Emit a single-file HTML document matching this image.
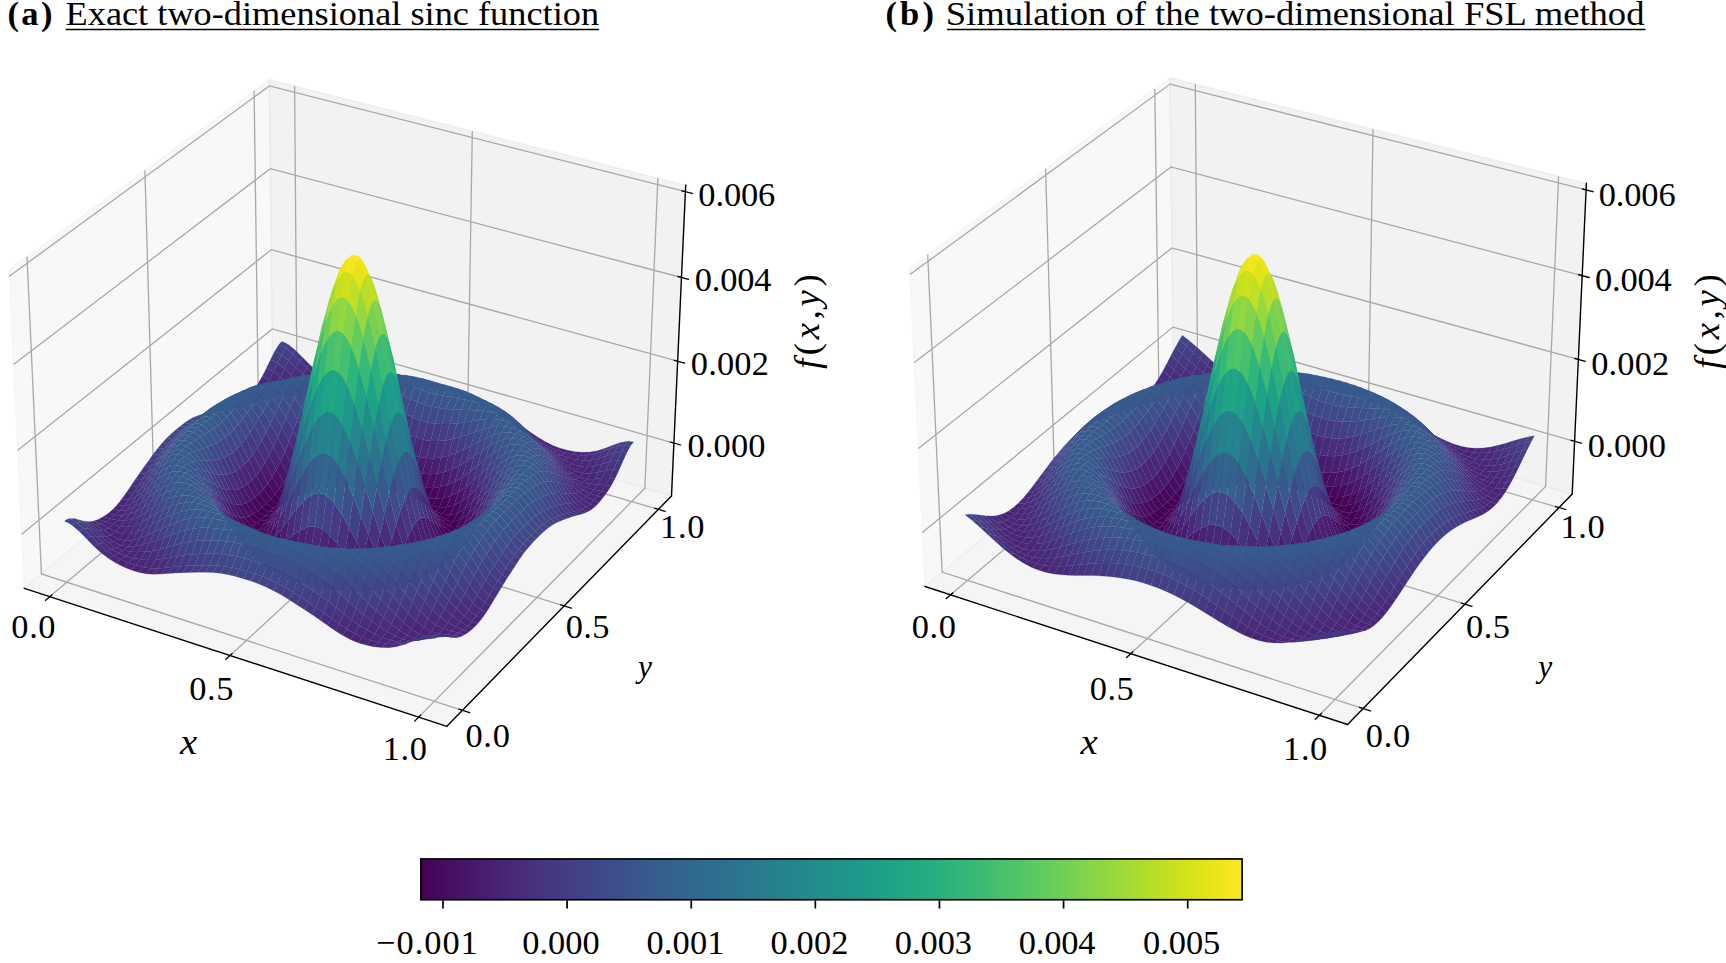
<!DOCTYPE html>
<html><head><meta charset="utf-8"><title>Two-dimensional sinc function</title>
<style>
html,body{margin:0;padding:0;background:#fff;overflow:hidden;}
svg{display:block;}
text{font-family:"Liberation Serif",serif;fill:#000;}
</style></head><body>
<svg width="1726" height="963" viewBox="0 0 1726 963">
<rect width="1726" height="963" fill="#fff"/>
<g id="plotA">
<g id="box">
<polygon points="24.3,588.3 272.8,380 269.3,79.6 9,269.6" fill="#f2f2f2" fill-opacity="0.50" stroke="#f2f2f2" stroke-opacity="0.50" stroke-width="1.4" stroke-linejoin="round"/>
<polygon points="272.8,380 671.5,495.9 685.7,185.2 269.3,79.6" fill="#e6e6e6" fill-opacity="0.50" stroke="#e6e6e6" stroke-opacity="0.50" stroke-width="1.4" stroke-linejoin="round"/>
<polygon points="24.3,588.3 446.9,726.3 671.5,495.9 272.8,380" fill="#ececec" fill-opacity="0.50" stroke="#ececec" stroke-opacity="0.50" stroke-width="1.4" stroke-linejoin="round"/>
<path d="M49.9 596.6L297 387L294.6 86M230.1 655.5L467.3 436.5L472.3 131.1M418.7 717.1L644.9 488.2L657.9 178.1M27 256.5L41.4 573.9L462.5 710.4M144.9 170.4L153.8 479.7L564.2 605.9M254.1 90.8L258.2 392.2L658.3 509.4M673.9 443.1L272.2 328.9L21.7 534.2M677.6 361.2L271.3 249.7L17.7 450.3M681.5 277.5L270.3 168.7L13.5 364.4M685.4 191.7L269.4 85.9L9.3 276.3" fill="none" stroke="#a8a8a8" stroke-width="1.3"/>
</g>
<g fill="currentColor" stroke="currentColor" stroke-width="0.2" stroke-linejoin="round"><path d="M278.8 344.7l3.3 1.3 3.6 2.1 3-3.3-3.7-2.1-3.3-1.3z" color="#414487"/><path d="M285.7 348.1l7 5.7 2.9-3.3-6.9-5.7z" color="#424086"/><path d="M292.7 353.8l7 7 2.9-3.3-7-7z" color="#443b84"/><path d="M299.7 360.8l7 7 2.9-3.2-7-7.1z" color="#453581"/><path d="M274.6 351.4l3.4 1.3 3.6 2.1 4.1-6.7-3.6-2.1-3.3-1.3z" color="#424186"/><path d="M306.7 367.8l6.9 6.1 3-3-7-6.3z" color="#472f7d"/><path d="M313.6 373.9l7 5 2.9-2.9-6.9-5.1z" color="#472c7a"/><path d="M281.6 354.8l7 5.7 4.1-6.7-7-5.7z" color="#433e85"/><path d="M288.6 360.5l7 6.9 4.1-6.6-7-7z" color="#443983"/><path d="M295.6 367.4l7 6.7 4.1-6.3-7-7z" color="#46337f"/><path d="M270.5 359.7l3.3 1.2 3.7 2.1 4.1-8.2-3.6-2.1-3.4-1.3z" color="#433d84"/><path d="M320.6 378.9l7 3.8 2.9-2.7-7-4z" color="#482878"/><path d="M302.6 374.1l7 5.6 4-5.8-6.9-6.1z" color="#472e7c"/><path d="M277.5 363l7 5.7 4.1-8.2-7-5.7z" color="#443983"/><path d="M309.6 379.7l6.9 4.1 4.1-4.9-7-5z" color="#472a7a"/><path d="M327.6 382.7l7 3 2.9-2.4-7-3.3z" color="#482677"/><path d="M284.5 368.7l7 6.6 4.1-7.9-7-6.9z" color="#463480"/><path d="M266.4 368.3l7 3.3 4.1-8.6-3.7-2.1-3.3-1.2z" color="#453781"/><path d="M291.5 375.3l7 6.1 4.1-7.3-7-6.7z" color="#472e7c"/><path d="M316.5 383.8l7 2.8 4.1-3.9-7-3.8z" color="#482878"/><path d="M298.5 381.4l7 4.6 4.1-6.3-7-5.6z" color="#472a7a"/><path d="M273.4 371.6l7 5.3 4.1-8.2-7-5.7z" color="#46337f"/><path d="M334.6 385.7l7 2.5 2.9-2.2-7-2.7z" color="#482576"/><path d="M262.3 376.3l7 3.1 4.1-7.8-7-3.3z" color="#46307e"/><path d="M280.4 376.9l7 6 4.1-7.6-7-6.6z" color="#472f7d"/><path d="M305.5 386l6.9 2.8 4.1-5-6.9-4.1z" color="#482878"/><path d="M287.4 382.9l7 5.2 4.1-6.7-7-6.1z" color="#472a7a"/><path d="M323.5 386.6l7 2.1 4.1-3-7-3z" color="#482677"/><path d="M269.3 379.4l6.9 4.7 4.2-7.2-7-5.3z" color="#472e7c"/><path d="M341.6 388.2l7 1.7 2.9-1.9-7-2z" color="#482576"/><path d="M294.4 388.1l6.9 3.3 4.2-5.4-7-4.6z" color="#482677"/><path d="M258.2 383.2l6.9 2.8 4.2-6.6-7-3.1z" color="#472c7a"/><path d="M276.2 384.1l7 5.1 4.2-6.3-7-6z" color="#472a7a"/><path d="M312.4 388.8l7 1.4 4.1-3.6-7-2.8zM330.5 388.7l7 1.4 4.1-1.9-7-2.5zM283.2 389.2l7 3.9 4.2-5-7-5.2z" color="#482677"/><path d="M301.3 391.4l7 1.3 4.1-3.9-6.9-2.8z" color="#482576"/><path d="M265.1 386l7 3.8 4.1-5.7-6.9-4.7z" color="#472a7a"/><path d="M348.6 389.9l7.1 .9 2.8-1.7-7-1.1z" color="#482576"/><path d="M319.4 390.2l7 .5 4.1-2-7-2.1z" color="#482677"/><path d="M290.2 393.1l7 1.8 4.1-3.5-6.9-3.3z" color="#482475"/><path d="M254 389l6.9 2.4 4.2-5.4-6.9-2.8z" color="#482979"/><path d="M337.5 390.1l7.1 .8 4-1-7-1.7zM272.1 389.8l7 3.7 4.1-4.3-7-5.1zM308.3 392.7l7-.3 4.1-2.2-7-1.4z" color="#482677"/><path d="M355.7 390.8l7 .1 2.9-1.5-7.1-.3z" color="#482878"/><path d="M279.1 393.5l7 2.4 4.1-2.8-7-3.9z" color="#482576"/><path d="M260.9 391.4l7 2.7 4.2-4.3-7-3.8zM326.4 390.7l7-.1 4.1-.5-7-1.4z" color="#482878"/><path d="M297.2 394.9l7-.3 4.1-1.9-7-1.3z" color="#482576"/><path d="M344.6 390.9l7 0 2.1 .3 2-.4-7.1-.9z" color="#482878"/><path d="M249.8 394l7 1.9 4.1-4.5-6.9-2.4zM267.9 394.1l7 2.2 4.2-2.8-7-3.7z" color="#482677"/><path d="M286.1 395.9l6.9 .3 4.2-1.3-7-1.8z" color="#482576"/><path d="M315.3 392.4l7-1.2 4.1-.5-7-.5z" color="#482979"/><path d="M362.7 390.9l7.1-.6 2.8-1.3-7 .4zM333.4 390.6l7.1-.6 4.1 .9-7.1-.8z" color="#472a7a"/><path d="M304.2 394.6l7-1.8 4.1-.4-7 .3z" color="#482878"/><path d="M256.8 395.9l6.9 1.6 4.2-3.4-7-2.7z" color="#482677"/><path d="M351.6 390.9l7-.7 2.2 .7 1.9 0-7-.1-2 .4z" color="#472a7a"/><path d="M274.9 396.3l7 .8 4.2-1.2-7-2.4zM245.6 398.3l6.9 1.5 4.3-3.9-7-1.9z" color="#482576"/><path d="M293 396.2l7-1.7 4.2 .1-7 .3z" color="#482677"/><path d="M322.3 391.2l7-1.6 4.1 1-7 .1z" color="#472c7a"/><path d="M263.7 397.5l7 .6 4.2-1.8-7-2.2z" color="#482677"/><path d="M369.8 390.3l7-.8 2.9-1.2-7.1 .7zM340.5 390l7-1.2 4.1 2.1-7 0z" color="#472d7b"/><path d="M281.9 397.1l6.9-1.3 4.2 .4-6.9-.3z" color="#482878"/><path d="M358.6 390.2l7.1-1.3 2.1 1.2 2 .2-7.1 .6-1.9 0z" color="#472e7c"/><path d="M311.2 392.8l7-2.7 4.1 1.1-7 1.2z" color="#472c7a"/><path d="M252.5 399.8l7 .4 4.2-2.7-6.9-1.6z" color="#482677"/><path d="M270.7 398.1l6.9-1 4.3 0-7-.8z" color="#482878"/><path d="M300 394.5l7-3.1 4.2 1.4-7 1.8z" color="#472c7a"/><path d="M241.4 402l6.9 1.1 4.2-3.3-6.9-1.5z" color="#482576"/><path d="M329.3 389.6l7.1-2 4.1 2.4-7.1 .6z" color="#472f7d"/><path d="M376.8 389.5l7.1-.9 2.9-1-7.1 .7zM347.5 388.8l7.1-1.8 4 3.2-7 .7z" color="#46307e"/><path d="M259.5 400.2l6.9-1 4.3-1.1-7-.6z" color="#482878"/><path d="M288.8 395.8l7-3 4.2 1.7-7 1.7z" color="#472c7a"/><path d="M365.7 388.9l7.1-1.4 2.1 1.5 1.9 .5-7 .8-2-.2zM318.2 390.1l7-2.9 4.1 2.4-7 1.6z" color="#46327e"/><path d="M248.3 403.1l6.9-.7 4.3-2.2-7-.4z" color="#482677"/><path d="M277.6 397.1l7-2.6 4.2 1.3-6.9 1.3z" color="#472c7a"/><path d="M336.4 387.6l7-2.4 4.1 3.6-7 1.2zM383.9 388.6l7.1-.6 1.6-.2 1.3-.8-7.1 .6z" color="#463480"/><path d="M307 391.4l7-3.8 4.2 2.5-7 2.7z" color="#46327e"/><path d="M237.1 404.9l3.3 .6 3.6 .1 4.3-2.5-6.9-1.1z" color="#482576"/><path d="M354.6 387l7.1-2.2 4 4.1-7.1 1.3z" color="#463480"/><path d="M266.4 399.2l7-2.5 4.2 .4-6.9 1z" color="#472c7a"/><path d="M372.8 387.5l7.1-1.2 2.1 1.7 1.9 .6-7.1 .9-1.9-.5z" color="#453581"/><path d="M295.8 392.8l7-4.1 4.2 2.7-7 3.1z" color="#46327e"/><path d="M325.2 387.2l7-3 4.2 3.4-7.1 2z" color="#453781"/><path d="M255.2 402.4l7-2.5 4.2-.7-6.9 1z" color="#472a7a"/><path d="M391 388l7.2-.5 1.5-.2 1.3-.8-7.1 .5-1.3 .8z" color="#453781"/><path d="M244 405.6l7-1.8 4.2-1.4-6.9 .7z" color="#482878"/><path d="M343.4 385.2l7.1-2.7 4.1 4.5-7.1 1.8z" color="#443983"/><path d="M284.6 394.5l7-4 4.2 2.3-7 3z" color="#46327e"/><path d="M361.7 384.8l7.1-2.1 4 4.8-7.1 1.4z" color="#443983"/><path d="M314 387.6l7-3.7 4.2 3.3-7 2.9z" color="#453882"/><path d="M232.8 406.9l3.3 .6 3.7-.3 4.2-1.6-3.6-.1-3.3-.6z" color="#482677"/><path d="M379.9 386.3l7.1-.9 2.1 1.8 1.9 .8-7.1 .6-1.9-.6z" color="#453882"/><path d="M273.4 396.7l6.9-3.8 4.3 1.6-7 2.6z" color="#46327e"/><path d="M332.2 384.2l7.1-3.1 4.1 4.1-7 2.4z" color="#443b84"/><path d="M262.2 399.9l6.9-3.8 4.3 .6-7 2.5z" color="#46307e"/><path d="M398.2 387.5l7.1-.4 1.5-.1 1.4-.8-7.2 .3-1.3 .8z" color="#443a83"/><path d="M302.8 388.7l7-4.3 4.2 3.2-7 3.8z" color="#443983"/><path d="M251 403.8l6.9-3.7 4.3-.2-7 2.5z" color="#472e7c"/><path d="M350.5 382.5l7.1-2.8 4.1 5.1-7.1 2.2zM368.8 382.7l7.1-1.6 4 5.2-7.1 1.2z" color="#433e85"/><path d="M387 385.4l7.2-.6 2.1 1.9 1.9 .8-7.2 .5-1.9-.8z" color="#443b84"/><path d="M239.8 407.2l3.3-.9 3.6-1.8 4.3-.7-7 1.8z" color="#472a7a"/><path d="M291.6 390.5l7-4.7 4.2 2.9-7 4.1z" color="#443983"/><path d="M321 383.9l7.1-3.4 4.1 3.7-7 3z" color="#433e85"/><path d="M228.5 408.1l3.3 .6 3.6-.5 4.4-1-3.7 .3-3.3-.6z" color="#472a7a"/><path d="M405.3 387.1l7.2-.2 1.5-.2 1.3-.8-7.1 .3-1.4 .8z" color="#433d84"/><path d="M280.3 392.9l7-4.8 4.3 2.4-7 4z" color="#453882"/><path d="M339.3 381.1l7.1-3.1 4.1 4.5-7.1 2.7z" color="#424186"/><path d="M269.1 396.1l7-4.9 4.2 1.7-6.9 3.8z" color="#453781"/><path d="M309.8 384.4l7-4 4.2 3.5-7 3.7z" color="#424086"/><path d="M394.2 384.8l7.1-.4 2.1 1.9 1.9 .8-7.1 .4-1.9-.8z" color="#433e85"/><path d="M357.6 379.7l7.1-2.4 4.1 5.4-7.1 2.1z" color="#414287"/><path d="M375.9 381.1l7.1-1 4 5.3-7.1 .9z" color="#424186"/><path d="M257.9 400.1l6.9-5 4.3 1-6.9 3.8z" color="#463480"/><path d="M246.7 404.5l6.9-4.8 4.3 .4-6.9 3.7z" color="#46327e"/><path d="M412.5 386.9l7.2 0 1.5-.2 1.3-.8-7.2 0-1.3 .8z" color="#423f85"/><path d="M298.6 385.8l7-4.6 4.2 3.2-7 4.3z" color="#424086"/><path d="M328.1 380.5l7-3.2 4.2 3.8-7.1 3.1z" color="#404588"/><path d="M235.4 408.2l3.3-1.3 3.7-2.2 4.3-.2-3.6 1.8-3.3 .9z" color="#472e7c"/><path d="M224.1 409l3.4 .5 3.6-.7 4.3-.6-3.6 .5-3.3-.6z" color="#472d7b"/><path d="M287.3 388.1l7-5 4.3 2.7-7 4.7z" color="#424086"/><path d="M401.3 384.4l7.2-.2 2.1 1.9 1.9 .8-7.2 .2-1.9-.8z" color="#424186"/><path d="M346.4 378l7.1-2.8 4.1 4.5-7.1 2.8z" color="#3f4788"/><path d="M383 380.1l7.2-.6 4 5.3-7.2 .6z" color="#414487"/><path d="M364.7 377.3l7.1-1.7 4.1 5.5-7.1 1.6z" color="#3f4788"/><path d="M316.8 380.4l7.1-3.3 4.2 3.4-7.1 3.4z" color="#404688"/><path d="M276.1 391.2l6.9-5.2 4.3 2.1-7 4.8z" color="#423f85"/><path d="M419.7 386.9l7.1 .4 1.6-.2 1.3-.8-7.2-.4-1.3 .8z" color="#424186"/><path d="M264.8 395.1l7-5.5 4.3 1.6-7 4.9z" color="#433d84"/><path d="M335.1 377.3l7.1-2.8 4.2 3.5-7.1 3.1z" color="#3e4989"/><path d="M253.6 399.7l6.9-5.9 4.3 1.3-6.9 5z" color="#443983"/><path d="M305.6 381.2l7-3.8 4.2 3-7 4z" color="#3f4788"/><path d="M408.5 384.2l7.2 .1 2.1 1.8 1.9 .8-7.2 0-1.9-.8z" color="#414487"/><path d="M242.4 404.7l6.9-5.8 4.3 .8-6.9 4.8z" color="#453581"/><path d="M390.2 379.5l7.2-.3 3.9 5.2-7.1 .4z" color="#3f4788"/><path d="M231.1 408.8l3.3-1.6 3.6-2.6 4.4 .1-3.7 2.2-3.3 1.3z" color="#46327e"/><path d="M426.8 387.3l7.2 1 1.6-.2 1.3-.8-7.2-1-1.3 .8z" color="#414287"/><path d="M353.5 375.2l7.1-2.2 4.1 4.3-7.1 2.4z" color="#3e4c8a"/><path d="M371.8 375.6l7.2-.9 4 5.4-7.1 1z" color="#3e4a89"/><path d="M294.3 383.1l7-4.3 4.3 2.4-7 4.6z" color="#3f4889"/><path d="M219.8 409.8l3.3 .4 3.6-.8 4.4-.6-3.6 .7-3.4-.5z" color="#46307e"/><path d="M323.9 377.1l7.1-2.6 4.1 2.8-7 3.2z" color="#3e4c8a"/><path d="M415.7 384.3l7.2 .5 2.1 1.8 1.8 .7-7.1-.4-1.9-.8z" color="#404688"/><path d="M283 386l7.1-4.8 4.2 1.9-7 5z" color="#3f4788"/><path d="M434 388.3l7.3 1.5 1.5-.2 1.3-.8-7.2-1.5-1.3 .8z" color="#414487"/><path d="M397.4 379.2l7.1 0 4 5-7.2 .2z" color="#3e4989"/><path d="M342.2 374.5l7.2-2.1 4.1 2.8-7.1 2.8z" color="#3c4f8a"/><path d="M271.8 389.6l7-5.2 4.2 1.6-6.9 5.2z" color="#404588"/><path d="M312.6 377.4l7.1-2.7 4.2 2.4-7.1 3.3zM379 374.7l7.2-.3 4 5.1-7.2 .6z" color="#3d4e8a"/><path d="M360.6 373l7.2-1.3 4 3.9-7.1 1.7z" color="#3c508b"/><path d="M260.5 393.8l7-5.8 4.3 1.6-7 5.5z" color="#414287"/><path d="M249.3 398.9l6.9-6.5 4.3 1.4-6.9 5.9z" color="#423f85"/><path d="M238 404.6l6.9-6.5 4.4 .8-6.9 5.8z" color="#443a83"/><path d="M422.9 384.8l7.2 1.1 2.1 1.7 1.8 .7-7.2-1-1.8-.7z" color="#3f4788"/><path d="M226.7 409.4l3.3-1.8 3.7-2.9 4.3-.1-3.6 2.6-3.3 1.6z" color="#453581"/><path d="M441.3 389.8l7.2 1.8 1.5-.2 1.3-.8-7.2-1.8-1.3 .8z" color="#414487"/><path d="M331 374.5l7.1-1.8 4.1 1.8-7.1 2.8z" color="#3b518b"/><path d="M301.3 378.8l7.1-3.3 4.2 1.9-7 3.8z" color="#3d4e8a"/><path d="M404.5 379.2l7.2 .2 4 4.9-7.2-.1z" color="#3e4c8a"/><path d="M215.4 410.7l3.3 .4 3.7-.9 4.3-.8-3.6 .8-3.3-.4z" color="#463480"/><path d="M349.4 372.4l7.1-1.3 2 .5 2.1 1.4-7.1 2.2z" color="#3a538b"/><path d="M386.2 374.4l7.1 .2 4.1 4.6-7.2 .3z" color="#3c508b"/><path d="M290.1 381.2l7-3.8 4.2 1.4-7 4.3z" color="#3d4e8a"/><path d="M367.8 371.7l7.1-.2 2 1.1 2.1 2.1-7.2 .9z" color="#3a538b"/><path d="M448.5 391.6l7.2 2.1 1.5-.2 1.3-.8-7.2-2.1-1.3 .8z" color="#404588"/><path d="M430.1 385.9l7.2 1.6 2.1 1.6 1.9 .7-7.3-1.5-1.8-.7z" color="#3f4889"/><path d="M319.7 374.7l7.1-1.6 4.2 1.4-7.1 2.6z" color="#3b528b"/><path d="M278.8 384.4l7-4.3 4.3 1.1-7.1 4.8z" color="#3d4d8a"/><path d="M411.7 379.4l7.3 .8 3.9 4.6-7.2-.5z" color="#3d4e8a"/><path d="M338.1 372.7l7.1-.9 4.2 .6-7.2 2.1z" color="#39558c"/><path d="M267.5 388l7-4.8 4.3 1.2-7 5.2z" color="#3e4a89"/><path d="M308.4 375.5l7.1-1.7 4.2 .9-7.1 2.7z" color="#3a538b"/><path d="M455.7 393.7l7.2 2.4 1.5-.2 1.3-.8-7.2-2.4-1.3 .8z" color="#414487"/><path d="M437.3 387.5l7.3 1.9 2 1.6 1.9 .6-7.2-1.8-1.9-.7zM256.2 392.4l6.9-5.8 4.4 1.4-7 5.8z" color="#3f4889"/><path d="M393.3 374.6l7.2 .4 4 4.2-7.1 0z" color="#3b528b"/><path d="M222.4 410.2l3.3-1.9 3.6-3 4.4-.6-3.7 2.9-3.3 1.8z" color="#443983"/><path d="M233.7 404.7l6.9-6.9 4.3 .3-6.9 6.5z" color="#423f85"/><path d="M244.9 398.1l6.9-6.8 4.4 1.1-6.9 6.5z" color="#414487"/><path d="M356.5 371.1l7.2-.1 1.9-.1 2.2 .8-7.2 1.3-2.1-1.4zM374.9 371.5l7.2 .6 1.9 .6 2.2 1.7-7.2 .3-2.1-2.1z" color="#39568c"/><path d="M211 411.8l3.3 .4 3.7-1 4.4-1-3.7 .9-3.3-.4z" color="#453781"/><path d="M326.8 373.1l7.1-.3 4.2-.1-7.1 1.8z" color="#39568c"/><path d="M297.1 377.4l7.1-2.2 4.2 .3-7.1 3.3z" color="#3a538b"/><path d="M419 380.2l7.2 1.3 3.9 4.4-7.2-1.1z" color="#3c4f8a"/><path d="M462.9 396.1l7.3 2.7 1.5-.2 1.3-.8-7.3-2.7-1.3 .8z" color="#414487"/><path d="M444.6 389.4l7.2 2 2 1.7 1.9 .6-7.2-2.1-1.9-.6z" color="#3f4889"/><path d="M345.2 371.8l7.2 .3 2.1-.9 2-.1-7.1 1.3z" color="#38598c"/><path d="M285.8 380.1l7-2.7 4.3 0-7 3.8z" color="#3a538b"/><path d="M400.5 375l7.3 .7 3.9 3.7-7.2-.2z" color="#3a548c"/><path d="M315.5 373.8l7.1-.1 4.2-.6-7.1 1.6z" color="#38588c"/><path d="M363.7 371l7.1 1 2-.7 2.1 .2-7.1 .2-2.2-.8z" color="#375a8c"/><path d="M382.1 372.1l7.2 1 1.9 .2 2.1 1.3-7.1-.2-2.2-1.7z" color="#38588c"/><path d="M470.2 398.8l7.2 3.3 1.5-.2 1.3-.8-7.2-3.3-1.3 .8z" color="#414287"/><path d="M274.5 383.2l7-3.3 4.3 .2-7 4.3z" color="#3b518b"/><path d="M426.2 381.5l7.2 1.7 3.9 4.3-7.2-1.6z" color="#3c4f8a"/><path d="M333.9 372.8l7.2 .9 4.1-1.9-7.1 .9z" color="#38598c"/><path d="M451.8 391.4l7.3 2.3 2 1.7 1.8 .7-7.2-2.4-1.9-.6z" color="#3f4889"/><path d="M263.1 386.6l7.1-4 4.3 .6-7 4.8z" color="#3c508b"/><path d="M304.2 375.2l7.1-.3 4.2-1.1-7.1 1.7z" color="#38588c"/><path d="M218 411.2l3.3-2 3.6-3.1 4.4-.8-3.6 3-3.3 1.9z" color="#433d84"/><path d="M229.3 405.3l6.9-7.1 4.4-.4-6.9 6.9z" color="#414287"/><path d="M352.4 372.1l7.1 1.6 2.2-1.9 2-.8-7.2 .1-2 .1z" color="#375b8d"/><path d="M477.4 402.1l7.3 3.8 1.4-.1 1.3-.8-7.2-3.9-1.3 .8z" color="#424186"/><path d="M251.8 391.3l7-5.4 4.3 .7-6.9 5.8z" color="#3d4d8a"/><path d="M407.8 375.7l7.2 1.2 4 3.3-7.3-.8z" color="#39558c"/><path d="M240.6 397.8l6.9-6.8 4.3 .3-6.9 6.8z" color="#3f4889"/><path d="M206.6 413l3.4 .3 3.6-1 4.4-1.1-3.7 1-3.3-.4z" color="#443a83"/><path d="M370.8 372l7.2 1.8 2-1.3 2.1-.4-7.2-.6-2.1-.2z" color="#375b8d"/><path d="M322.6 373.7l7.1 1.4 4.2-2.3-7.1 .3z" color="#375a8c"/><path d="M389.3 373.1l7.2 1.3 1.9-.3 2.1 .9-7.2-.4-2.1-1.3z" color="#38598c"/><path d="M433.4 383.2l7.3 2 3.9 4.2-7.3-1.9z" color="#3c508b"/><path d="M292.8 377.4l7.1-.8 4.3-1.4-7.1 2.2z" color="#38588c"/><path d="M459.1 393.7l7.2 2.7 2 1.7 1.9 .7-7.3-2.7-1.8-.7z" color="#3f4889"/><path d="M484.7 405.9l7.2 4.3 1.5-.2 1.3-.8-7.3-4.2-1.3 .8z" color="#423f85"/><path d="M341.1 373.7l7.1 2.3 4.2-3.9-7.2-.3z" color="#375b8d"/><path d="M281.5 379.9l7.1-1.2 4.2-1.3-7 2.7z" color="#39568c"/><path d="M359.5 373.7l7.2 2.6 2.2-2.7 1.9-1.6-7.1-1-2 .8z" color="#375b8d"/><path d="M311.3 374.9l7.1 1.6 4.2-2.8-7.1 .1z" color="#375a8c"/><path d="M415 376.9l7.2 1.7 1.9 1 2.1 1.9-7.2-1.3z" color="#39568c"/><path d="M491.9 410.2l7.3 4.4 1.4-.2 1.3-.8-7.2-4.4-1.3 .8z" color="#433d84"/><path d="M466.3 396.4l7.3 3.2 2 1.8 1.8 .7-7.2-3.3-1.9-.7z" color="#3f4788"/><path d="M378 373.8l7.2 2.3 2.2-2.2 1.9-.8-7.2-1-2.1 .4z" color="#375b8d"/><path d="M440.7 385.2l7.2 2.1 3.9 4.1-7.2-2z" color="#3c508b"/><path d="M329.7 375.1l7.2 3 4.2-4.4-7.2-.9z" color="#375b8d"/><path d="M396.5 374.4l7.2 1.5 1.9-.7 2.2 .5-7.3-.7-2.1-.9z" color="#375a8c"/><path d="M270.2 382.6l7-1.9 4.3-.8-7 3.3z" color="#39558c"/><path d="M348.2 376l7.2 3.5 4.1-5.8-7.1-1.6z" color="#375b8d"/><path d="M299.9 376.6l7.2 1.3 4.2-3-7.1 .3z" color="#375a8c"/><path d="M499.2 414.6l7.2 4.6 1.5-.2 1.3-.8-7.3-4.6-1.3 .8z" color="#443983"/><path d="M213.6 412.3l3.3-2 3.6-3 4.4-1.2-3.6 3.1-3.3 2z" color="#423f85"/><path d="M366.7 376.3l7.2 3.5 4.1-6-7.2-1.8-1.9 1.6z" color="#375b8d"/><path d="M473.6 399.6l7.2 3.7 2 1.9 1.9 .7-7.3-3.8-1.8-.7z" color="#404588"/><path d="M258.8 385.9l3.7-1.9 3.3-1.1 4.4-.3-7.1 4z" color="#3a548c"/><path d="M224.9 406.1l6.9-7 4.4-.9-6.9 7.1z" color="#404688"/><path d="M318.4 376.5l7.2 3.5 4.1-4.9-7.1-1.4z" color="#375b8d"/><path d="M422.2 378.6l7.3 2 1.9 .9 2 1.7-7.2-1.7-2.1-1.9z" color="#39568c"/><path d="M202.2 414.2l3.3 .4 3.7-1 4.4-1.3-3.6 1-3.4-.3z" color="#433d84"/><path d="M336.9 378.1l7.2 4.4 4.1-6.5-7.1-2.3z" color="#375a8c"/><path d="M447.9 387.3l7.3 2.2 3.9 4.2-7.3-2.3z" color="#3c508b"/><path d="M385.2 376.1l7.2 2.5 2.2-2.9 1.9-1.3-7.2-1.3-1.9 .8z" color="#365c8d"/><path d="M236.2 398.2l6.9-6.7 4.4-.5-6.9 6.8z" color="#3d4d8a"/><path d="M247.5 391l7-4.9 4.3-.2-7 5.4z" color="#3b518b"/><path d="M506.4 419.2l7.3 4.7 1.4-.3 1.3-.8-7.2-4.6-1.3 .8z" color="#453781"/><path d="M288.6 378.7l7.1 .9 4.2-3-7.1 .8zM355.4 379.5l7.2 4.6 4.1-7.8-7.2-2.6z" color="#375a8c"/><path d="M403.7 375.9l7.3 1.9 1.9-1.1 2.1 .2-7.2-1.2-2.2-.5z" color="#375b8d"/><path d="M480.8 403.3l7.3 4.2 2 1.9 1.8 .8-7.2-4.3-1.9-.7z" color="#414287"/><path d="M373.9 379.8l7.2 3.8 4.1-7.5-7.2-2.3z" color="#375a8c"/><path d="M307.1 377.9l7.1 3.7 4.2-5.1-7.1-1.6z" color="#375b8d"/><path d="M325.6 380l7.1 5.1 4.2-7-7.2-3z" color="#375a8c"/><path d="M344.1 382.5l7.1 5.6 4.2-8.6-7.2-3.5z" color="#38588c"/><path d="M513.7 423.9l7.2 4.8 2.8-1.1-7.3-4.8-1.3 .8z" color="#46337f"/><path d="M277.2 380.7l3.7 0 3.4 .6 4.3-2.6-7.1 1.2z" color="#38598c"/><path d="M362.6 384.1l7.2 5.2 4.1-9.5-7.2-3.5z" color="#38588c"/><path d="M429.5 380.6l7.2 2.1 1.9 .8 2.1 1.7-7.3-2-2-1.7z" color="#39568c"/><path d="M455.2 389.5l7.3 2.5 3.8 4.4-7.2-2.7z" color="#3c4f8a"/><path d="M488.1 407.5l7.3 4.5 1.9 1.8 1.9 .8-7.3-4.4-1.8-.8z" color="#424086"/><path d="M392.4 378.6l7.2 2.6 2.2-3.4 1.9-1.9-7.2-1.5-1.9 1.3z" color="#365c8d"/><path d="M332.7 385.1l7.2 6.6 4.2-9.2-7.2-4.4z" color="#39568c"/><path d="M351.2 388.1l7.2 6.5 4.2-10.5-7.2-4.6z" color="#3a548c"/><path d="M520.9 428.7l7.3 5.1 2.7-1.3-7.2-4.9z" color="#46307e"/><path d="M295.7 379.6l7.1 3.4 4.3-5.1-7.2-1.3z" color="#375b8d"/><path d="M411 377.8l7.2 2.2 1.9-1.3 2.1-.1-7.2-1.7-2.1-.2z" color="#365c8d"/><path d="M314.2 381.6l7.2 5.6 4.2-7.2-7.2-3.5zM381.1 383.6l7.2 3.9 4.1-8.9-7.2-2.5zM265.8 382.9l3.4-.5 3.7 .3 4.3-2-7 1.9z" color="#38598c"/><path d="M369.8 389.3l7.2 5.4 4.1-11.1-7.2-3.8z" color="#39558c"/><path d="M339.9 391.7l7.2 7.6 4.1-11.2-7.1-5.6z" color="#3b528b"/><path d="M349 461.6l7.2 7.4 4.2-13.9-7.2-8.3z" color="#481769"/><path d="M358.4 394.6l7.2 6.8 4.2-12.1-7.2-5.2z" color="#3b518b"/><path d="M341.8 452.7l7.2 8.9 4.2-14.8-7.2-9.4z" color="#481f70"/><path d="M337.7 466.3l7.2 7.6 4.1-12.3-7.2-8.9z" color="#471164"/><path d="M495.4 412l7.2 4.6 2 1.8 1.8 .8-7.2-4.6-1.9-.8z" color="#433e85"/><path d="M353.2 446.8l7.2 8.3 4.1-15.7-7.2-8.4z" color="#482576"/><path d="M356.2 469l7.2 6 4.1-12.7-7.1-7.2z" color="#471063"/><path d="M360.4 455.1l7.1 7.2 4.2-15.2-7.2-7.7z" color="#481f70"/><path d="M209.2 413.6l3.3-2 3.6-3 4.4-1.3-3.6 3-3.3 2z" color="#414287"/><path d="M346 437.4l7.2 9.4 4.1-15.8-7.2-9.1z" color="#472e7c"/><path d="M330.5 456.8l7.2 9.5 4.1-13.6-7.1-10.3z" color="#481b6d"/><path d="M347.1 399.3l7.2 8.1 4.1-12.8-7.2-6.5z" color="#3d4d8a"/><path d="M344.9 473.9l7.2 5.6 4.1-10.5-7.2-7.4z" color="#460a5d"/><path d="M321.4 387.2l7.2 7.4 4.1-9.5-7.1-5.1z" color="#39558c"/><path d="M528.2 433.8l7.3 5 2.7-1.4-7.3-4.9z" color="#472d7b"/><path d="M334.7 442.4l7.1 10.3 4.2-15.3-7.2-10.2z" color="#482979"/><path d="M462.5 392l7.2 2.9 3.9 4.7-7.3-3.2z" color="#3c4f8a"/><path d="M436.7 382.7l7.3 2.1 1.9 .8 2 1.7-7.2-2.1-2.1-1.7z" color="#39568c"/><path d="M357.3 431l7.2 8.4 4.2-15.9-7.2-7.9z" color="#463480"/><path d="M354.3 407.4l7.2 8.2 4.1-14.2-7.2-6.8z" color="#3f4788"/><path d="M350.1 421.9l7.2 9.1 4.2-15.4-7.2-8.2z" color="#443b84"/><path d="M365.6 401.4l7.2 6.9 4.2-13.6-7.2-5.4z" color="#3d4d8a"/><path d="M220.5 407.3l6.9-7 4.4-1.2-6.9 7z" color="#3f4889"/><path d="M367.5 462.3l7.2 6.1 4.2-14.7-7.2-6.6z" color="#48186a"/><path d="M338.8 427.2l7.2 10.2 4.1-15.5-7.2-9.4z" color="#453781"/><path d="M364.5 439.4l7.2 7.7 4.1-16.3-7.1-7.3z" color="#472d7b"/><path d="M342.9 412.5l7.2 9.4 4.2-14.5-7.2-8.1z" color="#414287"/><path d="M328.6 394.6l7.2 8.6 4.1-11.5-7.2-6.6z" color="#3c508b"/><path d="M284.3 381.3l7.2 3 4.2-4.7-7.1-.9z" color="#375b8d"/><path d="M254.5 386.1l3.7-1.3 3.3-.4 4.3-1.5-3.3 1.1-3.7 1.9z" color="#38588c"/><path d="M326.3 469.2l7.2 7.9 4.2-10.8-7.2-9.5z" color="#470e61"/><path d="M197.8 415.7l3.3 .4 3.7-1 4.4-1.5-3.7 1-3.3-.4z" color="#423f85"/><path d="M361.5 415.6l7.2 7.9 4.1-15.2-7.2-6.9z" color="#424186"/><path d="M335.8 403.2l7.1 9.3 4.2-13.2-7.2-7.6z" color="#3e4a89"/><path d="M399.6 381.2l7.3 2.8 2.1-4 2-2.2-7.3-1.9-1.9 1.9z" color="#365c8d"/><path d="M302.8 383l7.2 5.8 4.2-7.2-7.1-3.7z" color="#38598c"/><path d="M363.4 475l7.2 4.8 4.1-11.4-7.2-6.1z" color="#460a5d"/><path d="M377 394.7l7.2 5.3 4.1-12.5-7.2-3.9z" color="#3b528b"/><path d="M333.5 477.1l7.2 5.3 4.2-8.5-7.2-7.6z" color="#46075a"/><path d="M323.3 445.5l7.2 11.3 4.2-14.4-7.2-11.3z" color="#482576"/><path d="M371.7 447.1l7.2 6.6 4.1-16.3-7.2-6.6z" color="#482878"/><path d="M352.1 479.5l7.2 4 4.1-8.5-7.2-6z" color="#450559"/><path d="M327.5 431.1l7.2 11.3 4.1-15.2-7.2-10.5z" color="#46337f"/><path d="M368.7 423.5l7.1 7.3 4.2-16-7.2-6.5z" color="#443b84"/><path d="M388.3 387.5l7.2 3.9 4.1-10.2-7.2-2.6z" color="#38588c"/><path d="M331.6 416.7l7.2 10.5 4.1-14.7-7.1-9.3z" color="#423f85"/><path d="M502.6 416.6l7.3 4.8 2 1.8 1.8 .7-7.3-4.7-1.8-.8z" color="#443a83"/><path d="M231.8 399.1l7-6.3 4.3-1.3-6.9 6.7z" color="#3c508b"/><path d="M319.1 458.7l7.2 10.5 4.2-12.4-7.2-11.3z" color="#481a6c"/><path d="M418.2 380l7.2 2.4 2-1.5 2.1-.3-7.3-2-2.1 .1z" color="#375b8d"/><path d="M243.1 391.5l3.7-2.5 3.3-1.5 4.4-1.4-7 4.9z" color="#3a548c"/><path d="M372.8 408.3l7.2 6.5 4.2-14.8-7.2-5.3z" color="#3f4889"/><path d="M374.7 468.4l7.2 4.9 4.2-14-7.2-5.6z" color="#471365"/><path d="M535.5 438.8l7.3 4.6 2.7-1.6-7.3-4.4z" color="#482979"/><path d="M324.4 406.3l7.2 10.4 4.2-13.5-7.2-8.6z" color="#3f4889"/><path d="M310 388.8l7.2 8 4.2-9.6-7.2-5.6z" color="#39558c"/><path d="M375.8 430.8l7.2 6.6 4.2-16.5-7.2-6.1z" color="#453781"/><path d="M378.9 453.7l7.2 5.6 4.1-16.1-7.2-5.8z" color="#482374"/><path d="M317.2 396.8l7.2 9.5 4.2-11.7-7.2-7.4z" color="#3c4f8a"/><path d="M340.7 482.4l7.2 2.9 2-2.1 2.2-3.7-7.2-5.6z" color="#440256"/><path d="M469.7 394.9l7.3 3.6 3.8 4.8-7.2-3.7z" color="#3d4d8a"/><path d="M320.3 419.4l7.2 11.7 4.1-14.4-7.2-10.4z" color="#433e85"/><path d="M370.6 479.8l7.2 3.5 4.1-10-7.2-4.9z" color="#46075a"/><path d="M384.2 400l7.2 5.1 4.1-13.7-7.2-3.9z" color="#3c508b"/><path d="M315 470l7.2 8.9 4.1-9.7-7.2-10.5z" color="#470e61"/><path d="M322.2 478.9l3.4 3 3.8 2.5 4.1-7.3-7.2-7.9z" color="#450559"/><path d="M316.1 432.9l7.2 12.6 4.2-14.4-7.2-11.7z" color="#46327e"/><path d="M380 414.8l7.2 6.1 4.2-15.8-7.2-5.1z" color="#404588"/><path d="M272.9 382.7l3.4 .9 3.8 1.6 4.2-3.9-3.4-.6-3.7 0z" color="#375b8d"/><path d="M509.9 421.4l7.3 5.1 1.9 1.7 1.8 .5-7.2-4.8-1.8-.7z" color="#453882"/><path d="M291.5 384.3l7.1 5.6 4.2-6.9-7.1-3.4z" color="#38598c"/><path d="M359.3 483.5l7.2 2.6 1.9-2.3 2.2-4-7.2-4.8z" color="#440154"/><path d="M311.9 446.1l7.2 12.6 4.2-13.2-7.2-12.6z" color="#482576"/><path d="M383 437.4l7.2 5.8 4.2-17-7.2-5.3z" color="#46327e"/><path d="M444 384.8l7.3 2 1.8 .9 2.1 1.8-7.3-2.2-2-1.7z" color="#39568c"/><path d="M381.9 473.3l7.2 3.9 4.2-13.2-7.2-4.7z" color="#471063"/><path d="M406.9 384l7.2 2.9 2.2-4.3 1.9-2.6-7.2-2.2-2 2.2z" color="#375b8d"/><path d="M386.1 459.3l7.2 4.7 4.2-16-7.3-4.8z" color="#481f70"/><path d="M395.5 391.4l7.2 3.7 4.2-11.1-7.3-2.8z" color="#39568c"/><path d="M542.8 443.4l7.3 4 2.7-1.9-7.3-3.7z" color="#482677"/><path d="M313 408l7.3 11.4 4.1-13.1-7.2-9.5z" color="#3f4788"/><path d="M307.8 458.2l7.2 11.8 4.1-11.3-7.2-12.6z" color="#481b6d"/><path d="M387.2 420.9l7.2 5.3 4.2-16.4-7.2-4.7z" color="#424086"/><path d="M329.4 484.4l3.4 1.4 3.7 .7 2.2-1.6 2-2.5-7.2-5.3z" color="#440154"/><path d="M298.6 389.9l7.2 8 4.2-9.1-7.2-5.8z" color="#39558c"/><path d="M425.4 382.4l7.3 2.3 1.9-1.6 2.1-.4-7.2-2.1-2.1 .3z" color="#375b8d"/><path d="M305.8 397.9l7.2 10.1 4.2-11.2-7.2-8z" color="#3c4f8a"/><path d="M517.2 426.5l7.2 5.5 2 1.4 1.8 .4-7.3-5.1-1.8-.5z" color="#463480"/><path d="M391.4 405.1l7.2 4.7 4.1-14.7-7.2-3.7z" color="#3d4e8a"/><path d="M308.9 420.2l7.2 12.7 4.2-13.5-7.3-11.4z" color="#433d84"/><path d="M477 398.5l7.3 4 3.8 5-7.3-4.2z" color="#3e4c8a"/><path d="M390.2 443.2l7.3 4.8 4.1-17.1-7.2-4.7z" color="#472e7c"/><path d="M377.8 483.3l7.2 2.7 4.1-8.8-7.2-3.9z" color="#450457"/><path d="M347.9 485.3l7.2 1.1 2-.6 2.2-2.3-7.2-4-2.2 3.7z" color="#440154"/><path d="M261.5 384.4l3.4 .3 3.7 1.2 4.3-3.2-3.7-.3-3.4 .5z" color="#375b8d"/><path d="M310.8 479.2l3.8 3.9 3.4 2.6 4.2-6.8-7.2-8.9z" color="#46075a"/><path d="M304.7 432.6l7.2 13.5 4.2-13.2-7.2-12.7z" color="#46327e"/><path d="M280.1 385.2l7.1 5.2 4.3-6.1-7.2-3z" color="#375a8c"/><path d="M389.1 477.2l7.3 3.1 4.1-12.7-7.2-3.6z" color="#470d60"/><path d="M393.3 464l7.2 3.6 4.2-15.6-7.2-4z" color="#481c6e"/><path d="M366.5 486.1l7.2 1.5 1.9-1.2 2.2-3.1-7.2-3.5-2.2 4z" color="#440154"/><path d="M303.6 468.8l7.2 10.4 4.2-9.2-7.2-11.8z" color="#471164"/><path d="M394.4 426.2l7.2 4.7 4.2-16.9-7.2-4.2z" color="#433e85"/><path d="M524.4 432l7.3 5.6 2 1.1 1.8 .1-7.3-5-1.8-.4z" color="#46307e"/><path d="M204.8 415.1l3.3-2 3.6-2.9 4.4-1.6-3.6 3-3.3 2z" color="#404588"/><path d="M550.1 447.4l7.3 3 2.8-2.1-7.4-2.8z" color="#482576"/><path d="M402.7 395.1l7.3 3.6 4.1-11.8-7.2-2.9z" color="#39558c"/><path d="M301.6 408.3l7.3 11.9 4.1-12.2-7.2-10.1z" color="#3f4788"/><path d="M451.3 386.8l7.3 2.2 1.8 1 2.1 2-7.3-2.5-2.1-1.8z" color="#39568c"/><path d="M300.5 444.6l7.3 13.6 4.1-12.1-7.2-13.5z" color="#482878"/><path d="M414.1 386.9l7.3 2.8 2.1-4.5 1.9-2.8-7.2-2.4-1.9 2.6z" color="#375b8d"/><path d="M318 485.7l3.4 1.7 3.8 .6 2.2-1.5 2-2.1-3.8-2.5-3.4-3z" color="#440154"/><path d="M397.5 448l7.2 4 4.2-17.2-7.3-3.9z" color="#472c7a"/><path d="M484.3 402.5l7.3 4.2 3.8 5.3-7.3-4.5z" color="#3e4989"/><path d="M398.6 409.8l7.2 4.2 4.2-15.3-7.3-3.6zM216.1 408.6l6.9-6.7 4.4-1.6-6.9 7z" color="#3e4c8a"/><path d="M193.3 417.6l3.4 .4 3.6-1 4.5-1.9-3.7 1-3.3-.4z" color="#424186"/><path d="M287.2 390.4l7.2 7.8 4.2-8.3-7.1-5.6z" color="#39568c"/><path d="M250.1 387.5l3.4-.7 3.7 .3 4.3-2.7-3.3 .4-3.7 1.3z" color="#375a8c"/><path d="M294.4 398.2l7.2 10.1 4.2-10.4-7.2-8z" color="#3c508b"/><path d="M336.5 486.5l3.5 0 3.7-.7 2.2 .4 2-.9-7.2-2.9-2 2.5z" color="#440154"/><path d="M385 486l7.3 2.2 1.9-3 2.2-4.9-7.3-3.1z" color="#440256"/><path d="M432.7 384.7l7.3 2 1.9-1.6 2.1-.3-7.3-2.1-2.1 .4z" color="#375b8d"/><path d="M531.7 437.6l7.3 5.4 2 .6 1.8-.2-7.3-4.6-1.8-.1z" color="#472d7b"/><path d="M297.5 419.4l7.2 13.2 4.2-12.4-7.3-11.9z" color="#423f85"/><path d="M227.4 400.3l7-5.7 4.4-1.8-7 6.3z" color="#3b528b"/><path d="M296.3 455.7l7.3 13.1 4.2-10.6-7.3-13.6z" color="#481d6f"/><path d="M238.8 392.8l3.6-2.1 3.4-1 4.3-2.2-3.3 1.5-3.7 2.5z" color="#39568c"/><path d="M401.6 430.9l7.3 3.9 4.1-17.2-7.2-3.6z" color="#443b84"/><path d="M355.1 486.4l7.2-.4 2 .9 2.2-.8-7.2-2.6-2.2 2.3z" color="#440154"/><path d="M400.5 467.6l7.3 2.9 4.1-15.6-7.2-2.9z" color="#481a6c"/><path d="M268.6 385.9l7.2 4.6 4.3-5.3-3.8-1.6-3.4-.9z" color="#375b8d"/><path d="M396.4 480.3l7.2 2.6 4.2-12.4-7.3-2.9z" color="#460b5e"/><path d="M299.4 477.8l3.8 5 3.4 3.5 4.2-7.1-7.2-10.4z" color="#46085c"/><path d="M491.6 406.7l7.3 4.5 3.7 5.4-7.2-4.6z" color="#404688"/><path d="M373.7 487.6l7.2 1 2-.4 2.1-2.2-7.2-2.7-2.2 3.1z" color="#440154"/><path d="M410 398.7l7.2 3.3 4.2-12.3-7.3-2.8z" color="#3a548c"/><path d="M306.6 486.3l3.8 2.6 3.4 1.1 4.2-4.3-3.4-2.6-3.8-3.9z" color="#440154"/><path d="M293.3 430.6l7.2 14 4.2-12-7.2-13.2z" color="#453581"/><path d="M405.8 414l7.2 3.6 4.2-15.6-7.2-3.3z" color="#3e4989"/><path d="M557.4 450.4l7.4 2.3 2.8-2.4-7.4-2z" color="#482576"/><path d="M404.7 452l7.2 2.9 4.2-17.1-7.2-3z" color="#472a7a"/><path d="M458.6 389l7.3 2.6 3.8 3.3-7.2-2.9-2.1-2z" color="#39568c"/><path d="M421.4 389.7l7.2 2.5 2.2-4.6 1.9-2.9-7.3-2.3-1.9 2.8z" color="#375a8c"/><path d="M290.2 407.6l7.3 11.8 4.1-11.1-7.2-10.1z" color="#3e4989"/><path d="M539 443l7.3 4.8 2 .1 1.8-.5-7.3-4-1.8 .2z" color="#482979"/><path d="M325.2 488l3.4-.3 3.7-1.4 2.2 .6 2-.4-3.7-.7-3.4-1.4-2 2.1z" color="#440154"/><path d="M275.8 390.5l7.2 7.3 4.2-7.4-7.1-5.2z" color="#38588c"/><path d="M292.1 465.8l7.3 12 4.2-9-7.3-13.1z" color="#481668"/><path d="M283 397.8l7.2 9.8 4.2-9.4-7.2-7.8z" color="#3b528b"/><path d="M392.3 488.2l7.2 2.1 2-2.8 2.1-4.6-7.2-2.6-2.2 4.9z" color="#440256"/><path d="M498.9 411.2l7.3 4.9 3.7 5.3-7.3-4.8z" color="#414487"/><path d="M408.9 434.8l7.2 3 4.2-17.3-7.3-2.9z" color="#443a83"/><path d="M289.1 441.6l7.2 14.1 4.2-11.1-7.2-14z" color="#472d7b"/><path d="M440 386.7l7.3 1.8 1.9-1.4 2.1-.3-7.3-2-2.1 .3zM257.2 387.1l3.4 1.1 3.8 2.2 4.2-4.5-3.7-1.2-3.4-.3z" color="#375b8d"/><path d="M407.8 470.5l7.2 2 4.2-15.5-7.3-2.1z" color="#481a6c"/><path d="M403.6 482.9l7.3 2.1 4.1-12.5-7.2-2z" color="#460b5e"/><path d="M343.7 485.8l7.2-2.7 2.2 2.5 2 .8-7.2-1.1-2 .9z" color="#450457"/><path d="M286 417.5l7.3 13.1 4.2-11.2-7.3-11.8z" color="#414287"/><path d="M417.2 402l7.3 2.7 4.1-12.5-7.2-2.5z" color="#3a538b"/><path d="M413 417.6l7.3 2.9 4.2-15.8-7.3-2.7z" color="#3f4889"/><path d="M546.3 447.8l7.3 3.9 3.8-1.3-7.3-3-1.8 .5z" color="#482878"/><path d="M465.9 391.6l7.3 3.1 3.8 3.8-7.3-3.6z" color="#39558c"/><path d="M313.8 490l3.4 0 3.7-1.4 2.3 0 2-.6-3.8-.6-3.4-1.7z" color="#440154"/><path d="M362.3 486l7.3-1.2 1.9 2.3 2.2 .5-7.2-1.5-2.2 .8z" color="#440256"/><path d="M411.9 454.9l7.3 2.1 4.2-17.2-7.3-2z" color="#482979"/><path d="M506.2 416.1l7.3 5.3 3.7 5.1-7.3-5.1z" color="#424086"/><path d="M295.2 485.4l3.7 3.9 3.5 2.3 4.2-5.3-3.4-3.5-3.8-5z" color="#450457"/><path d="M380.9 488.6l7.3 .8 1.9 .4 2.2-1.6-7.3-2.2-2.1 2.2z" color="#440154"/><path d="M428.6 392.2l7.3 2 2.2-4.6 1.9-2.9-7.3-2-1.9 2.9z" color="#375a8c"/><path d="M564.8 452.7l7.4 1.6 2.8-2.6-7.4-1.4z" color="#482576"/><path d="M284.9 451.8l7.2 14 4.2-10.1-7.2-14.1z" color="#482475"/><path d="M200.3 417l3.3-1.9 3.7-2.9 4.4-2-3.6 2.9-3.3 2z" color="#3f4788"/><path d="M287.9 474.7l7.3 10.7 4.2-7.6-7.3-12z" color="#470e61"/><path d="M264.4 390.4l7.2 6.5 4.2-6.4-7.2-4.6z" color="#38598c"/><path d="M245.8 389.7l3.4-.1 3.7 1 4.3-3.5-3.7-.3-3.4 .7z" color="#375b8d"/><path d="M278.8 406.1l7.2 11.4 4.2-9.9-7.2-9.8z" color="#3d4d8a"/><path d="M188.9 420l3.3 .4 3.7-.9 4.4-2.5-3.6 1-3.4-.4z" color="#414287"/><path d="M211.7 410.2l6.9-6.5 4.4-1.8-6.9 6.7z" color="#3d4e8a"/><path d="M281.8 427.6l7.3 14 4.2-11-7.3-13.1z" color="#443a83"/><path d="M399.5 490.3l7.3 2.2 1.9-2.8 2.2-4.7-7.3-2.1-2.1 4.6z" color="#440256"/><path d="M416.1 437.8l7.3 2 4.2-17.3-7.3-2z" color="#443983"/><path d="M513.5 421.4l7.2 6 3.7 4.6-7.2-5.5z" color="#433d84"/><path d="M271.6 396.9l7.2 9.2 4.2-8.3-7.2-7.3z" color="#3a548c"/><path d="M447.3 388.5l7.3 1.8 1.9-1.3 2.1 0-7.3-2.2-2.1 .3z" color="#365c8d"/><path d="M302.4 491.6l3.7 1.1 3.4-.5 4.3-2.2-3.4-1.1-3.8-2.6z" color="#440154"/><path d="M234.4 394.6l3.7-1.7 3.3-.5 4.4-2.7-3.4 1-3.6 2.1z" color="#38598c"/><path d="M223 401.9l3.7-3.1 3.3-2.1 4.4-2.1-7 5.7zM473.2 394.7l7.3 3.5 3.8 4.3-7.3-4z" color="#3a548c"/><path d="M553.6 451.7l7.4 3.3 3.8-2.3-7.4-2.3z" color="#482677"/><path d="M415 472.5l7.3 1.3 4.2-15.8-7.3-1z" color="#481b6d"/><path d="M424.5 404.7l7.3 2 4.1-12.5-7.3-2z" color="#3a538b"/><path d="M332.3 486.3l7.2-5 2.2 3 2 1.5-3.7 .7-3.5 0-2 .4z" color="#450559"/><path d="M410.9 485l7.2 1.7 4.2-12.9-7.3-1.3z" color="#460b5e"/><path d="M420.3 420.5l7.3 2 4.2-15.8-7.3-2z" color="#3f4889"/><path d="M520.7 427.4l7.3 6.4 3.7 3.8-7.3-5.6z" color="#453882"/><path d="M280.7 461.3l7.2 13.4 4.2-8.9-7.2-14z" color="#481c6e"/><path d="M277.6 437.4l7.3 14.4 4.2-10.2-7.3-14z" color="#46337f"/><path d="M419.2 457l7.3 1 4.2-17.1-7.3-1.1z" color="#472a7a"/><path d="M388.2 489.4l7.2 1.5 2 .7 2.1-1.3-7.2-2.1-2.2 1.6z" color="#440256"/><path d="M435.9 394.2l7.3 1.6 2.2-4.5 1.9-2.8-7.3-1.8-1.9 2.9z" color="#375a8c"/><path d="M274.5 414.8l7.3 12.8 4.2-10.1-7.2-11.4z" color="#404688"/><path d="M528 433.8l7.3 6.3 3.7 2.9-7.3-5.4z" color="#463480"/><path d="M252.9 390.6l3.4 2 3.8 3.1 4.3-5.3-3.8-2.2-3.4-1.1z" color="#375b8d"/><path d="M572.2 454.3l7.5 .9 2.7-2.9-7.4-.6z" color="#482677"/><path d="M283.7 482.5l3.8 5.3 3.4 3.8 4.3-6.2-7.3-10.7z" color="#46085c"/><path d="M369.6 484.8l7.2-1.4 2 3.5 2.1 1.7-7.2-1-2.2-.5z" color="#450559"/><path d="M350.9 483.1l7.3-4.1 2.1 4.5 2 2.5-7.2 .4-2-.8z" color="#46085c"/><path d="M480.5 398.2l7.3 3.8 3.8 4.7-7.3-4.2z" color="#3b528b"/><path d="M290.9 491.6l3.8 2.8 3.4 1.1 4.3-3.9-3.5-2.3-3.7-3.9z" color="#440154"/><path d="M406.8 492.5l7.2 2.3 2-3.2 2.1-4.9-7.2-1.7-2.2 4.7z" color="#440256"/><path d="M423.4 439.8l7.3 1.1 4.2-17.2-7.3-1.2z" color="#443a83"/><path d="M320.9 488.6l3.4-2.4 3.8-3.7 4.2 3.8-3.7 1.4-3.4 .3-2 .6z" color="#46075a"/><path d="M454.6 390.3l7.3 2 1.9-1 2.1 .3-7.3-2.6-2.1 0z" color="#375b8d"/><path d="M267.3 404l7.2 10.8 4.3-8.7-7.2-9.2z" color="#3c508b"/><path d="M260.1 395.7l7.2 8.3 4.3-7.1-7.2-6.5z" color="#39568c"/><path d="M561 455l7.4 2.6 3.8-3.3-7.4-1.6z" color="#482677"/><path d="M535.3 440.1l7.3 5.9 3.7 1.8-7.3-4.8z" color="#472f7d"/><path d="M276.4 469.7l7.3 12.8 4.2-7.8-7.2-13.4z" color="#481668"/><path d="M273.4 446.7l7.3 14.6 4.2-9.5-7.3-14.4z" color="#472c7a"/><path d="M431.8 406.7l7.3 1.3 4.1-12.2-7.3-1.6z" color="#3a538b"/><path d="M427.6 422.5l7.3 1.2 4.2-15.7-7.3-1.3z" color="#3f4889"/><path d="M270.3 423.6l7.3 13.8 4.2-9.8-7.3-12.8z" color="#424086"/><path d="M418.1 486.7l7.3 1 4.2-13.5-7.3-.4z" color="#470d60"/><path d="M422.3 473.8l7.3 .4 4.2-16-7.3-.2z" color="#481c6e"/><path d="M309.5 492.2l3.4-1.8 3.8-3.5 4.2 1.7-3.7 1.4-3.4 0z" color="#450457"/><path d="M487.8 402l7.3 4.1 3.8 5.1-7.3-4.5z" color="#3c508b"/><path d="M241.4 392.4l3.4 .6 3.8 1.8 4.3-4.2-3.7-1-3.4 .1z" color="#375b8d"/><path d="M195.9 419.5l3.3-1.9 3.6-2.8 4.5-2.6-3.7 2.9-3.3 1.9z" color="#3f4889"/><path d="M395.4 490.9l7.3 2.3 1.9 .6 2.2-1.3-7.3-2.2-2.1 1.3z" color="#440256"/><path d="M184.5 423l3.3 .4 3.7-.9 4.4-3-3.7 .9-3.3-.4z" color="#414487"/><path d="M443.2 395.8l7.3 1.3 2.2-4.3 1.9-2.5-7.3-1.8-1.9 2.8z" color="#375b8d"/><path d="M542.6 446l7.3 5.3 3.7 .4-7.3-3.9zM426.5 458l7.3 .2 4.2-17.2-7.3-.1z" color="#472c7a"/><path d="M207.3 412.2l6.9-6.2 4.4-2.3-6.9 6.5z" color="#3c4f8a"/><path d="M298.1 495.5l3.8-.5 3.4-2.1 4.2-.7-3.4 .5-3.7-1.1z" color="#440154"/><path d="M461.9 392.3l7.3 2.4 1.9-.6 2.1 .6-7.3-3.1-2.1-.3z" color="#375b8d"/><path d="M414 494.8l7.3 2.1 4.1-9.2-7.3-1-2.1 4.9z" color="#450457"/><path d="M579.7 455.2l7.5 0 2.7-3.1-7.5 .2z" color="#482979"/><path d="M230 396.7l3.7-1.2 3.4 0 4.3-3.1-3.3 .5-3.7 1.7z" color="#375a8c"/><path d="M279.4 489l3.8 4.6 3.5 3 4.2-5-3.4-3.8-3.8-5.3z" color="#450559"/><path d="M263 411.4l7.3 12.2 4.2-8.8-7.2-10.8z" color="#3e4c8a"/><path d="M218.6 403.7l3.7-2.8 3.3-1.8 4.4-2.4-3.3 2.1-3.7 3.1z" color="#39558c"/><path d="M495.1 406.1l7.3 4.5 3.8 5.5-7.3-4.9z" color="#3d4e8a"/><path d="M376.8 483.4l7.3-.8 1.9 4.3 2.2 2.5-7.3-.8-2.1-1.7z" color="#460a5d"/><path d="M269.1 455.1l7.3 14.6 4.3-8.4-7.3-14.6z" color="#482576"/><path d="M568.4 457.6l7.4 2 3.9-4.4-7.5-.9z" color="#482677"/><path d="M339.5 481.3l7.2-7.2 4.2 9-7.2 2.7-2-1.5z" color="#470e61"/><path d="M430.7 440.9l7.3 .1 4.2-16.9-7.3-.4z" color="#443b84"/><path d="M266.1 432.1l7.3 14.6 4.2-9.3-7.3-13.8z" color="#443a83"/><path d="M248.6 394.8l3.4 2.6 3.8 4 4.3-5.7-3.8-3.1-3.4-2z" color="#375a8c"/><path d="M549.9 451.3l7.3 4.7 3.8-1-7.4-3.3z" color="#482979"/><path d="M272.2 477.1l7.2 11.9 4.3-6.5-7.3-12.8z" color="#471164"/><path d="M255.8 401.4l7.2 10 4.3-7.4-7.2-8.3zM439.1 408l7.3 .9 4.1-11.8-7.3-1.3z" color="#3a548c"/><path d="M286.7 496.6l3.7 1.7 3.4 0 4.3-2.8-3.4-1.1-3.8-2.8z" color="#440154"/><path d="M434.9 423.7l7.3 .4 4.2-15.2-7.3-.9z" color="#3e4989"/><path d="M402.7 493.2l7.3 3.1 1.9 .2 2.1-1.7-7.2-2.3-2.2 1.3z" color="#440154"/><path d="M358.2 479l7.2-4.6 2.2 6.4 2 4-7.3 1.2-2-2.5z" color="#471063"/><path d="M502.4 410.6l7.3 5.3 3.8 5.5-7.3-5.3z" color="#3e4a89"/><path d="M450.5 397.1l7.4 1.3 2.1-3.9 1.9-2.2-7.3-2-1.9 2.5z" color="#375b8d"/><path d="M425.4 487.7l7.4 .2 4.1-14.2-7.3 .5z" color="#471063"/><path d="M469.2 394.7l7.4 2.7 1.8-.2 2.1 1-7.3-3.5-2.1-.6z" color="#375a8c"/><path d="M429.6 474.2l7.3-.5 4.2-16.3-7.3 .8z" color="#481f70"/><path d="M509.7 415.9l7.3 6.1 3.7 5.4-7.2-6z" color="#404688"/><path d="M557.2 456l7.4 4.2 3.8-2.6-7.4-2.6z" color="#482878"/><path d="M258.8 418.6l7.3 13.5 4.2-8.5-7.3-12.2z" color="#3f4788"/><path d="M421.3 496.9l7.3 1.4 4.2-10.4-7.4-.2z" color="#450457"/><path d="M433.8 458.2l7.3-.8 4.2-17-7.3 .6z" color="#472f7d"/><path d="M261.8 440.1l7.3 15 4.3-8.4-7.3-14.6z" color="#463480"/><path d="M264.9 462.7l7.3 14.4 4.2-7.4-7.3-14.6z" color="#482071"/><path d="M237.1 395.5l3.4 1.1 3.7 2.5 4.4-4.3-3.8-1.8-3.4-.6z" color="#365c8d"/><path d="M328.1 482.5l7.2-9.7 4.2 8.5-7.2 5z" color="#471164"/><path d="M575.8 459.6l7.5 1 3.9-5.4-7.5 0z" color="#482878"/><path d="M517 422l7.3 6.8 3.7 5-7.3-6.4z" color="#424186"/><path d="M384.1 482.6l7.3 .6 1.9 4.7 2.1 3-7.2-1.5-2.2-2.5z" color="#460b5e"/><path d="M191.5 422.5l6.9-4.6 4.4-3.1-3.6 2.8-3.3 1.9z" color="#3e4989"/><path d="M410 496.3l7.2 3.5 2-.5 2.1-2.4-7.3-2.1-2.1 1.7z" color="#440154"/><path d="M180 426.4l3.4 .4 3.6-.9 4.5-3.4-3.7 .9-3.3-.4z" color="#404588"/><path d="M587.2 455.2l7.6-1.1 2.7-3.3-7.6 1.3z" color="#472c7a"/><path d="M275.2 494.5l3.8 4 3.4 2.3 4.3-4.2-3.5-3-3.8-4.6z" color="#440256"/><path d="M438 441l7.3-.6 4.3-16.5-7.4 .2z" color="#433e85"/><path d="M446.4 408.9l7.3 .5 4.2-11-7.4-1.3z" color="#39558c"/><path d="M476.6 397.4l7.3 2.9 1.9 .3 2 1.4-7.3-3.8-2.1-1z" color="#38598c"/><path d="M251.5 407.2l7.3 11.4 4.2-7.2-7.2-10z" color="#3b518b"/><path d="M524.3 428.8l7.3 7.1 3.7 4.2-7.3-6.3z" color="#433d84"/><path d="M267.9 483.5l7.3 11 4.2-5.5-7.2-11.9z" color="#470d60"/><path d="M244.2 399.1l3.5 3.4 3.8 4.7 4.3-5.8-3.8-4-3.4-2.6z" color="#38598c"/><path d="M457.9 398.4l7.3 1.4 2.1-3.3 1.9-1.8-7.3-2.4-1.9 2.2z" color="#365c8d"/><path d="M202.8 414.8l7-6 4.4-2.8-6.9 6.2z" color="#3c508b"/><path d="M316.7 486.9l3.4-4.5 3.7-6.2 4.3 6.3-3.8 3.7-3.4 2.4z" color="#471063"/><path d="M442.2 424.1l7.4-.2 4.1-14.5-7.3-.5z" color="#3e4c8a"/><path d="M305.3 492.9l3.4-3.6 3.7-5.6 4.3 3.2-3.8 3.5-3.4 1.8z" color="#460a5d"/><path d="M225.6 399.1l3.7-.8 3.4 .4 4.4-3.2-3.4 0-3.7 1.2z" color="#375b8d"/><path d="M564.6 460.2l7.4 3.5 3.8-4.1-7.4-2z" color="#482677"/><path d="M293.8 498.3l3.8-2 3.4-3.6 4.3 .2-3.4 2.1-3.8 .5z" color="#450457"/><path d="M531.6 435.9l7.3 6.9 3.7 3.2-7.3-5.9z" color="#453882"/><path d="M214.2 406l3.7-2.6 3.3-1.5 4.4-2.8-3.3 1.8-3.7 2.8z" color="#38588c"/><path d="M254.5 425.6l7.3 14.5 4.3-8-7.3-13.5z" color="#414287"/><path d="M432.8 487.9l7.3-.9 4.2-14.9-7.4 1.6z" color="#481467"/><path d="M282.4 500.8l3.7 .7 3.4-1.1 4.3-2.1-3.4 0-3.7-1.7z" color="#440154"/><path d="M257.5 447.4l7.4 15.3 4.2-7.6-7.3-15z" color="#472f7d"/><path d="M538.9 442.8l7.3 6.5 3.7 2-7.3-5.3z" color="#46337f"/><path d="M436.9 473.7l7.4-1.6 4.2-16.4-7.4 1.7z" color="#482374"/><path d="M417.2 499.8l7.3 3.3 2-1.5 2.1-3.3-7.3-1.4-2.1 2.4z" color="#440154"/><path d="M483.9 400.3l7.4 3.3 1.8 .7 2 1.8-7.3-4.1-2-1.4z" color="#38588c"/><path d="M365.4 474.4l7.3-4.2 4.1 13.2-7.2 1.4-2-4z" color="#481769"/><path d="M260.6 469.4l7.3 14.1 4.3-6.4-7.3-14.4z" color="#481b6d"/><path d="M428.6 498.3l7.4 .5 4.1-11.8-7.3 .9z" color="#46075a"/><path d="M346.7 474.1l7.3-8.4 4.2 13.3-7.3 4.1z" color="#481a6c"/><path d="M391.4 483.2l7.3 2.4 1.9 4.7 2.1 2.9-7.3-2.3-2.1-3z" color="#470d60"/><path d="M441.1 457.4l7.4-1.7 4.2-16.6-7.4 1.3z" color="#46337f"/><path d="M583.3 460.6l7.6-.3 3.9-6.2-7.6 1.1z" color="#472a7a"/><path d="M546.2 449.3l7.3 6.2 3.7 .5-7.3-4.7z" color="#472e7c"/><path d="M465.2 399.8l7.4 1.6 2.1-2.7 1.9-1.3-7.4-2.7-1.9 1.8z" color="#365c8d"/><path d="M453.7 409.4l7.4 .4 4.1-10-7.3-1.4z" color="#39568c"/><path d="M572 463.7l7.4 2.6 3.9-5.7-7.5-1z" color="#482677"/><path d="M247.2 413l7.3 12.6 4.3-7-7.3-11.4z" color="#3d4e8a"/><path d="M232.7 398.7l3.4 1.7 3.8 3.2 4.3-4.5-3.7-2.5-3.4-1.1z" color="#375b8d"/><path d="M445.3 440.4l7.4-1.3 4.2-15.7-7.3 .5z" color="#424186"/><path d="M594.8 454.1l7.6-2.3 2.7-3.5-7.6 2.5z" color="#46307e"/><path d="M491.3 403.6l7.3 3.8 3.8 3.2-7.3-4.5-2-1.8z" color="#39558c"/><path d="M263.6 488.9l3.8 5.9 3.5 4.4 4.3-4.7-7.3-11z" color="#460a5d"/><path d="M449.6 423.9l7.3-.5 4.2-13.6-7.4-.4z" color="#3d4e8a"/><path d="M270.9 499.2l3.8 3.5 3.4 1.7 4.3-3.6-3.4-2.3-3.8-4z" color="#440256"/><path d="M175.6 430l3.3 .4 3.7-.9 4.4-3.6-3.6 .9-3.4-.4z" color="#404588"/><path d="M187 425.9l7-4.6 4.4-3.4-6.9 4.6z" color="#3e4989"/><path d="M553.5 455.5l7.3 5.8 3.8-1.1-7.4-4.2z" color="#472a7a"/><path d="M239.9 403.6l7.3 9.4 4.3-5.8-3.8-4.7-3.5-3.4z" color="#39568c"/><path d="M250.2 432.2l7.3 15.2 4.3-7.3-7.3-14.5z" color="#433e85"/><path d="M398.7 485.6l7.2 4.2 2 4.1 2.1 2.4-7.3-3.1-2.1-2.9z" color="#460b5e"/><path d="M424.5 503.1l7.4 2.6 1.9-2.5 2.2-4.4-7.4-.5-2.1 3.3z" color="#440154"/><path d="M253.2 453.9l7.4 15.5 4.3-6.7-7.4-15.3z" color="#472c7a"/><path d="M198.4 417.9l7-5.7 4.4-3.4-7 6z" color="#3b518b"/><path d="M498.6 407.4l7.3 4.6 3.8 3.9-7.3-5.3z" color="#3a538b"/><path d="M221.2 401.9l3.7-.5 3.4 .9 4.4-3.6-3.4-.4-3.7 .8zM472.6 401.4l7.3 1.8 2.1-2.1 1.9-.8-7.3-2.9-1.9 1.3z" color="#365c8d"/><path d="M256.3 475.2l7.3 13.7 4.3-5.4-7.3-14.1z" color="#48186a"/><path d="M560.8 461.3l7.4 5.3 3.8-2.9-7.4-3.5z" color="#482878"/><path d="M440.1 487l7.4-2 4.2-15.5-7.4 2.6z" color="#481a6c"/><path d="M209.8 408.8l3.7-2.4 3.3-1.3 4.4-3.2-3.3 1.5-3.7 2.6z" color="#38588c"/><path d="M436 498.8l7.3-.7 4.2-13.1-7.4 2z" color="#460b5e"/><path d="M461.1 409.8l7.4 .3 4.1-8.7-7.4-1.6z" color="#38598c"/><path d="M335.3 472.8l7.2-12.2 4.2 13.5-7.2 7.2z" color="#482071"/><path d="M405.9 489.8l7.3 5.3 1.9 3.2 2.1 1.5-7.2-3.5-2.1-2.4z" color="#46085c"/><path d="M444.3 472.1l7.4-2.6 4.2-16.4-7.4 2.6z" color="#482979"/><path d="M579.4 466.3l7.5 .9 4-6.9-7.6 .3z" color="#482878"/><path d="M289.5 500.4l3.8-3.3 3.4-4.9 4.3 .5-3.4 3.6-3.8 2z" color="#46085c"/><path d="M372.7 470.2l7.3-2.9 4.1 15.3-7.3 .8z" color="#481c6e"/><path d="M278.1 504.4l3.7-.1 3.4-1.9 4.3-2-3.4 1.1-3.7-.7z" color="#440154"/><path d="M505.9 412l7.4 5.7 3.7 4.3-7.3-6.1z" color="#3c508b"/><path d="M242.8 418.6l7.4 13.6 4.3-6.6-7.3-12.6z" color="#3e4c8a"/><path d="M590.9 460.3l7.6-1.8 3.9-6.7-7.6 2.3z" color="#472f7d"/><path d="M448.5 455.7l7.4-2.6 4.2-16-7.4 2z" color="#453882"/><path d="M513.3 417.7l7.3 6.6 3.7 4.5-7.3-6.8z" color="#3e4a89"/><path d="M456.9 423.4l7.4-.9 4.2-12.4-7.4-.3z" color="#3c508b"/><path d="M301 492.7l3.4-5.3 3.7-7.7 4.3 4-3.7 5.6-3.4 3.6z" color="#471365"/><path d="M568.2 466.6l7.4 4.2 3.8-4.5-7.4-2.6z" color="#482576"/><path d="M452.7 439.1l7.4-2 4.2-14.6-7.4 .9z" color="#404588"/><path d="M245.9 438.3l7.3 15.6 4.3-6.5-7.3-15.2z" color="#443a83"/><path d="M431.9 505.7l7.3 1.5 4.1-9.1-7.3 .7-2.2 4.4z" color="#440256"/><path d="M228.3 402.3l3.4 2.1 3.8 3.7 4.4-4.5-3.8-3.2-3.4-1.7z" color="#375b8d"/><path d="M413.2 495.1l7.3 5.8 1.9 2 2.1 .2-7.3-3.3-2.1-1.5z" color="#450559"/><path d="M479.9 403.2l7.4 1.9 1.9-1.3 2.1-.2-7.4-3.3-1.9 .8z" color="#375b8d"/><path d="M259.3 493.5l3.8 5.8 3.5 4.1 4.3-4.2-3.5-4.4-3.8-5.9z" color="#460a5d"/><path d="M520.6 424.3l7.3 7.2 3.7 4.4-7.3-7.1z" color="#404688"/><path d="M235.5 408.1l7.3 10.5 4.4-5.6-7.3-9.4z" color="#39558c"/><path d="M248.9 459.7l7.4 15.5 4.3-5.8-7.4-15.5z" color="#482878"/><path d="M323.8 476.2l7.2-14.7 4.3 11.3-7.2 9.7z" color="#482071"/><path d="M266.6 503.4l3.7 3.2 3.5 1.3 4.3-3.5-3.4-1.7-3.8-3.5z" color="#440154"/><path d="M354 465.7l7.3-8.6 4.1 17.3-7.2 4.6z" color="#482475"/><path d="M602.4 451.8l7.7-3.1 2.7-3.5-7.7 3.1z" color="#453781"/><path d="M312.4 483.7l7.1-15.3 4.3 7.8-3.7 6.2-3.4 4.5z" color="#481b6d"/><path d="M527.9 431.5l7.3 7.4 3.7 3.9-7.3-6.9z" color="#424086"/><path d="M171.1 433.9l3.4 .4 3.6-.9 4.5-3.9-3.7 .9-3.3-.4z" color="#404588"/><path d="M182.6 429.5l6.9-4.5 4.5-3.7-7 4.6z" color="#3e4989"/><path d="M535.2 438.9l7.3 7.3 3.7 3.1-7.3-6.5z" color="#443a83"/><path d="M468.5 410.1l7.4 .3 4-7.2-7.3-1.8z" color="#375a8c"/><path d="M251.9 480l7.4 13.5 4.3-4.6-7.3-13.7z" color="#481769"/><path d="M420.5 500.9l7.3 5.5 1.9 .5 2.2-1.2-7.4-2.6-2.1-.2z" color="#440256"/><path d="M542.5 446.2l7.3 7.3 3.7 2-7.3-6.2z" color="#453581"/><path d="M194 421.3l6.9-5.5 4.5-3.6-7 5.7z" color="#3b518b"/><path d="M575.6 470.8l7.4 2.5 3.9-6.1-7.5-.9z" color="#482576"/><path d="M586.9 467.2l7.6-.9 4-7.8-7.6 1.8z" color="#472c7a"/><path d="M216.8 405.1l3.7-.1 3.4 1.2 4.4-3.9-3.4-.9-3.7 .5z" color="#365c8d"/><path d="M487.3 405.1l7.4 2.5 1.9-.6 2 .4-7.3-3.8-2.1 .2z" color="#375b8d"/><path d="M443.3 498.1l7.4-2 4.2-14.3-7.4 3.2z" color="#471164"/><path d="M380 467.3l3.8-.5 3.5 .1 4.1 16.3-7.3-.6z" color="#482071"/><path d="M238.5 424l7.4 14.3 4.3-6.1-7.4-13.6z" color="#3e4989"/><path d="M447.5 485l7.4-3.2 4.2-15.9-7.4 3.6z" color="#482071"/><path d="M549.8 453.5l7.3 7.2 3.7 .6-7.3-5.8z" color="#46307e"/><path d="M205.4 412.2l3.6-2.3 3.4-1.1 4.4-3.7-3.3 1.3-3.7 2.4z" color="#38598c"/><path d="M451.7 469.5l7.4-3.6 4.3-16.1-7.5 3.3z" color="#472f7d"/><path d="M464.3 422.5l7.4-1.2 4.2-10.9-7.4-.3z" color="#3a538b"/><path d="M241.5 443.9l7.4 15.8 4.3-5.8-7.3-15.6z" color="#453882"/><path d="M557.1 460.7l7.3 6.8 3.8-.9-7.4-5.3z" color="#472c7a"/><path d="M273.8 507.9l3.7-.5 3.4-2.3 4.3-2.7-3.4 1.9-3.7 .1z" color="#440256"/><path d="M439.2 507.2l7.4 0 4.1-11.1-7.4 2z" color="#450559"/><path d="M598.5 458.5l7.6-2.8 4-7-7.7 3.1z" color="#463480"/><path d="M455.9 453.1l7.5-3.3 4.2-15.1-7.5 2.4z" color="#433d84"/><path d="M427.8 506.4l7.3 4.5 2-1 2.1-2.7-7.3-1.5-2.2 1.2z" color="#440154"/><path d="M460.1 437.1l7.5-2.4 4.1-13.4-7.4 1.2z" color="#3e4989"/><path d="M231.2 412.8l7.3 11.2 4.3-5.4-7.3-10.5z" color="#3a538b"/><path d="M244.6 464.6l7.3 15.4 4.4-4.8-7.4-15.5z" color="#482677"/><path d="M223.9 406.2l3.5 2.5 3.8 4.1 4.3-4.7-3.8-3.7-3.4-2.1z" color="#375b8d"/><path d="M285.2 502.4l3.8-4.2 3.3-5.9 4.4-.1-3.4 4.9-3.8 3.3z" color="#470d60"/><path d="M475.9 410.4l7.4 .4 4-5.7-7.4-1.9z" color="#375b8d"/><path d="M494.7 407.6l7.4 3.4 1.8 .1 2 .9-7.3-4.6-2-.4z" color="#38598c"/><path d="M254.9 497.4l3.9 5.7 3.4 4.2 4.4-3.9-3.5-4.1-3.8-5.8z" color="#46085c"/><path d="M564.4 467.5l7.3 5.8 3.9-2.5-7.4-4.2z" color="#482677"/><path d="M262.2 507.3l3.8 3.1 3.4 1.3 4.4-3.8-3.5-1.3-3.7-3.2z" color="#440154"/><path d="M166.6 438.2l3.4 .4 3.7-.9 4.4-4.3-3.6 .9-3.4-.4z" color="#414487"/><path d="M178.1 433.4l7-4.5 4.4-3.9-6.9 4.5z" color="#3e4989"/><path d="M583 473.3l7.6 .3 3.9-7.3-7.6 .9z" color="#482677"/><path d="M610.1 448.7l7.7-2.8 2.7-3.5-7.7 2.8z" color="#433d84"/><path d="M387.3 466.9l3.5 .9 3.8 1.7 4.1 16.1-7.3-2.4z" color="#482173"/><path d="M247.6 483.9l7.3 13.5 4.4-3.9-7.4-13.5z" color="#481668"/><path d="M502.1 411l7.3 4.6 3.9 2.1-7.4-5.7-2-.9z" color="#39568c"/><path d="M342.5 460.6l7.3-13.2 4.2 18.3-7.3 8.4z" color="#472e7c"/><path d="M234.1 429.1l7.4 14.8 4.4-5.6-7.4-14.3z" color="#3f4788"/><path d="M571.7 473.3l7.5 4.1 3.8-4.1-7.4-2.5z" color="#482475"/><path d="M435.1 510.9l7.4 2.9 1.9-2.5 2.2-4.1-7.4 0-2.1 2.7z" color="#440154"/><path d="M189.5 425l7-5.6 4.4-3.6-6.9 5.5z" color="#3b518b"/><path d="M594.5 466.3l7.7-2.2 3.9-8.4-7.6 2.8z" color="#472f7d"/><path d="M296.7 492.2l3.3-6.7 3.8-9.4 4.3 3.6-3.7 7.7-3.4 5.3z" color="#481a6c"/><path d="M361.3 457.1l7.3-7.5 4.1 20.6-7.3 4.2z" color="#472e7c"/><path d="M212.4 408.8l3.7 .1 3.4 1.4 4.4-4.1-3.4-1.2-3.7 .1z" color="#365c8d"/><path d="M471.7 421.3l7.5-1.3 4.1-9.2-7.4-.4z" color="#39558c"/><path d="M509.4 415.6l7.4 5.8 3.8 2.9-7.3-6.6z" color="#3b528b"/><path d="M483.3 410.8l7.4 .9 2.1-2.6 1.9-1.5-7.4-2.5z" color="#375b8d"/><path d="M237.2 448.6l7.4 16 4.3-4.9-7.4-15.8z" color="#453781"/><path d="M200.9 415.8l3.7-2.2 3.4-1 4.4-3.8-3.4 1.1-3.6 2.3z" color="#38598c"/><path d="M450.7 496.1l7.5-3.5 4.2-15.2-7.5 4.4z" color="#481a6c"/><path d="M394.6 469.5l7.4 5.4 3.9 14.9-7.2-4.2z" color="#481f70"/><path d="M454.9 481.8l7.5-4.4 4.2-15.9-7.5 4.4z" color="#482878"/><path d="M516.8 421.4l7.3 6.6 3.8 3.5-7.3-7.2z" color="#3d4e8a"/><path d="M446.6 507.2l7.4-1.7 4.2-12.9-7.5 3.5z" color="#460b5e"/><path d="M269.4 511.7l3.8-.5 3.4-2.4 4.3-3.7-3.4 2.3-3.7 .5z" color="#450457"/><path d="M226.8 417.4l7.3 11.7 4.4-5.1-7.3-11.2z" color="#3b528b"/><path d="M467.6 434.7l7.4-2.7 4.2-12-7.5 1.3z" color="#3d4e8a"/><path d="M459.1 465.9l7.5-4.4 4.2-15.5-7.4 3.8z" color="#453581"/><path d="M524.1 428l7.3 7.1 3.8 3.8-7.3-7.4z" color="#3f4889"/><path d="M606.1 455.7l7.7-2.7 4-7.1-7.7 2.8z" color="#443a83"/><path d="M240.2 468.4l7.4 15.5 4.3-3.9-7.3-15.4z" color="#482576"/><path d="M219.5 410.3l3.5 2.7 3.8 4.4 4.4-4.6-3.8-4.1-3.5-2.5z" color="#375a8c"/><path d="M463.4 449.8l7.4-3.8 4.2-14-7.4 2.7z" color="#414287"/><path d="M402 474.9l7.3 7.6 3.9 12.6-7.3-5.3z" color="#481b6d"/><path d="M531.4 435.1l7.3 7.5 3.8 3.6-7.3-7.3z" color="#414287"/><path d="M579.2 477.4l7.5 1.8 3.9-5.6-7.6-.3z" color="#482475"/><path d="M250.6 500.6l3.8 5.9 3.5 4.3 4.3-3.5-3.4-4.2-3.9-5.7z" color="#46085c"/><path d="M308.1 479.7l7.1-19.4 4.3 8.1-7.1 15.3z" color="#482677"/><path d="M538.7 442.6l7.4 7.8 3.7 3.1-7.3-7.3z" color="#433d84"/><path d="M162.2 443.1l3.3 .4 3.7-1 4.5-4.8-3.7 .9-3.4-.4z" color="#414487"/><path d="M409.3 482.5l7.2 8.8 2.1 6 1.9 3.6-7.3-5.8z" color="#481668"/><path d="M590.6 473.6l7.6-1.3 4-8.2-7.7 2.2z" color="#472a7a"/><path d="M257.9 510.8l3.8 3.4 3.4 1.6 4.3-4.1-3.4-1.3-3.8-3.1z" color="#440154"/><path d="M546.1 450.4l7.2 8.1 3.8 2.2-7.3-7.2z" color="#453781"/><path d="M331 461.5l7.2-17.3 4.3 16.4-7.2 12.2z" color="#46337f"/><path d="M173.7 437.7l3.3-1.9 3.6-2.8 4.5-4.1-7 4.5z" color="#3e4989"/><path d="M416.5 491.3l7.3 9 2.1 4 1.9 2.1-7.3-5.5-1.9-3.6z" color="#470e61"/><path d="M617.8 445.9l7.6-1.2 2.7-3.5-7.6 1.2z" color="#424186"/><path d="M280.9 505.1l3.7-4.8 3.4-6.4 4.3-1.6-3.3 5.9-3.8 4.2z" color="#471063"/><path d="M442.5 513.8l7.4 .9 4.1-9.2-7.4 1.7-2.2 4.1z" color="#440256"/><path d="M490.7 411.7l7.4 1.7 2.1-1.6 1.9-.8-7.4-3.4-1.9 1.5z" color="#375b8d"/><path d="M553.3 458.5l7.4 8 3.7 1-7.3-6.8z" color="#46307e"/><path d="M229.8 433.7l7.4 14.9 4.3-4.7-7.4-14.8z" color="#404688"/><path d="M423.8 500.3l7.3 8.2 2.1 2 1.9 .4-7.3-4.5-1.9-2.1z" color="#46075a"/><path d="M560.7 466.5l7.3 7.2 3.7-.4-7.3-5.8z" color="#472a7a"/><path d="M479.2 420l7.4-.9 4.1-7.4-7.4-.9z" color="#38588c"/><path d="M319.5 468.4l7.2-19.6 4.3 12.7-7.2 14.7z" color="#46307e"/><path d="M243.2 486.9l7.4 13.7 4.3-3.2-7.3-13.5z" color="#481769"/><path d="M185.1 428.9l6.9-5.7 4.5-3.8-7 5.6z" color="#3b518b"/><path d="M208 412.6l3.7 .2 3.4 1.5 4.4-4-3.4-1.4-3.7-.1z" color="#365c8d"/><path d="M602.2 464.1l7.6-2.5 4-8.6-7.7 2.7zM232.8 452.5l7.4 15.9 4.4-3.8-7.4-16z" color="#453581"/><path d="M568 473.7l7.4 5.6 3.8-1.9-7.5-4.1z" color="#482677"/><path d="M431.1 508.5l7.3 6.8 2.1-.2 2-1.3-7.4-2.9-1.9-.4z" color="#440256"/><path d="M196.5 419.4l3.7-2.1 3.3-1 4.5-3.7-3.4 1-3.7 2.2z" color="#38598c"/><path d="M498.1 413.4l7.4 2.9 1.9-.7 2 0-7.3-4.6-1.9 .8z" color="#375a8c"/><path d="M368.6 449.6l3.8-3 3.5-2.1 4.1 22.8-7.3 2.9z" color="#453781"/><path d="M222.4 421.7l7.4 12 4.3-4.6-7.3-11.7z" color="#3b518b"/><path d="M586.7 479.2l7.5-.1 4-6.8-7.6 1.3z" color="#482677"/><path d="M475 432l7.5-2.6 4.1-10.3-7.4 .9z" color="#3b528b"/><path d="M265.1 515.8l3.8-.2 3.4-2 4.3-4.8-3.4 2.4-3.8 .5z" color="#440256"/><path d="M613.8 453l7.7-1.2 3.9-7.1-7.6 1.2z" color="#423f85"/><path d="M215.1 414.3l3.5 2.8 3.8 4.6 4.4-4.3-3.8-4.4-3.5-2.7z" color="#38598c"/><path d="M625.4 444.7l5.4 .7 2.8-3.5-5.5-.7z" color="#414487"/><path d="M458.2 492.6l7.5-5 4.2-15.5-7.5 5.3z" color="#482173"/><path d="M454 505.5l7.5-3.8 4.2-14.1-7.5 5z" color="#481467"/><path d="M235.8 471.3l7.4 15.6 4.4-3-7.4-15.5z" color="#482677"/><path d="M157.7 448.5l3.4 .3 3.6-.9 4.5-5.4-3.7 1-3.3-.4z" color="#424186"/><path d="M462.4 477.4l7.5-5.3 4.2-15.6-7.5 5z" color="#472f7d"/><path d="M292.3 492.3l3.4-7.8 3.7-10.6 4.4 2.2-3.8 9.4-3.3 6.7z" color="#482071"/><path d="M470.8 446l7.5-4 4.2-12.6-7.5 2.6z" color="#3e4989"/><path d="M575.4 479.3l7.4 3.4 3.9-3.5-7.5-1.8z" color="#482475"/><path d="M438.4 515.3l7.4 4.4 2.1-2 2-3-7.4-.9-2 1.3z" color="#440154"/><path d="M466.6 461.5l7.5-5 4.2-14.5-7.5 4z" color="#433e85"/><path d="M505.5 416.3l7.4 4.2 3.9 .9-7.4-5.8-2 0z" color="#38588c"/><path d="M598.2 472.3l7.6-1.9 4-8.8-7.6 2.5z" color="#472f7d"/><path d="M486.6 419.1l7.5-.2 4-5.5-7.4-1.7z" color="#375a8c"/><path d="M169.2 442.5l3.3-1.9 3.7-2.9 4.4-4.7-3.6 2.8-3.3 1.9z" color="#3f4889"/><path d="M246.2 502.9l7.3 11 4.4-3.1-3.5-4.3-3.8-5.9z" color="#460a5d"/><path d="M449.9 514.7l3.9-.5 3.5-1 4.2-11.5-7.5 3.8z" color="#46085c"/><path d="M253.5 513.9l3.8 3.9 3.5 2.1 4.3-4.1-3.4-1.6-3.8-3.4z" color="#440154"/><path d="M349.8 447.4l7.3-12.8 4.2 22.5-7.3 8.6z" color="#433e85"/><path d="M225.3 437.5l7.5 15 4.4-3.9-7.4-14.9z" color="#404588"/><path d="M276.6 508.8l3.7-4.9 3.4-6.5 4.3-3.5-3.4 6.4-3.7 4.8z" color="#471164"/><path d="M512.9 420.5l7.4 5.4 3.8 2.1-7.3-6.6z" color="#3a548c"/><path d="M180.6 433l7-5.9 4.4-3.9-6.9 5.7z" color="#3b518b"/><path d="M609.8 461.6l7.7-1.1 4-8.7-7.7 1.2z" color="#443a83"/><path d="M238.8 488.9l7.4 14 4.4-2.3-7.4-13.7z" color="#48186a"/><path d="M203.5 416.3l3.8 .2 3.4 1.6 4.4-3.8-3.4-1.5-3.7-.2z" color="#365c8d"/><path d="M520.3 425.9l7.4 6.3 3.7 2.9-7.3-7.1z" color="#3c508b"/><path d="M621.5 451.8l5.4 .7 3.9-7.1-5.4-.7z" color="#424186"/><path d="M228.3 455.4l7.5 15.9 4.4-2.9-7.4-15.9z" color="#453781"/><path d="M527.7 432.2l7.3 7 3.7 3.4-7.3-7.5z" color="#3e4a89"/><path d="M192 423.2l3.7-2.2 3.4-1.1 4.4-3.6-3.3 1-3.7 2.1z" color="#38598c"/><path d="M582.8 482.7l7.6 1.4 3.8-5-7.5 .1z" color="#482576"/><path d="M594.2 479.1l7.7-1 3.9-7.7-7.6 1.9z" color="#472c7a"/><path d="M445.8 519.7l3.8 1.2 3.6 .3 4.1-8-3.5 1-3.9 .5-2 3z" color="#440154"/><path d="M482.5 429.4l7.5-2.1 4.1-8.4-7.5 .2z" color="#39558c"/><path d="M218 425.4l7.3 12.1 4.5-3.8-7.4-12z" color="#3b518b"/><path d="M535 439.2l7.3 7.8 3.8 3.4-7.4-7.8z" color="#404588"/><path d="M260.8 519.9l3.7 .5 3.4-1.3 4.4-5.5-3.4 2-3.8 .2z" color="#440256"/><path d="M494.1 418.9l7.5 1 3.9-3.6-7.4-2.9z" color="#375b8d"/><path d="M375.9 444.5l3.9-1.3 3.5-.2 4 23.9-3.5-.1-3.8 .5z" color="#443b84"/><path d="M542.3 447l7.3 8.5 3.7 3-7.2-8.1z" color="#433e85"/><path d="M549.6 455.5l7.3 8.7 3.8 2.3-7.4-8z" color="#453882"/><path d="M153.2 454.3l3.4 .4 3.7-1 4.4-5.8-3.6 .9-3.4-.3z" color="#424086"/><path d="M556.9 464.2l7.3 8.2 3.8 1.3-7.3-7.2z" color="#46307e"/><path d="M210.7 418.1l3.4 2.8 3.9 4.5 4.4-3.7-3.8-4.6-3.5-2.8z" color="#38598c"/><path d="M564.2 472.4l7.4 7 3.8-.1-7.4-5.6z" color="#472a7a"/><path d="M303.8 476.1l7.1-22.9 4.3 7.1-7.1 19.4z" color="#46327e"/><path d="M164.7 447.9l3.4-2 3.6-3 4.5-5.2-3.7 2.9-3.3 1.9z" color="#3f4788"/><path d="M605.8 470.4l7.7-.9 4-9-7.7 1.1z" color="#463480"/><path d="M231.3 473.3l7.5 15.6 4.4-2-7.4-15.6z" color="#482878"/><path d="M478.3 442l7.6-3.8 4.1-10.9-7.5 2.1z" color="#3c4f8a"/><path d="M461.5 501.7l7.5-5.7 4.2-14.7-7.5 6.3z" color="#481d6f"/><path d="M617.5 460.5l5.4 .7 4-8.7-5.4-.7z" color="#433d84"/><path d="M465.7 487.6l7.5-6.3 4.2-15.3-7.5 6.1z" color="#472c7a"/><path d="M249.1 516.2l3.8 4.5 3.5 2.9 4.4-3.7-3.5-2.1-3.8-3.9z" color="#440256"/><path d="M571.6 479.4l7.4 5.1 3.8-1.8-7.4-3.4z" color="#482677"/><path d="M272.3 513.6l3.7-4.4 3.4-6.1 4.3-5.7-3.4 6.5-3.7 4.9z" color="#471063"/><path d="M427.1 500.6l7.3 11.2 2.1 2.4 1.9 1.1-7.3-6.8z" color="#470d60"/><path d="M474.1 456.5l7.6-5.2 4.2-13.1-7.6 3.8z" color="#404588"/><path d="M469.9 472.1l7.5-6.1 4.3-14.7-7.6 5.2z" color="#443983"/><path d="M241.7 504.4l7.4 11.8 4.4-2.3-7.3-11z" color="#470d60"/><path d="M457.3 513.2l7.5-4.3 4.2-12.9-7.5 5.7z" color="#471164"/><path d="M220.9 440.6l7.4 14.8 4.5-2.9-7.5-15z" color="#404588"/><path d="M501.6 419.9l7.4 2.2 3.9-1.6-7.4-4.2z" color="#375a8c"/><path d="M434.4 511.8l7.3 8.8 2.2 0 1.9-.9-7.4-4.4-1.9-1.1z" color="#450457"/><path d="M338.2 444.2l7.3-18.1 4.3 21.3-7.3 13.2z" color="#3f4788"/><path d="M288 493.9l3.4-8.4 3.7-11.3 2-.5 2.3 .2-3.7 10.6-3.4 7.8z" color="#482576"/><path d="M419.9 487.9l7.2 12.7 4 7.9-7.3-8.2z" color="#481769"/><path d="M176.2 437.7l6.9-6.1 4.5-4.5-7 5.9z" color="#3b518b"/><path d="M590.4 484.1l7.5 .3 4-6.3-7.7 1z" color="#482878"/><path d="M383.3 443l3.5 .7 3.8 1.9 4 23.9-3.8-1.7-3.5-.9z" color="#433e85"/><path d="M199.1 419.9l3.7 .1 3.4 1.5 4.5-3.4-3.4-1.6-3.8-.2z" color="#365c8d"/><path d="M490 427.3l7.5-1.2 4.1-6.2-7.5-1z" color="#38598c"/><path d="M601.9 478.1l7.6-.2 4-8.4-7.7 .9z" color="#472f7d"/><path d="M148.8 460.4l3.4 .4 3.6-1 4.5-6.1-3.7 1-3.4-.4z" color="#433d84"/><path d="M412.6 474.9l7.3 13 3.9 12.4-7.3-9z" color="#482173"/><path d="M441.7 520.6l3.9 3.2 3.5 2 4.1-4.6-3.6-.3-3.8-1.2-1.9 .9z" color="#440154"/><path d="M453.2 521.2l3.5-.5 3.9-1.4 4.2-10.4-7.5 4.3z" color="#46075a"/><path d="M187.6 427.1l3.6-2.3 3.4-1.2 4.5-3.7-3.4 1.1-3.7 2.2z" color="#38598c"/><path d="M256.4 523.6l3.8 1.4 3.4-.3 4.3-5.6-3.4 1.3-3.7-.5z" color="#440154"/><path d="M315.2 460.3l7.2-24.1 4.3 12.6-7.2 19.6z" color="#424086"/><path d="M613.5 469.5l5.4 .8 4-9.1-5.4-.7z" color="#453781"/><path d="M234.3 490l7.4 14.4 4.5-1.5-7.4-14z" color="#481b6d"/><path d="M579 484.5l7.5 3.1 3.9-3.5-7.6-1.4z" color="#482576"/><path d="M509 422.1l7.4 3.6 3.9 .2-7.4-5.4z" color="#38598c"/><path d="M213.5 428.7l7.4 11.9 4.4-3.1-7.3-12.1z" color="#3b518b"/><path d="M223.9 457.5l7.4 15.8 4.5-2-7.5-15.9z" color="#453882"/><path d="M405.3 462.6l7.3 12.3 3.9 16.4-7.2-8.8z" color="#472c7a"/><path d="M160.3 453.7l3.3-2 3.6-3 4.5-5.8-3.6 3-3.4 2z" color="#404588"/><path d="M390.6 445.6l3.5 2.8 3.9 4.1 4 22.4-7.4-5.4z" color="#443b84"/><path d="M326.7 448.8l7.2-22.3 4.3 17.7-7.2 17.3z" color="#3f4889"/><path d="M206.2 421.5l3.5 2.7 3.8 4.5 4.5-3.3-3.9-4.5-3.4-2.8z" color="#38598c"/><path d="M357.1 434.6l7.3-11.1 4.2 26.1-7.3 7.5z" color="#3e4c8a"/><path d="M398 452.5l7.3 10.1 4 19.9-7.3-7.6z" color="#453581"/><path d="M516.4 425.7l7.4 4.9 3.9 1.6-7.4-6.3z" color="#39558c"/><path d="M267.9 519.1l3.8-3.6 3.4-5.1 4.3-7.3-3.4 6.1-3.7 4.4z" color="#470d60"/><path d="M485.9 438.2l7.5-3.2 4.1-8.9-7.5 1.2z" color="#3a538b"/><path d="M609.5 477.9l5.4 .9 4-8.5-5.4-.8z" color="#46307e"/><path d="M597.9 484.4l7.6 .6 4-7.1-7.6 .2z" color="#472a7a"/><path d="M523.8 430.6l7.4 6.1 3.8 2.5-7.3-7z" color="#3b518b"/><path d="M449.1 525.8l3.9 1.1 3.5 0 4.1-7.6-3.9 1.4-3.5 .5z" color="#440154"/><path d="M497.5 426.1l7.5 .1 4-4.1-7.4-2.2z" color="#375a8c"/><path d="M226.9 474.4l7.4 15.6 4.5-1.1-7.5-15.6z" color="#472a7a"/><path d="M171.7 442.9l6.9-6.4 4.5-4.9-6.9 6.1z" color="#3c508b"/><path d="M244.7 517.5l3.8 5.3 3.5 3.6 4.4-2.8-3.5-2.9-3.8-4.5z" color="#450457"/><path d="M586.5 487.6l7.6 1.8 3.8-5-7.5-.3z" color="#482677"/><path d="M553.2 461.4l7.3 9 3.7 2-7.3-8.2z" color="#453882"/><path d="M144.3 466.6l3.4 .4 3.7-.9 4.4-6.3-3.6 1-3.4-.4z" color="#443a83"/><path d="M531.2 436.7l7.4 7.3 3.7 3-7.3-7.8z" color="#3d4d8a"/><path d="M560.5 470.4l7.4 8.1 3.7 .9-7.4-7z" color="#46307e"/><path d="M545.9 452.4l7.3 9 3.7 2.8-7.3-8.7z" color="#423f85"/><path d="M216.5 443l7.4 14.5 4.4-2.1-7.4-14.8zM538.6 444l7.3 8.4 3.7 3.1-7.3-8.5z" color="#404688"/><path d="M481.7 451.3l7.5-5 4.2-11.3-7.5 3.2z" color="#3e4c8a"/><path d="M237.3 504.8l7.4 12.7 4.4-1.3-7.4-11.8z" color="#471063"/><path d="M283.7 497.4l3.3-8.4 3.7-11.4 2.1-2.1 2.3-1.3-3.7 11.3-3.4 8.4z" color="#482878"/><path d="M194.6 423.6l3.7-.1 3.5 1.3 4.4-3.3-3.4-1.5-3.7-.1z" color="#365c8d"/><path d="M567.9 478.5l7.3 6.6 3.8-.6-7.4-5.1z" color="#472c7a"/><path d="M469 496l7.6-7.5 4.2-14.5-7.6 7.3z" color="#482878"/><path d="M477.4 466l7.6-6.4 4.2-13.3-7.5 5z" color="#424186"/><path d="M473.2 481.3l7.6-7.3 4.2-14.4-7.6 6.4z" color="#453581"/><path d="M155.8 459.8l3.3-2 3.7-3.1 4.4-6-3.6 3-3.3 2z" color="#414287"/><path d="M464.8 508.9l7.6-6.8 4.2-13.6-7.6 7.5z" color="#481c6e"/><path d="M252 526.4l3.8 2.6 3.5 .8 4.3-5.1-3.4 .3-3.8-1.4z" color="#440154"/><path d="M183.1 431.6l3.7-2.6 3.3-1.5 4.5-3.9-3.4 1.2-3.6 2.3z" color="#38588c"/><path d="M299.4 473.9l7.1-25.6 4.4 4.9-7.1 22.9z" color="#443b84"/><path d="M263.6 524.7l3.8-2.3 3.3-3.9 4.4-8.1-3.4 5.1-3.8 3.6z" color="#46085c"/><path d="M209.1 431.5l7.4 11.5 4.4-2.4-7.4-11.9z" color="#3b528b"/><path d="M460.6 519.3l3.6-2.2 4-3.2 4.2-11.8-7.6 6.8z" color="#471164"/><path d="M605.5 485l5.5 1.1 3.9-7.3-5.4-.9z" color="#472c7a"/><path d="M575.2 485.1l7.5 4.9 3.8-2.4-7.5-3.1z" color="#482878"/><path d="M505 426.2l7.5 1.6 3.9-2.1-7.4-3.6z" color="#375b8d"/><path d="M437.7 517.9l3.9 5.6 3.4 4 2.2-.6 1.9-1.1-3.5-2-3.9-3.2-1.9-.9z" color="#450457"/><path d="M201.8 424.8l3.4 2.5 3.9 4.2 4.4-2.8-3.8-4.5-3.5-2.7z" color="#375a8c"/><path d="M219.4 459l7.5 15.4 4.4-1.1-7.4-15.8z" color="#443a83"/><path d="M430.5 504.4l7.2 13.5 2.1 1.8 1.9 .9-7.3-8.8z" color="#470e61"/><path d="M229.8 490.1l7.5 14.7 4.4-.4-7.4-14.4z" color="#481f70"/><path d="M594.1 489.4l7.5 1.5 3.9-5.9-7.6-.6z" color="#482878"/><path d="M493.4 435l7.6-2.1 4-6.7-7.5-.1z" color="#38588c"/><path d="M139.8 473l3.4 .4 3.7-.9 4.5-6.4-3.7 .9-3.4-.4z" color="#453882"/><path d="M167.2 448.7l7-6.7 4.4-5.5-6.9 6.4z" color="#3d4e8a"/><path d="M445 527.5l3.9 3 3.5 1.6 4.1-5.2-3.5 0-3.9-1.1-1.9 1.1z" color="#440154"/><path d="M456.5 526.9l3.6-1 3.9-2.2 4.2-9.8-4 3.2-3.6 2.2z" color="#46085c"/><path d="M423.2 488.3l7.3 16.1 3.9 7.4-7.3-11.2z" color="#481c6e"/><path d="M582.7 490l7.5 3.4 3.9-4-7.6-1.8z" color="#482677"/><path d="M512.5 427.8l7.4 3.1 3.9-.3-7.4-4.9z" color="#38598c"/><path d="M364.4 423.5l3.9-4.5 3.5-3.1 4.1 28.6-3.5 2.1-3.8 3z" color="#39558c"/><path d="M151.4 466.1l3.3-2 3.6-3.1 4.5-6.3-3.7 3.1-3.3 2z" color="#424086"/><path d="M279.4 503.1l3.3-8 3.7-10.9 4.3-6.6-3.7 11.4-3.3 8.4z" color="#482677"/><path d="M259.3 529.8l3.7-.8 3.4-2.5 4.3-8-3.3 3.9-3.8 2.3z" color="#450559"/><path d="M190.1 427.5l3.8-.3 3.4 1 4.5-3.4-3.5-1.3-3.7 .1z" color="#365c8d"/><path d="M489.2 446.3l7.6-4.2 4.2-9.2-7.6 2.1z" color="#3b528b"/><path d="M345.5 426.1l7.4-17.4 4.2 25.9-7.3 12.8z" color="#38598c"/><path d="M212 445.1l7.4 13.9 4.5-1.5-7.4-14.5z" color="#3f4889"/><path d="M240.2 517.7l7.4 10.5 4.4-1.8-3.5-3.6-3.8-5.3z" color="#46085c"/><path d="M178.6 436.5l3.7-2.8 3.4-1.7 4.4-4.5-3.3 1.5-3.7 2.6z" color="#38588c"/><path d="M222.4 474.8l7.4 15.3 4.5-.1-7.4-15.6z" color="#472e7c"/><path d="M601.6 490.9l5.4 1.3 4-6.1-5.5-1.1z" color="#482979"/><path d="M247.6 528.2l3.8 3.7 3.5 2 4.4-4.1-3.5-.8-3.8-2.6z" color="#440154"/><path d="M519.9 430.9l7.5 4.8 3.8 1-7.4-6.1z" color="#39568c"/><path d="M501 432.9l7.5-.6 4-4.5-7.5-1.6z" color="#375a8c"/><path d="M232.8 504.2l7.4 13.5 4.5-.2-7.4-12.7z" color="#481467"/><path d="M485 459.6l7.7-6.1 4.1-11.4-7.6 4.2z" color="#3e4989"/><path d="M556.8 468.3l7.3 9 3.8 1.2-7.4-8.1z" color="#453781"/><path d="M135.3 479.4l3.4 .5 3.7-.8 4.5-6.6-3.7 .9-3.4-.4z" color="#463480"/><path d="M415.9 470.7l7.3 17.6 3.9 12.3-7.2-12.7z" color="#472c7a"/><path d="M527.4 435.7l7.4 6.4 3.8 1.9-7.4-7.3z" color="#3b528b"/><path d="M310.9 453.2l7.1-28 4.4 11-7.2 24.1z" color="#3c4f8a"/><path d="M590.2 493.4l7.5 2.6 3.9-5.1-7.5-1.5z" color="#482677"/><path d="M549.5 458.9l7.3 9.4 3.7 2.1-7.3-9z" color="#433e85"/><path d="M564.1 477.3l7.4 8 3.7-.2-7.3-6.6z" color="#46307e"/><path d="M452.4 532.1l3.6 .4 3.9-.9 4.1-7.9-3.9 2.2-3.6 1z" color="#440256"/><path d="M204.6 434.3l7.4 10.8 4.5-2.1-7.4-11.5z" color="#3a538b"/><path d="M162.8 454.7l6.9-6.9 4.5-5.8-7 6.7z" color="#3e4c8a"/><path d="M197.3 428.2l3.4 2.2 3.9 3.9 4.5-2.8-3.9-4.2-3.4-2.5z" color="#375a8c"/><path d="M542.1 450l7.4 8.9 3.7 2.5-7.3-9z" color="#404688"/><path d="M534.8 442.1l7.3 7.9 3.8 2.4-7.3-8.4z" color="#3d4d8a"/><path d="M480.8 474l7.7-7.5 4.2-13-7.7 6.1z" color="#424086"/><path d="M476.6 488.5l7.6-8.5 4.3-13.5-7.7 7.5z" color="#463480"/><path d="M571.5 485.3l7.4 6.5 3.8-1.8-7.5-4.9z" color="#472a7a"/><path d="M275.1 510.4l3.3-7.1 3.7-9.7 4.3-9.4-3.7 10.9-3.3 8z" color="#482173"/><path d="M472.4 502.1l7.6-8.7 4.2-13.4-7.6 8.5z" color="#482878"/><path d="M146.9 472.5l3.3-2 3.6-3 4.5-6.5-3.6 3.1-3.3 2zM214.9 460l7.5 14.8 4.5-.4-7.5-15.4z" color="#433e85"/><path d="M295.1 474.2l7-27.1 2.1 .1 2.3 1.1-7.1 25.6-2.3-.2z" color="#414287"/><path d="M468.2 513.9l7.6-8.1 4.2-12.4-7.6 8.7z" color="#481d6f"/><path d="M254.9 533.9l3.8 .8 3.4-.9 4.3-7.3-3.4 2.5-3.7 .8zM441 526.8l3.8 5.2 3.6 3.3 4-3.2-3.5-1.6-3.9-3z" color="#440256"/><path d="M225.3 489.3l7.5 14.9 4.5 .6-7.5-14.7z" color="#482475"/><path d="M433.7 512.8l7.3 14 4 .7-3.4-4-3.9-5.6z" color="#470d60"/><path d="M597.7 496l5.4 1.6 3.9-5.4-5.4-1.3z" color="#482677"/><path d="M578.9 491.8l7.4 4.9 3.9-3.3-7.5-3.4z" color="#482878"/><path d="M174.2 442l3.6-3 3.4-2 4.5-5-3.4 1.7-3.7 2.8z" color="#39568c"/><path d="M508.5 432.3l7.5 1.1 3.9-2.5-7.4-3.1z" color="#375b8d"/><path d="M333.9 426.5l7.3-23 4.3 22.6-7.3 18.1z" color="#355f8d"/><path d="M408.6 453.2l7.3 17.5 4 17.2-7.3-13z" color="#443a83"/><path d="M185.7 432l3.7-.7 3.4 .6 4.5-3.7-3.4-1-3.8 .3zM371.8 415.9l3.9-2.1 3.5-.7 4.1 29.9-3.5 .2-3.9 1.3z" color="#365c8d"/><path d="M496.8 442.1l7.6-2.9 4.1-6.9-7.5 .6z" color="#39568c"/><path d="M322.4 436.2l7.2-26.9 4.3 17.2-7.2 22.3z" color="#365c8d"/><path d="M130.9 486.1l3.3 .5 3.7-.7 4.5-6.8-3.7 .8-3.4-.5z" color="#46327e"/><path d="M464 523.7l7.6-6.9 4.2-11-7.6 8.1z" color="#481467"/><path d="M270.7 518.5l3.4-5.7 3.7-8.1 4.3-11.1-3.7 9.7-3.3 7.1z" color="#481c6e"/><path d="M158.3 461l6.9-7.1 4.5-6.1-6.9 6.9z" color="#3e4989"/><path d="M207.5 446.9l7.4 13.1 4.5-1-7.4-13.9z" color="#3e4a89"/><path d="M448.4 535.3l3.5 1.9 3.9 .5 4.1-6.1-3.9 .9-3.6-.4z" color="#440154"/><path d="M243.1 528.5l3.9 4.8 3.5 3.3 4.4-2.7-3.5-2-3.8-3.7z" color="#440256"/><path d="M586.3 496.7l7.6 3.7 3.8-4.4-7.5-2.6z" color="#482677"/><path d="M235.7 516.6l7.4 11.9 4.5-.3-7.4-10.5z" color="#470d60"/><path d="M426.5 494.3l7.2 18.5 4 5.1-7.2-13.5z" color="#481c6e"/><path d="M142.4 479.1l3.3-1.8 3.7-3 4.4-6.8-3.6 3-3.3 2z" color="#443a83"/><path d="M217.8 474.4l7.5 14.9 4.5 .8-7.4-15.3z" color="#46337f"/><path d="M516 433.4l7.5 3.1 3.9-.8-7.5-4.8z" color="#375a8c"/><path d="M192.8 431.9l3.4 1.8 3.9 3.4 4.5-2.8-3.9-3.9-3.4-2.2z" color="#375b8d"/><path d="M492.7 453.5l7.6-5 4.1-9.3-7.6 2.9z" color="#3b518b"/><path d="M200.1 437.1l7.4 9.8 4.5-1.8-7.4-10.8z" color="#3a548c"/><path d="M401.3 437.2l7.3 16 4 21.7-7.3-12.3z" color="#3f4889"/><path d="M459.9 531.6l3.6-2 4-3.2 4.1-9.6-7.6 6.9z" color="#460b5e"/><path d="M266.4 526.5l3.4-4 3.8-6.2 4.2-11.6-3.7 8.1-3.4 5.7z" color="#481467"/><path d="M250.5 536.6l3.8 2.3 3.4 .8 4.4-5.9-3.4 .9-3.8-.8z" color="#440154"/><path d="M228.2 502.5l7.5 14.1 4.5 1.1-7.4-13.5z" color="#481b6d"/><path d="M379.2 413.1l3.5 .6 3.9 2.2 4 29.7-3.8-1.9-3.5-.7z" color="#355e8d"/><path d="M169.7 447.8l7-5.6 4.5-5.2-3.4 2-3.6 3z" color="#3a548c"/><path d="M523.5 436.5l7.4 5.1 3.9 .5-7.4-6.4z" color="#39568c"/><path d="M593.9 500.4l5.4 1.9 3.8-4.7-5.4-1.6z" color="#482576"/><path d="M560.3 476l7.4 9 3.8 .3-7.4-8z" color="#453581"/><path d="M126.3 492.8l3.4 .5 3.7-.5 4.5-6.9-3.7 .7-3.3-.5z" color="#472e7c"/><path d="M488.5 466.5l7.6-7 4.2-11-7.6 5z" color="#3e4989"/><path d="M553 466.4l7.3 9.6 3.8 1.3-7.3-9z" color="#433d84"/><path d="M567.7 485l7.4 8 3.8-1.2-7.4-6.5z" color="#472e7c"/><path d="M504.4 439.2l7.6-1 4-4.8-7.5-1.1z" color="#375a8c"/><path d="M545.7 457l7.3 9.4 3.8 1.9-7.3-9.4zM290.7 477.6l7.1-27.3 2.1-2.1 2.2-1.1-7 27.1-2.3 1.3z" color="#404588"/><path d="M181.2 437l3.7-1.2 3.4 .2 4.5-4.1-3.4-.6-3.7 .7z" color="#375b8d"/><path d="M530.9 441.6l7.4 7 3.8 1.4-7.3-7.9z" color="#3b528b"/><path d="M394 424.3l7.3 12.9 4 25.4-7.3-10.1z" color="#3a538b"/><path d="M153.8 467.5l6.9-7.2 4.5-6.4-6.9 7.1z" color="#3f4788"/><path d="M538.3 448.6l7.4 8.4 3.8 1.9-7.4-8.9z" color="#3d4d8a"/><path d="M210.4 460.5l7.4 13.9 4.6 .4-7.5-14.8z" color="#424186"/><path d="M262.1 533.8l3.4-2.2 3.8-4.1 4.3-11.2-3.8 6.2-3.4 4z" color="#460b5e"/><path d="M484.2 480l7.7-8.4 4.2-12.1-7.6 7z" color="#424086"/><path d="M575.1 493l7.4 6.5 3.8-2.8-7.4-4.9z" color="#482979"/><path d="M386.6 415.9l3.5 3.4 3.9 5 4 28.2-3.9-4.1-3.5-2.8z" color="#375b8d"/><path d="M352.9 408.7l7.3-14.7 4.2 29.5-7.3 11.1z" color="#30698e"/><path d="M137.9 485.9l3.4-1.6 3.6-2.7 4.5-7.3-3.7 3-3.3 1.8z" color="#453781"/><path d="M437 524.6l3.8 7.3 3.5 5 4.1-1.6-3.6-3.3-3.8-5.2z" color="#46075a"/><path d="M455.8 537.7l3.6-.9 3.9-2.2 4.2-8.2-4 3.2-3.6 2z" color="#450559"/><path d="M419.2 473l7.3 21.3 4 10.1-7.3-16.1z" color="#472e7c"/><path d="M480 493.4l7.7-9.4 4.2-12.4-7.7 8.4z" color="#453581"/><path d="M444.3 536.9l3.5 3.4 3.9 2.1 4.1-4.7-3.9-.5-3.5-1.9z" color="#440154"/><path d="M220.8 487.7l7.4 14.8 4.6 1.7-7.5-14.9z" color="#472a7a"/><path d="M582.5 499.5l7.5 4.6 3.9-3.7-7.6-3.7z" color="#482677"/><path d="M475.8 505.8l7.7-9.6 4.2-12.2-7.7 9.4z" color="#472c7a"/><path d="M306.5 448.3l7.1-30.8 4.4 7.7-7.1 28z" color="#375b8d"/><path d="M202.9 448.6l7.5 11.9 4.5-.5-7.4-13.1z" color="#3d4e8a"/><path d="M188.3 436l3.4 1.3 3.9 2.7 4.5-2.9-3.9-3.4-3.4-1.8zM512 438.2l7.5 1.1 4-2.8-7.5-3.1z" color="#375b8d"/><path d="M121.8 499.1l3.4 .6 3.7-.2 4.5-6.7-3.7 .5-3.4-.5z" color="#472a7a"/><path d="M500.3 448.5l7.6-3.3 4.1-7-7.6 1z" color="#39568c"/><path d="M429.7 506.1l7.3 18.5 4 2.2-7.3-14z" color="#481769"/><path d="M165.2 453.9l7-6.2 4.5-5.5-7 5.6z" color="#3b528b"/><path d="M238.6 527.4l7.4 10.2 4.5-1-3.5-3.3-3.9-4.8z" color="#46085c"/><path d="M257.7 539.7l3.5-.4 3.7-1.9 4.4-9.9-3.8 4.1-3.4 2.2z" color="#450559"/><path d="M471.6 516.8l7.7-9.2 4.2-11.4-7.7 9.6z" color="#482173"/><path d="M195.6 440l3.5 3.6 3.8 5 4.6-1.7-7.4-9.8z" color="#39568c"/><path d="M149.4 474.3l6.9-7 4.4-7-6.9 7.2z" color="#414487"/><path d="M246 537.6l3.8 3.7 3.5 2.4 4.4-4-3.4-.8-3.8-2.3z" color="#440154"/><path d="M590 504.1l5.4 2.2 3.9-4-5.4-1.9z" color="#482576"/><path d="M133.4 492.8l3.4-1.3 3.6-2.3 4.5-7.6-3.6 2.7-3.4 1.6z" color="#46337f"/><path d="M286.4 484.2l7.1-26.1 4.3-7.8-7.1 27.3z" color="#414487"/><path d="M231.1 514.3l7.5 13.1 4.5 1.1-7.4-11.9z" color="#481467"/><path d="M213.3 473.5l7.5 14.2 4.5 1.6-7.5-14.9z" color="#453882"/><path d="M176.7 442.2l3.7-1.6 3.4-.3 4.5-4.3-3.4-.2-3.7 1.2z" color="#375a8c"/><path d="M451.7 542.4l3.6 .3 3.9-1.2 4.1-6.9-3.9 2.2-3.6 .9z" color="#440256"/><path d="M519.5 439.3l7.5 3.5 3.9-1.2-7.4-5.1z" color="#375a8c"/><path d="M467.5 526.4l7.6-8.3 4.2-10.5-7.7 9.2z" color="#481a6c"/><path d="M496.1 459.5l7.7-5.5 4.1-8.8-7.6 3.3z" color="#3b518b"/><path d="M563.9 484.5l7.4 9.2 3.8-.7-7.4-8z" color="#46337f"/><path d="M412 450.4l7.2 22.6 4 15.3-7.3-17.6z" color="#414287"/><path d="M556.6 474.6l7.3 9.9 3.8 .5-7.4-9z" color="#443a83"/><path d="M571.3 493.7l7.4 7.7 3.8-1.9-7.4-6.5z" color="#472c7a"/><path d="M223.7 499.9l7.4 14.4 4.6 2.3-7.5-14.1z" color="#482173"/><path d="M527 442.8l7.5 5.6 3.8 .2-7.4-7z" color="#39568c"/><path d="M253.3 543.7l3.5 1.3 3.8 .2 4.3-7.8-3.7 1.9-3.5 .4z" color="#440154"/><path d="M282.1 493.6l7.1-23.8 4.3-11.7-7.1 26.1z" color="#433e85"/><path d="M549.2 464.8l7.4 9.8 3.7 1.4-7.3-9.6z" color="#414287"/><path d="M117.3 504.8l3.4 .7 3.7 0 4.5-6-3.7 .2-3.4-.6z" color="#482878"/><path d="M205.8 460.7l7.5 12.8 4.5 .9-7.4-13.9z" color="#404688"/><path d="M440.2 537.5l3.5 4.9 3.9 3.5 4.1-3.5-3.9-2.1-3.5-3.4z" color="#440256"/><path d="M160.7 460.3l7-6.6 4.5-6-7 6.2z" color="#3c508b"/><path d="M144.9 481.6l6.9-6.6 4.5-7.7-6.9 7z" color="#424086"/><path d="M541.9 455.9l7.3 8.9 3.8 1.6-7.3-9.4z" color="#3e4a89"/><path d="M534.5 448.4l7.4 7.5 3.8 1.1-7.4-8.4z" color="#3b518b"/><path d="M507.9 445.2l7.6-1.1 4-4.8-7.5-1.1z" color="#375a8c"/><path d="M578.7 501.4l7.4 5.6 3.9-2.9-7.5-4.6z" color="#482878"/><path d="M491.9 471.6l7.7-7.4 4.2-10.2-7.7 5.5z" color="#3e4989"/><path d="M128.9 499.5l3.4-1 3.6-1.9 4.5-7.4-3.6 2.3-3.4 1.3z" color="#472f7d"/><path d="M422.5 482.8l7.2 23.3 4 6.7-7.2-18.5z" color="#472c7a"/><path d="M463.3 534.6l7.7-7.2 4.1-9.3-7.6 8.3z" color="#471164"/><path d="M183.8 440.3l3.4 .7 3.8 2 4.6-3-3.9-2.7-3.4-1.3z" color="#375b8d"/><path d="M432.9 521.7l3.8 9.2 3.5 6.6 4.1-.6-3.5-5-3.8-7.3z" color="#470e61"/><path d="M341.2 403.5l7.4-21.6 4.3 26.8-7.4 17.4z" color="#2c738e"/><path d="M277.8 504.7l7.1-20.5 4.3-14.4-7.1 23.8z" color="#453581"/><path d="M318 425.2l7.2-30.8 4.4 14.9-7.2 26.9z" color="#2f6c8e"/><path d="M198.4 450.2l7.4 10.5 4.6-.2-7.5-11.9z" color="#3c508b"/><path d="M273.6 516.3l7.1-16.4 4.2-15.7-7.1 20.5z" color="#472a7a"/><path d="M172.2 447.7l3.7-2 3.4-.9 4.5-4.5-3.4 .3-3.7 1.6z" color="#38598c"/><path d="M487.7 484l7.7-8.8 4.2-11-7.7 7.4z" color="#424186"/><path d="M586.1 507l5.4 2.4 3.9-3.1-5.4-2.2z" color="#482576"/><path d="M191 443l3.5 3 3.9 4.2 4.5-1.6-3.8-5-3.5-3.6z" color="#38588c"/><path d="M216.2 485.5l7.5 14.4 4.5 2.6-7.4-14.8z" color="#46307e"/><path d="M447.6 545.9l3.5 1.4 4-.2 4.1-5.6-3.9 1.2-3.6-.3z" color="#440154"/><path d="M360.2 394l3.9-6 3.6-4.2 4.1 32.1-3.5 3.1-3.9 4.5z" color="#2b748e"/><path d="M269.3 527.5l3.4-5 3.7-6.8 4.3-15.8-7.1 16.4z" color="#481d6f"/><path d="M241.5 536.5l7.4 8.6 2.1-.3 2.3-1.1-3.5-2.4-3.8-3.7z" color="#450559"/><path d="M264.9 537.4l3.5-2.9 3.7-4.3 4.3-14.5-3.7 6.8-3.4 5z" color="#471365"/><path d="M483.5 496.2l7.7-9.7 4.2-11.3-7.7 8.8z" color="#443983"/><path d="M234 524.7l7.5 11.8 4.5 1.1-7.4-10.2z" color="#470e61"/><path d="M140.4 489.2l7-6.1 4.4-8.1-6.9 6.6z" color="#443b84"/><path d="M329.6 409.3l7.3-27.4 4.3 21.6-7.3 23z" color="#2b748e"/><path d="M515.5 444.1l3.6 .4 3.9 1.1 4-2.8-7.5-3.5z" color="#375b8d"/><path d="M459.2 541.5l3.6-2.3 4-3.6 4.2-8.2-7.7 7.2z" color="#460b5e"/><path d="M156.3 467.3l6.9-6.9 4.5-6.7-7 6.6z" color="#3d4e8a"/><path d="M302.1 447.1l7.1-32.4 2.1 .6 2.3 2.2-7.1 30.8-2.3-1.1z" color="#33638d"/><path d="M503.8 454l7.6-3.3 4.1-6.6-7.6 1.1z" color="#39568c"/><path d="M112.7 509.6l7.1 1.1 4.6-5.2-3.7 0-3.4-.7z" color="#482576"/><path d="M124.4 505.5l7-1.9 4.5-7-3.6 1.9-3.4 1z" color="#472c7a"/><path d="M404.7 428.3l7.3 22.1 3.9 20.3-7.3-17.5z" color="#39558c"/><path d="M248.9 545.1l3.5 2.8 3.8 2.2 4.4-4.9-3.8-.2-3.5-1.3-2.3 1.1z" color="#440154"/><path d="M479.3 507.6l7.7-10.1 4.2-11-7.7 9.7z" color="#472f7d"/><path d="M208.7 472.2l7.5 13.3 4.6 2.2-7.5-14.2z" color="#423f85"/><path d="M425.7 499.1l7.2 22.6 4.1 2.9-7.3-18.5z" color="#482173"/><path d="M260.6 545.2l3.4-.8 3.8-1.9 4.3-12.3-3.7 4.3-3.5 2.9z" color="#46085c"/><path d="M226.6 510.9l7.4 13.8 4.6 2.7-7.5-13.1z" color="#481c6e"/><path d="M567.4 493.7l7.4 8.9 3.9-1.2-7.4-7.7z" color="#472f7d"/><path d="M179.3 444.8l3.4 .2 3.8 1.2 4.5-3.2-3.8-2-3.4-.7z" color="#375b8d"/><path d="M523 445.6l7.5 3.8 4-1-7.5-5.6z" color="#38598c"/><path d="M436.1 537.8l3.5 6.2 3.9 4.6 4.1-2.7-3.9-3.5-3.5-4.9z" color="#450559"/><path d="M560.1 483.5l7.3 10.2 3.9 0-7.4-9.2z" color="#453882"/><path d="M167.7 453.7l3.7-2.4 3.4-1.4 4.5-5.1-3.4 .9-3.7 2z" color="#38588c"/><path d="M574.8 502.6l7.5 6.5 3.8-2.1-7.4-5.6z" color="#482979"/><path d="M135.9 496.6l7-5.1 4.5-8.4-7 6.1z" color="#453781"/><path d="M475.1 518.1l7.7-10 4.2-10.6-7.7 10.1z" color="#482878"/><path d="M552.8 473.1l7.3 10.4 3.8 1-7.3-9.9z" color="#424086"/><path d="M499.6 464.2l7.7-5.4 4.1-8.1-7.6 3.3z" color="#3b528b"/><path d="M201.2 460.7l7.5 11.5 4.6 1.3-7.5-12.8z" color="#3e4a89"/><path d="M415.3 456.4l7.2 26.4 4 11.5-7.3-21.3z" color="#414287"/><path d="M530.5 449.4l7.5 6.1 3.9 .4-7.4-7.5z" color="#39558c"/><path d="M443.5 548.6l3.5 2.4 4 .8 4.1-4.7-4 .2-3.5-1.4z" color="#440154"/><path d="M151.8 475l7-6.9 4.4-7.7-6.9 6.9z" color="#3e4989"/><path d="M545.4 463.6l7.4 9.5 3.8 1.5-7.4-9.8z" color="#3f4889"/><path d="M455.1 547.1l3.6-1.5 4-2.9 4.1-7.1-4 3.6-3.6 2.3z" color="#46075a"/><path d="M538 455.5l7.4 8.1 3.8 1.2-7.3-8.9z" color="#3c508b"/><path d="M219 496.5l7.6 14.4 4.5 3.4-7.4-14.4z" color="#472a7a"/><path d="M582.3 509.1l5.4 2.6 3.8-2.3-5.4-2.4z" color="#482677"/><path d="M186.5 446.2l3.5 2.2 3.8 3.4 4.6-1.6-3.9-4.2-3.5-3z" color="#375a8c"/><path d="M256.2 550.1l3.5 1 3.8 .3 4.3-8.9-3.8 1.9-3.4 .8z" color="#440256"/><path d="M193.8 451.8l7.4 8.9 4.6 0-7.4-10.5z" color="#3a538b"/><path d="M119.8 510.7l7.1-.8 4.5-6.3-7 1.9z" color="#482979"/><path d="M428.8 518.9l3.9 10.9 3.4 8 4.1-.3-3.5-6.6-3.8-9.2z" color="#481668"/><path d="M511.4 450.7l4-.7 3.6-.1 4-4.3-3.9-1.1-3.6-.4z" color="#375a8c"/><path d="M471 527.4l7.7-9.6 4.1-9.7-7.7 10z" color="#482071"/><path d="M108 513.5l7.2 1.6 4.6-4.4-7.1-1.1z" color="#482576"/><path d="M367.7 383.8l3.9-3 3.5-1 4.1 33.3-3.5 .7-3.9 2.1z" color="#287c8e"/><path d="M397.3 408.4l7.4 19.9 3.9 24.9-7.3-16z" color="#32658e"/><path d="M495.4 475.2l7.7-7.2 4.2-9.2-7.7 5.4z" color="#3e4c8a"/><path d="M131.4 503.6l7-4 4.5-8.1-7 5.1z" color="#46327e"/><path d="M163.2 460.4l3.7-2.8 3.4-1.8 4.5-5.9-3.4 1.4-3.7 2.4z" color="#39558c"/><path d="M211.5 482.8l7.5 13.7 4.7 3.4-7.5-14.4z" color="#453882"/><path d="M147.4 483.1l6.9-6.6 4.5-8.4-7 6.9z" color="#404588"/><path d="M236.9 533.2l7.4 10.5 2.2 1 2.4 .4-7.4-8.6z" color="#460b5e"/><path d="M297.8 450.3l7.1-32.6 2-2.2 2.3-.8-7.1 32.4-2.2 1.1z" color="#31668e"/><path d="M244.3 543.7l7.4 7.6 2.2-.1 2.3-1.1-3.8-2.2-3.5-2.8-2.4-.4z" color="#450457"/><path d="M174.8 449.9l3.4-.5 3.8 .5 4.5-3.7-3.8-1.2-3.4-.2z" color="#375b8d"/><path d="M491.2 486.5l7.8-8.7 4.1-9.8-7.7 7.2z" color="#404588"/><path d="M466.8 535.6l7.7-9 4.2-8.8-7.7 9.6z" color="#481a6c"/><path d="M519 449.9l3.6 .6 4 1.3 3.9-2.4-7.5-3.8z" color="#375b8d"/><path d="M451 551.8l3.5-.8 4-2.4 4.2-5.9-4 2.9-3.6 1.5z" color="#450457"/><path d="M229.4 520.4l7.5 12.8 4.6 3.3-7.5-11.8z" color="#48186a"/><path d="M418.5 471.3l7.2 27.8 4 7-7.2-23.3z" color="#443a83"/><path d="M267.8 542.5l7.3-6.1 4.2-17.2-7.2 11z" color="#481668"/><path d="M432 538.5l3.5 7.1 3.9 5.6 4.1-2.6-3.9-4.6-3.5-6.2z" color="#46085c"/><path d="M507.3 458.8l7.7-3 4-5.9-3.6 .1-4 .7z" color="#38588c"/><path d="M563.6 493.3l7.4 9.9 3.8-.6-7.4-8.9z" color="#463480"/><path d="M439.4 551.2l3.5 3.2 3.9 1.5 4.2-4.1-4-.8-3.5-2.4zM251.7 551.3l7.4 4.8 2.1-1.7 2.3-3-3.8-.3-3.5-1-2.3 1.1z" color="#440154"/><path d="M571 503.2l3.9 4.2 3.6 3 3.8-1.3-7.5-6.5z" color="#472d7b"/><path d="M204.1 470.8l7.4 12 4.7 2.7-7.5-13.3z" color="#404588"/><path d="M115.2 515.1l7.1 .3 4.6-5.5-7.1 .8z" color="#482677"/><path d="M272.1 530.2l7.2-11 4.2-19.6-7.1 16.1z" color="#482475"/><path d="M390 392.7l7.3 15.7 4 28.8-7.3-12.9z" color="#2c728e"/><path d="M263.5 551.4l3.5-.4 3.8-1.2 4.3-13.4-7.3 6.1z" color="#46085c"/><path d="M375.1 379.8l3.6 .5 3.8 2.5 4.1 33.1-3.9-2.2-3.5-.6z" color="#277e8e"/><path d="M348.6 381.9l7.4-18.3 4.2 30.4-7.3 14.7z" color="#25858e"/><path d="M556.3 482.3l7.3 11 3.8 .4-7.3-10.2z" color="#433d84"/><path d="M487 497.5l7.8-9.5 4.2-10.2-7.8 8.7z" color="#433e85"/><path d="M313.6 417.5l7.2-33.6 4.4 10.5-7.2 30.8z" color="#29798e"/><path d="M142.9 491.5l7-6.1 4.4-8.9-6.9 6.6z" color="#424086"/><path d="M126.9 509.9l7-2.8 4.5-7.5-7 4z" color="#472e7c"/><path d="M182 449.9l3.4 1.4 3.9 2.5 4.5-2-3.8-3.4-3.5-2.2z" color="#375b8d"/><path d="M526.6 451.8l7.5 4.3 3.9-.6-7.5-6.1z" color="#38598c"/><path d="M221.9 506.5l7.5 13.9 4.6 4.3-7.4-13.8z" color="#482576"/><path d="M578.5 510.4l5.4 2.8 3.8-1.5-5.4-2.6z" color="#482979"/><path d="M276.4 515.7l7.1-16.1 4.3-20.6-7.1 20.9z" color="#463480"/><path d="M158.8 468.1l7-5.4 4.5-6.9-3.4 1.8-3.7 2.8z" color="#3b528b"/><path d="M421.6 492.8l7.2 26.1 4.1 2.8-7.2-22.6z" color="#472c7a"/><path d="M196.6 460.9l7.5 9.9 4.6 1.4-7.5-11.5z" color="#3c4f8a"/><path d="M103.3 516.7l7.2 2.1 4.7-3.7-7.2-1.6z" color="#482576"/><path d="M549 471.8l7.3 10.5 3.8 1.2-7.3-10.4z" color="#404688"/><path d="M382.5 382.8l3.6 3.9 3.9 6 4 31.6-3.9-5-3.5-3.4z" color="#297b8e"/><path d="M189.3 453.8l7.3 7.1 4.6-.2-7.4-8.9z" color="#39568c"/><path d="M408 429l7.3 27.4 3.9 16.6-7.2-22.6z" color="#375a8c"/><path d="M293.5 458.1l7-31.4 2.3-5.4 2.1-3.6-7.1 32.6z" color="#32648e"/><path d="M534.1 456.1l7.5 6.8 3.8 .7-7.4-8.1z" color="#3a548c"/><path d="M462.7 542.7l7.6-8.4 4.2-7.7-7.7 9z" color="#481467"/><path d="M541.6 462.9l7.4 8.9 3.8 1.3-7.4-9.5z" color="#3d4e8a"/><path d="M482.8 508.1l7.8-10.2 4.2-9.9-7.8 9.5z" color="#453581"/><path d="M170.3 455.8l3.7-1.2 3.4-.2 4.6-4.5-3.8-.5-3.4 .5z" color="#375a8c"/><path d="M280.7 499.9l7.1-20.9 4.2-20-7.1 25.2z" color="#414487"/><path d="M424.7 517.4l3.8 12.1 3.5 9 4.1-.7-3.4-8-3.9-10.9z" color="#481b6d"/><path d="M503.1 468l7.8-5 4.1-7.2-7.7 3z" color="#3a538b"/><path d="M259.1 556.1l7.3 2.3 2.1-3.4 2.3-5.2-3.8 1.2-3.5 .4-2.3 3z" color="#440154"/><path d="M138.4 499.6l7-5.3 4.5-8.9-7 6.1z" color="#443a83"/><path d="M446.8 555.9l3.6-.3 4-1.9 4.1-5.1-4 2.4-3.5 .8z" color="#450457"/><path d="M214.4 492.7l7.5 13.8 4.7 4.4-7.6-14.4z" color="#46337f"/><path d="M515 455.8l4-.5 3.6 .1 4-3.6-4-1.3-3.6-.6z" color="#375a8c"/><path d="M289.2 469.8l7.1-28.8 4.2-14.3-7 31.4z" color="#365d8d"/><path d="M284.9 484.2l7.1-25.2 4.3-18-7.1 28.8z" color="#3b528b"/><path d="M122.3 515.4l7.1-1.3 4.5-7-7 2.8z" color="#472c7a"/><path d="M154.3 476.5l7-5.7 4.5-8.1-7 5.4z" color="#3d4e8a"/><path d="M110.5 518.8l7.2 1.5 4.6-4.9-7.1-.3z" color="#482677"/><path d="M478.7 517.8l7.7-10.5 4.2-9.4-7.8 10.2z" color="#472f7d"/><path d="M435.2 554.3l3.6 3.6 3.9 1.8 4.1-3.8-3.9-1.5-3.5-3.2z" color="#440154"/><path d="M427.9 540.5l3.5 7.6 3.8 6.2 4.2-3.1-3.9-5.6-3.5-7.1z" color="#460b5e"/><path d="M458.5 548.6l3.7-3.2 4-4.4 4.1-6.7-7.6 8.4z" color="#471063"/><path d="M499 477.8l7.7-6.7 4.2-8.1-7.8 5z" color="#3c4f8a"/><path d="M239.8 539.4l7.4 9.5 2.4 1.7 2.1 .7-7.4-7.6z" color="#460b5e"/><path d="M206.9 480.2l7.5 12.5 4.6 3.8-7.5-13.7z" color="#424086"/><path d="M325.2 394.4l7.3-31.1 4.4 18.6-7.3 27.4z" color="#24878e"/><path d="M336.9 381.9l7.3-25.7 4.4 25.7-7.4 21.6z" color="#228c8d"/><path d="M177.4 454.4l3.5 .6 3.8 1.5 4.6-2.7-3.9-2.5-3.4-1.4z" color="#375b8d"/><path d="M247.2 548.9l7.4 7.4 2.4 .4 2.1-.6-7.4-4.8-2.1-.7z" color="#450559"/><path d="M232.3 527.8l7.5 11.6 4.5 4.3-7.4-10.5z" color="#481769"/><path d="M567.2 503.5l3.9 4.6 3.5 3.3 3.9-1-3.6-3-3.9-4.2z" color="#46307e"/><path d="M133.9 507.1l7-4.1 4.5-8.7-7 5.3z" color="#453581"/><path d="M270.8 549.8l7.2-3.7 4.3-18.1-7.2 8.4z" color="#471365"/><path d="M559.8 492.9l7.4 10.6 3.8-.3-7.4-9.9z" color="#453882"/><path d="M522.6 455.4l4 .9 3.5 1.5 4-1.7-7.5-4.3z" color="#375a8c"/><path d="M98.6 519.3l7.2 2.5 4.7-3-7.2-2.1z" color="#482677"/><path d="M165.8 462.7l3.7-1.7 3.4-.9 4.5-5.7-3.4 .2-3.7 1.2z" color="#38588c"/><path d="M266.4 558.4l7.3 .3 4.3-12.6-7.2 3.7-2.3 5.2z" color="#450559"/><path d="M574.6 511.4l5.4 3 3.9-1.2-5.4-2.8z" color="#472d7b"/><path d="M149.9 485.4l7-5.8 4.4-8.8-7 5.7z" color="#3e4989"/><path d="M474.5 526.6l7.8-10.6 4.1-8.7-7.7 10.5z" color="#482979"/><path d="M552.5 481.4l7.3 11.5 3.8 .4-7.3-11z" color="#424186"/><path d="M199.4 469.7l7.5 10.5 4.6 2.6-7.4-12z" color="#3e4a89"/><path d="M411.2 440.3l7.3 31 4 11.5-7.2-26.4z" color="#39558c"/><path d="M184.7 456.5l7.3 5.2 4.6-.8-7.3-7.1z" color="#38598c"/><path d="M275.1 536.4l7.2-8.4 4.2-22.3-7.2 13.5z" color="#482475"/><path d="M224.8 514.9l7.5 12.9 4.6 5.4-7.5-12.8z" color="#482374"/><path d="M254.6 556.3l7.4 5.2 2.3-.9 2.1-2.2-7.3-2.3-2.1 .6z" color="#440154"/><path d="M510.9 463l4-1.7 3.6-.8 4.1-5.1-3.6-.1-4 .5z" color="#38598c"/><path d="M494.8 488l7.8-8.2 4.1-8.7-7.7 6.7z" color="#3e4989"/><path d="M442.7 559.7l3.6 .1 4-1.6 4.1-4.5-4 1.9-3.6 .3z" color="#440256"/><path d="M192 461.7l7.4 8 4.7 1.1-7.5-9.9z" color="#3a538b"/><path d="M530.1 457.8l4 2.4 3.6 2.8 3.9-.1-7.5-6.8z" color="#38588c"/><path d="M117.7 520.3l7.1 .3 4.6-6.5-7.1 1.3z" color="#482979"/><path d="M545.1 471.1l7.4 10.3 3.8 .9-7.3-10.5z" color="#3e4a89"/><path d="M537.7 463l7.4 8.1 3.9 .7-7.4-8.9z" color="#3b528b"/><path d="M400.7 402.4l7.3 26.6 4 21.4-7.3-22.1z" color="#2e6f8e"/><path d="M420.6 518l3.8 12.8 3.5 9.7 4.1-2-3.5-9-3.8-12.1-2.1 0z" color="#481f70"/><path d="M129.4 514.1l7-2.8 4.5-8.3-7 4.1z" color="#46307e"/><path d="M105.8 521.8l7.2 2.7 4.7-4.2-7.2-1.5z" color="#482677"/><path d="M454.4 553.7l3.6-2.8 4.1-4.1 4.1-5.8-4 4.4-3.7 3.2z" color="#470d60"/><path d="M417.5 488.7l7.2 28.7 4.1 1.5-7.2-26.1z" color="#453581"/><path d="M414.4 461.2l7.2 31.6 4.1 6.3-7.2-27.8z" color="#3f4889"/><path d="M145.4 494.3l7-5.6 4.5-9.1-7 5.8z" color="#414487"/><path d="M217.3 501.5l7.5 13.4 4.6 5.5-7.5-13.9z" color="#472f7d"/><path d="M431.1 558.1l3.5 3.7 3.9 1.9 4.2-4-3.9-1.8-3.6-3.6z" color="#440256"/><path d="M309.2 414.7l7.2-35.3 2.1 1.3 2.3 3.2-7.2 33.6-2.3-2.2z" color="#26828e"/><path d="M470.3 534.3l7.8-10.5 4.2-7.8-7.8 10.6z" color="#482374"/><path d="M161.3 470.8l7.1-3.8 4.5-6.9-3.4 .9-3.7 1.7z" color="#39558c"/><path d="M262 561.5l7.3 3.6 2.3-2.6 2.1-3.8-7.3-.3-2.1 2.2z" color="#440154"/><path d="M356 363.6l3.9-7.5 3.5-5.2 4.3 32.9-3.6 4.2-3.9 6z" color="#20938c"/><path d="M279.3 519.2l7.2-13.5 4.2-24.7-7.2 18.6z" color="#453882"/><path d="M423.7 544.2l3.5 7.7 3.9 6.2 4.1-3.8-3.8-6.2-3.5-7.6z" color="#470d60"/><path d="M490.6 497.9l7.8-9.4 4.2-8.7-7.8 8.2z" color="#414287"/><path d="M172.9 460.1l3.4-.3 3.8 .6 4.6-3.9-3.8-1.5-3.5-.6z" color="#375b8d"/><path d="M506.7 471.1l7.7-4.4 4.1-6.2-3.6 .8-4 1.7z" color="#39558c"/><path d="M518.5 460.5l4-.2 3.7 .5 3.9-3-3.5-1.5-4-.9z" color="#375b8d"/><path d="M273.7 558.7l7.3-1.1 4.3-16.6-7.3 5.1z" color="#460b5e"/><path d="M209.7 488.9l7.6 12.6 4.6 5-7.5-13.8z" color="#433d84"/><path d="M93.8 521.1l7.3 3 4.7-2.3-7.2-2.5z" color="#482878"/><path d="M140.9 503l7.1-5.1 4.4-9.2-7 5.6z" color="#433e85"/><path d="M563.3 504l3.9 4.8 3.6 3.5 3.8-.9-3.5-3.3-3.9-4.6z" color="#463480"/><path d="M113 524.5l7.2 2.1 4.6-6-7.1-.3z" color="#482677"/><path d="M124.8 520.6l7.1-1.2 4.5-8.1-7 2.8z" color="#472d7b"/><path d="M438.5 563.7l3.6 .1 4-1.5 4.2-4.1-4 1.6-3.6-.1z" color="#440256"/><path d="M556 492.9l7.3 11.1 3.9-.5-7.4-10.6zM486.4 507.3l7.8-10.2 4.2-8.6-7.8 9.4z" color="#433d84"/><path d="M278 546.1l7.3-5.1 4.2-22.6-7.2 9.6z" color="#481d6f"/><path d="M156.9 479.6l7-4.7 4.5-7.9-7.1 3.8z" color="#3b518b"/><path d="M180.1 460.4l3.5 1.1 3.8 2.1 4.6-1.9-7.3-5.2z" color="#375a8c"/><path d="M570.8 512.3l5.4 3.1 3.8-1-5.4-3z" color="#46307e"/><path d="M466.2 541l7.7-10.3 4.2-6.9-7.8 10.5z" color="#481f70"/><path d="M269.3 565.1l7.4 2.1 2.3-4.2 2-5.4-7.3 1.1-2.1 3.8z" color="#440256"/><path d="M202.2 478l7.5 10.9 4.7 3.8-7.5-12.5z" color="#3f4889"/><path d="M450.3 558.2l3.6-2.6 4-4 4.2-4.8-4.1 4.1-3.6 2.8z" color="#460b5e"/><path d="M283.5 499.6l7.2-18.6 4.2-25.6-7.1 23.6z" color="#3d4d8a"/><path d="M242.6 543.3l7.4 9 2.4 2.5 2.2 1.5-7.4-7.4z" color="#470e61"/><path d="M526.2 460.8l3.9 1.5 3.6 2.1 4-1.4-3.6-2.8-4-2.4z" color="#375a8c"/><path d="M548.6 481.2l7.4 11.7 3.8 0-7.3-11.5z" color="#404688"/><path d="M235.1 532.8l7.5 10.5 4.6 5.6-7.4-9.5z" color="#48186a"/><path d="M187.4 463.6l7.4 5.9 4.6 .2-7.4-8z" color="#39568c"/><path d="M101.1 524.1l7.2 3.8 4.7-3.4-7.2-2.7z" color="#482677"/><path d="M194.8 469.5l7.4 8.5 4.7 2.2-7.5-10.5z" color="#3b518b"/><path d="M502.6 479.8l7.7-6.2 4.1-6.9-7.7 4.4z" color="#3b528b"/><path d="M250 552.3l7.5 7.3 2.3 1.6 2.2 .3-7.4-5.2-2.2-1.5z" color="#46085c"/><path d="M426.9 562.9l3.6 3.3 3.9 1.6 4.1-4.1-3.9-1.9-3.5-3.7z" color="#440256"/><path d="M416.4 521.6l3.8 12.9 3.5 9.7 4.2-3.7-3.5-9.7-3.8-12.8z" color="#482173"/><path d="M168.4 467l3.8-1.1 3.4-.4 4.5-5.1-3.8-.6-3.4 .3z" color="#38598c"/><path d="M136.4 511.3l7.1-4.1 4.5-9.3-7.1 5.1z" color="#453882"/><path d="M419.5 549.8l3.5 7.3 3.9 5.8 4.2-4.8-3.9-6.2-3.5-7.7z" color="#460b5e"/><path d="M541.2 471.3l7.4 9.9 3.9 .2-7.4-10.3z" color="#3c508b"/><path d="M393.3 378.7l7.4 23.7 4 25.9-7.4-19.9z" color="#26828e"/><path d="M533.7 464.4l3.6 2.9 3.9 4 3.9-.2-7.4-8.1z" color="#39568c"/><path d="M227.6 521.1l7.5 11.7 4.7 6.6-7.5-11.6z" color="#482374"/><path d="M482.3 516l7.8-10.9 4.1-8-7.8 10.2z" color="#453882"/><path d="M152.4 488.7l7.1-5.2 4.4-8.6-7 4.7z" color="#3e4c8a"/><path d="M257.5 559.6l7.4 5.9 2.3 .5 2.1-.9-7.3-3.6-2.2-.3z" color="#440256"/><path d="M120.2 526.6l7.2 .5 4.5-7.7-7.1 1.2z" color="#482979"/><path d="M514.4 466.7l4.1-1.3 3.6-.3 4.1-4.3-3.7-.5-4 .2z" color="#375a8c"/><path d="M404 408.3l7.2 32 4.1 16.1-7.3-27.4z" color="#2e6f8e"/><path d="M282.3 528l7.2-9.6 4.2-27.2-7.2 14.5z" color="#463480"/><path d="M304.9 417.7l7.1-35.4 2.1-2.3 2.3-.6-7.2 35.3-2.3 .8z" color="#25858e"/><path d="M413.3 487.8l7.3 30.2 2-.6 2.1 0-7.2-28.7-2.2-1z" color="#443b84"/><path d="M220.1 508.7l7.5 12.4 4.7 6.7-7.5-12.9z" color="#472e7c"/><path d="M108.3 527.9l7.3 3.7 4.6-5-7.2-2.1z" color="#482677"/><path d="M462.1 546.8l7.7-10 4.1-6.1-7.7 10.3z" color="#481c6e"/><path d="M281 557.6l7.4-1.9 4.2-20.2-7.3 5.5z" color="#481467"/><path d="M287.8 479l7.1-23.6 4.2-24.5-7.1 28.1z" color="#34608d"/><path d="M276.7 567.2l7.4 1 2.2-5.6 2.1-6.9-7.4 1.9-2 5.4z" color="#450559"/><path d="M363.4 350.9l4-3.8 3.5-1.5 4.2 34.2-3.5 1-3.9 3z" color="#1e9c89"/><path d="M131.9 519.4l7.1-2.9 4.5-9.3-7.1 4.1z" color="#46337f"/><path d="M498.4 488.5l7.8-7.6 4.1-7.3-7.7 6.2z" color="#3d4e8a"/><path d="M434.4 567.8l3.6-.2 4-1.7 4.1-3.6-4 1.5-3.6-.1z" color="#440256"/><path d="M264.9 565.5l7.4 4.5 2.3-.7 2.1-2.1-7.4-2.1-2.1 .9z" color="#440154"/><path d="M89 521.8l7.3 3.3 4.8-1-7.3-3z" color="#472c7a"/><path d="M175.6 465.5l3.8 .3 3.4 .9 4.6-3.1-3.8-2.1-3.5-1.1z" color="#375b8d"/><path d="M163.9 474.9l7.2-2.9 4.5-6.5-3.4 .4-3.8 1.1z" color="#39568c"/><path d="M148 497.9l7-5.2 4.5-9.2-7.1 5.2z" color="#404688"/><path d="M446.1 562.3l3.6-2.6 4.1-4 4.1-4.1-4 4-3.6 2.6z" color="#460b5e"/><path d="M320.8 383.9l7.3-33.9 4.4 13.3-7.3 31.1z" color="#1f978b"/><path d="M559.5 504.8l3.8 5 3.6 3.6 3.9-1.1-3.6-3.5-3.9-4.8z" color="#453882"/><path d="M478.1 523.8l7.8-11.2 4.2-7.5-7.8 10.9z" color="#46337f"/><path d="M212.6 496.5l7.5 12.2 4.7 6.2-7.5-13.4z" color="#443a83"/><path d="M344.2 356.2l7.5-21.5 4.3 28.9-7.4 18.3z" color="#1fa188"/><path d="M415.3 556.8l3.5 6.4 3.9 5 4.2-5.3-3.9-5.8-3.5-7.3z" color="#460a5d"/><path d="M412.2 528.2l3.8 12.3 3.5 9.3 4.2-5.6-3.5-9.7-3.8-12.9z" color="#482071"/><path d="M410.3 454.2l7.2 34.5 4.1 4.1-7.2-31.6z" color="#3a538b"/><path d="M552.1 493.4l7.4 11.4 3.8-.8-7.3-11.1z" color="#424086"/><path d="M422.7 568.2l3.6 2.6 3.9 1 4.2-4-3.9-1.6-3.6-3.3z" color="#440154"/><path d="M566.9 513.4l5.4 3.2 3.9-1.2-5.4-3.1z" color="#46337f"/><path d="M522.1 465.1l4 .5 3.6 1.3 4-2.5-3.6-2.1-3.9-1.5z" color="#375b8d"/><path d="M407.2 426.3l7.2 34.9 4.1 10.1-7.3-31z" color="#32658e"/><path d="M115.6 531.6l7.2 2.3 4.6-6.8-7.2-.5z" color="#482677"/><path d="M385.9 360.2l7.4 18.5 4 29.7-7.3-15.7z" color="#21918c"/><path d="M292 459l7.1-28.1 4.3-21.6-7.1 31.7z" color="#2d708e"/><path d="M510.3 473.6l4.1-2.2 3.7-1.2 4-5.1-3.6 .3-4.1 1.3z" color="#38588c"/><path d="M96.3 525.1l7.3 4.9 4.7-2.1-7.2-3.8z" color="#482979"/><path d="M285.3 541l7.3-5.5 4.2-26.7-7.3 9.6z" color="#472a7a"/><path d="M300.5 426.7l7.2-34.2 2.3-6.3 2-3.9-7.1 35.4-2.1 3.6z" color="#25838e"/><path d="M182.8 466.7l7.4 3.7 4.6-.9-7.4-5.9z" color="#375a8c"/><path d="M127.4 527.1l7.1-1.5 4.5-9.1-7.1 2.9z" color="#472d7b"/><path d="M205.1 485.6l7.5 10.9 4.7 5-7.6-12.6z" color="#404688"/><path d="M544.7 481.9l7.4 11.5 3.9-.5-7.4-11.7z" color="#3e4a89"/><path d="M272.3 570l7.4 3.3 2.3-1.8 2.1-3.3-7.4-1-2.1 2.1z" color="#440154"/><path d="M494.2 497.1l7.9-9 4.1-7.2-7.8 7.6z" color="#3e4989"/><path d="M143.5 507.2l7-4.9 4.5-9.6-7 5.2z" color="#424086"/><path d="M529.7 466.9l3.6 2.2 4 3.5 3.9-1.3-3.9-4-3.6-2.9z" color="#38598c"/><path d="M296.3 441l7.1-31.7 4.3-16.8-7.2 34.2z" color="#287c8e"/><path d="M457.9 551.6l7.8-9.8 4.1-5-7.7 10z" color="#481b6d"/><path d="M197.6 476.8l7.5 8.8 4.6 3.3-7.5-10.9z" color="#3c4f8a"/><path d="M284.1 568.2l7.3 .6 4.3-15.1-7.3 2-2.1 6.9z" color="#46085c"/><path d="M190.2 470.4l7.4 6.4 4.6 1.2-7.4-8.5z" color="#39558c"/><path d="M537.3 472.6l7.4 9.3 3.9-.7-7.4-9.9z" color="#3a538b"/><path d="M286.5 505.7l7.2-14.5 4.2-29.7-7.2 19.5z" color="#3d4d8a"/><path d="M159.5 483.5l7.1-4 4.5-7.5-7.2 2.9z" color="#3b528b"/><path d="M370.9 345.6l3.6 .4 3.9 2.7 4.1 34.1-3.8-2.5-3.6-.5z" color="#1f9f88"/><path d="M332.5 363.3l7.4-29 4.3 21.9-7.3 25.7z" color="#1fa287"/><path d="M103.6 530l7.3 5.1 4.7-3.5-7.3-3.7z" color="#482677"/><path d="M473.9 530.7l7.9-11.4 4.1-6.7-7.8 11.2z" color="#472f7d"/><path d="M378.4 348.7l3.6 4.5 3.9 7 4.1 32.5-3.9-6-3.6-3.9z" color="#1e9b8a"/><path d="M171.1 472l7.2-.8 4.5-4.5-3.4-.9-3.8-.3z" color="#375a8c"/><path d="M407.9 537.2l3.9 11.2 3.5 8.4 4.2-7-3.5-9.3-3.8-12.3z" color="#481c6e"/><path d="M409.1 491.2l7.3 30.4 4.2-3.6-7.3-30.2-2.2 1.3z" color="#433e85"/><path d="M288.4 555.7l7.3-2 4.3-23.2-7.4 5z" color="#481c6e"/><path d="M430.2 571.8l3.6-.7 4-2.2 4.2-3-4 1.7-3.6 .2z" color="#440256"/><path d="M411 564.4l3.6 5.3 3.9 3.8 4.2-5.3-3.9-5-3.5-6.4z" color="#450559"/><path d="M139 516.5l7.1-4.2 4.4-10-7 4.9z" color="#443a83"/><path d="M245.4 545.3l7.5 8.6 4.6 5.7-7.5-7.3z" color="#481467"/><path d="M237.9 535.7l7.5 9.6 4.6 7-7.4-9z" color="#481c6e"/><path d="M442 565.9l3.6-2.8 4-4.1 4.2-3.3-4.1 4-3.6 2.6z" color="#460b5e"/><path d="M122.8 533.9l7.2 .1 4.5-8.4-7.1 1.5z" color="#482979"/><path d="M279.7 573.3l7.3 2.5 2.4-2.7 2-4.3-7.3-.6-2.1 3.3z" color="#440154"/><path d="M490.1 505.1l7.8-10 4.2-7-7.9 9z" color="#404588"/><path d="M418.5 573.5l3.6 1.7 3.9 .1 4.2-3.5-3.9-1-3.6-2.6z" color="#440154"/><path d="M506.2 480.9l4.1-3 3.7-2.1 4.1-5.6-3.7 1.2-4.1 2.2z" color="#39558c"/><path d="M252.9 553.9l7.4 7.3 2.4 2.7 2.2 1.6-7.4-5.9z" color="#470d60"/><path d="M230.4 525l7.5 10.7 4.7 7.6-7.5-10.5zM110.9 535.1l7.3 3.9 4.6-5.1-7.2-2.3z" color="#482576"/><path d="M518.1 470.2l4-.4 3.6 .6 4-3.5-3.6-1.3-4-.5z" color="#375b8d"/><path d="M155 492.7l7.1-4.7 4.5-8.5-7.1 4z" color="#3d4e8a"/><path d="M84.1 521.3l7.3 3.6 4.9 .2-7.3-3.3z" color="#472f7d"/><path d="M555.6 506l3.8 5 3.6 3.6 3.9-1.2-3.6-3.6-3.8-5z" color="#443a83"/><path d="M222.9 513.9l7.5 11.1 4.7 7.8-7.5-11.7z" color="#472f7d"/><path d="M260.3 561.2l7.4 6.1 2.4 2 2.2 .7-7.4-4.5-2.2-1.6z" color="#46085c"/><path d="M548.2 494.5l7.4 11.5 3.9-1.2-7.4-11.4z" color="#414487"/><path d="M563 514.6l2.9 2.1 2.5 1.2 3.9-1.3-5.4-3.2z" color="#453781"/><path d="M403.6 547.7l3.9 9.7 3.5 7 4.3-7.6-3.5-8.4-3.9-11.2z" color="#481769"/><path d="M291.4 568.8l7.4 .6 4.3-16.9-7.4 1.2z" color="#470d60"/><path d="M396.6 377.5l7.4 30.8 4 20.7-7.3-26.6z" color="#24868e"/><path d="M134.5 525.6l7.1-3.2 4.5-10.1-7.1 4.2z" color="#46337f"/><path d="M289.5 518.4l7.3-9.6 4.2-31.6-7.3 14z" color="#414487"/><path d="M178.3 471.2l7.3 1.6 4.6-2.4-7.4-3.7z" color="#375b8d"/><path d="M469.8 536.8l7.8-11.5 4.2-6-7.9 11.4z" color="#472c7a"/><path d="M453.8 555.7l7.7-9.8 4.2-4.1-7.8 9.8z" color="#481a6c"/><path d="M91.4 524.9l7.3 5.6 4.9-.5-7.3-4.9z" color="#472d7b"/><path d="M166.6 479.5l7.1-2.4 4.6-5.9-7.2 .8z" color="#38588c"/><path d="M215.4 502.7l7.5 11.2 4.7 7.2-7.5-12.4z" color="#443a83"/><path d="M525.7 470.4l3.6 1.5 4 2.9 4-2.2-4-3.5-3.6-2.2z" color="#375b8d"/><path d="M540.8 483.3l7.4 11.2 3.9-1.1-7.4-11.5z" color="#3d4e8a"/><path d="M406.8 571.9l3.5 3.9 4 2.4 4.2-4.7-3.9-3.8-3.6-5.3zM287 575.8l7.5 2.1 2.3-3.5 2-5-7.4-.6-2 4.3z" color="#440256"/><path d="M267.7 567.3l7.5 4.9 2.3 1.3 2.2-.2-7.4-3.3-2.2-.7z" color="#450457"/><path d="M150.5 502.3l7.1-5 4.5-9.3-7.1 4.7z" color="#3f4889"/><path d="M404.9 498.9l7.3 29.3 4.2-6.6-7.3-30.4z" color="#443b84"/><path d="M118.2 539l7.2 1.7 4.6-6.7-7.2-.1z" color="#482576"/><path d="M290.7 481l7.2-19.5 4.2-30.3-7.2 24.2z" color="#32648e"/><path d="M485.9 512.6l7.9-10.8 4.1-6.7-7.8 10z" color="#424186"/><path d="M292.6 535.5l7.4-5 4.2-30.1-7.4 8.4z" color="#453581"/><path d="M406.1 451.8l7.2 36 2-.1 2.2 1-7.2-34.5-2.2-1.9z" color="#375b8d"/><path d="M533.3 474.8l3.6 3.6 3.9 4.9 3.9-1.4-7.4-9.3z" color="#39558c"/><path d="M502.1 488.1l7.8-6.5 4.1-5.8-3.7 2.1-4.1 3z" color="#3a538b"/><path d="M207.8 492.3l7.6 10.4 4.7 6-7.5-12.2z" color="#404588"/><path d="M185.6 472.8l7.3 4.1 4.7-.1-7.4-6.4z" color="#38598c"/><path d="M98.7 530.5l7.4 6.2 4.8-1.6-7.3-5.1z" color="#482979"/><path d="M295.7 553.7l7.4-1.2 4.3-25.3-7.4 3.3z" color="#482173"/><path d="M426 575.3l3.6-1.4 4-2.8 4.2-2.2-4 2.2-3.6 .7z" color="#450457"/><path d="M399.4 558.6l3.8 7.8 3.6 5.5 4.2-7.5-3.5-7-3.9-9.7z" color="#471063"/><path d="M130 534l7.1-2 4.5-9.6-7.1 3.2z" color="#472d7b"/><path d="M200.4 483.5l7.4 8.8 4.8 4.2-7.5-10.9z" color="#3d4e8a"/><path d="M192.9 476.9l7.5 6.6 4.7 2.1-7.5-8.8z" color="#3a548c"/><path d="M437.8 568.9l3.6-3.1 4.1-4.3 4.1-2.5-4 4.1-3.6 2.8z" color="#470d60"/><path d="M316.4 379.4l7.3-35.4 2.1 1.8 2.3 4.2-7.3 33.9-2.3-3.2z" color="#1fa287"/><path d="M414.3 578.2l3.6 .6 3.9-.9 4.2-2.6-3.9-.1-3.6-1.7z" color="#440154"/><path d="M514 475.8l4-1.2 3.7-.2 4-4-3.6-.6-4 .4z" color="#375b8d"/><path d="M275.2 572.2l7.4 3.8 2.3 .7 2.1-.9-7.3-2.5-2.2 .2z" color="#440256"/><path d="M146.1 512.3l7.1-4.8 4.4-10.2-7.1 5z" color="#424186"/><path d="M298.8 569.4l7.4 1.4 4.3-17.8-7.4-.5z" color="#471063"/><path d="M106.1 536.7l7.4 5.3 4.7-3-7.3-3.9z" color="#482576"/><path d="M400.6 510.2l7.3 27 4.3-9-7.3-29.3z" color="#453781"/><path d="M162.1 488l7.1-3.6 4.5-7.3-7.1 2.4z" color="#3a538b"/><path d="M465.7 541.8l7.8-11.4 4.1-5.1-7.8 11.5z" color="#472a7a"/><path d="M294.5 577.9l7.4 2.1 2.3-3.8 2-5.4-7.4-1.4-2 5z" color="#440256"/><path d="M351.7 334.7l3.9-8.9 3.6-6.2 4.2 31.3-3.5 5.2-3.9 7.5z" color="#2cb17e"/><path d="M173.7 477.1l7.3-.3 4.6-4-7.3-1.6z" color="#375a8c"/><path d="M399.9 390.5l7.3 35.8 4 14-7.2-32z" color="#26828e"/><path d="M403 416.4l7.3 37.8 4.1 7-7.2-34.9z" color="#2c728e"/><path d="M395.1 569l3.9 5.8 3.5 3.7 4.3-6.6-3.6-5.5-3.8-7.8z" color="#46085c"/><path d="M551.6 507.3l3.9 5.1 3.6 3.7 3.9-1.5-3.6-3.6-3.8-5zM481.8 519.3l7.8-11.3 4.2-6.2-7.9 10.8z" color="#433e85"/><path d="M402.5 578.5l3.6 2.4 4 .9 4.2-3.6-4-2.4-3.5-3.9z" color="#440154"/><path d="M125.4 540.7l7.2-.5 4.5-8.2-7.1 2z" color="#482878"/><path d="M449.6 559l7.8-9.9 4.1-3.2-7.7 9.8z" color="#481a6c"/><path d="M141.6 522.4l7.1-4.3 4.5-10.6-7.1 4.8z" color="#443a83"/><path d="M396.3 524l7.3 23.7 4.3-10.5-7.3-27z" color="#472e7c"/><path d="M497.9 495.1l7.8-7.8 4.2-5.7-7.8 6.5z" color="#3c508b"/><path d="M559.1 516.1l2.9 2.1 2.5 1.1 3.9-1.4-2.5-1.2-2.9-2.1z" color="#443983"/><path d="M544.2 496l7.4 11.3 4-1.3-7.4-11.5z" color="#404688"/><path d="M113.5 542l7.3 3.3 4.6-4.6-7.2-1.7z" color="#482475"/><path d="M79.1 519.9l3.5 1.4 3.8 2.3 5 1.3-7.3-3.6z" color="#453581"/><path d="M282.6 576l7.4 3.2 2.3 .1 2.2-1.4-7.5-2.1-2.1 .9z" color="#440154"/><path d="M521.7 474.4l4 1 3.6 2.1 4-2.7-4-2.9-3.6-1.5z" color="#375b8d"/><path d="M303.1 552.5l7.4 .5 4.3-26.4-3.6-.1-3.8 .7z" color="#482677"/><path d="M306.2 570.8l7.5 2.4 4.3-17.7-7.5-2.5z" color="#471164"/><path d="M391.9 538.9l7.5 19.7 4.2-10.9-7.3-23.7z" color="#482475"/><path d="M294.9 455.4l7.2-24.2 4.2-28.8-7.2 28.5z" color="#29798e"/><path d="M157.6 497.3l7.1-4.3 4.5-8.6-7.1 3.6z" color="#3c4f8a"/><path d="M293.7 491.2l7.3-14 4.2-34.2-7.3 18.5z" color="#34608d"/><path d="M536.8 485.1l7.4 10.9 4-1.5-7.4-11.2z" color="#3c508b"/><path d="M301.9 580l7.4 2.4 2.3-3.8 2.1-5.4-7.5-2.4-2 5.4z" color="#450457"/><path d="M529.3 477.5l3.6 3.1 3.9 4.5 4-1.8-3.9-4.9-3.6-3.6z" color="#38588c"/><path d="M509.9 481.6l4-2.1 3.7-.8 4.1-4.3-3.7 .2-4 1.2z" color="#375a8c"/><path d="M86.4 523.6l7.4 6.1 4.9 .8-7.3-5.6z" color="#46327e"/><path d="M240.7 537l7.5 8.9 4.7 8-7.5-8.6z" color="#482173"/><path d="M137.1 532l7.2-3.4 4.4-10.5-7.1 4.3z" color="#463480"/><path d="M387.6 553.7l7.5 15.3 4.3-10.4-7.5-19.7z" color="#481a6c"/><path d="M181 476.8l7.3 2 4.6-1.9-7.3-4.1z" color="#375b8d"/><path d="M248.2 545.9l7.5 7.9 4.6 7.4-7.4-7.3z" color="#481b6d"/><path d="M233.2 527.4l7.5 9.6 4.7 8.3-7.5-9.6z" color="#472a7a"/><path d="M401.9 455l7.2 36.2 2-2.1 2.2-1.3-7.2-36-2.2 .9z" color="#355e8d"/><path d="M300 530.5l7.4-3.3 4.2-32.5-3.6 2.3-3.8 3.4z" color="#433e85"/><path d="M421.8 577.9l3.7-2.1 4-3.5 4.1-1.2-4 2.8-3.6 1.4z" color="#46075a"/><path d="M389.2 350.4l7.4 27.1 4.1 24.9-7.4-23.7z" color="#1e9c89"/><path d="M390.8 578.1l3.9 3.6 3.6 2 4.2-5.2-3.5-3.7-3.9-5.8z" color="#450457"/><path d="M410.1 581.8l3.6-.6 3.9-1.9 4.2-1.4-3.9 .9-3.6-.6z" color="#440154"/><path d="M225.7 517.4l7.5 10 4.7 8.3-7.5-10.7z" color="#46337f"/><path d="M255.7 553.8l7.4 6.9 4.6 6.6-7.4-6.1z" color="#481467"/><path d="M93.8 529.7l7.5 6.9 4.8 .1-7.4-6.2z" color="#472e7c"/><path d="M296.8 508.8l7.4-8.4 4.2-35.2-7.4 12z" color="#3b528b"/><path d="M433.6 571.1l7.7-8.2 4.2-1.4-4.1 4.3-3.6 3.1z" color="#471063"/><path d="M290 579.2l7.5 2.6 2.3-.1 2.1-1.7-7.4-2.1-2.2 1.4z" color="#440154"/><path d="M169.2 484.4l7.2-1.8 4.6-5.8-7.3 .3z" color="#38588c"/><path d="M461.5 545.9l7.8-11.4 4.2-4.1-7.8 11.4z" color="#482979"/><path d="M313.7 573.2l7.4 3.5 4.3-16.5-7.4-4.7z" color="#471063"/><path d="M383.3 567.3l3.9 6.2 3.6 4.6 4.3-9.1-7.5-15.3z" color="#470e61"/><path d="M477.6 525.3l7.9-11.6 4.1-5.7-7.8 11.3z" color="#443b84"/><path d="M120.8 545.3l7.2 1.1 4.6-6.2-7.2 .5z" color="#482576"/><path d="M218.1 507.4l7.6 10 4.7 7.6-7.5-11.1z" color="#433d84"/><path d="M153.2 507.5l7.1-4.6 4.4-9.9-7.1 4.3z" color="#3e4989"/><path d="M493.8 501.8l7.8-8.8 4.1-5.7-7.8 7.8z" color="#3d4e8a"/><path d="M101.3 536.6l7.4 6.4 4.8-1-7.4-5.3z" color="#482979"/><path d="M188.3 478.8l7.4 4.4 4.7 .3-7.5-6.6z" color="#38598c"/><path d="M263.1 560.7l7.5 5.8 4.6 5.7-7.5-4.9z" color="#471063"/><path d="M310.5 553l7.5 2.5 4.2-26.2-3.9-1.8-3.5-.9z" color="#482878"/><path d="M309.3 582.4l7.5 2.6 2.3-3.3 2-5-7.4-3.5-2.1 5.4z" color="#440256"/><path d="M398.3 583.7l3.6 .8 3.9-.5 4.3-2.2-4-.9-3.6-2.4z" color="#440154"/><path d="M132.6 540.2l7.2-2.1 4.5-9.5-7.2 3.4z" color="#472d7b"/><path d="M312 382.3l7.3-35.7 2.1-2.4 1-.4 1.3 .2-7.3 35.4-2.3 .6z" color="#21a685"/><path d="M210.6 498l7.5 9.4 4.8 6.5-7.5-11.2z" color="#404688"/><path d="M328.1 350l7.4-31.6 4.4 15.9-7.4 29z" color="#2fb47c"/><path d="M195.7 483.2l7.5 6.5 4.6 2.6-7.4-8.8z" color="#3a548c"/><path d="M203.2 489.7l7.4 8.3 4.8 4.7-7.6-10.4z" color="#3d4e8a"/><path d="M445.5 561.5l7.7-10.3 4.2-2.1-7.8 9.9z" color="#481c6e"/><path d="M321.1 576.7l7.5 4.1 4.3-14.6-7.5-6z" color="#470d60"/><path d="M339.9 334.3l7.4-24.4 4.4 24.8-7.5 21.5z" color="#38b977"/><path d="M547.7 508.9l3.9 5 3.6 3.7 3.9-1.5-3.6-3.7-3.9-5.1z" color="#424086"/><path d="M379 578.6l3.9 3.9 3.6 2.5 4.3-6.9-3.6-4.6-3.9-6.2z" color="#450559"/><path d="M517.6 478.7l4 .3 3.7 1.5 4-3-3.6-2.1-4-1z" color="#365c8d"/><path d="M108.7 543l7.3 4.7 4.8-2.4-7.3-3.3z" color="#482576"/><path d="M299.1 430.9l7.2-28.5 4.3-25.2-7.2 32.1z" color="#228c8d"/><path d="M270.6 566.5l7.4 4.7 2.4 3 2.2 1.8-7.4-3.8z" color="#470d60"/><path d="M148.7 518.1l7.1-4.4 4.5-10.8-7.1 4.6z" color="#414287"/><path d="M297.5 581.8l7.4 2.3 2.3-.1 2.1-1.6-7.4-2.4-2.1 1.7z" color="#440154"/><path d="M555.2 517.6l2.9 2.1 2.5 1.2 3.9-1.6-2.5-1.1-2.9-2.1z" color="#433d84"/><path d="M540.3 497.7l7.4 11.2 3.9-1.6-7.4-11.3z" color="#3e4989"/><path d="M318 555.5l7.4 4.7 4.3-25-7.5-5.9z" color="#482576"/><path d="M505.7 487.3l4.1-2.7 3.7-1.5 4.1-4.4-3.7 .8-4 2.1z" color="#38598c"/><path d="M397.6 463.8l7.3 35.1 4.2-7.7-7.2-36.2z" color="#365c8d"/><path d="M375.8 552.4l7.5 14.9 4.3-13.6-7.4-19.9z" color="#482071"/><path d="M371.5 568.6l7.5 10 4.3-11.3-7.5-14.9z" color="#471164"/><path d="M386.5 585l3.9 1.6 3.6 .4 4.3-3.3-3.6-2-3.9-3.6z" color="#440154"/><path d="M164.7 493l7.2-2.9 4.5-7.5-7.2 1.8z" color="#3a548c"/><path d="M328.6 580.8l7.5 4.1 2.2-5.3 2.1-6.7-7.5-6.7z" color="#46085c"/><path d="M316.8 585l7.4 2.5 2.3-2.5 2.1-4.2-7.5-4.1-2 5z" color="#440154"/><path d="M359.2 319.6l3.9-4.5 3.6-1.9 4.2 32.4-3.5 1.5-4 3.8z" color="#3bbb75"/><path d="M176.4 482.6l7.3 .1 4.6-3.9-7.3-2z" color="#375b8d"/><path d="M380.2 533.8l7.4 19.9 4.3-14.8-7.4-24.7z" color="#472e7c"/><path d="M532.8 487.3l7.5 10.4 3.9-1.7-7.4-10.9z" color="#3b528b"/><path d="M325.4 560.2l7.5 6 4.3-22.6-7.5-8.4z" color="#482071"/><path d="M525.3 480.5l3.6 2.7 3.9 4.1 4-2.2-3.9-4.5-3.6-3.1z" color="#38598c"/><path d="M307.4 527.2l3.8-.7 3.6 .1 4.2-33.7-3.5 .3-3.9 1.5z" color="#414487"/><path d="M74.2 518.6l3.4 1.4 3.9 2.4 4.9 1.2-3.8-2.3-3.5-1.4z" color="#443b84"/><path d="M128 546.4l7.2-.5 4.6-7.8-7.2 2.1z" color="#482979"/><path d="M144.3 528.6l7.1-3.9 4.4-11-7.1 4.4zM473.5 530.4l7.8-11.7 4.2-5-7.9 11.6z" color="#443a83"/><path d="M367.2 581.1l7.5 5.6 4.3-8.1-7.5-10z" color="#46075a"/><path d="M332.9 566.2l7.5 6.7 4.3-19.4-7.5-9.9z" color="#481a6c"/><path d="M340.4 572.9l7.5 6.5 4.3-15.8-7.5-10.1z" color="#471365"/><path d="M359.7 573.1l7.5 8 4.3-12.5-7.5-12.6z" color="#471063"/><path d="M489.6 508l7.9-9.5 4.1-5.5-7.8 8.8z" color="#3e4c8a"/><path d="M278 571.2l7.5 3.8 2.4 2.7 2.1 1.5-7.4-3.2-2.2-1.8z" color="#460a5d"/><path d="M307.7 392.5l7.2-34.5 2.3-7 2.1-4.4-7.3 35.7-2 3.9z" color="#20a386"/><path d="M384.5 514.2l7.4 24.7 4.4-14.9-7.4-29.1z" color="#433e85"/><path d="M347.9 579.4l7.5 5.5 4.3-11.8-7.5-9.5z" color="#460a5d"/><path d="M116 547.7l7.3 2.8 4.7-4.1-7.2-1.1z" color="#482576"/><path d="M303.4 409.3l7.2-32.1 4.3-19.2-7.2 34.5z" color="#1e9b8a"/><path d="M336.1 584.9l7.5 3.4 2.2-3.8 2.1-5.1-7.5-6.5-2.1 6.7z" color="#450457"/><path d="M393.2 477.6l7.4 32.6 4.3-11.3-7.3-35.1z" color="#39558c"/><path d="M457.4 549.1l7.8-11.5 4.1-3.1-7.8 11.4z" color="#472a7a"/><path d="M381.8 329.3l3.5 9.2 3.9 11.9 4.1 28.3-7.4-18.5z" color="#27ad81"/><path d="M417.6 579.3l3.7-2.9 4-4 4.2-.1-4 3.5-3.7 2.1z" color="#460a5d"/><path d="M398.8 412.4l7.3 39.4 2 .5 2.2 1.9-7.3-37.8-2.2-2.9z" color="#297b8e"/><path d="M364 556l7.5 12.6 4.3-16.2-7.4-17.7z" color="#482071"/><path d="M388.9 494.9l7.4 29.1 4.3-13.8-7.4-32.6z" color="#3e4c8a"/><path d="M405.8 584l3.7-1.7 3.9-3 4.2 0-3.9 1.9-3.6 .6z" color="#450559"/><path d="M304.9 584.1l7.5 2 2.3 .2 2.1-1.3-7.5-2.6-2.1 1.6zM374.7 586.7l3.9 1.7 3.6 .7 4.3-4.1-3.6-2.5-3.9-3.9z" color="#440154"/><path d="M352.2 563.6l7.5 9.5 4.3-17.1-7.5-14.1z" color="#481b6d"/><path d="M297.9 461.5l7.3-18.5 4.2-34.7-7.3 22.9z" color="#29798e"/><path d="M355.4 584.9l7.5 3.9 2-3 2.3-4.7-7.5-8z" color="#450457"/><path d="M81.5 522.4l7.4 6.2 4.9 1.1-7.4-6.1z" color="#453882"/><path d="M324.2 587.5l7.5 2.1 2.3-1.6 2.1-3.1-7.5-4.1-2.1 4.2z" color="#440154"/><path d="M429.5 572.3l7.7-8.9 4.1-.5-7.7 8.2z" color="#471365"/><path d="M160.3 502.9l7.1-3.7 4.5-9.1-7.2 2.9z" color="#3c508b"/><path d="M139.8 538.1l7.1-2.9 4.5-10.5-7.1 3.9z" color="#46337f"/><path d="M394 587l3.6-.7 4-1.9 4.2-.4-3.9 .5-3.6-.8z" color="#440256"/><path d="M183.7 482.7l7.4 2.3 4.6-1.8-7.4-4.4z" color="#375b8d"/><path d="M88.9 528.6l7.4 7.3 5 .7-7.5-6.9z" color="#46337f"/><path d="M392.5 356.3l7.4 34.2 4.1 17.8-7.4-30.8z" color="#1e9c89"/><path d="M343.6 588.3l7.4 2.3 2.3-2.3 2.1-3.4-7.5-5.5-2.1 5.1z" color="#440154"/><path d="M285.5 575l7.5 3 2.3 2.6 2.2 1.2-7.5-2.6-2.1-1.5z" color="#46085c"/><path d="M344.7 553.5l7.5 10.1 4.3-21.7-7.5-14.4z" color="#482677"/><path d="M513.5 483.1l4.1-.3 3.6 1 4.1-3.3-3.7-1.5-4-.3z" color="#365c8d"/><path d="M501.6 493l4.1-3.4 3.7-1.9 4.1-4.6-3.7 1.5-4.1 2.7z" color="#39568c"/><path d="M304.2 500.4l3.8-3.4 3.6-2.3 4.2-37.8-3.6 3.4-3.8 4.9z" color="#365d8d"/><path d="M96.3 535.9l7.5 7.1 4.9 0-7.4-6.4z" color="#472e7c"/><path d="M362.9 588.8l7.5 1.8 2-1.3 2.3-2.6-7.5-5.6-2.3 4.7z" color="#440154"/><path d="M314.8 526.6l3.5 .9 3.9 1.8 4.3-33.6-3.9-2.1-3.6-.7z" color="#404588"/><path d="M368.4 534.7l7.4 17.7 4.4-18.6-7.5-22.9z" color="#46337f"/><path d="M441.3 562.9l7.8-10.4 4.1-1.3-7.7 10.3z" color="#481f70"/><path d="M171.9 490.1l7.3-1.4 4.5-6-7.3-.1z" color="#38598c"/><path d="M366.7 313.2l3.6 .3 3.9 3 4.2 32.2-3.9-2.7-3.6-.4z" color="#40bd72"/><path d="M543.7 510.7l3.9 5 3.6 3.6 4-1.7-3.6-3.7-3.9-5z" color="#414287"/><path d="M155.8 513.7l7.2-4 4.4-10.5-7.1 3.7z" color="#3e4989"/><path d="M123.3 550.5l7.3 1.2 4.6-5.8-7.2 .5z" color="#482677"/><path d="M382.2 589.1l4-.1 3.6-1.1 2-.1 2.2-.8-3.6-.4-3.9-1.6z" color="#440154"/><path d="M374.2 316.5l3.6 5 4 7.8 4.1 30.9-3.9-7-3.6-4.5z" color="#38b977"/><path d="M312.4 586.1l7.4 1.4 2.3 .7 2.1-.7-7.4-2.5-2.1 1.3z" color="#440256"/><path d="M395.7 377.8l7.3 38.6 4.2 9.9-7.3-35.8z" color="#21918c"/><path d="M191.1 485l7.4 4.2 4.7 .5-7.5-6.5z" color="#38598c"/><path d="M301 477.2l7.4-12 4.2-37.9-7.4 15.7z" color="#2d708e"/><path d="M331.7 589.6l7.5 1 2.3-.4 2.1-1.9-7.5-3.4-2.1 3.1z" color="#440154"/><path d="M103.8 543l7.4 5.9 4.8-1.2-7.3-4.7z" color="#482979"/><path d="M356.5 541.9l7.5 14.1 4.4-21.3-7.5-19z" color="#46307e"/><path d="M337.2 543.6l7.5 9.9 4.3-26-7.5-13.4z" color="#46327e"/><path d="M536.3 499.7l7.4 11 4-1.8-7.4-11.2z" color="#3e4c8a"/><path d="M485.5 513.7l7.8-10 4.2-5.2-7.9 9.5z" color="#3e4989"/><path d="M551.2 519.3l2.9 2.2 2.6 1.1 3.9-1.7-2.5-1.2-2.9-2.1z" color="#423f85"/><path d="M135.2 545.9l7.2-1.5 4.5-9.2-7.1 2.9z" color="#472d7b"/><path d="M469.3 534.5l7.9-11.7 4.1-4.1-7.8 11.7z" color="#443983"/><path d="M236 528.7l7.5 8.5 4.7 8.7-7.5-8.9z" color="#46307e"/><path d="M228.5 519.8l7.5 8.9 4.7 8.3-7.5-9.6z" color="#453882"/><path d="M243.5 537.2l7.5 7.8 4.7 8.8-7.5-7.9z" color="#472a7a"/><path d="M322.2 529.3l7.5 5.9 4.3-32.1-3.9-4.4-3.6-3z" color="#414287"/><path d="M351 590.6l7.6 .7 2.2-.7 2.1-1.8-7.5-3.9-2.1 3.4z" color="#440154"/><path d="M521.2 483.8l3.6 2.2 4 3.8 4-2.5-3.9-4.1-3.6-2.7z" color="#375a8c"/><path d="M329.7 535.2l7.5 8.4 4.3-29.5-7.5-11z" color="#443b84"/><path d="M198.5 489.2l7.4 6.1 4.7 2.7-7.4-8.3z" color="#3a548c"/><path d="M220.9 511l7.6 8.8 4.7 7.6-7.5-10z" color="#424086"/><path d="M528.8 489.8l7.5 9.9 4-2-7.5-10.4z" color="#3a548c"/><path d="M251 545l7.5 7 4.6 8.7-7.4-6.9z" color="#482475"/><path d="M293 578l7.4 2.3 2.4 2.6 2.1 1.2-7.4-2.3-2.2-1.2z" color="#46085c"/><path d="M213.4 502.7l7.5 8.3 4.8 6.4-7.6-10z" color="#3f4889"/><path d="M205.9 495.3l7.5 7.4 4.7 4.7-7.5-9.4z" color="#3c4f8a"/><path d="M151.4 524.7l7.1-3.8 4.5-11.2-7.2 4z" color="#424186"/><path d="M370.4 590.6l3.9-.1 3.6-.7 2.1 .1 2.2-.8-3.6-.7-3.9-1.7-2.3 2.6z" color="#440154"/><path d="M111.2 548.9l7.4 4.2 4.7-2.6-7.3-2.8z" color="#482677"/><path d="M453.2 551.2l7.9-11.5 4.1-2.1-7.8 11.5z" color="#472c7a"/><path d="M372.7 510.9l7.5 22.9 4.3-19.6-7.4-27.8z" color="#3f4788"/><path d="M258.5 552l7.5 6.1 4.6 8.4-7.5-5.8z" color="#481f70"/><path d="M167.4 499.2l7.2-2.4 4.6-8.1-7.3 1.4z" color="#3a548c"/><path d="M69.2 518.7l3.5 1.4 3.8 2.3 5 0-3.9-2.4-3.4-1.4z" color="#424086"/><path d="M179.2 488.7l7.3 .4 4.6-4.1-7.4-2.3z" color="#375b8d"/><path d="M319.8 587.5l7.5 .5 2.3 1.5 2.1 .1-7.5-2.1-2.1 .7z" color="#440256"/><path d="M339.2 590.6l7.5-.1 2.3 .7 2-.6-7.4-2.3-2.1 1.9z" color="#440154"/><path d="M497.5 498.5l4.1-3.7 3.7-2.4 4.1-4.7-3.7 1.9-4.1 3.4z" color="#39558c"/><path d="M146.9 535.2l7.2-3.1 4.4-11.2-7.1 3.8z" color="#443a83"/><path d="M413.4 579.3l7.7-8.1 4.2 1.2-4 4-3.7 2.9z" color="#471063"/><path d="M394.5 415.3l7.4 39.7 2-2.3 2.2-.9-7.3-39.4-2.2 .6z" color="#277e8e"/><path d="M401.6 584.4l3.6-2.6 4-3.9 4.2 1.4-3.9 3-3.7 1.7z" color="#460a5d"/><path d="M349 527.5l7.5 14.4 4.4-26.2-7.5-18.9z" color="#424086"/><path d="M130.6 551.7l7.2 .3 4.6-7.6-7.2 1.5z" color="#482979"/><path d="M266 558.1l7.4 5.1 4.6 8-7.4-4.7z" color="#481b6d"/><path d="M509.4 487.7l4.1-.8 3.6 .5 4.1-3.6-3.6-1-4.1 .3z" color="#365c8d"/><path d="M323.7 344l7.3-33 2.1 2.4 2.4 5-7.4 31.6-2.3-4.2z" color="#44bf70"/><path d="M425.3 572.4l7.7-9.6 4.2 .6-7.7 8.9z" color="#48186a"/><path d="M358.6 591.3l7.5-1.1 2.2 .7 2.1-.3-7.5-1.8-2.1 1.8z" color="#440154"/><path d="M76.5 522.4l7.5 6.3 4.9-.1-7.4-6.2z" color="#433d84"/><path d="M300.4 580.3l7.5 1.5 2.3 2.8 2.2 1.5-7.5-2-2.1-1.2z" color="#460a5d"/><path d="M389.8 587.9l3.6-1.9 4-3 4.2 1.4-4 1.9-3.6 .7-2.2 .8z" color="#46075a"/><path d="M302.1 431.2l7.3-22.9 4.2-32.6-7.3 26.7z" color="#20928c"/><path d="M481.3 518.7l7.9-10.2 4.1-4.8-7.8 10zM360.9 515.7l7.5 19 4.3-23.8-7.5-24z" color="#3f4889"/><path d="M118.6 553.1l7.3 2.8 4.7-4.2-7.3-1.2z" color="#482677"/><path d="M311.6 494.7l3.9-1.5 3.5-.3 4.2-39.1-3.5 .8-3.9 2.3z" color="#32648e"/><path d="M163 509.7l7.2-3.2 4.4-9.7-7.2 2.4z" color="#3c4f8a"/><path d="M84 528.7l7.4 7.5 4.9-.3-7.4-7.3z" color="#453882"/><path d="M377.1 486.4l7.4 27.8 4.4-19.3-7.4-32.2z" color="#38598c"/><path d="M142.4 544.4l7.2-1.8 4.5-10.5-7.2 3.1z" color="#46337f"/><path d="M539.7 512.9l4 5 3.6 3.6 3.9-2.2-3.6-3.6-3.9-5z" color="#404588"/><path d="M437.2 563.4l7.7-10.6 4.2-.3-7.8 10.4z" color="#482374"/><path d="M465.2 537.6l7.9-11.6 4.1-3.2-7.9 11.7z" color="#443a83"/><path d="M273.4 563.2l7.5 4.1 4.6 7.7-7.5-3.8z" color="#48186a"/><path d="M91.4 536.2l7.5 7.5 4.9-.7-7.5-7.1z" color="#46327e"/><path d="M347.3 309.9l4-9.9 3.5-7 4.4 26.6-3.6 6.2-3.9 8.9z" color="#5ec962"/><path d="M186.5 489.1l7.3 2.2 4.7-2.1-7.4-4.2z" color="#375b8d"/><path d="M532.3 502.1l7.4 10.8 4-2.2-7.4-11z" color="#3d4d8a"/><path d="M547.3 521.5l2.9 2.1 2.5 1.2 4-2.2-2.6-1.1-2.9-2.2z" color="#424186"/><path d="M377.9 589.8l3.6-1.4 4-2.4 2.3 1.3 2 .6-3.6 1.1-4 .1-2.2 .8z" color="#450559"/><path d="M517.1 487.4l3.7 1.9 4 3.4 4-2.9-4-3.8-3.6-2.2z" color="#375b8d"/><path d="M98.9 543.7l7.5 6.6 4.8-1.4-7.4-5.9z" color="#472d7b"/><path d="M327.3 588l7.5-.5 2.3 2.2 2.1 .9-7.5-1-2.1-.1z" color="#450559"/><path d="M524.8 492.7l7.5 9.4 4-2.4-7.5-9.9z" color="#39558c"/><path d="M174.6 496.8l7.3-1.2 4.6-6.5-7.3-.4z" color="#38588c"/><path d="M341.5 514.1l7.5 13.4 4.4-30.7-7.6-17.3z" color="#3c4f8a"/><path d="M158.5 520.9l7.2-3.4 4.5-11-7.2 3.2z" color="#3f4889"/><path d="M346.7 590.5l7.5-1.6 2.3 1.8 2.1 .6-7.6-.7-2 .6z" color="#450457"/><path d="M390.2 425.4l7.4 38.4 4.3-8.8-7.4-39.7-2 3.9z" color="#287c8e"/><path d="M381.5 462.7l7.4 32.2 4.3-17.3-7.4-35.9z" color="#30698e"/><path d="M307.9 581.8l7.5 .6 2.3 3.2 2.1 1.9-7.4-1.4-2.2-1.5z" color="#460a5d"/><path d="M493.3 503.7l4.2-4 3.7-2.5 4.1-4.8-3.7 2.4-4.1 3.7z" color="#3a548c"/><path d="M385.1 326.2l7.4 30.1 4.1 21.2-7.4-27.1z" color="#2fb47c"/><path d="M125.9 555.9l7.3 2 4.6-5.9-7.2-.3z" color="#482677"/><path d="M193.8 491.3l7.5 3.7 2.2-.2 2.4 .5-7.4-6.1z" color="#38598c"/><path d="M106.4 550.3l7.4 5.2 4.8-2.4-7.4-4.2z" color="#482979"/><path d="M280.9 567.3l7.5 3.2 4.6 7.5-7.5-3z" color="#481769"/><path d="M137.8 552l7.3-.3 4.5-9.1-7.2 1.8z" color="#472d7b"/><path d="M449.1 552.5l7.8-11.4 4.2-1.4-7.9 11.5z" color="#472e7c"/><path d="M385.8 441.7l7.4 35.9 4.4-13.8-7.4-38.4z" color="#2b748e"/><path d="M366.1 590.2l7.6-3.3 2.2 2 2 .9-3.6 .7-3.9 .1-2.1 .3z" color="#46075a"/><path d="M505.3 492.4l4.1-1.2 3.7 .2 4-4-3.6-.5-4.1 .8z" color="#375b8d"/><path d="M319 492.9l3.6 .7 3.9 2.1 4.2-38.9-3.9-2.3-3.6-.7z" color="#31668e"/><path d="M154.1 532.1l7.2-3.1 4.4-11.5-7.2 3.4z" color="#424086"/><path d="M335.5 318.4l7.4-26.3 4.4 17.8-7.4 24.4z" color="#63cb5f"/><path d="M64.4 521.2l3.4 1.4 3.9 2.3 2.3-1.5 2.5-1-3.8-2.3-3.5-1.4-2.5 .9z" color="#414287"/><path d="M308.4 465.2l3.8-4.9 3.6-3.4 4.2-40.5-3.6 4.4-3.8 6.5z" color="#287c8e"/><path d="M201.3 495l7.4 5.3 4.7 2.4-7.5-7.4-2.4-.5z" color="#39558c"/><path d="M334 503.1l7.5 11 4.3-34.6-7.5-13.8z" color="#375b8d"/><path d="M477.2 522.8l7.9-10.3 4.1-4-7.9 10.2z" color="#3f4889"/><path d="M305.2 443l7.4-15.7 4.2-38.2-7.4 19.2z" color="#228c8d"/><path d="M365.2 486.9l7.5 24 4.4-24.5-7.5-28.9z" color="#355f8d"/><path d="M170.2 506.5l7.2-2.3 4.5-8.6-7.3 1.2z" color="#3a538b"/><path d="M113.8 555.5l7.4 4 4.7-3.6-7.3-2.8z" color="#482677"/><path d="M326.5 495.7l3.6 3 3.9 4.4 4.3-37.4-4-5.4-3.6-3.5z" color="#33638d"/><path d="M208.7 500.3l7.5 6.4 4.7 4.3-7.5-8.3z" color="#3b518b"/><path d="M391.5 372.1l7.3 40.3 2 1.1 2.2 2.9-7.3-38.6-2.2-4z" color="#1e9b8a"/><path d="M353.4 496.8l7.5 18.9 4.3-28.8-7.5-23.5z" color="#365c8d"/><path d="M149.6 542.6l7.2-2.2 4.5-11.4-7.2 3.1z" color="#453882"/><path d="M71.7 524.9l7.4 6.3 2.3-1.6 2.6-.9-7.5-6.3-2.5 1z" color="#424086"/><path d="M216.2 506.7l7.5 7.2 4.8 5.9-7.6-8.8z" color="#3e4a89"/><path d="M306.3 402.4l7.3-26.7 4.3-28.3-7.3 29.8z" color="#22a785"/><path d="M181.9 495.6l7.3 .2 4.6-4.5-7.3-2.2z" color="#375a8c"/><path d="M288.4 570.5l7.5 2.3 4.5 7.5-7.4-2.3z" color="#481668"/><path d="M409.2 577.9l7.7-9.1 4.2 2.4-7.7 8.1z" color="#481769"/><path d="M334.8 587.5l7.5-1.7 2.3 2.9 2.1 1.8-7.5 .1-2.1-.9z" color="#46085c"/><path d="M223.7 513.9l7.5 7.6 4.8 7.2-7.5-8.9z" color="#404588"/><path d="M397.4 583l7.6-8 4.2 2.9-4 3.9-3.6 2.6z" color="#471164"/><path d="M231.2 521.5l7.6 7.5 4.7 8.2-7.5-8.5z" color="#423f85"/><path d="M535.7 515.7l3.9 5 3.6 3.6 4.1-2.8-3.6-3.6-4-5z" color="#3f4788"/><path d="M461.1 539.7l7.8-11.3 4.2-2.4-7.9 11.6z" color="#443b84"/><path d="M421.1 571.2l7.8-10 4.1 1.6-7.7 9.6z" color="#481f70"/><path d="M79.1 531.2l7.5 7.6 2.3-1.6 2.5-1-7.4-7.5-2.6 .9z" color="#443b84"/><path d="M315.4 582.4l7.5-.3 4.4 5.9-7.5-.5-2.1-1.9z" color="#470d60"/><path d="M238.8 529l7.5 7.1 4.7 8.9-7.5-7.8z" color="#453882"/><path d="M133.2 557.9l7.3 1.4 4.6-7.6-7.3 .3z" color="#482979"/><path d="M319.3 346.6l7.3-33.1 2.1-2.5 1.1-.3 1.2 .3-7.3 33-1.3-.2-1 .4z" color="#50c46a"/><path d="M513.1 491.4l3.6 1.6 4 3.1 4.1-3.4-4-3.4-3.7-1.9z" color="#375b8d"/><path d="M528.2 505.2l7.5 10.5 4-2.8-7.4-10.8z" color="#3c4f8a"/><path d="M354.2 588.9l7.6-3.1 2.2 2.7 2.1 1.7-7.5 1.1-2.1-.6z" color="#46085c"/><path d="M543.2 524.3l3 2 2.5 1.2 4-2.7-2.5-1.2-2.9-2.1z" color="#414287"/><path d="M86.6 538.8l7.5 7.6 4.8-2.7-7.5-7.5-2.5 1z" color="#453581"/><path d="M385.5 586l7.6-6.6 4.3 3.6-4 3-3.6 1.9-2-.6z" color="#470e61"/><path d="M246.3 536.1l7.5 6.6 4.7 9.3-7.5-7z" color="#46337f"/><path d="M520.7 496.1l7.5 9.1 4.1-3.1-7.5-9.4z" color="#39568c"/><path d="M388.3 341l7.4 36.8 4.2 12.7-7.4-34.2z" color="#27ad81"/><path d="M165.7 517.5l7.2-3 4.5-10.3-7.2 2.3z" color="#3d4e8a"/><path d="M489.2 508.5l4.1-4.1 3.8-2.7 4.1-4.5-3.7 2.5-4.2 4z" color="#3a538b"/><path d="M94.1 546.4l7.5 6.8 4.8-2.9-7.5-6.6z" color="#472f7d"/><path d="M433 562.8l7.8-10.6 4.1 .6-7.7 10.6z" color="#482878"/><path d="M145.1 551.7l7.2-.8 4.5-10.5-7.2 2.2z" color="#46307e"/><path d="M121.2 559.5l7.3 3.3 4.7-4.9-7.3-2z" color="#482677"/><path d="M253.8 542.7l7.5 5.8 4.7 9.6-7.5-6.1z" color="#472e7c"/><path d="M501.2 497.2l4.1-1.5 3.6 0 4.2-4.3-3.7-.2-4.1 1.2z" color="#375b8d"/><path d="M101.6 553.2l7.4 5.6 4.8-3.3-7.4-5.2z" color="#472c7a"/><path d="M189.2 495.8l7.4 1.6 4.7-2.4-7.5-3.7z" color="#375b8d"/><path d="M295.9 572.8l7.5 1.2 4.5 7.8-7.5-1.5z" color="#481769"/><path d="M373.7 586.9l7.5-5.5 4.3 4.6-4 2.4-3.6 1.4-2-.9z" color="#470e61"/><path d="M161.3 529l7.2-3.1 4.4-11.4-7.2 3z" color="#404688"/><path d="M177.4 504.2l7.3-1.4 4.5-7-7.3-.2z" color="#38588c"/><path d="M310.6 377.2l7.3-29.8 4.4-21.4-7.4 32z" color="#35b779"/><path d="M473.1 526l7.8-10.1 4.2-3.4-7.9 10.3z" color="#3f4889"/><path d="M444.9 552.8l7.9-11.1 4.1-.6-7.8 11.4z" color="#46327e"/><path d="M354.8 293l4-5.2 3.6-2.2 4.3 27.6-3.6 1.9-3.9 4.5z" color="#7ad151"/><path d="M261.3 548.5l7.5 5.1 4.6 9.6-7.4-5.1z" color="#472a7a"/><path d="M314.9 358l7.4-32 2.3-7.8 2-4.7-7.3 33.1-2.1 4.4z" color="#48c16e"/><path d="M369.6 457.5l7.5 28.9 4.4-23.7-7.5-33.3z" color="#2c738e"/><path d="M377.6 303l3.5 10 4 13.2 4.1 24.2-3.9-11.9-3.5-9.2z" color="#56c667"/><path d="M140.5 559.3l7.3 .7 4.5-9.1-7.2 .8z" color="#472c7a"/><path d="M109 558.8l7.4 4.5 4.8-3.8-7.4-4z" color="#482878"/><path d="M342.3 585.8l7.6-2.9 4.3 6-7.5 1.6-2.1-1.8z" color="#470e61"/><path d="M322.9 582.1l7.5-1.3 4.4 6.7-7.5 .5z" color="#471164"/><path d="M128.5 562.8l7.4 2.5 4.6-6-7.3-1.4z" color="#482677"/><path d="M345.8 479.5l7.6 17.3 4.3-33.4-7.5-21.1z" color="#2f6c8e"/><path d="M156.8 540.4l7.2-2.5 4.5-12-7.2 3.1z" color="#433e85"/><path d="M315.8 456.9l3.9-2.3 3.5-.8 4.3-41.8-3.6 1.2-3.9 3.2z" color="#25838e"/><path d="M196.6 497.4l7.4 3.1 2.3-.5 2.4 .3-7.4-5.3z" color="#375a8c"/><path d="M268.8 553.6l7.5 4.2 4.6 9.5-7.5-4.1z" color="#482878"/><path d="M531.7 519.1l3.9 4.9 3.6 3.6 4-3.3-3.6-3.6-3.9-5z" color="#3f4889"/><path d="M508.9 495.7l3.7 1.3 4 2.9 4.1-3.8-4-3.1-3.6-1.6z" color="#365c8d"/><path d="M524.1 508.7l7.6 10.4 4-3.4-7.5-10.5z" color="#3c4f8a"/><path d="M361.8 585.8l7.5-4.8 4.4 5.9-7.6 3.3-2.1-1.7z" color="#471164"/><path d="M456.9 541.1l7.9-10.9 4.1-1.8-7.8 11.3z" color="#433e85"/><path d="M485.1 512.5l4.1-4.1 3.7-2.7 4.2-4-3.8 2.7-4.1 4.1z" color="#3a538b"/><path d="M539.2 527.6l5.5 3.2 4-3.3-2.5-1.2-3-2z" color="#414487"/><path d="M172.9 514.5l7.3-2.5 4.5-9.2-7.3 1.4z" color="#3b528b"/><path d="M152.3 550.9l7.3-1.4 4.4-11.6-7.2 2.5z" color="#453581"/><path d="M387.1 374.9l7.4 40.4 2.1-2.3 2.2-.6-7.3-40.3-2.3 .4z" color="#1f9f88"/><path d="M303.4 574l7.5 .3 4.5 8.1-7.5-.6z" color="#48186a"/><path d="M516.6 499.9l7.5 8.8 4.1-3.5-7.5-9.1z" color="#39568c"/><path d="M116.4 563.3l7.4 3.7 4.7-4.2-7.3-3.3z" color="#482677"/><path d="M357.7 463.4l7.5 23.5 4.4-29.4-7.5-28z" color="#2b748e"/><path d="M204 500.5l7.5 4.3 2.2 .6 2.5 1.3-7.5-6.4-2.4-.3z" color="#39568c"/><path d="M497.1 501.7l4-1.7 3.7-.1 4.1-4.2-3.6 0-4.1 1.5zM184.7 502.8l7.3-.3 4.6-5.1-7.4-1.6z" color="#375a8c"/><path d="M309.4 408.3l7.4-19.2 4.2-35.8-7.4 22.4z" color="#22a785"/><path d="M135.9 565.3l7.3 1.9 4.6-7.2-7.3-.7z" color="#482677"/><path d="M405 575l7.7-9.6 4.2 3.4-7.7 9.1z" color="#481f70"/><path d="M276.3 557.8l7.5 3.2 4.6 9.5-7.5-3.2z" color="#482677"/><path d="M416.9 568.8l7.8-10.2 4.2 2.6-7.8 10z" color="#482576"/><path d="M374 429.4l7.5 33.3 4.3-21-7.4-36.8z" color="#25858e"/><path d="M362.4 285.6l1.8-.2 1.8 .4 4 3.2 4.2 27.5-3.9-3-3.6-.3z" color="#84d44b"/><path d="M211.5 504.8l7.5 5.3 4.7 3.8-7.5-7.2-2.5-1.3z" color="#3a538b"/><path d="M393.1 579.4l7.7-8.7 4.2 4.3-7.6 8z" color="#481b6d"/><path d="M370 289l3.6 5.4 4 8.6 4.2 26.3-4-7.8-3.6-5z" color="#75d054"/><path d="M168.5 525.9l7.2-3 4.5-10.9-7.3 2.5z" color="#3e4c8a"/><path d="M338.3 465.7l7.5 13.8 4.4-37.2-7.6-16.7z" color="#29798e"/><path d="M147.8 560l7.3-.1 4.5-10.4-7.3 1.4z" color="#472e7c"/><path d="M428.9 561.2l7.7-10.4 4.2 1.4-7.8 10.6z" color="#472d7b"/><path d="M312.6 427.3l3.8-6.5 3.6-4.4 4.2-40.7-3.5 5.5-3.9 7.9z" color="#1e9b8a"/><path d="M468.9 528.4l7.9-9.7 4.1-2.8-7.8 10.1z" color="#3e4989"/><path d="M323.2 453.8l3.6 .7 3.9 2.3 4.3-41.7-3.9-2.6-3.6-.5z" color="#25858e"/><path d="M219 510.1l7.5 6 4.7 5.4-7.5-7.6z" color="#3c4f8a"/><path d="M123.8 567l7.4 3 4.7-4.7-7.4-2.5z" color="#482576"/><path d="M330.4 580.8l7.5-2.5 4.4 7.5-7.5 1.7z" color="#481668"/><path d="M381.2 581.4l7.7-7.4 4.2 5.4-7.6 6.6z" color="#481a6c"/><path d="M349.9 582.9l7.5-4.3 4.4 7.2-7.6 3.1z" color="#481668"/><path d="M331 311l7.5-27.5 2.1 2.8 2.3 5.8-7.4 26.3-2.4-5z" color="#84d44b"/><path d="M164 537.9l7.3-2.8 4.4-12.2-7.2 3z" color="#414487"/><path d="M226.5 516.1l7.5 6.1 4.8 6.8-7.6-7.5z" color="#3e4a89"/><path d="M382.8 386.1l7.4 39.3 2.3-6.2 2-3.9-7.4-40.4-2 4.3z" color="#1e9c89"/><path d="M330.7 456.8l3.6 3.5 4 5.4 4.3-40.1-4-6.4-3.6-4.1z" color="#26828e"/><path d="M440.8 552.2l7.8-10.5 4.2 0-7.9 11.1z" color="#453781"/><path d="M310.9 574.3l7.5-.6 4.5 8.4-7.5 .3z" color="#481b6d"/><path d="M378.4 404.9l7.4 36.8 4.4-16.3-7.4-39.3z" color="#20938c"/><path d="M283.8 561l7.5 2.2 4.6 9.6-7.5-2.3z" color="#482576"/><path d="M504.8 499.9l3.7 1.3 4 2.8 4.1-4.1-4-2.9-3.7-1.3zM192 502.5l7.4 .9 2.2-1.7 2.4-1.2-7.4-3.1z" color="#375b8d"/><path d="M527.6 522.9l3.9 4.8 3.7 3.6 4-3.7-3.6-3.6-3.9-4.9z" color="#3f4889"/><path d="M234 522.2l7.5 6 4.8 7.9-7.5-7.1z" color="#404688"/><path d="M180.2 512l7.3-1.9 4.5-7.6-7.3 .3z" color="#39568c"/><path d="M342.9 292.1l4-10.8 3.6-7.6 4.3 19.3-3.5 7-4 9.9z" color="#95d840"/><path d="M520.1 512.6l7.5 10.3 4.1-3.8-7.6-10.4z" color="#3c508b"/><path d="M159.6 549.5l7.2-1.9 4.5-12.5-7.3 2.8z" color="#443a83"/><path d="M143.2 567.2l7.3 1 4.6-8.3-7.3 .1z" color="#482979"/><path d="M480.9 515.9l4.1-4.1 3.8-2.6 4.1-3.5-3.7 2.7-4.1 4.1z" color="#3a538b"/><path d="M535.2 531.3l5.4 3.2 4.1-3.7-5.5-3.2z" color="#414487"/><path d="M512.5 504l7.6 8.6 4-3.9-7.5-8.8z" color="#39568c"/><path d="M241.5 528.2l7.6 5.7 4.7 8.8-7.5-6.6z" color="#424186"/><path d="M131.2 570l7.3 2.3 4.7-5.1-7.3-1.9z" color="#482576"/><path d="M492.9 505.7l4.1-1.6 3.7-.2 4.1-4-3.7 .1-4 1.7z" color="#375a8c"/><path d="M380.8 308.8l7.5 32.2 4.2 15.3-7.4-30.1z" color="#56c667"/><path d="M369.3 581l7.7-6.2 4.2 6.6-7.5 5.5z" color="#481b6d"/><path d="M452.8 541.7l7.8-10.2 4.2-1.3-7.9 10.9z" color="#424086"/><path d="M384 333.9l7.5 38.2 2 1.7 2.2 4-7.4-36.8-2.2-4.9z" color="#38b977"/><path d="M155.1 559.9l7.3-.8 4.4-11.5-7.2 1.9z" color="#46327e"/><path d="M249.1 533.9l7.5 5.2 4.7 9.4-7.5-5.8z" color="#433e85"/><path d="M175.7 522.9l7.3-2.7 4.5-10.1-7.3 1.9z" color="#3b518b"/><path d="M199.4 503.4l7.4 2.3 2.3-.8 2.4-.1-7.5-4.3-2.4 1.2z" color="#375a8c"/><path d="M291.3 563.2l7.5 1.3 4.6 9.5-7.5-1.2z" color="#482677"/><path d="M350.2 442.3l7.5 21.1 4.4-33.9-7.6-24.8z" color="#24878e"/><path d="M362.1 429.5l7.5 28 4.4-28.1-7.5-31.9z" color="#228c8d"/><path d="M337.9 578.3l7.6-3.6 4.4 8.2-7.6 2.9z" color="#481c6e"/><path d="M464.8 530.2l7.8-9.1 4.2-2.4-7.9 9.7z" color="#3e4c8a"/><path d="M318.4 573.7l7.5-1.6 4.5 8.7-7.5 1.3z" color="#482071"/><path d="M256.6 539.1l7.5 4.6 4.7 9.9-7.5-5.1z" color="#443a83"/><path d="M313.6 375.7l7.4-22.4 4.4-30.9-7.5 25z" color="#42be71"/><path d="M187.5 510.1l7.3-.8 4.6-5.9-7.4-.9z" color="#38598c"/><path d="M171.3 535.1l7.2-2.8 4.5-12.1-7.3 2.7z" color="#3e4989"/><path d="M138.5 572.3l7.4 1.5 4.6-5.6-7.3-1z" color="#482576"/><path d="M150.5 568.2l7.3 .2 4.6-9.3-7.3 .8z" color="#472c7a"/><path d="M500.7 503.9l3.7 1.3 4 2.8 4.1-4-4-2.8-3.7-1.3z" color="#375b8d"/><path d="M206.8 505.7l7.5 3.4 2.2 .1 2.5 .9-7.5-5.3-2.4 .1z" color="#38598c"/><path d="M357.4 578.6l7.6-5.3 4.3 7.7-7.5 4.8z" color="#481d6f"/><path d="M523.5 526.8l4 4.9 3.6 3.6 4.1-4-3.7-3.6-3.9-4.8z" color="#3f4889"/><path d="M516 516.6l7.5 10.2 4.1-3.9-7.5-10.3z" color="#3c508b"/><path d="M412.7 565.4l7.8-9.9 4.2 3.1-7.8 10.2z" color="#472e7c"/><path d="M166.8 547.6l7.3-2.3 4.4-13-7.2 2.8z" color="#424086"/><path d="M400.8 570.7l7.7-9.5 4.2 4.2-7.7 9.6z" color="#482979"/><path d="M508.4 508l7.6 8.6 4.1-4-7.6-8.6z" color="#39568c"/><path d="M424.7 558.6l7.8-9.8 4.1 2-7.7 10.4z" color="#463480"/><path d="M531.1 535.3l5.5 3.2 4-4-5.4-3.2z" color="#404588"/><path d="M476.8 518.7l4.1-3.9 3.7-2.4 4.2-3.2-3.8 2.6-4.1 4.1z" color="#3a548c"/><path d="M320 416.4l3.9-3.2 3.6-1.2 4.3-41.9-3.6 1.6-4 4z" color="#20a386"/><path d="M264.1 543.7l7.5 4 4.7 10.1-7.5-4.2z" color="#453882"/><path d="M488.8 509.2l4.1-1.5 3.7 0 4.1-3.8-3.7 .2-4.1 1.6z" color="#375a8c"/><path d="M388.9 574l7.7-8.7 4.2 5.4-7.7 8.7z" color="#482576"/><path d="M298.8 564.5l7.5 .2 4.6 9.6-7.5-.3z" color="#482878"/><path d="M214.3 509.1l7.5 4.2 2.2 .9 2.5 1.9-7.5-6-2.5-.9z" color="#39568c"/><path d="M436.6 550.8l7.8-9.6 4.2 .5-7.8 10.5z" color="#443b84"/><path d="M162.4 559.1l7.3-1.3 4.4-12.5-7.3 2.3z" color="#453781"/><path d="M326.6 313.5l7.5-27.7 2.1-2.5 1.1-.3 1.2 .5-7.5 27.5-1.2-.3-1.1 .3z" color="#93d741"/><path d="M183 520.2l7.3-1.9 4.5-9-7.3 .8z" color="#39558c"/><path d="M194.8 509.3l7.4 .5 2.2-2.4 2.4-1.7-7.4-2.3z" color="#375b8d"/><path d="M145.9 573.8l7.3 .5 4.6-5.9-7.3-.2z" color="#482878"/><path d="M448.6 541.7l7.9-9.2 4.1-1-7.8 10.2z" color="#404588"/><path d="M342.6 425.6l7.6 16.7 4.3-37.6-7.6-19.4z" color="#1f978b"/><path d="M221.8 513.3l7.5 4.5 4.7 4.4-7.5-6.1-2.5-1.9z" color="#3a538b"/><path d="M271.6 547.7l7.6 3.2 4.6 10.1-7.5-3.2z" color="#453781"/><path d="M316.8 389.1l3.9-7.9 3.5-5.5 4.3-38.1-3.5 6.5-4 9.2z" color="#35b779"/><path d="M377 574.8l7.6-7.5 4.3 6.7-7.7 7.4z" color="#482576"/><path d="M157.8 568.4l7.4-.6 4.5-10-7.3 1.3z" color="#472f7d"/><path d="M366.5 397.5l7.5 31.9 4.4-24.5-7.5-35.1z" color="#1fa188"/><path d="M325.9 572.1l7.6-2.6 4.4 8.8-7.5 2.5z" color="#482576"/><path d="M317.9 347.4l7.5-25 4.3-23.2-7.4 26.8z" color="#6ccd5a"/><path d="M379.7 336.4l7.4 38.5 2.1-2.4 2.3-.4-7.5-38.2-1.2-.3-1 .4z" color="#40bd72"/><path d="M345.5 574.7l7.5-4.4 4.4 8.3-7.5 4.3z" color="#482475"/><path d="M178.5 532.3l7.4-2.4 4.4-11.6-7.3 1.9z" color="#3d4e8a"/><path d="M350.5 273.7l3.9-5.7 3.7-2.4 4.3 20-3.6 2.2-4 5.2z" color="#bade28"/><path d="M373.3 284l3.6 10.7 3.9 14.1 4.3 17.4-4-13.2-3.5-10z" color="#8bd646"/><path d="M496.6 507.7l3.6 1.3 4 2.9 4.2-3.9-4-2.8-3.7-1.3z" color="#375b8d"/><path d="M229.3 517.8l7.5 4.5 4.7 5.9-7.5-6z" color="#3c508b"/><path d="M460.6 531.5l7.9-8.1 4.1-2.3-7.8 9.1z" color="#3d4e8a"/><path d="M519.4 531l3.9 4.9 3.7 3.6 4.1-4.2-3.6-3.6-4-4.9z" color="#3f4889"/><path d="M322.3 326l7.4-26.8 2.3-8.4 2.1-5-7.5 27.7-2 4.7z" color="#8bd646"/><path d="M327.5 412l3.6 .5 3.9 2.6 4.3-41.7-3.9-2.9-3.6-.4z" color="#21a685"/><path d="M511.8 520.6l7.6 10.4 4.1-4.2-7.5-10.2z" color="#3c508b"/><path d="M306.3 564.7l7.6-.5 4.5 9.5-7.5 .6z" color="#472c7a"/><path d="M174.1 545.3l7.3-2.1 4.5-13.3-7.4 2.4z" color="#404588"/><path d="M504.2 511.9l7.6 8.7 4.2-4-7.6-8.6z" color="#39568c"/><path d="M527 539.5l5.5 3.3 4.1-4.3-5.5-3.2z" color="#414487"/><path d="M335 415.1l3.6 4.1 4 6.4 4.3-40.3-3.9-7.3-3.7-4.6z" color="#1fa287"/><path d="M202.2 509.8l7.5 1.6 2.2-1.6 2.4-.7-7.5-3.4-2.4 1.7z" color="#375b8d"/><path d="M279.2 550.9l7.5 2.2 4.6 10.1-7.5-2.2z" color="#453581"/><path d="M236.8 522.3l7.5 4.5 4.8 7.1-7.6-5.7z" color="#3d4e8a"/><path d="M472.6 521.1l4.2-3.4 3.7-2.1 4.1-3.2-3.7 2.4-4.1 3.9z" color="#39558c"/><path d="M169.7 557.8l7.3-1.5 4.4-13.1-7.3 2.1z" color="#443b84"/><path d="M365 573.3l7.6-6.2 4.4 7.7-7.7 6.2z" color="#482878"/><path d="M484.6 512.4l4.1-1.3 3.7 .2 4.2-3.6-3.7 0-4.1 1.5z" color="#375b8d"/><path d="M354.5 404.7l7.6 24.8 4.4-32-7.6-28.1z" color="#1fa287"/><path d="M190.3 518.3l7.4-.9 4.5-7.6-7.4-.5z" color="#38588c"/><path d="M153.2 574.3l7.3-.2 2.3-2.4 2.4-3.9-7.4 .6z" color="#472a7a"/><path d="M370.9 369.8l7.5 35.1 4.4-18.8-7.5-37.3z" color="#2cb17e"/><path d="M375.3 348.8l7.5 37.3 2.3-6.9 2-4.3-7.4-38.5-2.1 4.7z" color="#3bbb75"/><path d="M338.5 283.5l4-11.2 3.6-8 2.1 3.1 2.3 6.3-3.6 7.6-4 10.8-2.3-5.8z" color="#c0df25"/><path d="M165.2 567.8l7.3-.7 4.5-10.8-7.3 1.5z" color="#46337f"/><path d="M244.3 526.8l7.6 4.3 4.7 8-7.5-5.2z" color="#3e4a89"/><path d="M376.5 300.5l7.5 33.4 2.1 2.2 2.2 4.9-7.5-32.2-2.2-5.6z" color="#75d054"/><path d="M209.7 511.4l7.4 2.4 2.2-.7 2.5 .2-7.5-4.2-2.4 .7z" color="#375b8d"/><path d="M420.5 555.5l7.8-9 4.2 2.3-7.8 9.8z" color="#443b84"/><path d="M408.5 561.2l7.8-9.2 4.2 3.5-7.8 9.9z" color="#453781"/><path d="M432.5 548.8l7.8-8.5 4.1 .9-7.8 9.6z" color="#424186"/><path d="M185.9 529.9l7.3-1.5 4.5-11-7.4 .9z" color="#3b528b"/><path d="M286.7 553.1l7.5 1.3 4.6 10.1-7.5-1.3z" color="#453781"/><path d="M333.5 569.5l7.5-3.4 4.5 8.6-7.6 3.6z" color="#472c7a"/><path d="M365.7 269.1l3.6 5.7 4 9.2 4.3 19-4-8.6-3.6-5.4z" color="#b2dd2d"/><path d="M358.1 265.6l1.8-.3 1.8 .5 1.8 1.1 2.2 2.2 4.3 19.9-4-3.2-1.8-.4-1.8 .2z" color="#c2df23"/><path d="M396.6 565.3l7.7-8.8 4.2 4.7-7.7 9.5z" color="#46337f"/><path d="M492.4 511.3l3.7 1.5 4 3.1 4.1-4-4-2.9-3.6-1.3z" color="#375b8d"/><path d="M515.3 535.6l3.9 4.9 3.7 3.6 4.1-4.6-3.7-3.6-3.9-4.9zM444.4 541.2l7.9-8 4.2-.7-7.9 9.2z" color="#3f4889"/><path d="M313.9 564.2l7.5-1.4 4.5 9.3-7.5 1.6z" color="#472f7d"/><path d="M251.9 531.1l7.5 4 4.7 8.6-7.5-4.6z" color="#3f4889"/><path d="M507.7 525l7.6 10.6 4.1-4.6-7.6-10.4z" color="#3c4f8a"/><path d="M181.4 543.2l7.4-1.5 4.4-13.3-7.3 1.5z" color="#3e4989"/><path d="M353 570.3l7.7-5.1 4.3 8.1-7.6 5.3z" color="#472d7b"/><path d="M197.7 517.4l7.4 .2 2.2-3.5 2.4-2.7-7.5-1.6z" color="#375a8c"/><path d="M522.9 544.1l2.9 2.2 2.6 1.1 4.1-4.6-5.5-3.3z" color="#414487"/><path d="M500.1 515.9l7.6 9.1 4.1-4.4-7.6-8.7z" color="#39568c"/><path d="M217.1 513.8l7.5 2.9 2.2 0 2.5 1.1-7.5-4.5-2.5-.2z" color="#375a8c"/><path d="M456.5 532.5l7.8-6.9 4.2-2.2-7.9 8.1z" color="#3c508b"/><path d="M384.6 567.3l7.7-7.9 4.3 5.9-7.7 8.7z" color="#46327e"/><path d="M160.5 574.1l7.4-.5 2.2-2.5 2.4-4-7.3 .7-2.4 3.9z" color="#472e7c"/><path d="M177 556.3l7.3-1.1 4.5-13.5-7.4 1.5z" color="#424086"/><path d="M480.5 515.6l4.1-.9 3.7 .5 4.1-3.9-3.7-.2-4.1 1.3z" color="#375b8d"/><path d="M324.2 375.7l4-4 3.6-1.6 4.3-39.2-3.6 2-4 4.7z" color="#48c16e"/><path d="M321 353.3l4-9.2 3.5-6.5 4.4-32.6-3.6 7.2-3.9 10.2z" color="#6ccd5a"/><path d="M468.5 523.4l4.1-2.9 3.7-1.6 4.2-3.3-3.7 2.1-4.2 3.4z" color="#39568c"/><path d="M259.4 535.1l7.6 3.7 4.6 8.9-7.5-4z" color="#404688"/><path d="M172.5 567.1l7.3-.8 4.5-11.1-7.3 1.1z" color="#453781"/><path d="M294.2 554.4l7.6 .5 4.5 9.8-7.5-.2z" color="#453882"/><path d="M224.6 516.7l7.5 3.1 2.3 .7 2.4 1.8-7.5-4.5-2.5-1.1z" color="#38588c"/><path d="M346.9 385.3l7.6 19.4 4.4-35.3-4-12.3-3.6-9.5z" color="#2fb47c"/><path d="M193.2 528.4l7.4-.6 4.5-10.2-7.4-.2z" color="#39558c"/><path d="M372.6 567.1l7.7-6.7 4.3 6.9-7.6 7.5z" color="#46327e"/><path d="M358.9 369.4l7.6 28.1 4.4-27.7-7.6-30.8z" color="#38b977"/><path d="M205.1 517.6l7.4 1 2.2-2.8 2.4-2-7.4-2.4-2.4 2.7z" color="#375b8d"/><path d="M267 538.8l7.5 3 4.7 9.1-7.6-3.2z" color="#404588"/><path d="M511.1 540.6l4 5.1 3.6 3.6 4.2-5.2-3.7-3.6-3.9-4.9z" color="#3f4788"/><path d="M321.4 562.8l7.6-2 4.5 8.7-7.6 2.6z" color="#463480"/><path d="M488.3 515.2l3.6 1.8 4 3.3 4.2-4.4-4-3.1-3.7-1.5z" color="#365c8d"/><path d="M188.8 541.7l7.3-.9 4.5-13-7.4 .6z" color="#3d4e8a"/><path d="M341 566.1l7.6-4 4.4 8.2-7.5 4.4z" color="#46337f"/><path d="M503.5 529.8l7.6 10.8 4.2-5-7.6-10.6z" color="#3c4f8a"/><path d="M518.7 549.3l2.9 2.1 2.6 1.2 4.2-5.2-2.6-1.1-2.9-2.2z" color="#414287"/><path d="M167.9 573.6l7.3-.5 2.2-2.6 2.4-4.2-7.3 .8-2.4 4z" color="#46327e"/><path d="M232.1 519.8l7.5 3.2 2.3 1.3 2.4 2.5-7.5-4.5-2.4-1.8zM495.9 520.3l7.6 9.5 4.2-4.8-7.6-9.1z" color="#39568c"/><path d="M184.3 555.2l7.4-.8 4.4-13.6-7.3 .9z" color="#414487"/><path d="M334.1 285.8l3.9-11.3 3.6-8 2.2-2.5 1-.3 1.3 .6-3.6 8-4 11.2-1.2-.5-1.1 .3z" color="#d0e11c"/><path d="M372.2 302.8l7.5 33.6 2.1-2.4 1-.4 1.2 .3-7.5-33.4-1.2-.5-1.1 .3z" color="#84d44b"/><path d="M331.8 370.1l3.6 .4 3.9 2.9 4.4-39.1-4-3-3.6-.4z" color="#50c46a"/><path d="M428.3 546.5l7.8-7.1 4.2 .9-7.8 8.5z" color="#3f4788"/><path d="M339.3 373.4l3.7 4.6 3.9 7.3 4.4-37.7-4-8.1-3.6-5.2z" color="#44bf70"/><path d="M440.3 540.3l7.8-6.6 4.2-.5-7.9 8z" color="#3d4d8a"/><path d="M301.8 554.9l7.5-.1 4.6 9.4-7.6 .5zM179.8 566.3l7.4-.5 4.5-11.4-7.4 .8z" color="#443a83"/><path d="M416.3 552l7.8-7.6 4.2 2.1-7.8 9z" color="#414287"/><path d="M212.5 518.6l7.5 1.5 2.2-2.2 2.4-1.2-7.5-2.9-2.4 2z" color="#375b8d"/><path d="M360.7 565.2l7.6-5.5 4.3 7.4-7.6 6.2z" color="#453581"/><path d="M476.3 518.9l4.1-.4 3.7 .9 4.2-4.2-3.7-.5-4.1 .9z" color="#365c8d"/><path d="M452.3 533.2l4.1-3.3 3.7-2.2 4.2-2.1-7.8 6.9z" color="#3b528b"/><path d="M368.9 274.8l3.7 11.1 3.9 14.6 2.1 2.7 2.2 5.6-3.9-14.1-3.6-10.7-2.3-6.2z" color="#b2dd2d"/><path d="M274.5 541.8l7.6 2.3 4.6 9-7.5-2.2z" color="#404588"/><path d="M200.6 527.8l7.4 0 4.5-9.2-7.4-1z" color="#38588c"/><path d="M325.4 322.4l3.9-10.2 3.6-7.2 4.3-24.5-3.6 7.7-3.9 11z" color="#a2da37"/><path d="M464.3 525.6l4.1-2.3 3.7-1 4.2-3.4-3.7 1.6-4.1 2.9z" color="#38588c"/><path d="M404.3 556.5l7.7-7.9 4.3 3.4-7.8 9.2z" color="#423f85"/><path d="M346.1 264.3l3.9-5.9 3.7-2.6 2.1 3.2 2.3 6.6-3.7 2.4-3.9 5.7-2.3-6.3z" color="#e5e419"/><path d="M239.6 523l7.6 3.3 2.2 1.8 2.5 3-7.6-4.3-2.4-2.5z" color="#3a548c"/><path d="M363.3 339l7.6 30.8 4.4-21-7.5-32.7z" color="#5ec962"/><path d="M392.3 559.4l7.7-7.5 4.3 4.6-7.7 8.8z" color="#433e85"/><path d="M506.9 546.3l4 5.1 3.6 3.7 4.2-5.8-3.6-3.6-4-5.1z" color="#404688"/><path d="M196.1 540.8l7.5-.4 4.4-12.6-7.4 0z" color="#3c508b"/><path d="M329.7 299.2l3.9-11 3.6-7.7 2.3-8.8 2.1-5.2-3.6 8-3.9 11.3-2.1 5z" color="#c5e021"/><path d="M367.8 316.1l7.5 32.7 2.3-7.7 2.1-4.7-7.5-33.6-2.1 5z" color="#7ad151"/><path d="M499.3 535.2l7.6 11.1 4.2-5.7-7.6-10.8z" color="#3d4e8a"/><path d="M175.2 573.1l7.4-.4 2.2-2.6 2.4-4.3-7.4 .5-2.4 4.2z" color="#463480"/><path d="M514.5 555.1l3 2.1 2.5 1.2 4.2-5.8-2.6-1.2-2.9-2.1z" color="#424186"/><path d="M484.1 519.4l3.6 2.2 4 3.7 4.2-5-4-3.3-3.6-1.8zM220 520.1l7.5 1.8 2.2-1.6 2.4-.5-7.5-3.1-2.4 1.2z" color="#375b8d"/><path d="M191.7 554.4l7.4-.4 4.5-13.6-7.5 .4z" color="#3f4788"/><path d="M247.2 526.3l7.5 3.3 2.3 2.2 2.4 3.3-7.5-4-2.5-3z" color="#3a538b"/><path d="M329 560.8l7.6-2.6 4.4 7.9-7.5 3.4z" color="#443a83"/><path d="M491.7 525.3l7.6 9.9 4.2-5.4-7.6-9.5z" color="#39558c"/><path d="M282.1 544.1l7.5 1.5 4.6 8.8-7.5-1.3z" color="#404688"/><path d="M380.3 560.4l7.7-6.6 4.3 5.6-7.7 7.9z" color="#433d84"/><path d="M208 527.8l7.5 .6 4.5-8.3-7.5-1.5z" color="#38598c"/><path d="M348.6 562.1l7.7-4.3 4.4 7.4-7.7 5.1z" color="#443a83"/><path d="M328.5 337.6l4-4.7 3.6-2 4.4-33.6-3.7 2.3-3.9 5.4z" color="#8bd646"/><path d="M187.2 565.8l7.4-.3 4.5-11.5-7.4 .4zM309.3 554.8l7.6-.6 4.5 8.6-7.5 1.4z" color="#433e85"/><path d="M351.3 347.6l3.6 9.5 4 12.3 4.4-30.4-3.9-13.5-3.7-10.3z" color="#63cb5f"/><path d="M472.1 522.3l4.1 .3 3.7 1.4 4.2-4.6-3.7-.9-4.1 .4z" color="#365c8d"/><path d="M361.3 259.4l3.6 5.9 4 9.5 2.1 3 2.3 6.2-4-9.2-3.6-5.7-2.3-6.5z" color="#dde318"/><path d="M254.7 529.6l7.6 3.3 2.2 2.3 2.5 3.6-7.6-3.7-2.4-3.3z" color="#3b528b"/><path d="M353.7 255.8l1.8-.3 1.8 .5 1.8 1.1 2.2 2.3 2.1 3.2 2.3 6.5-2.2-2.2-1.8-1.1-1.8-.5-1.8 .3-2.3-6.6z" color="#efe51c"/><path d="M227.5 521.9l7.5 2 2.2-1.1 2.4 .2-7.5-3.2-2.4 .5z" color="#375b8d"/><path d="M203.6 540.4l7.4 0 4.5-12-7.5-.6z" color="#3b528b"/><path d="M460.1 527.7l4.1-1.4 3.7-.3 4.2-3.7-3.7 1-4.1 2.3z" color="#38598c"/><path d="M502.7 552.4l4 5.2 3.6 3.7 4.2-6.2-3.6-3.7-4-5.1z" color="#414487"/><path d="M448.1 533.7l4.1-2.4 3.7-1.4 4.2-2.2-3.7 2.2-4.1 3.3z" color="#39558c"/><path d="M368.3 559.7l7.7-5.4 4.3 6.1-7.7 6.7z" color="#423f85"/><path d="M436.1 539.4l7.8-4.9 4.2-.8-7.8 6.6z" color="#3b518b"/><path d="M495.1 541.1l7.6 11.3 4.2-6.1-7.6-11.1z" color="#3e4c8a"/><path d="M182.6 572.7l7.4-.3 2.2-2.6 2.4-4.3-7.4 .3-2.4 4.3z" color="#453882"/><path d="M510.3 561.3l3 2.2 2.6 1.2 4.1-6.3-2.5-1.2-3-2.1z" color="#423f85"/><path d="M289.6 545.6l7.6 .9 4.6 8.4-7.6-.5z" color="#3f4788"/><path d="M199.1 554l7.4-.2 4.5-13.4-7.4 0z" color="#3e4989"/><path d="M424.1 544.4l7.7-5.5 4.3 .5-7.8 7.1z" color="#3d4d8a"/><path d="M215.5 528.4l7.4 .8 2.4-4.4 2.2-2.9-7.5-1.8zM479.9 524l3.6 2.6 4 4.1 4.2-5.4-4-3.7-3.6-2.2z" color="#375a8c"/><path d="M487.5 530.7l7.6 10.4 4.2-5.9-7.6-9.9z" color="#3a548c"/><path d="M262.3 532.9l7.5 2.8 4.7 6.1-7.5-3-2.5-3.6z" color="#3b518b"/><path d="M412 548.6l7.8-5.9 4.3 1.7-7.8 7.6z" color="#3e4a89"/><path d="M194.6 565.5l7.5-.2 4.4-11.5-7.4 .2z" color="#424086"/><path d="M364.6 277l3.6 11.1 4 14.7 2-2.5 1.1-.3 1.2 .5-3.9-14.6-3.7-11.1-1.2-.6-1.1 .3z" color="#c2df23"/><path d="M235 523.9l7.5 2.4 2.2-.7 2.5 .7-7.6-3.3-2.4-.2z" color="#375b8d"/><path d="M336.6 558.2l7.6-3 4.4 6.9-7.6 4z" color="#424086"/><path d="M316.9 554.2l7.6-1.1 4.5 7.7-7.6 2z" color="#414287"/><path d="M336.1 330.9l3.6 .4 4 3 4.4-33.5-4-3.2-1.8-.5-1.8 .2z" color="#93d741"/><path d="M343.7 334.3l3.6 5.2 4 8.1 4.4-32.4-4-8.8-3.6-5.6z" color="#84d44b"/><path d="M341.6 266.5l4-5.9 3.7-2.6 2.1-2.6 1-.2 1.3 .6-3.7 2.6-3.9 5.9-1.3-.6-1 .3z" color="#f6e620"/><path d="M400 551.9l7.8-6 4.2 2.7-7.7 7.9z" color="#3f4889"/><path d="M211 540.4l7.5 .2 4.4-11.4-7.4-.8z" color="#3a548c"/><path d="M355.7 315.2l3.7 10.3 3.9 13.5 4.5-22.9-4-14.3-3.7-10.9z" color="#95d840"/><path d="M332.9 305l3.9-5.4 3.7-2.3 4.3-25.1-3.6 2.5-4 5.8z" color="#c5e021"/><path d="M467.9 526l4.1 .9 3.6 1.9 4.3-4.8-3.7-1.4-4.1-.3z" color="#365c8d"/><path d="M498.5 558.9l4 5.2 3.6 3.7 4.2-6.5-3.6-3.7-4-5.2z" color="#424186"/><path d="M356.3 557.8l7.6-4.1 4.4 6-7.6 5.5z" color="#414287"/><path d="M269.8 535.7l7.6 2.3 4.7 6.1-7.6-2.3z" color="#3b518b"/><path d="M222.9 529.2l7.5 1.1 2.4-4 2.2-2.4-7.5-2-2.2 2.9z" color="#375b8d"/><path d="M297.2 546.5l7.6 .5 4.5 7.8-7.5 .1zM490.9 547.4l7.6 11.5 4.2-6.5-7.6-11.3z" color="#3e4989"/><path d="M506.1 567.8l3 2.2 2.6 1.2 4.2-6.5-2.6-1.2-3-2.2z" color="#433d84"/><path d="M190 572.4l7.5-.1 2.2-2.6 2.4-4.4-7.5 .2-2.4 4.3z" color="#443a83"/><path d="M388 553.8l7.7-5.5 4.3 3.6-7.7 7.5z" color="#3f4788"/><path d="M206.5 553.8l7.5 0 4.5-13.2-7.5-.2z" color="#3e4c8a"/><path d="M242.5 526.3l7.6 2.6 2.2-.3 2.4 1-7.5-3.3-2.5-.7z" color="#375a8c"/><path d="M360.1 290.9l3.7 10.9 4 14.3 2.3-8.3 2.1-5-4-14.7-3.6-11.1-2.1 5.2z" color="#bade28"/><path d="M455.9 529.9l4.1-.6 3.7 .5 4.2-3.8-3.7 .3-4.1 1.4z" color="#375a8c"/><path d="M483.3 536.4l7.6 11 4.2-6.3-7.6-10.4z" color="#3b528b"/><path d="M337.2 280.5l4-5.8 3.6-2.5 2.4-8.9 2.1-5.3-3.7 2.6-4 5.9-2.1 5.2z" color="#eae51a"/><path d="M475.6 528.8l3.7 3.1 4 4.5 4.2-5.7-4-4.1-3.6-2.6z" color="#38598c"/><path d="M202.1 565.3l7.4 0 4.5-11.5-7.5 0z" color="#414287"/><path d="M443.9 534.5l4.1-1.4 3.7-.6 4.2-2.6-3.7 1.4-4.1 2.4z" color="#38588c"/><path d="M376 554.3l7.7-4.7 4.3 4.2-7.7 6.6zM324.5 553.1l7.6-1.4 4.5 6.5-7.6 2.6z" color="#3f4788"/><path d="M356.9 261.5l3.7 6 4 9.5 2-2.5 1.1-.3 1.2 .6-4-9.5-3.6-5.9-1.2-.7-1.1 .3z" color="#efe51c"/><path d="M218.5 540.6l7.4 .6 4.5-10.9-7.5-1.1z" color="#39568c"/><path d="M431.8 538.9l4.1-1.9 3.7-1 4.3-1.5-7.8 4.9z" color="#3a548c"/><path d="M250.1 528.9l7.5 2.8 2.2-.1 2.5 1.3-7.6-3.3-2.4-1z" color="#375a8c"/><path d="M277.4 538l7.6 1.7 2.2 2.3 2.4 3.6-7.5-1.5z" color="#3b518b"/><path d="M349.3 258l1.8-.3 1.8 .4 1.8 1.1 2.2 2.3 2.1-2.5 1.1-.3 1.2 .7-2.2-2.3-1.8-1.1-1.8-.5-1.8 .3-1.3-.6-1 .2z" color="#fde725"/><path d="M230.4 530.3l7.6 1.6 2.3-3.6 2.2-2-7.5-2.4-2.2 2.4z" color="#365c8d"/><path d="M344.2 555.2l7.7-2.9 4.4 5.5-7.7 4.3z" color="#404688"/><path d="M494.3 565.6l4 5.2 3.6 3.7 4.2-6.7-3.6-3.7-4-5.2z" color="#433e85"/><path d="M419.8 542.7l7.8-3.4 4.2-.4-7.7 5.5z" color="#3b528b"/><path d="M304.8 547l7.6 .4 4.5 6.8-7.6 .6z" color="#3e4c8a"/><path d="M348.1 300.8l3.6 5.6 4 8.8 4.4-24.3-4-9.3-3.6-5.8z" color="#c0df25"/><path d="M501.9 574.5l2.9 2.1 2.6 1.2 4.3-6.6-2.6-1.2-3-2.2z" color="#443a83"/><path d="M486.7 553.9l7.6 11.7 4.2-6.7-7.6-11.5z" color="#3f4788"/><path d="M214 553.8l7.5 .3 4.4-12.9-7.4-.6z" color="#3d4e8a"/><path d="M340.5 297.3l1.8-.2 1.8 .5 4 3.2 4.4-25-2.2-2.3-1.8-1.1-1.8-.4-1.9 .2z" color="#d0e11c"/><path d="M197.5 572.3l7.4 0 2.2-2.7 2.4-4.3-7.4 0-2.4 4.4z" color="#433d84"/><path d="M463.7 529.8l3.7 1.4 4 2.8 4.2-5.2-3.6-1.9-4.1-.9z" color="#375b8d"/><path d="M407.8 545.9l7.7-3.8 4.3 .6-7.8 5.9zM479.1 542.5l7.6 11.4 4.2-6.5-7.6-11z" color="#3c508b"/><path d="M209.5 565.3l7.5 .2 4.5-11.4-7.5-.3z" color="#404588"/><path d="M363.9 553.7l7.7-3.6 4.4 4.2-7.7 5.4z" color="#3e4989"/><path d="M257.6 531.7l7.6 2.7 2.2-.1 2.4 1.4-7.5-2.8-2.5-1.3z" color="#38598c"/><path d="M471.4 534l3.7 3.6 4 4.9 4.2-6.1-4-4.5-3.7-3.1z" color="#38588c"/><path d="M352.5 275.8l3.6 5.8 4 9.3 2.4-8.7 2.1-5.2-4-9.5-3.7-6-2.1 5.3z" color="#e5e419"/><path d="M344.8 272.2l1.9-.2 1.8 .4 1.8 1.1 2.2 2.3 2.3-9 2.1-5.3-2.2-2.3-1.8-1.1-1.8-.4-1.8 .3-2.1 5.3z" color="#f6e620"/><path d="M238 531.9l7.5 2.1 2.4-3.4 2.2-1.7-7.6-2.6-2.2 2z" color="#365c8d"/><path d="M225.9 541.2l7.6 1.1 4.5-10.4-7.6-1.6z" color="#38588c"/><path d="M285 539.7l7.6 1.4 2.2 2.1 2.4 3.3-7.6-.9-2.4-3.6z" color="#3b528b"/><path d="M451.7 532.5l4 .4 3.7 1.2 4.3-4.3-3.7-.5-4.1 .6z" color="#375b8d"/><path d="M395.7 548.3l7.8-3.8 4.3 1.4-7.8 6z" color="#3c4f8a"/><path d="M490 572.5l4 5.1 3.7 3.7 4.2-6.8-3.6-3.7-4-5.2z" color="#443b84"/><path d="M332.1 551.7l7.7-1.5 4.4 5-7.6 3z" color="#3e4c8a"/><path d="M221.5 554.1l7.5 .8 4.5-12.6-7.6-1.1z" color="#3c508b"/><path d="M439.6 536l4.1-.4 3.7 .3 4.3-3.4-3.7 .6-4.1 1.4z" color="#375a8c"/><path d="M497.7 581.3l2.9 2.1 2.6 1.2 4.2-6.8-2.6-1.2-2.9-2.1z" color="#453781"/><path d="M482.4 560.8l7.6 11.7 4.3-6.9-7.6-11.7z" color="#414487"/><path d="M312.4 547.4l7.6 .2 4.5 5.5-7.6 1.1z" color="#3d4e8a"/><path d="M204.9 572.3l7.5 .2 2.2-2.6 2.4-4.4-7.5-.2-2.4 4.3z" color="#424086"/><path d="M265.2 534.4l7.6 2.3 2.2-.1 2.4 1.4-7.6-2.3-2.4-1.4z" color="#38598c"/><path d="M383.7 549.6l7.7-3.3 4.3 2-7.7 5.5z" color="#3c4f8a"/><path d="M351.9 552.3l7.6-2.5 4.4 3.9-7.6 4.1z" color="#3d4d8a"/><path d="M245.5 534l7.6 2.3 2.4-3.1 2.1-1.5-7.5-2.8-2.2 1.7z" color="#365c8d"/><path d="M459.4 534.1l3.7 2.1 4 3.4 4.3-5.6-4-2.8-3.7-1.4z" color="#375b8d"/><path d="M217 565.5l7.5 .7 4.5-11.3-7.5-.8z" color="#3f4788"/><path d="M427.6 539.3l4.1-.8 3.7 0 4.2-2.5-3.7 1-4.1 1.9z" color="#38588c"/><path d="M474.8 549l7.6 11.8 4.3-6.9-7.6-11.4z" color="#3d4e8a"/><path d="M233.5 542.3l7.5 1.6 4.5-9.9-7.5-2.1z" color="#38588c"/><path d="M292.6 541.1l7.6 1.4 2.2 1.6 2.4 2.9-7.6-.5-2.4-3.3z" color="#3a538b"/><path d="M467.1 539.6l7.7 9.4 4.3-6.5-4-4.9-3.7-3.6zM415.5 542.1l4.1-.9 3.7-.3 4.3-1.6-7.8 3.4z" color="#39568c"/><path d="M485.7 579.7l4.1 5 3.6 3.6 4.3-7-3.7-3.7-4-5.1z" color="#453882"/><path d="M229 554.9l7.5 1.4 4.5-12.4-7.5-1.6z" color="#3b518b"/><path d="M371.6 550.1l7.7-2.6 4.4 2.1-7.7 4.7z" color="#3c508b"/><path d="M447.4 535.9l4.1 1.3 3.7 2 4.2-5.1-3.7-1.2-4-.4z" color="#375b8d"/><path d="M272.8 536.7l7.6 2 2.2-.2 2.4 1.2-7.6-1.7-2.4-1.4z" color="#38598c"/><path d="M478.1 568.1l7.6 11.6 4.3-7.2-7.6-11.7z" color="#424186"/><path d="M493.4 588.3l5.6 3.2 4.2-6.9-2.6-1.2-2.9-2.1z" color="#463480"/><path d="M253.1 536.3l7.5 2.5 2.4-3.1 2.2-1.3-7.6-2.7-2.1 1.5z" color="#365c8d"/><path d="M212.4 572.5l7.5 .7 2.2-2.6 2.4-4.4-7.5-.7-2.4 4.4z" color="#424186"/><path d="M320 547.6l7.6 .1 4.5 4-7.6 1.4z" color="#3b518b"/><path d="M403.5 544.5l4-1.1 3.7-.4 4.3-.9-7.7 3.8z" color="#39558c"/><path d="M241 543.9l7.6 2.1 4.5-9.7-7.6-2.3z" color="#38598c"/><path d="M339.8 550.2l7.6-1.2 4.5 3.3-7.7 2.9z" color="#3c508b"/><path d="M224.5 566.2l7.5 1.3 4.5-11.2-7.5-1.4z" color="#3f4889"/><path d="M470.5 556.2l7.6 11.9 4.3-7.3-7.6-11.8z" color="#3e4a89"/><path d="M435.4 538.5l4 .7 3.7 1.3 4.3-4.6-3.7-.3-4.1 .4z" color="#375b8d"/><path d="M300.2 542.5l7.6 1.4 2.2 1.1 2.4 2.4-7.6-.4-2.4-2.9z" color="#39558c"/><path d="M455.2 539.2l3.6 2.9 4.1 4 4.2-6.5-4-3.4-3.7-2.1z" color="#375a8c"/><path d="M462.9 546.1l7.6 10.1 4.3-7.2-7.7-9.4z" color="#3a538b"/><path d="M359.5 549.8l7.7-1.6 4.4 1.9-7.7 3.6z" color="#3b528b"/><path d="M236.5 556.3l7.6 1.9 4.5-12.2-7.6-2.1z" color="#3b518b"/><path d="M391.4 546.3l7.8-1.5 4.3-.3-7.8 3.8z" color="#39558c"/><path d="M260.6 538.8l7.6 2.4 2.4-3.1 2.2-1.4-7.6-2.3-2.2 1.3z" color="#365c8d"/><path d="M481.5 587.3l4 4.7 3.7 3.5 4.2-7.2-3.6-3.6-4.1-5z" color="#453581"/><path d="M280.4 538.7l7.6 1.9 2.2-.4 2.4 .9-7.6-1.4-2.4-1.2zM423.3 540.9l3.7 .4 4.1 1.1 4.3-3.9-3.7 0-4.1 .8z" color="#375a8c"/><path d="M473.8 576.1l7.7 11.2 4.2-7.6-7.6-11.6z" color="#433e85"/><path d="M219.9 573.2l7.5 1.2 2.2-2.6 2.4-4.3-7.5-1.3-2.4 4.4z" color="#414487"/><path d="M248.6 546l7.5 2.4 4.5-9.6-7.5-2.5z" color="#38598c"/><path d="M489.2 595.5l5.5 3.1 4.3-7.1-5.6-3.2z" color="#46307e"/><path d="M232 567.5l7.6 1.8 4.5-11.1-7.6-1.9z" color="#3e4989"/><path d="M443.1 540.5l4.1 2.3 3.7 2.8 4.3-6.4-3.7-2-4.1-1.3z" color="#375b8d"/><path d="M466.2 564.3l7.6 11.8 4.3-8-7.6-11.9z" color="#3f4788"/><path d="M327.6 547.7l7.7 .1 2.1 .8 2.4 1.6-7.7 1.5z" color="#3a548c"/><path d="M379.3 547.5l7.8-1 2-.4 2.3 .2-7.7 3.3z" color="#39558c"/><path d="M307.8 543.9l7.7 1.5 2.1 .5 2.4 1.7-7.6-.2-2.4-2.4z" color="#39568c"/><path d="M411.2 543l3.7 .2 4.1 .8 4.3-3.1-3.7 .3-4.1 .9z" color="#375a8c"/><path d="M244.1 558.2l7.5 2.3 4.5-12.1-7.5-2.4z" color="#3b518b"/><path d="M347.4 549l7.7-.5 2.1 .3 2.3 1-7.6 2.5z" color="#3a548c"/><path d="M458.5 553.6l7.7 10.7 4.3-8.1-7.6-10.1z" color="#3c508b"/><path d="M450.9 545.6l7.6 8 4.4-7.5-4.1-4-3.6-2.9z" color="#39568c"/><path d="M268.2 541.2l7.6 2.2 2.4-3.2 2.2-1.5-7.6-2-2.2 1.4z" color="#365c8d"/><path d="M288 540.6l7.6 2.1 2.2-.8 2.4 .6-7.6-1.4-2.4-.9z" color="#375b8d"/><path d="M477.2 595.1l4 4.4 3.7 3.2 4.3-7.2-3.7-3.5-4-4.7z" color="#46327e"/><path d="M431.1 542.4l7.7 4.1 4.3-6-3.7-1.3-4-.7z" color="#375b8d"/><path d="M256.1 548.4l7.6 2.3 4.5-9.5-7.6-2.4z" color="#38598c"/><path d="M469.5 584.6l7.7 10.5 4.3-7.8-7.7-11.2z" color="#443983"/><path d="M227.4 574.4l7.6 1.8 2.2-2.6 2.4-4.3-7.6-1.8-2.4 4.3z" color="#414487"/><path d="M239.6 569.3l7.5 2.2 4.5-11-7.5-2.3z" color="#3e4989"/><path d="M399.2 544.8l7.7 .8 4.3-2.6-3.7 .4-4 1.1z" color="#38598c"/><path d="M367.2 548.2l7.7-.2 2.1-.6 2.3 .1-7.7 2.6z" color="#39568c"/><path d="M484.9 602.7l5.5 3 4.3-7.1-5.5-3.1z" color="#472d7b"/><path d="M461.9 573.1l7.6 11.5 4.3-8.5-7.6-11.8z" color="#414287"/><path d="M438.8 546.5l7.7 6.7 4.4-7.6-3.7-2.8-4.1-2.3z" color="#38598c"/><path d="M251.6 560.5l7.6 2.4 4.5-12.2-7.6-2.3z" color="#3b518b"/><path d="M419 544l7.7 3.7 4.4-5.3-4.1-1.1-3.7-.4z" color="#375b8d"/><path d="M315.5 545.4l7.6 1.6 2.2-.2 2.3 .9-7.6-.1-2.4-1.7z" color="#38598c"/><path d="M275.8 543.4l7.7 2.4 2.3-3.4 2.2-1.8-7.6-1.9-2.2 1.5z" color="#365c8d"/><path d="M454.2 562.2l7.7 10.9 4.3-8.8-7.7-10.7z" color="#3e4c8a"/><path d="M335.3 547.8l7.7 .7 2.1-.2 2.3 .7-7.6 1.2-2.4-1.6z" color="#39568c"/><path d="M446.5 553.2l7.7 9 4.3-8.6-7.6-8z" color="#3a538b"/><path d="M295.6 542.7l7.7 2.5 2.1-1.3 2.4 0-7.6-1.4-2.4-.6z" color="#375b8d"/><path d="M387.1 546.5l7.7 .8 4.4-2.5-7.8 1.5-2.3-.2zM263.7 550.7l7.6 2.5 4.5-9.8-7.6-2.2z" color="#38598c"/><path d="M465.2 593.2l7.7 9.5 4.3-7.6-7.7-10.5z" color="#463480"/><path d="M472.9 602.7l7.7 7 4.3-7-3.7-3.2-4-4.4z" color="#472e7c"/><path d="M355.1 548.5l7.7 .6 2.1-.7 2.3-.2-7.7 1.6-2.3-1z" color="#38588c"/><path d="M235 576.2l7.6 2.2 2.2-2.7 2.3-4.2-7.5-2.2-2.4 4.3z" color="#404588"/><path d="M247.1 571.5l7.6 2.4 4.5-11-7.6-2.4z" color="#3e4989"/><path d="M457.5 582.4l7.7 10.8 4.3-8.6-7.6-11.5z" color="#433e85"/><path d="M406.9 545.6l7.7 3.2 4.4-4.8-4.1-.8-3.7-.2z" color="#375b8d"/><path d="M426.7 547.7l7.8 5.9 4.3-7.1-7.7-4.1z" color="#38598c"/><path d="M480.6 609.7l5.6 2.8 4.2-6.8-5.5-3z" color="#472a7a"/><path d="M259.2 562.9l7.7 2.6 4.4-12.3-7.6-2.5z" color="#3b518b"/><path d="M374.9 548l7.8 1.2 4.4-2.7-7.8 1-2.3-.1z" color="#38598c"/><path d="M449.9 571.5l7.6 10.9 4.4-9.3-7.7-10.9z" color="#3f4788"/><path d="M283.5 545.8l7.6 2.7 2.4-3.7 2.1-2.1-7.6-2.1-2.2 1.8z" color="#365c8d"/><path d="M434.5 553.6l7.7 8.1 4.3-8.5-7.7-6.7z" color="#39558c"/><path d="M442.2 561.7l7.7 9.8 4.3-9.3-7.7-9z" color="#3c4f8a"/><path d="M303.3 545.2l7.6 2.7 2.2-1.8 2.4-.7-7.7-1.5-2.4 0z" color="#375b8d"/><path d="M323.1 547l7.7 1.9 2.1-1 2.4-.1-7.7-.1-2.3-.9z" color="#375a8c"/><path d="M271.3 553.2l7.7 2.7 4.5-10.1-7.7-2.4zM343 548.5l7.7 1.5 2.1-1.1 2.3-.4-7.7 .5-2.3-.7z" color="#38598c"/><path d="M242.6 578.4l7.6 2.4 2.2-2.6 2.3-4.3-7.6-2.4-2.3 4.2z" color="#404588"/><path d="M254.7 573.9l7.7 2.7 4.5-11.1-7.7-2.6z" color="#3e4989"/><path d="M394.8 547.3l7.7 2.9 4.4-4.6-7.7-.8z" color="#375b8d"/><path d="M460.9 601.5l7.7 8.4 4.3-7.2-7.7-9.5z" color="#46307e"/><path d="M414.6 548.8l7.8 5.5 4.3-6.6-7.7-3.7z" color="#375a8c"/><path d="M453.2 591.6l7.7 9.9 4.3-8.3-7.7-10.8z" color="#443983"/><path d="M468.6 609.9l7.7 6.1 4.3-6.3-7.7-7z" color="#472a7a"/><path d="M362.8 549.1l7.7 2 4.4-3.1-7.7 .2-2.3 .2z" color="#375a8c"/><path d="M266.9 565.5l7.6 2.9 4.5-12.5-7.7-2.7z" color="#3b518b"/><path d="M445.5 581.1l7.7 10.5 4.3-9.2-7.6-10.9z" color="#424186"/><path d="M291.1 548.5l7.7 3.3 2.3-4.1 2.2-2.5-7.7-2.5-2.1 2.1z" color="#365c8d"/><path d="M422.4 554.3l7.7 7.5 4.4-8.2-7.8-5.9z" color="#39568c"/><path d="M437.8 571l7.7 10.1 4.4-9.6-7.7-9.8z" color="#3e4989"/><path d="M279 555.9l7.6 3.3 4.5-10.7-7.6-2.7z" color="#38588c"/><path d="M382.7 549.2l7.7 2.9 4.4-4.8-7.7-.8z" color="#375b8d"/><path d="M476.3 616l5.6 2.6 4.3-6.1-5.6-2.8z" color="#482878"/><path d="M430.1 561.8l7.7 9.2 4.4-9.3-7.7-8.1z" color="#3b518b"/><path d="M310.9 547.9l7.7 3 2.2-2.4 2.3-1.5-7.6-1.6-2.4 .7z" color="#365c8d"/><path d="M402.5 550.2l7.8 5 4.3-6.4-7.7-3.2z" color="#375a8c"/><path d="M262.4 576.6l7.6 3.1 4.5-11.3-7.6-2.9z" color="#3e4989"/><path d="M330.8 548.9l7.7 2.4 2.1-1.8 2.4-1-7.7-.7-2.4 .1z" color="#375b8d"/><path d="M250.2 580.8l7.6 2.7 2.2-2.6 2.4-4.3-7.7-2.7-2.3 4.3z" color="#404588"/><path d="M350.7 550l7.7 2.7 4.4-3.6-7.7-.6-2.3 .4z" color="#375b8d"/><path d="M448.8 600.4l7.7 8.7 4.4-7.6-7.7-9.9z" color="#463480"/><path d="M274.5 568.4l7.6 3.5 4.5-12.7-7.6-3.3z" color="#3c508b"/><path d="M456.5 609.1l7.8 7.1 4.3-6.3-7.7-8.4z" color="#472d7b"/><path d="M441.1 590.7l7.7 9.7 4.4-8.8-7.7-10.5z" color="#443b84"/><path d="M370.5 551.1l7.8 3.4 4.4-5.3-7.8-1.2zM298.8 551.8l7.6 3.7 2.4-4.6 2.1-3-7.6-2.7-2.2 2.5z" color="#375b8d"/><path d="M410.3 555.2l7.7 7 4.4-7.9-7.8-5.5zM286.6 559.2l7.7 3.8 4.5-11.2-7.7-3.3z" color="#38588c"/><path d="M433.4 580.6l7.7 10.1 4.4-9.6-7.7-10.1z" color="#404588"/><path d="M390.4 552.1l7.7 4.7 4.4-6.6-7.7-2.9z" color="#375a8c"/><path d="M464.3 616.2l7.7 5.2 4.3-5.4-7.7-6.1z" color="#482878"/><path d="M418 562.2l7.7 8.7 4.4-9.1-7.7-7.5z" color="#3b528b"/><path d="M425.7 570.9l7.7 9.7 4.4-9.6-7.7-9.2z" color="#3e4c8a"/><path d="M318.6 550.9l7.7 3.3 2.1-3.1 2.4-2.2-7.7-1.9-2.3 1.5z" color="#375b8d"/><path d="M270 579.7l7.6 3.7 4.5-11.5-7.6-3.5z" color="#3f4889"/><path d="M257.8 583.5l7.6 3.2 2.2-2.7 2.4-4.3-7.6-3.1-2.4 4.3z" color="#414487"/><path d="M338.5 551.3l7.7 3.4 4.5-4.7-7.7-1.5-2.4 1z" color="#375b8d"/><path d="M282.1 571.9l7.7 4.1 4.5-13-7.7-3.8z" color="#3c4f8a"/><path d="M358.4 552.7l7.7 4.1 4.4-5.7-7.7-2z" color="#375b8d"/><path d="M472 621.4l5.6 2.4 4.3-5.2-5.6-2.6z" color="#482576"/><path d="M306.4 555.5l7.7 4 4.5-8.6-7.7-3-2.1 3z" color="#375a8c"/><path d="M398.1 556.8l7.8 6.5 4.4-8.1-7.8-5z" color="#38588c"/><path d="M378.3 554.5l7.7 4.8 4.4-7.2-7.7-2.9z" color="#375a8c"/><path d="M294.3 563l7.7 4.2 4.4-11.7-7.6-3.7z" color="#39558c"/><path d="M436.7 600.2l7.8 8.7 4.3-8.5-7.7-9.7z" color="#453781"/><path d="M444.5 608.9l7.7 7.2 4.3-7-7.7-8.7z" color="#472f7d"/><path d="M429 590.6l7.7 9.6 4.4-9.5-7.7-10.1z" color="#433e85"/><path d="M277.6 583.4l7.7 4.2 4.5-11.6-7.7-4.1z" color="#3f4788"/><path d="M405.9 563.3l7.7 8.1 4.4-9.2-7.7-7z" color="#3a538b"/><path d="M421.3 580.7l7.7 9.9 4.4-10-7.7-9.7z" color="#404688"/><path d="M452.2 616.1l7.8 5.7 4.3-5.6-7.8-7.1z" color="#472a7a"/><path d="M326.3 554.2l7.7 3.8 4.5-6.7-7.7-2.4-2.4 2.2z" color="#375b8d"/><path d="M413.6 571.4l7.7 9.3 4.4-9.8-7.7-8.7z" color="#3d4e8a"/><path d="M265.4 586.7l7.7 3.7 2.2-2.7 2.3-4.3-7.6-3.7-2.4 4.3z" color="#414287"/><path d="M289.8 576l7.7 4.6 4.5-13.4-7.7-4.2z" color="#3d4e8a"/><path d="M346.2 554.7l7.7 4.5 4.5-6.5-7.7-2.7z" color="#375b8d"/><path d="M366.1 556.8l7.7 5.3 4.5-7.6-7.8-3.4z" color="#38598c"/><path d="M386 559.3l7.7 6.2 4.4-8.7-7.7-4.7z" color="#38588c"/><path d="M314.1 559.5l7.7 4.3 4.5-9.6-7.7-3.3z" color="#38598c"/><path d="M302 567.2l7.6 4.6 4.5-12.3-7.7-4z" color="#3a548c"/><path d="M460 621.8l7.8 4.2 4.2-4.6-7.7-5.2z" color="#482677"/><path d="M285.3 587.6l7.7 4.7 4.5-11.7-7.7-4.6z" color="#404588"/><path d="M424.6 600.9l7.7 8.8 4.4-9.5-7.7-9.6z" color="#453882"/><path d="M393.7 565.5l7.8 7.5 4.4-9.7-7.8-6.5z" color="#3a538b"/><path d="M432.3 609.7l7.8 7.3 4.4-8.1-7.8-8.7z" color="#46327e"/><path d="M416.9 591.3l7.7 9.6 4.4-10.3-7.7-9.9z" color="#424086"/><path d="M297.5 580.6l7.7 4.9 4.4-13.7-7.6-4.6z" color="#3e4c8a"/><path d="M273.1 590.4l7.7 4.2 2.1-2.6 2.4-4.4-7.7-4.2-2.3 4.3z" color="#424186"/><path d="M334 558l7.7 4.8 4.5-8.1-7.7-3.4z" color="#375a8c"/><path d="M409.2 581.7l7.7 9.6 4.4-10.6-7.7-9.3z" color="#3f4788"/><path d="M401.5 573l7.7 8.7 4.4-10.3-7.7-8.1z" color="#3d4e8a"/><path d="M373.8 562.1l7.8 6.4 4.4-9.2-7.7-4.8z" color="#39568c"/><path d="M353.9 559.2l7.7 5.9 4.5-8.3-7.7-4.1z" color="#38598c"/><path d="M440.1 617l7.8 5.6 4.3-6.5-7.7-7.2z" color="#472c7a"/><path d="M309.6 571.8l7.7 4.9 4.5-12.9-7.7-4.3z" color="#3b528b"/><path d="M321.8 563.8l7.7 4.8 4.5-10.6-7.7-3.8z" color="#39568c"/><path d="M467.8 626l5.6 2.1 4.2-4.3-5.6-2.4z" color="#482576"/><path d="M293 592.3l7.7 4.9 4.5-11.7-7.7-4.9z" color="#414287"/><path d="M381.6 568.5l7.7 7.3 4.4-10.3-7.7-6.2z" color="#3a538b"/><path d="M305.2 585.5l7.7 5 4.4-13.8-7.7-4.9z" color="#3f4889"/><path d="M361.6 565.1l7.8 6.7 4.4-9.7-7.7-5.3z" color="#39558c"/><path d="M447.9 622.6l7.8 4.1 4.3-4.9-7.8-5.7z" color="#482878"/><path d="M341.7 562.8l7.7 5.9 4.5-9.5-7.7-4.5z" color="#38588c"/><path d="M280.8 594.6l7.6 4.7 2.2-2.6 2.4-4.4-7.7-4.7-2.4 4.4z" color="#423f85"/><path d="M412.5 602.2l7.7 9 4.4-10.3-7.7-9.6z" color="#443983"/><path d="M420.2 611.2l7.8 7.7 4.3-9.2-7.7-8.8z" color="#46327e"/><path d="M389.3 575.8l7.7 8.2 4.5-11-7.8-7.5z" color="#3d4e8a"/><path d="M404.8 592.9l7.7 9.3 4.4-10.9-7.7-9.6z" color="#424086"/><path d="M397 584l7.8 8.9 4.4-11.2-7.7-8.7z" color="#3f4889"/><path d="M317.3 576.7l7.8 5.2 4.4-13.3-7.7-4.8z" color="#3c508b"/><path d="M428 618.9l7.7 5.8 4.4-7.7-7.8-7.3z" color="#472c7a"/><path d="M329.5 568.6l7.7 5.6 4.5-11.4-7.7-4.8z" color="#3a548c"/><path d="M369.4 571.8l7.7 7.5 4.5-10.8-7.8-6.4z" color="#3b518b"/><path d="M300.7 597.2l7.7 5 4.5-11.7-7.7-5z" color="#423f85"/><path d="M349.4 568.7l7.8 6.9 4.4-10.5-7.7-5.9z" color="#3a548c"/><path d="M312.9 590.5l7.7 5.3 4.5-13.9-7.8-5.2z" color="#404688"/><path d="M377.1 579.3l7.7 7.9 4.5-11.4-7.7-7.3z" color="#3d4d8a"/><path d="M288.4 599.3l7.7 4.9 2.2-2.6 2.4-4.4-7.7-4.9-2.4 4.4z" color="#433d84"/><path d="M455.7 626.7l7.8 3.1 4.3-3.8-7.8-4.2z" color="#482677"/><path d="M384.8 587.2l7.8 8.4 4.4-11.6-7.7-8.2z" color="#3f4788"/><path d="M400.3 604.3l7.8 8.7 4.4-10.8-7.7-9.3z" color="#443983"/><path d="M392.6 595.6l7.7 8.7 4.5-11.4-7.8-8.9z" color="#424086"/><path d="M435.7 624.7l7.8 3.8 4.4-5.9-7.8-5.6z" color="#482979"/><path d="M325.1 581.9l7.7 5.9 4.4-13.6-7.7-5.6z" color="#3d4d8a"/><path d="M337.2 574.2l7.8 6.5 4.4-12-7.7-5.9z" color="#3b518b"/><path d="M357.2 575.6l7.7 7.6 4.5-11.4-7.8-6.7z" color="#3c508b"/><path d="M408.1 613l7.7 7.9 4.4-9.7-7.7-9z" color="#46327e"/><path d="M308.4 602.2l7.7 5.2 4.5-11.6-7.7-5.3z" color="#433d84"/><path d="M415.8 620.9l7.8 6.4 4.4-8.4-7.8-7.7z" color="#472c7a"/><path d="M364.9 583.2l7.8 7.9 4.4-11.8-7.7-7.5z" color="#3e4a89"/><path d="M320.6 595.8l7.7 5.7 4.5-13.7-7.7-5.9z" color="#414287"/><path d="M345 580.7l7.7 7.4 4.5-12.5-7.8-6.9z" color="#3d4d8a"/><path d="M372.7 591.1l7.7 8 4.4-11.9-7.7-7.9z" color="#404588"/><path d="M332.8 587.8l7.7 6.5 4.5-13.6-7.8-6.5z" color="#3f4889"/><path d="M296.1 604.2l7.8 5 2.1-2.6 2.4-4.4-7.7-5-2.4 4.4z" color="#443a83"/><path d="M380.4 599.1l7.7 7.9 4.5-11.4-7.8-8.4z" color="#423f85"/><path d="M352.7 588.1l7.8 7.6 4.4-12.5-7.7-7.6z" color="#3f4889"/><path d="M388.1 607l7.8 7.9 4.4-10.6-7.7-8.7z" color="#453882"/><path d="M423.6 627.3l7.8 4.1 4.3-6.7-7.7-5.8z" color="#482878"/><path d="M463.5 629.8l5.6 1.9 4.3-3.6-5.6-2.1z" color="#482576"/><path d="M316.1 607.4l7.7 5.4 4.5-11.3-7.7-5.7z" color="#443983"/><path d="M328.3 601.5l7.7 6 4.5-13.2-7.7-6.5z" color="#423f85"/><path d="M395.9 614.9l7.7 7.7 4.5-9.6-7.8-8.7z" color="#46327e"/><path d="M340.5 594.3l7.7 7 4.5-13.2-7.7-7.4z" color="#414487"/><path d="M360.5 595.7l7.7 7.6 4.5-12.2-7.8-7.9z" color="#414287"/><path d="M443.5 628.5l7.9 2.5 4.3-4.3-7.8-4.1z" color="#482677"/><path d="M403.6 622.6l7.8 6.6 4.4-8.3-7.7-7.9z" color="#472c7a"/><path d="M368.2 603.3l7.7 7.3 4.5-11.5-7.7-8z" color="#433d84"/><path d="M348.2 601.3l7.8 7 4.5-12.6-7.8-7.6z" color="#423f85"/><path d="M303.9 609.2l7.7 5.1 2.1-2.6 2.4-4.3-7.7-5.2-2.4 4.4z" color="#453781"/><path d="M336 607.5l7.8 6.3 4.4-12.5-7.7-7z" color="#443a83"/><path d="M375.9 610.6l7.8 6.9 4.4-10.5-7.7-7.9z" color="#453781"/><path d="M323.8 612.8l7.7 5.6 4.5-10.9-7.7-6z" color="#453581"/><path d="M356 608.3l7.7 6.7 4.5-11.7-7.7-7.6z" color="#443983"/><path d="M411.4 629.2l7.8 4.8 4.4-6.7-7.8-6.4z" color="#482677"/><path d="M383.7 617.5l7.7 6.7 4.5-9.3-7.8-7.9z" color="#46327e"/><path d="M431.4 631.4l7.8 2.1 4.3-5-7.8-3.8z" color="#482677"/><path d="M343.8 613.8l7.7 6.1 4.5-11.6-7.8-7z" color="#453581"/><path d="M363.7 615l7.8 6.1 4.4-10.5-7.7-7.3zM311.6 614.3l7.7 5.3 2.2-2.6 2.3-4.2-7.7-5.4-2.4 4.3z" color="#463480"/><path d="M331.5 618.4l7.8 5.6 4.5-10.2-7.8-6.3z" color="#46327e"/><path d="M391.4 624.2l7.8 6.1 4.4-7.7-7.7-7.7z" color="#472c7a"/><path d="M451.4 631l7.8 2 4.3-3.2-7.8-3.1z" color="#482677"/><path d="M351.5 619.9l7.8 5.5 4.4-10.4-7.7-6.7z" color="#46327e"/><path d="M371.5 621.1l7.7 5.5 4.5-9.1-7.8-6.9z" color="#46307e"/><path d="M419.2 634l7.8 2.5 4.4-5.1-7.8-4.1z" color="#482576"/><path d="M399.2 630.3l7.8 5 4.4-6.1-7.8-6.6z" color="#482878"/><path d="M339.3 624l7.7 5.2 4.5-9.3-7.7-6.1z" color="#472e7c"/><path d="M319.3 619.6l7.7 5.5 2.2-2.6 2.3-4.1-7.7-5.6-2.3 4.2z" color="#46307e"/><path d="M359.3 625.4l7.7 4.7 4.5-9-7.8-6.1z" color="#472e7c"/><path d="M379.2 626.6l7.8 5 4.4-7.4-7.7-6.7z" color="#472c7a"/><path d="M439.2 633.5l7.9 .9 4.3-3.4-7.9-2.5zM459.2 633l5.6 1.6 4.3-2.9-5.6-1.9z" color="#482677"/><path d="M407 635.3l7.8 3.2 4.4-4.5-7.8-4.8z" color="#482576"/><path d="M347 629.2l7.8 4.5 4.5-8.3-7.8-5.5z" color="#472a7a"/><path d="M327 625.1l7.8 5.3 2.1-2.5 2.4-3.9-7.8-5.6-2.3 4.1z" color="#472d7b"/><path d="M387 631.6l7.8 4.4 4.4-5.7-7.8-6.1z" color="#482878"/><path d="M367 630.1l7.8 4 4.4-7.5-7.7-5.5z" color="#472a7a"/><path d="M427 636.5l7.9 .5 4.3-3.5-7.8-2.1z" color="#482576"/><path d="M334.8 630.4l7.7 4.9 4.5-6.1-7.7-5.2-2.4 3.9z" color="#472a7a"/><path d="M354.8 633.7l7.8 3.7 4.4-7.3-7.7-4.7z" color="#482878"/><path d="M394.8 636l7.8 3.3 4.4-4-7.8-5z" color="#482576"/><path d="M447.1 634.4l7.8 .9 4.3-2.3-7.8-2zM374.8 634.1l7.8 3.3 4.4-5.8-7.8-5z" color="#482878"/><path d="M414.8 638.5l7.8 .9 4.4-2.9-7.8-2.5z" color="#482475"/><path d="M342.5 635.3l7.8 4.2 4.5-5.8-7.8-4.5zM362.6 637.4l7.7 2.8 4.5-6.1-7.8-4z" color="#482677"/><path d="M434.9 637l7.8-.6 4.4-2-7.9-.9z" color="#482878"/><path d="M382.6 637.4l7.8 2.7 4.4-4.1-7.8-4.4z" color="#482677"/><path d="M402.6 639.3l7.8 1.5 4.4-2.3-7.8-3.2z" color="#482576"/><path d="M454.9 635.3l5.7 1.4 4.2-2.1-5.6-1.6z" color="#482878"/><path d="M350.3 639.5l7.8 3.2 4.5-5.3-7.8-3.7z" color="#482576"/><path d="M422.6 639.4l7.9-.9 4.4-1.5-7.9-.5zM370.3 640.2l7.8 2.1 4.5-4.9-7.8-3.3zM390.4 640.1l7.8 1.6 4.4-2.4-7.8-3.3zM410.4 640.8l7.9-.4 4.3-1-7.8-.9z" color="#482677"/><path d="M442.7 636.4l8 .1 4.2-1.2-7.8-.9z" color="#472a7a"/><path d="M358.1 642.7l7.8 2.3 4.4-4.8-7.7-2.8z" color="#482576"/><path d="M378.1 642.3l7.8 1.4 4.5-3.6-7.8-2.7z" color="#482677"/><path d="M430.5 638.5l7.9-1.6 4.3-.5-7.8 .6z" color="#472a7a"/><path d="M398.2 641.7l7.9 .2 4.3-1.1-7.8-1.5z" color="#482677"/><path d="M450.7 636.5l5.6 1.2 4.3-1-5.7-1.4z" color="#472c7a"/><path d="M365.9 645l7.8 1.7 4.4-4.4-7.8-2.1z" color="#482576"/><path d="M418.3 640.4l7.9-1.9 4.3 0-7.9 .9z" color="#472a7a"/><path d="M385.9 643.7l7.9 .4 4.4-2.4-7.8-1.6z" color="#482878"/><path d="M406.1 641.9l7.8-1.4 4.4-.1-7.9 .4z" color="#472a7a"/><path d="M373.7 646.7l7.8 .9 4.4-3.9-7.8-1.4z" color="#482677"/><path d="M438.4 636.9l8-.5 4.3 .1-8-.1z" color="#472e7c"/><path d="M393.8 644.1l7.9-.7 4.4-1.5-7.9-.2z" color="#472a7a"/><path d="M426.2 638.5l7.9-2.3 4.3 .7-7.9 1.6z" color="#472e7c"/><path d="M446.4 636.4l5.6 1 4.3 .3-5.6-1.2z" color="#472f7d"/><path d="M381.5 647.6l7.8 .1 4.5-3.6-7.9-.4z" color="#482979"/><path d="M413.9 640.5l8-2.6 4.3 .6-7.9 1.9z" color="#472f7d"/><path d="M401.7 643.4l7.9-2.2 4.3-.7-7.8 1.4z" color="#472e7c"/><path d="M434.1 636.2l8-.9 4.3 1.1-8 .5z" color="#46337f"/><path d="M389.3 647.7l7.9-1.2 4.5-3.1-7.9 .7z" color="#472c7a"/><path d="M421.9 637.9l7.9-2.6 4.3 .9-7.9 2.3z" color="#463480"/><path d="M442.1 635.3l5.6 1 4.3 1.1-5.6-1z" color="#453581"/><path d="M409.6 641.2l7.9-2.9 4.4-.4-8 2.6z" color="#46337f"/><path d="M397.2 646.5l7.9-2.3 4.5-3-7.9 2.2z" color="#46307e"/><path d="M429.8 635.3l8-1 4.3 1-8 .9zM417.5 638.3l8-2.7 4.3-.3-7.9 2.6z" color="#443983"/><path d="M405.1 644.2l8-3.1 2.1-1.7 2.3-1.1-7.9 2.9z" color="#453781"/><path d="M437.8 634.3l5.6 .9 4.3 1.1-5.6-1z" color="#443b84"/><path d="M425.5 635.6l7.9-1 4.4-.3-8 1z" color="#433e85"/><path d="M413.1 641.1l7.9-2.7 2.1-1.7 2.4-1.1-8 2.7-2.3 1.1z" color="#433d84"/><path d="M433.4 634.6l5.7 .9 4.3-.3-5.6-.9z" color="#424086"/><path d="M421 638.4l8-1 2.1-1.7 2.3-1.1-7.9 1-2.4 1.1z" color="#424186"/><path d="M429 637.4l5.7 1 2.1-1.8 2.3-1.1-5.7-.9-2.3 1.1z" color="#414487"/></g>
<g id="axl"><path d="M24.3 588.3L446.9 726.3M671.5 495.9L446.9 726.3M671.5 495.9L685.7 185.2" fill="none" stroke="#000" stroke-width="1.4" stroke-linecap="square" stroke-linejoin="round"/><path d="M52 594.8L45.6 600.3M232.1 653.6L225.9 659.3M420.7 715.1L414.7 721.1M458.9 709.2L469.6 712.7M560.8 604.9L571.2 608.1M655 508.4L665.1 511.3M670.5 442.1L680.6 445M674.2 360.3L684.5 363.1M678 276.5L688.4 279.3M681.9 190.8L692.4 193.4" fill="none" stroke="#000" stroke-width="1.3" stroke-linecap="square"/></g>
</g>
<g id="plotB" transform="translate(900.7,-1.8)">
<use href="#box"/>
<g fill="currentColor" stroke="currentColor" stroke-width="0.2" stroke-linejoin="round"><path d="M278.7 341.9l7 6 2.9-5.4-6.9-5.4z" color="#404688"/><path d="M285.7 347.9l7 6.4 2.9-5.8-7-6z" color="#424186"/><path d="M292.7 354.3l7 6.6 2.9-6.1-7-6.3z" color="#433d84"/><path d="M299.7 360.9l7 6.3 2.9-6-7-6.4z" color="#453781"/><path d="M274.6 349.2l7 6.6 4.1-7.9-7-6z" color="#414287"/><path d="M281.6 355.8l7 6.8 4.1-8.3-7-6.4z" color="#433d84"/><path d="M306.7 367.2l6.9 5.8 3-5.7-7-6.1z" color="#46327e"/><path d="M288.6 362.6l7 6.5 4.1-8.2-7-6.6z" color="#453882"/><path d="M313.6 373l7 5.2 2.9-5.3-6.9-5.6z" color="#472e7c"/><path d="M295.6 369.1l7 6 4.1-7.9-7-6.3z" color="#46327e"/><path d="M270.5 356.9l7 7 4.1-8.1-7-6.6z" color="#433d84"/><path d="M302.6 375.1l7 5.2 4-7.3-6.9-5.8z" color="#472e7c"/><path d="M320.6 378.2l7 4.3 2.9-4.7-7-4.9z" color="#472a7a"/><path d="M277.5 363.9l7 6.7 4.1-8-7-6.8z" color="#453882"/><path d="M284.5 370.6l7 6.2 4.1-7.7-7-6.5z" color="#46327e"/><path d="M309.6 380.3l6.9 4.2 4.1-6.3-7-5.2z" color="#472a7a"/><path d="M291.5 376.8l7 5.2 4.1-6.9-7-6z" color="#472d7b"/><path d="M327.6 382.5l7 3.3 2.9-3.8-7-4.2z" color="#482878"/><path d="M266.4 364.8l7 7 4.1-7.9-7-7z" color="#453882"/><path d="M273.4 371.8l7 6.3 4.1-7.5-7-6.7z" color="#46327e"/><path d="M316.5 384.5l7 3.1 4.1-5.1-7-4.3z" color="#482677"/><path d="M298.5 382l7 4.2 4.1-5.9-7-5.2z" color="#482979"/><path d="M280.4 378.1l7 5.5 4.1-6.8-7-6.2z" color="#472d7b"/><path d="M334.6 385.8l7 2.5 2.9-3-7-3.3z" color="#482576"/><path d="M305.5 386.2l6.9 3 4.1-4.7-6.9-4.2z" color="#482677"/><path d="M287.4 383.6l7 4.2 4.1-5.8-7-5.2z" color="#482979"/><path d="M262.3 372.5l7 6.6 4.1-7.3-7-7z" color="#46337f"/><path d="M323.5 387.6l7 2 4.1-3.8-7-3.3z" color="#482576"/><path d="M269.3 379.1l6.9 5.7 4.2-6.7-7-6.3z" color="#472d7b"/><path d="M341.6 388.3l7 1.5 2.9-2-7-2.5z" color="#482576"/><path d="M294.4 387.8l6.9 2.9 4.2-4.5-7-4.2z" color="#482677"/><path d="M276.2 384.8l7 4.4 4.2-5.6-7-5.5z" color="#482979"/><path d="M312.4 389.2l7 1.7 4.1-3.3-7-3.1zM330.5 389.6l7 1.1 4.1-2.4-7-2.5z" color="#482576"/><path d="M258.1 379.7l7 6.1 4.2-6.7-7-6.6z" color="#472e7c"/><path d="M283.2 389.2l7 3 4.2-4.4-7-4.2z" color="#482677"/><path d="M301.3 390.7l7 1.5 4.1-3-6.9-3z" color="#482576"/><path d="M265.1 385.8l7 4.7 4.1-5.7-6.9-5.7z" color="#482979"/><path d="M348.6 389.8l7.1 .9 2.8-1.2-7-1.7zM319.4 390.9l7 .6 4.1-1.9-7-2z" color="#482576"/><path d="M272.1 390.5l7 3.1 4.1-4.4-7-4.4zM337.5 390.7l7.1 .2 4-1.1-7-1.5z" color="#482677"/><path d="M290.2 392.2l7 1.4 4.1-2.9-6.9-2.9z" color="#482576"/><path d="M254 386.4l6.9 5.1 4.2-5.7-7-6.1z" color="#472a7a"/><path d="M308.3 392.2l7 .3 4.1-1.6-7-1.7z" color="#482576"/><path d="M355.7 390.7l7 .1 2.9-.2-7.1-1.1zM260.9 391.5l7 3.6 4.2-4.6-7-4.7z" color="#482677"/><path d="M279.1 393.6l6.9 1.6 4.2-3-7-3z" color="#482576"/><path d="M326.4 391.5l7-.3 4.1-.5-7-1.1zM297.2 393.6l7 .1 4.1-1.5-7-1.5z" color="#482677"/><path d="M344.6 390.9l7-.5 4.1 .3-7.1-.9z" color="#482878"/><path d="M267.9 395.1l7 1.7 4.2-3.2-7-3.1z" color="#482576"/><path d="M249.8 392.3l7 4 4.1-4.8-6.9-5.1zM315.3 392.5l7-.9 4.1-.1-7-.6z" color="#482878"/><path d="M362.7 390.8l7.1-.2 2.8 .6-7-.6z" color="#482979"/><path d="M286 395.2l7-.1 4.2-1.5-7-1.4z" color="#482677"/><path d="M333.4 391.2l7.1-1.2 4.1 .9-7.1-.2z" color="#482979"/><path d="M256.8 396.3l6.9 2.2 4.2-3.4-7-3.6z" color="#482576"/><path d="M304.2 393.7l7-1.3 4.1 .1-7-.3z" color="#482878"/><path d="M351.6 390.4l7-1 4.1 1.4-7-.1z" color="#472a7a"/><path d="M274.9 396.8l7 .1 4.1-1.7-6.9-1.6zM245.6 397.4l6.9 2.8 4.3-3.9-7-4z" color="#482576"/><path d="M322.3 391.6l7-1.7 4.1 1.3-7 .3zM369.8 390.6l7-.6 2.9 1.4-7.1-.2z" color="#472c7a"/><path d="M293 395.1l7-1.5 4.2 .1-7-.1z" color="#482979"/><path d="M263.7 398.5l7 .4 4.2-2.1-7-1.7z" color="#482576"/><path d="M340.5 390l7-1.7 4.1 2.1-7 .5z" color="#472d7b"/><path d="M281.9 396.9l6.9-1.6 4.2-.2-7 .1z" color="#482878"/><path d="M311.2 392.4l7-2.2 4.1 1.4-7 .9z" color="#472c7a"/><path d="M252.5 400.2l7 .8 4.2-2.5-6.9-2.2z" color="#482576"/><path d="M358.6 389.4l7.1-1.4 4.1 2.6-7.1 .2zM376.8 390l7.1-.7 2.9 2-7.1 .1z" color="#472e7c"/><path d="M270.7 398.9l6.9-1.5 4.3-.5-7-.1z" color="#482878"/><path d="M329.3 389.9l7.1-2.3 4.1 2.4-7.1 1.2z" color="#472f7d"/><path d="M241.3 401.6l7 1.6 4.2-3-6.9-2.8z" color="#482576"/><path d="M300 393.6l7-2.5 4.2 1.3-7 1.3z" color="#472d7b"/><path d="M347.5 388.3l7.1-2 4 3.1-7 1z" color="#46327e"/><path d="M259.5 401l6.9-1.1 4.3-1-7-.4z" color="#482878"/><path d="M365.7 388l7.1-1.4 4 3.4-7 .6z" color="#46327e"/><path d="M288.8 395.3l7-2.8 4.2 1.1-7 1.5z" color="#472d7b"/><path d="M318.2 390.2l7-2.9 4.1 2.6-7 1.7z" color="#46307e"/><path d="M248.3 403.2l6.9-.6 4.3-1.6-7-.8z" color="#482677"/><path d="M383.9 389.3l7.1-.7 2.9 2.5-7.1 .2z" color="#46327e"/><path d="M277.6 397.4l7-2.9 4.2 .8-6.9 1.6z" color="#472d7b"/><path d="M336.4 387.6l7-2.7 4.1 3.4-7 1.7z" color="#463480"/><path d="M307 391.1l7-3.4 4.2 2.5-7 2.2z" color="#46327e"/><path d="M237.1 405.1l6.9 .2 4.3-2.1-7-1.6z" color="#482576"/><path d="M266.4 399.9l7-2.8 4.2 .3-6.9 1.5z" color="#472c7a"/><path d="M354.6 386.3l7.1-2.1 4 3.8-7.1 1.4zM372.8 386.6l7.1-1.4 4 4.1-7.1 .7z" color="#453581"/><path d="M295.8 392.5l7-3.7 4.2 2.3-7 2.5z" color="#46337f"/><path d="M255.2 402.6l7-2.5 4.2-.2-6.9 1.1z" color="#472a7a"/><path d="M325.2 387.3l7-3.2 4.2 3.5-7.1 2.3z" color="#453781"/><path d="M391 388.6l7.2-.6 2.8 3-7.1 .1z" color="#463480"/><path d="M244 405.3l7-1.9 4.2-.8-6.9 .6z" color="#482979"/><path d="M284.6 394.5l7-3.9 4.2 1.9-7 2.8z" color="#46327e"/><path d="M343.4 384.9l7.1-2.7 4.1 4.1-7.1 2z" color="#443983"/><path d="M314 387.7l7-3.6 4.2 3.2-7 2.9z" color="#453882"/><path d="M232.8 408l6.9-1.1 4.3-1.6-6.9-.2z" color="#482677"/><path d="M361.7 384.2l7.1-2.1 4 4.5-7.1 1.4z" color="#443a83"/><path d="M379.9 385.2l7.1-1.2 4 4.6-7.1 .7z" color="#443983"/><path d="M273.4 397.1l6.9-4.1 4.3 1.5-7 2.9z" color="#46327e"/><path d="M398.2 388l7.1-.4 2.8 3.3-7.1 .1z" color="#453781"/><path d="M262.2 400.1l6.9-4 4.3 1-7 2.8z" color="#472f7d"/><path d="M332.2 384.1l7.1-3.2 4.1 4-7 2.7z" color="#433d84"/><path d="M302.8 388.8l7-4.1 4.2 3-7 3.4z" color="#443983"/><path d="M251 403.4l6.9-3.7 4.3 .4-7 2.5z" color="#472e7c"/><path d="M350.5 382.2l7.1-2.5 4.1 4.5-7.1 2.1z" color="#433e85"/><path d="M291.6 390.6l7-4.5 4.2 2.7-7 3.7z" color="#443983"/><path d="M239.7 406.9l7-3.1 4.3-.4-7 1.9z" color="#472c7a"/><path d="M387 384l7.2-1 4 5-7.2 .6z" color="#433d84"/><path d="M368.8 382.1l7.1-1.7 4 4.8-7.1 1.4z" color="#433e85"/><path d="M405.3 387.6l7.2-.1 2.8 3.5-7.2-.1z" color="#443983"/><path d="M321 384.1l7.1-3.7 4.1 3.7-7 3.2z" color="#433e85"/><path d="M228.5 410.2l6.9-2.2 4.3-1.1-6.9 1.1z" color="#482979"/><path d="M280.3 393l7-4.7 4.3 2.3-7 3.9z" color="#453882"/><path d="M339.3 380.9l7.1-2.9 4.1 4.2-7.1 2.7z" color="#424186"/><path d="M269.1 396.1l7-4.9 4.2 1.8-6.9 4.1z" color="#453781"/><path d="M309.8 384.7l7-4 4.2 3.4-7 3.6z" color="#424086"/><path d="M357.6 379.7l7.1-2.2 4.1 4.6-7.1 2.1z" color="#414487"/><path d="M394.2 383l7.2-.6 3.9 5.2-7.1 .4z" color="#423f85"/><path d="M412.5 387.5l7.2 .2 2.7 3.7-7.1-.4z" color="#443b84"/><path d="M257.9 399.7l6.9-4.9 4.3 1.3-6.9 4z" color="#463480"/><path d="M375.9 380.4l7.1-1.4 4 5-7.1 1.2z" color="#414287"/><path d="M246.7 403.8l6.9-4.7 4.3 .6-6.9 3.7z" color="#46327e"/><path d="M298.6 386.1l7-4.4 4.2 3-7 4.1z" color="#424086"/><path d="M328.1 380.4l7-3.3 4.2 3.8-7.1 3.2z" color="#404588"/><path d="M235.4 408l6.9-4.2 4.4 0-7 3.1z" color="#472f7d"/><path d="M224.2 412.1l6.9-3.3 4.3-.8-6.9 2.2z" color="#472c7a"/><path d="M287.3 388.3l7-4.8 4.3 2.6-7 4.5z" color="#424086"/><path d="M419.7 387.7l7.1 .6 2.8 3.8-7.2-.7z" color="#433e85"/><path d="M346.4 378l7.1-2.4 4.1 4.1-7.1 2.5z" color="#3f4788"/><path d="M401.4 382.4l7.1-.2 4 5.3-7.2 .1z" color="#414287"/><path d="M364.7 377.5l7.1-1.6 4.1 4.5-7.1 1.7z" color="#3f4788"/><path d="M316.8 380.7l7.1-3.7 4.2 3.4-7.1 3.7zM383 379l7.2-.9 4 4.9-7.2 1z" color="#404688"/><path d="M276.1 391.2l6.9-5.2 4.3 2.3-7 4.7z" color="#423f85"/><path d="M264.8 394.8l7-5.4 4.3 1.8-7 4.9z" color="#433d84"/><path d="M426.8 388.3l7.2 .9 2.8 3.9-7.2-1z" color="#423f85"/><path d="M335.1 377.1l7.1-2.6 4.2 3.5-7.1 2.9z" color="#3e4a89"/><path d="M305.6 381.7l7-4 4.2 3-7 4z" color="#3f4788"/><path d="M253.6 399.1l6.9-5.6 4.3 1.3-6.9 4.9z" color="#443a83"/><path d="M408.5 382.2l7.2 .1 4 5.4-7.2-.2z" color="#404588"/><path d="M242.3 403.8l7-5.5 4.3 .8-6.9 4.7z" color="#453781"/><path d="M231.1 408.8l6.9-5.1 4.3 .1-6.9 4.2z" color="#46337f"/><path d="M353.5 375.6l7.1-1.8 4.1 3.7-7.1 2.2z" color="#3e4c8a"/><path d="M390.2 378.1l7.2-.5 4 4.8-7.2 .6z" color="#3e4989"/><path d="M219.9 413.7l6.8-4.3 4.4-.6-6.9 3.3z" color="#472e7c"/><path d="M371.8 375.9l7.2-1.1 4 4.2-7.1 1.4z" color="#3e4c8a"/><path d="M294.3 383.5l7-4.4 4.3 2.6-7 4.4z" color="#3f4788"/><path d="M323.9 377l7.1-2.8 4.1 2.9-7 3.3z" color="#3d4d8a"/><path d="M434 389.2l7.2 1.3 2.8 4-7.2-1.4z" color="#424086"/><path d="M283 386l7.1-4.7 4.2 2.2-7 4.8z" color="#3f4788"/><path d="M415.7 382.3l7.2 .6 3.9 5.4-7.1-.6z" color="#404688"/><path d="M342.2 374.5l7.2-1.8 4.1 2.9-7.1 2.4z" color="#3c4f8a"/><path d="M271.8 389.4l7-5.2 4.2 1.8-6.9 5.2z" color="#404588"/><path d="M312.6 377.7l7.1-3 4.2 2.3-7.1 3.7z" color="#3d4e8a"/><path d="M397.4 377.6l7.2 0 3.9 4.6-7.1 .2z" color="#3e4c8a"/><path d="M360.6 373.8l7.2-1 4 3.1-7.1 1.6z" color="#3c508b"/><path d="M441.2 390.5l7.3 1.8 2.7 3.9-7.2-1.7z" color="#424086"/><path d="M379 374.8l7.2-.5 4 3.8-7.2 .9z" color="#3c4f8a"/><path d="M260.5 393.5l7-5.6 4.3 1.5-7 5.4z" color="#414287"/><path d="M249.3 398.3l6.9-5.9 4.3 1.1-6.9 5.6z" color="#423f85"/><path d="M238 403.7l6.9-6 4.4 .6-7 5.5z" color="#443b84"/><path d="M422.9 382.9l7.2 1 3.9 5.3-7.2-.9z" color="#3f4889"/><path d="M301.3 379.1l7.1-3.3 4.2 1.9-7 4z" color="#3d4e8a"/><path d="M226.7 409.4l6.9-5.7 4.4 0-6.9 5.1z" color="#453781"/><path d="M331 374.2l7.1-1.8 4.1 2.1-7.1 2.6z" color="#3b518b"/><path d="M215.5 415.1l6.9-5 4.3-.7-6.8 4.3z" color="#46327e"/><path d="M448.5 392.3l7.2 2.1 2.7 3.9-7.2-2.1z" color="#424186"/><path d="M349.4 372.7l7.1-.9 4.1 2-7.1 1.8z" color="#3a538b"/><path d="M404.6 377.6l7.2 .4 3.9 4.3-7.2-.1zM290.1 381.3l7-3.8 4.2 1.6-7 4.4z" color="#3d4e8a"/><path d="M367.8 372.8l7.1-.4 4.1 2.4-7.2 1.1z" color="#3a538b"/><path d="M386.2 374.3l7.1 .1 4.1 3.2-7.2 .5z" color="#3b518b"/><path d="M319.7 374.7l7.1-1.8 4.2 1.3-7.1 2.8z" color="#3b528b"/><path d="M430.1 383.9l7.3 1.4 3.8 5.2-7.2-1.3z" color="#3f4889"/><path d="M278.8 384.2l7-4.3 4.3 1.4-7.1 4.7z" color="#3d4d8a"/><path d="M455.7 394.4l7.2 2.5 2.7 3.9-7.2-2.5z" color="#424086"/><path d="M338.1 372.4l7.1-.6 4.2 .9-7.2 1.8z" color="#39558c"/><path d="M267.5 387.9l7-4.9 4.3 1.2-7 5.2z" color="#3e4a89"/><path d="M411.8 378l7.2 .8 3.9 4.1-7.2-.6z" color="#3c4f8a"/><path d="M308.4 375.8l7.1-2 4.2 .9-7.1 3z" color="#3a538b"/><path d="M256.2 392.4l7-5.5 4.3 1-7 5.6z" color="#3f4889"/><path d="M356.5 371.8l7.2 .1 1.9 .1 2.2 .8-7.2 1z" color="#39568c"/><path d="M437.4 385.3l7.2 1.7 3.9 5.3-7.3-1.8z" color="#3e4989"/><path d="M393.3 374.4l7.2 .5 4.1 2.7-7.2 0z" color="#3a538b"/><path d="M211.1 416.5l6.9-5.7 4.4-.7-6.9 5z" color="#463480"/><path d="M244.9 397.7l6.9-6 4.4 .7-6.9 5.9z" color="#414487"/><path d="M374.9 372.4l7.2 .4 1.9 .4 2.2 1.1-7.2 .5z" color="#39558c"/><path d="M222.4 410.1l6.9-6.3 4.3-.1-6.9 5.7z" color="#443a83"/><path d="M233.6 403.7l6.9-6.3 4.4 .3-6.9 6z" color="#423f85"/><path d="M462.9 396.9l7.3 2.9 2.7 3.9-7.3-2.9z" color="#424086"/><path d="M297.1 377.5l7.1-2.2 4.2 .5-7.1 3.3z" color="#3a538b"/><path d="M326.8 372.9l7.1-.5 4.2 0-7.1 1.8z" color="#39568c"/><path d="M419 378.8l7.2 1.2 3.9 3.9-7.2-1z" color="#3b518b"/><path d="M345.2 371.8l7.2 .5 1.9-.6 2.2 .1-7.1 .9z" color="#38588c"/><path d="M470.2 399.8l7.2 3.3 2.7 3.8-7.2-3.2z" color="#423f85"/><path d="M444.6 387l7.2 2.1 3.9 5.3-7.2-2.1z" color="#3e4989"/><path d="M285.8 379.9l7-2.7 4.3 .3-7 3.8z" color="#3a538b"/><path d="M363.7 371.9l7.1 .9 2-.6 2.1 .2-7.1 .4-2.2-.8z" color="#38598c"/><path d="M400.5 374.9l7.3 1 1.9 .6 2.1 1.5-7.2-.4z" color="#39558c"/><path d="M315.5 373.8l7.1-.3 4.2-.6-7.1 1.8zM382.1 372.8l7.2 1 1.9-.1 2.1 .7-7.1-.1-2.2-1.1z" color="#38588c"/><path d="M274.5 383l7-3.4 4.3 .3-7 4.3z" color="#3b518b"/><path d="M477.4 403.1l7.2 3.6 2.7 3.7-7.2-3.5z" color="#433e85"/><path d="M333.9 372.4l7.2 1 1.9-1.1 2.2-.5-7.1 .6z" color="#38598c"/><path d="M426.2 380l7.2 1.6 4 3.7-7.3-1.4z" color="#3b518b"/><path d="M451.8 389.1l7.3 2.5 3.8 5.3-7.2-2.5z" color="#3e4989"/><path d="M263.2 386.9l7-4.2 4.3 .3-7 4.9z" color="#3c508b"/><path d="M304.2 375.3l7.1-.4 4.2-1.1-7.1 2z" color="#38588c"/><path d="M206.7 418l6.9-6.1 4.4-1.1-6.9 5.7z" color="#453882"/><path d="M352.4 372.3l7.1 1.6 2-1.4 2.2-.6-7.2-.1-2.2-.1z" color="#375a8c"/><path d="M251.8 391.7l7-5 4.4 .2-7 5.5z" color="#3d4d8a"/><path d="M218 410.8l6.9-6.5 4.4-.5-6.9 6.3z" color="#433e85"/><path d="M240.5 397.4l7-5.9 4.3 .2-6.9 6z" color="#3f4889"/><path d="M229.3 403.8l6.9-6.4 4.3 0-6.9 6.3z" color="#414487"/><path d="M370.8 372.8l7.2 1.7 2-1.3 2.1-.4-7.2-.4-2.1-.2z" color="#375a8c"/><path d="M407.8 375.9l7.2 1.3 1.9 .4 2.1 1.2-7.2-.8-2.1-1.5z" color="#39568c"/><path d="M484.6 406.7l7.3 4 2.7 3.5-7.3-3.8z" color="#443b84"/><path d="M389.3 373.8l7.2 1.5 1.9-.6 2.1 .2-7.2-.5-2.1-.7z" color="#38598c"/><path d="M322.6 373.5l7.1 1.4 4.2-2.5-7.1 .5z" color="#375a8c"/><path d="M292.8 377.2l7.1-.7 4.3-1.2-7.1 2.2z" color="#38588c"/><path d="M459.1 391.6l7.2 2.9 3.9 5.3-7.3-2.9z" color="#3f4889"/><path d="M341.1 373.4l7.1 2.3 4.2-3.4-7.2-.5-2.2 .5z" color="#375b8d"/><path d="M433.4 381.6l7.3 1.8 3.9 3.6-7.2-1.7z" color="#3b528b"/><path d="M491.9 410.7l7.2 4.4 2.7 3.2-7.2-4.1z" color="#443983"/><path d="M359.5 373.9l7.2 2.5 2-2.1 2.1-1.5-7.1-.9-2.2 .6z" color="#375b8d"/><path d="M281.5 379.6l7.1-1.3 4.2-1.1-7 2.7z" color="#39568c"/><path d="M311.3 374.9l7.1 1.5 4.2-2.9-7.1 .3z" color="#375a8c"/><path d="M378 374.5l7.2 2.2 2-1.8 2.1-1.1-7.2-1-2.1 .4z" color="#375b8d"/><path d="M415 377.2l7.2 1.6 1.9 .2 2.1 1-7.2-1.2-2.1-1.2z" color="#38588c"/><path d="M396.5 375.3l7.2 1.8 1.9-1 2.2-.2-7.3-1-2.1-.2z" color="#375a8c"/><path d="M466.3 394.5l7.3 3.2 3.8 5.4-7.2-3.3z" color="#3f4788"/><path d="M329.7 374.9l7.2 2.9 4.2-4.4-7.2-1z" color="#375b8d"/><path d="M499.1 415.1l7.3 4.6 2.7 2.9-7.3-4.3z" color="#453781"/><path d="M270.2 382.7l7-2.1 4.3-1-7 3.4z" color="#39558c"/><path d="M348.2 375.7l7.2 3.5 4.1-5.3-7.1-1.6z" color="#375b8d"/><path d="M440.7 383.4l7.2 2.1 3.9 3.6-7.2-2.1z" color="#3b528b"/><path d="M299.9 376.5l7.2 1.4 4.2-3-7.1 .4z" color="#375a8c"/><path d="M202.3 419.7l6.9-6.5 4.4-1.3-6.9 6.1z" color="#443a83"/><path d="M366.7 376.4l7.2 3.3 4.1-5.2-7.2-1.7-2.1 1.5z" color="#375b8d"/><path d="M258.8 386.7l7.1-3.3 4.3-.7-7 4.2z" color="#3a538b"/><path d="M506.4 419.7l7.3 4.8 2.6 2.4-7.2-4.3z" color="#463480"/><path d="M473.6 397.7l7.3 3.7 3.7 5.3-7.2-3.6z" color="#404688"/><path d="M213.6 411.9l6.9-6.8 4.4-.8-6.9 6.5z" color="#424186"/><path d="M318.4 376.4l7.2 3.5 4.1-5-7.1-1.4zM385.2 376.7l7.2 2.7 2-2.5 2.1-1.6-7.2-1.5-2.1 1.1z" color="#375b8d"/><path d="M247.5 391.5l7-4.3 4.3-.5-7 5z" color="#3b518b"/><path d="M422.2 378.8l7.3 1.8 1.9 .1 2 .9-7.2-1.6-2.1-1z" color="#38588c"/><path d="M224.9 404.3l6.9-6.3 4.4-.6-6.9 6.4z" color="#3f4788"/><path d="M336.9 377.8l7.2 4.5 4.1-6.6-7.1-2.3z" color="#375a8c"/><path d="M236.2 397.4l6.9-5.4 4.4-.5-7 5.9z" color="#3d4d8a"/><path d="M403.7 377.1l7.2 2 2-1.4 2.1-.5-7.2-1.3-2.2 .2zM288.6 378.3l3.7 .3 3.4 .8 4.2-2.9-7.1 .7zM355.4 379.2l7.2 4.4 4.1-7.2-7.2-2.5z" color="#375a8c"/><path d="M447.9 385.5l7.3 2.4 3.9 3.7-7.3-2.5z" color="#3b528b"/><path d="M513.7 424.5l7.2 4.9 2.7 1.8-7.3-4.3z" color="#46307e"/><path d="M373.9 379.7l7.2 3.7 4.1-6.7-7.2-2.2z" color="#375a8c"/><path d="M480.9 401.4l7.2 4.1 3.8 5.2-7.3-4z" color="#414487"/><path d="M307.1 377.9l7.1 3.8 4.2-5.3-7.1-1.5z" color="#375b8d"/><path d="M325.6 379.9l7.1 5.2 4.2-7.3-7.2-2.9z" color="#375a8c"/><path d="M344.1 382.3l7.1 5.5 4.2-8.6-7.2-3.5z" color="#38588c"/><path d="M277.2 380.6l3.7-.2 3.4 .5 4.3-2.6-7.1 1.3z" color="#375a8c"/><path d="M392.4 379.4l7.2 2.8 2-2.9 2.1-2.2-7.2-1.8-2.1 1.6z" color="#375b8d"/><path d="M362.6 383.6l7.2 5 4.1-8.9-7.2-3.3z" color="#38588c"/><path d="M520.9 429.4l7.3 4.9 2.7 1.1-7.3-4.2z" color="#472e7c"/><path d="M429.5 380.6l7.2 2 1.9-.1 2.1 .9-7.3-1.8-2-.9z" color="#38588c"/><path d="M410.9 379.1l7.3 2.2 1.9-1.7 2.1-.8-7.2-1.6-2.1 .5z" color="#375b8d"/><path d="M488.1 405.5l7.3 4.4 3.7 5.2-7.2-4.4z" color="#424186"/><path d="M332.7 385.1l7.2 6.6 4.2-9.4-7.2-4.5z" color="#39568c"/><path d="M351.2 387.8l7.2 6.3 4.2-10.5-7.2-4.4z" color="#39558c"/><path d="M455.2 387.9l7.3 2.7 3.8 3.9-7.2-2.9z" color="#3b518b"/><path d="M295.7 379.4l7.1 3.6 4.3-5.1-7.2-1.4z" color="#375b8d"/><path d="M314.2 381.7l7.2 5.7 4.2-7.5-7.2-3.5zM381.1 383.4l7.2 4 4.1-8-7.2-2.7zM265.9 383.4l3.7-.7 3.3 0 4.3-2.1-7 2.1z" color="#38598c"/><path d="M349 461.8l7.2 7.5 4.2-13.6-7.2-8.4z" color="#481769"/><path d="M341.8 452.8l7.2 9 4.2-14.5-7.2-9.5z" color="#481f70"/><path d="M528.2 434.3l7.3 4.7 2.7 .3-7.3-3.9z" color="#472a7a"/><path d="M369.8 388.6l7.2 5.3 4.1-10.5-7.2-3.7z" color="#39558c"/><path d="M339.9 391.7l7.2 7.5 4.1-11.4-7.1-5.5z" color="#3b528b"/><path d="M353.2 447.3l7.2 8.4 4.1-15.8-7.2-8.5z" color="#482576"/><path d="M197.9 421.6l6.9-6.8 4.4-1.6-6.9 6.5z" color="#433d84"/><path d="M356.2 469.3l7.2 6 4.1-12.4-7.1-7.2z" color="#471063"/><path d="M360.4 455.7l7.1 7.2 4.2-15.4-7.2-7.6z" color="#481d6f"/><path d="M337.7 466l7.2 7.8 4.1-12-7.2-9z" color="#471164"/><path d="M358.4 394.1l7.2 6.7 4.2-12.2-7.2-5z" color="#3b518b"/><path d="M346 437.8l7.2 9.5 4.1-15.9-7.2-9.2z" color="#472d7b"/><path d="M344.9 473.8l7.2 5.7 4.1-10.2-7.2-7.5z" color="#460a5d"/><path d="M321.4 387.4l7.2 7.4 4.1-9.7-7.1-5.2z" color="#39558c"/><path d="M495.4 409.9l7.3 4.9 3.7 4.9-7.3-4.6z" color="#423f85"/><path d="M334.7 442.4l7.1 10.4 4.2-15-7.2-10.3z" color="#482979"/><path d="M330.5 456.4l7.2 9.6 4.1-13.2-7.1-10.4z" color="#481b6d"/><path d="M347.1 399.2l7.2 8.1 4.1-13.2-7.2-6.3z" color="#3d4e8a"/><path d="M399.6 382.2l7.3 3 4-6.1-7.2-2-2.1 2.2z" color="#375a8c"/><path d="M367.5 462.9l7.2 6 4.2-14.7-7.2-6.7z" color="#481769"/><path d="M357.3 431.4l7.2 8.5 4.2-16.6-7.2-7.9z" color="#463480"/><path d="M254.5 387.2l3.7-1.4 3.3-.7 4.4-1.7-7.1 3.3z" color="#39568c"/><path d="M350.1 422.2l7.2 9.2 4.2-16-7.2-8.1z" color="#443b84"/><path d="M338.8 427.5l7.2 10.3 4.1-15.6-7.2-9.4z" color="#453781"/><path d="M364.5 439.9l7.2 7.6 4.1-16.8-7.1-7.4z" color="#472d7b"/><path d="M354.3 407.3l7.2 8.1 4.1-14.6-7.2-6.7z" color="#3f4889"/><path d="M209.2 413.2l6.9-6.8 4.4-1.3-6.9 6.8z" color="#414487"/><path d="M342.9 412.8l7.2 9.4 4.2-14.9-7.2-8.1z" color="#414287"/><path d="M328.6 394.8l7.2 8.7 4.1-11.8-7.2-6.6z" color="#3c508b"/><path d="M363.4 475.3l7.2 4.6 4.1-11-7.2-6z" color="#460a5d"/><path d="M335.8 403.5l7.1 9.3 4.2-13.6-7.2-7.5z" color="#3e4a89"/><path d="M302.8 383l7.2 6 4.2-7.3-7.1-3.8z" color="#38598c"/><path d="M284.3 380.9l3.4 1.2 3.8 2 4.2-4.7-3.4-.8-3.7-.3z" color="#375b8d"/><path d="M436.7 382.6l7.3 2.1 1.9-.1 2 .9-7.2-2.1-2.1-.9z" color="#38588c"/><path d="M365.6 400.8l7.2 6.8 4.2-13.7-7.2-5.3z" color="#3d4e8a"/><path d="M326.3 468.6l7.2 8 4.2-10.6-7.2-9.6z" color="#471063"/><path d="M361.5 415.4l7.2 7.9 4.1-15.7-7.2-6.8z" color="#424186"/><path d="M462.5 390.6l7.3 3 3.8 4.1-7.3-3.2z" color="#3c508b"/><path d="M371.7 447.5l7.2 6.7 4.1-16.9-7.2-6.6z" color="#482677"/><path d="M388.3 387.4l7.2 4.1 4.1-9.3-7.2-2.8z" color="#38588c"/><path d="M377 393.9l7.2 5.4 4.1-11.9-7.2-4z" color="#3a538b"/><path d="M352.1 479.5l7.2 3.8 4.1-8-7.2-6z" color="#450559"/><path d="M333.5 476.6l7.2 5.5 4.2-8.3-7.2-7.8z" color="#46075a"/><path d="M243.1 392l7-3.5 4.4-1.3-7 4.3z" color="#3a538b"/><path d="M331.6 416.9l7.2 10.6 4.1-14.7-7.1-9.3z" color="#423f85"/><path d="M418.2 381.3l7.2 2.2 2-1.9 2.1-1-7.3-1.8-2.1 .8z" color="#375b8d"/><path d="M327.5 431.1l7.2 11.3 4.1-14.9-7.2-10.6z" color="#46337f"/><path d="M323.3 445.1l7.2 11.3 4.2-14-7.2-11.3z" color="#482677"/><path d="M220.5 405.1l6.9-6.1 4.4-1-6.9 6.3z" color="#3e4a89"/><path d="M535.5 439l7.3 4.3 2.7-.5-7.3-3.5z" color="#482979"/><path d="M374.7 468.9l7.2 4.9 4.2-14-7.2-5.6z" color="#471365"/><path d="M368.7 423.3l7.1 7.4 4.2-16.6-7.2-6.5z" color="#433d84"/><path d="M231.8 398l7-5 4.3-1-6.9 5.4z" color="#3c508b"/><path d="M502.7 414.8l7.2 5.2 3.8 4.5-7.3-4.8z" color="#443b84"/><path d="M319.1 458.1l7.2 10.5 4.2-12.2-7.2-11.3z" color="#481a6c"/><path d="M324.4 406.5l7.2 10.4 4.2-13.4-7.2-8.7z" color="#3f4889"/><path d="M372.8 407.6l7.2 6.5 4.2-14.8-7.2-5.4z" color="#3e4989"/><path d="M310 389l7.2 8 4.2-9.6-7.2-5.7z" color="#39558c"/><path d="M378.9 454.2l7.2 5.6 4.1-16.7-7.2-5.8z" color="#482173"/><path d="M317.2 397l7.2 9.5 4.2-11.7-7.2-7.4z" color="#3c4f8a"/><path d="M375.8 430.7l7.2 6.6 4.2-17.1-7.2-6.1z" color="#453781"/><path d="M370.6 479.9l7.2 3.5 4.1-9.6-7.2-4.9z" color="#450559"/><path d="M320.3 419.5l7.2 11.6 4.1-14.2-7.2-10.4z" color="#433d84"/><path d="M340.7 482.1l7.2 3 2-2.1 2.2-3.5-7.2-5.7z" color="#440256"/><path d="M316.1 432.8l7.2 12.3 4.2-14-7.2-11.6z" color="#46327e"/><path d="M384.2 399.3l7.2 5.1 4.1-12.9-7.2-4.1z" color="#3c508b"/><path d="M272.9 382.7l3.8 .8 3.4 1.4 4.2-4-3.4-.5-3.7 .2z" color="#375b8d"/><path d="M406.9 385.2l7.2 2.8 4.1-6.7-7.3-2.2z" color="#375a8c"/><path d="M315 469.5l7.2 8.9 4.1-9.8-7.2-10.5z" color="#470e61"/><path d="M322.2 478.4l3.7 3.3 3.5 2.3 4.1-7.4-7.2-8z" color="#450559"/><path d="M380 414.1l7.2 6.1 4.2-15.8-7.2-5.1z" color="#404588"/><path d="M291.5 384.1l7.1 5.8 4.2-6.9-7.1-3.6z" color="#375a8c"/><path d="M359.3 483.3l7.2 2.4 1.9-2.1 2.2-3.7-7.2-4.6z" color="#440256"/><path d="M381.9 473.8l7.2 4 4.2-13.4-7.2-4.6z" color="#470e61"/><path d="M509.9 420l7.3 5.5 3.7 3.9-7.2-4.9z" color="#453882"/><path d="M311.9 445.9l7.2 12.2 4.2-13-7.2-12.3z" color="#482576"/><path d="M469.8 393.6l7.2 3.4 3.9 4.4-7.3-3.7z" color="#3c4f8a"/><path d="M383 437.3l7.2 5.8 4.2-17.5-7.2-5.4z" color="#46327e"/><path d="M395.5 391.5l7.2 3.8 4.2-10.1-7.3-3z" color="#39568c"/><path d="M386.1 459.8l7.2 4.6 4.2-16.5-7.3-4.8z" color="#481d6f"/><path d="M542.8 443.3l7.3 3.9 2.7-1.4-7.3-3z" color="#482677"/><path d="M313 408.2l7.3 11.3 4.1-13-7.2-9.5z" color="#3f4788"/><path d="M444 384.7l7.3 2.2 1.9 0 2 1-7.3-2.4-2-.9z" color="#38588c"/><path d="M425.4 383.5l7.3 2.1 1.9-1.9 2.1-1.1-7.2-2-2.1 1z" color="#375b8d"/><path d="M307.8 458.1l7.2 11.4 4.1-11.4-7.2-12.2z" color="#481b6d"/><path d="M298.6 389.9l7.2 8.2 4.2-9.1-7.2-6z" color="#39558c"/><path d="M305.8 398.1l7.2 10.1 4.2-11.2-7.2-8z" color="#3c4f8a"/><path d="M329.4 484l3.4 1.6 3.7 .9 2-1.6 2.2-2.8-7.2-5.5z" color="#440154"/><path d="M387.2 420.2l7.2 5.4 4.2-16.4-7.2-4.8z" color="#424186"/><path d="M308.9 420.4l7.2 12.4 4.2-13.3-7.3-11.3z" color="#433d84"/><path d="M377.8 483.4l7.2 2.7 2-3.2 2.1-5.1-7.2-4z" color="#450457"/><path d="M517.2 425.5l7.3 5.6 3.7 3.2-7.3-4.9z" color="#463480"/><path d="M391.4 404.4l7.2 4.8 4.1-13.9-7.2-3.8z" color="#3d4e8a"/><path d="M261.5 385.1l3.8 .1 3.3 .8 4.3-3.3-3.3 0-3.7 .7z" color="#375a8c"/><path d="M390.2 443.1l7.3 4.8 4.1-17.6-7.2-4.7z" color="#472e7c"/><path d="M347.9 485.1l7.2 .9 2-.6 2.2-2.1-7.2-3.8-2.2 3.5z" color="#440154"/><path d="M389.1 477.8l7.3 3.2 4.1-12.9-7.2-3.7z" color="#470d60"/><path d="M304.7 432.8l7.2 13.1 4.2-13.1-7.2-12.4z" color="#46327e"/><path d="M310.8 478.9l3.8 3.9 3.4 2.6 4.2-7-7.2-8.9z" color="#46075a"/><path d="M393.3 464.4l7.2 3.7 4.2-16.3-7.2-3.9z" color="#481b6d"/><path d="M193.5 423.8l6.8-6.9 4.5-2.1-6.9 6.8z" color="#433e85"/><path d="M477 397l7.3 3.8 3.8 4.7-7.2-4.1z" color="#3d4d8a"/><path d="M280.1 384.9l7.1 5.3 4.3-6.1-3.8-2-3.4-1.2z" color="#375a8c"/><path d="M366.5 485.7l7.2 1.4 1.9-1 2.2-2.7-7.2-3.5-2.2 3.7z" color="#440154"/><path d="M414.1 388l7.2 2.6 4.1-7.1-7.2-2.2z" color="#375a8c"/><path d="M402.7 395.3l7.3 3.6 4.1-10.9-7.2-2.8z" color="#3a548c"/><path d="M303.6 468.9l7.2 10 4.2-9.4-7.2-11.4z" color="#471164"/><path d="M301.7 408.6l7.2 11.8 4.1-12.2-7.2-10.1z" color="#3f4788"/><path d="M524.5 431.1l7.2 5.7 3.8 2.2-7.3-4.7z" color="#46307e"/><path d="M550.1 447.2l7.3 3.2 2.8-2.4-7.4-2.2z" color="#482576"/><path d="M394.4 425.6l7.2 4.7 4.2-16.9-7.2-4.2z" color="#423f85"/><path d="M300.5 444.9l7.3 13.2 4.1-12.2-7.2-13.1z" color="#482878"/><path d="M250.1 388.5l3.7-.8 3.4 0 4.3-2.6-3.3 .7-3.7 1.4z" color="#38598c"/><path d="M318 485.4l3.4 1.8 3.8 .8 2.2-1.6 2-2.4-3.5-2.3-3.7-3.3z" color="#440154"/><path d="M451.3 386.9l7.3 2.4 1.8 .2 2.1 1.1-7.3-2.7-2-1z" color="#38588c"/><path d="M398.6 409.2l7.2 4.2 4.2-14.5-7.3-3.6z" color="#3e4c8a"/><path d="M204.8 414.8l6.9-6.7 4.4-1.7-6.9 6.8z" color="#404688"/><path d="M397.5 447.9l7.2 3.9 4.2-17.7-7.3-3.8z" color="#472c7a"/><path d="M287.2 390.2l7.2 8 4.2-8.3-7.1-5.8z" color="#39568c"/><path d="M294.4 398.2l7.3 10.4 4.1-10.5-7.2-8.2z" color="#3c508b"/><path d="M385 486.1l7.2 2.4 2-2.8 2.2-4.7-7.3-3.2-2.1 5.1z" color="#440256"/><path d="M336.5 486.5l3.5 .1 3.7-.7 2.2 .2 2-1-7.2-3-2.2 2.8z" color="#440154"/><path d="M432.7 385.6l7.3 2.1 1.9-2 2.1-1-7.3-2.1-2.1 1.1z" color="#375b8d"/><path d="M297.5 419.7l7.2 13.1 4.2-12.4-7.2-11.8z" color="#423f85"/><path d="M238.8 393l3.6-1.6 3.4-.9 4.3-2-7 3.5z" color="#39568c"/><path d="M484.3 400.8l7.3 4.3 3.8 4.8-7.3-4.4z" color="#3e4a89"/><path d="M296.3 456.2l7.3 12.7 4.2-10.8-7.3-13.2z" color="#481d6f"/><path d="M216.1 406.4l6.9-5.8 4.4-1.6-6.9 6.1z" color="#3d4d8a"/><path d="M531.7 436.8l7.3 5.4 3.8 1.1-7.3-4.3z" color="#472d7b"/><path d="M396.4 481l7.2 2.6 4.2-12.6-7.3-2.9z" color="#460b5e"/><path d="M400.5 468.1l7.3 2.9 4.1-16.2-7.2-3z" color="#481a6c"/><path d="M227.4 399l7-4.3 4.4-1.7-7 5z" color="#3b528b"/><path d="M268.6 386l3.4 1.6 3.8 2.6 4.3-5.3-3.4-1.4-3.8-.8z" color="#375b8d"/><path d="M355.1 486l7.2-.6 2 .9 2.2-.6-7.2-2.4-2.2 2.1z" color="#440154"/><path d="M401.6 430.3l7.3 3.8 4.1-17.2-7.2-3.5z" color="#433d84"/><path d="M410 398.9l7.2 3.1 4.1-11.4-7.2-2.6z" color="#3a538b"/><path d="M299.4 478.1l3.8 4.7 3.4 3.4 4.2-7.3-7.2-10z" color="#46085c"/><path d="M421.3 390.6l7.3 2.4 4.1-7.4-7.3-2.1z" color="#38598c"/><path d="M293.3 431l7.2 13.9 4.2-12.1-7.2-13.1z" color="#453581"/><path d="M373.7 487.1l7.2 1 2-.1 2.1-1.9-7.2-2.7-2.2 2.7z" color="#440154"/><path d="M306.6 486.2l3.8 2.5 3.4 1.2 4.2-4.5-3.4-2.6-3.8-3.9z" color="#440256"/><path d="M405.8 413.4l7.2 3.5 4.2-14.9-7.2-3.1z" color="#3e4989"/><path d="M557.4 450.4l7.4 2.4 2.8-3.3-7.4-1.5z" color="#482576"/><path d="M290.2 407.6l7.3 12.1 4.2-11.1-7.3-10.4z" color="#3e4989"/><path d="M404.7 451.8l7.2 3 4.2-17.8-7.2-2.9z" color="#472a7a"/><path d="M458.6 389.3l7.3 2.6 1.8 .4 2.1 1.3-7.3-3-2.1-1.1z" color="#39568c"/><path d="M491.6 405.1l7.3 4.8 3.8 4.9-7.3-4.9z" color="#3f4889"/><path d="M325.2 488l3.4-.1 3.7-1.2 2.2 .4 2-.6-3.7-.9-3.4-1.6-2 2.4z" color="#440154"/><path d="M539 442.2l7.3 5.2 3.8-.2-7.3-3.9z" color="#472a7a"/><path d="M292.2 466.4l7.2 11.7 4.2-9.2-7.3-12.7z" color="#481668"/><path d="M275.8 390.2l7.2 7.3 4.2-7.3-7.1-5.3z" color="#38588c"/><path d="M392.2 488.5l7.3 2.2 1.9-2.6 2.2-4.5-7.2-2.6-2.2 4.7z" color="#440256"/><path d="M283 397.5l7.2 10.1 4.2-9.4-7.2-8z" color="#3b528b"/><path d="M289.1 442l7.2 14.2 4.2-11.3-7.2-13.9z" color="#472c7a"/><path d="M440 387.7l7.3 2 1.9-1.8 2.1-1-7.3-2.2-2.1 1zM257.2 387.7l3.8 1 3.4 1.7 4.2-4.4-3.3-.8-3.8-.1z" color="#375b8d"/><path d="M403.6 483.6l7.3 2.1 4.1-12.6-7.2-2.1z" color="#460a5d"/><path d="M407.8 471l7.2 2.1 4.2-16.3-7.3-2z" color="#481a6c"/><path d="M408.9 434.1l7.2 2.9 4.2-17.3-7.3-2.8z" color="#443b84"/><path d="M498.9 409.9l7.3 5.2 3.7 4.9-7.2-5.2z" color="#404588"/><path d="M417.2 402l7.3 2.6 4.1-11.6-7.3-2.4z" color="#3a538b"/><path d="M286 417.6l7.3 13.4 4.2-11.3-7.3-12.1z" color="#424186"/><path d="M343.7 485.9l7.2-2.9 2.2 2.3 2 .7-7.2-.9-2 1z" color="#450457"/><path d="M189 426.3l6.9-7 4.4-2.4-6.8 6.9z" color="#424086"/><path d="M546.3 447.4l7.3 4.5 3.8-1.5-7.3-3.2z" color="#482878"/><path d="M313.8 489.9l3.4 0 3.7-1.1 2.3 0 2-.8-3.8-.8-3.4-1.8z" color="#440154"/><path d="M413 416.9l7.3 2.8 4.2-15.1-7.3-2.6z" color="#3e4989"/><path d="M428.6 393l7.3 2 4.1-7.3-7.3-2.1z" color="#38598c"/><path d="M465.9 391.9l7.3 2.9 1.8 .7 2 1.5-7.2-3.4-2.1-1.3z" color="#39568c"/><path d="M295.2 485.6l3.7 3.7 3.5 2.1 4.2-5.2-3.4-3.4-3.8-4.7z" color="#450457"/><path d="M380.9 488.1l7.3 1.1 1.9 .6 2.1-1.3-7.2-2.4-2.1 1.9z" color="#440154"/><path d="M284.9 452.4l7.3 14 4.1-10.2-7.2-14.2z" color="#482374"/><path d="M362.3 485.4l7.3-1.4 1.9 2.3 2.2 .8-7.2-1.4-2.2 .6z" color="#450457"/><path d="M411.9 454.8l7.3 2 4.2-17.8-7.3-2z" color="#472a7a"/><path d="M287.9 475.3l7.3 10.3 4.2-7.5-7.2-11.7z" color="#470e61"/><path d="M245.8 390.5l3.7-.1 3.4 .8 4.3-3.5-3.4 0-3.7 .8z" color="#375a8c"/><path d="M506.2 415.1l7.3 5.7 3.7 4.7-7.3-5.5z" color="#424186"/><path d="M564.8 452.8l7.4 1.5 2.8-4.2-7.4-.6z" color="#482677"/><path d="M264.4 390.4l3.4 2.4 3.7 3.6 4.3-6.2-3.8-2.6-3.4-1.6z" color="#375a8c"/><path d="M278.8 405.7l7.2 11.9 4.2-10-7.2-10.1z" color="#3d4d8a"/><path d="M200.3 416.9l6.9-6.7 4.5-2.1-6.9 6.7z" color="#3f4889"/><path d="M399.5 490.7l7.3 2.1 1.9-2.6 2.2-4.5-7.3-2.1-2.2 4.5z" color="#440154"/><path d="M281.8 427.6l7.3 14.4 4.2-11-7.3-13.4z" color="#443a83"/><path d="M447.3 389.7l7.3 2 1.9-1.7 2.1-.7-7.3-2.4-2.1 1z" color="#375b8d"/><path d="M271.5 396.4l7.3 9.3 4.2-8.2-7.2-7.3z" color="#3a548c"/><path d="M234.4 394.7l3.7-1.2 3.3-.3 4.4-2.7-3.4 .9-3.6 1.6z" color="#38588c"/><path d="M513.5 420.8l7.3 6 3.7 4.3-7.3-5.6z" color="#433e85"/><path d="M416.1 437l7.3 2 4.2-17.3-7.3-2z" color="#443a83"/><path d="M302.4 491.4l3.7 1 3.4-.4 4.3-2.1-3.4-1.2-3.8-2.5z" color="#440154"/><path d="M553.6 451.9l7.4 3.9 3.8-3-7.4-2.4z" color="#482576"/><path d="M211.7 408.1l6.9-5.5 4.4-2-6.9 5.8z" color="#3c4f8a"/><path d="M410.9 485.7l7.2 1.6 4.2-13-7.3-1.2z" color="#460b5e"/><path d="M424.5 404.6l7.3 2 4.1-11.6-7.3-2z" color="#3a538b"/><path d="M415 473.1l7.3 1.2 4.2-16.4-7.3-1.1z" color="#481a6c"/><path d="M332.3 486.7l3.5-1.9 3.7-2.9 2.2 2.7 2 1.3-3.7 .7-3.5-.1-2 .6z" color="#450559"/><path d="M223 400.6l3.7-2.3 3.3-1.4 4.4-2.2-7 4.3z" color="#3a548c"/><path d="M280.7 461.8l7.2 13.5 4.3-8.9-7.3-14z" color="#481c6e"/><path d="M473.2 394.8l7.3 3.3 3.8 2.7-7.3-3.8-2-1.5z" color="#3a548c"/><path d="M420.3 419.7l7.3 2 4.2-15.1-7.3-2z" color="#3f4889"/><path d="M435.9 395l7.3 1.8 4.1-7.1-7.3-2z" color="#38598c"/><path d="M520.8 426.8l7.2 6.3 3.7 3.7-7.2-5.7z" color="#443983"/><path d="M277.6 437.4l7.3 15 4.2-10.4-7.3-14.4z" color="#46327e"/><path d="M388.2 489.2l7.2 1.5 2 .9 2.1-.9-7.3-2.2-2.1 1.3z" color="#440154"/><path d="M274.5 414.3l7.3 13.3 4.2-10-7.2-11.9z" color="#3f4788"/><path d="M419.2 456.8l7.3 1.1 4.2-17.8-7.3-1.1z" color="#472a7a"/><path d="M252.9 391.2l3.4 1.5 3.8 2.7 4.3-5-3.4-1.7-3.8-1z" color="#375b8d"/><path d="M283.7 482.9l3.8 5.2 3.4 3.5 4.3-6-7.3-10.3z" color="#46085c"/><path d="M528 433.1l7.3 6.3 3.7 2.8-7.3-5.4z" color="#463480"/><path d="M406.8 492.8l7.2 2.2 2-2.9 2.1-4.8-7.2-1.6-2.2 4.5z" color="#440256"/><path d="M454.6 391.7l7.3 2 1.9-1.3 2.1-.5-7.3-2.6-2.1 .7z" color="#375b8d"/><path d="M350.9 483l7.3-4.4 2.1 4.3 2 2.5-7.2 .6-2-.7z" color="#460a5d"/><path d="M369.6 484l7.2-1.3 2 3.5 2.1 1.9-7.2-1-2.2-.8z" color="#46075a"/><path d="M290.9 491.6l3.8 2.5 3.4 .9 4.3-3.6-3.5-2.1-3.7-3.7z" color="#440154"/><path d="M572.2 454.3l7.5 .6 2.8-5.1-7.5 .3z" color="#482878"/><path d="M320.9 488.8l3.4-2.2 3.8-3.5 2.2 2.3 2 1.3-3.7 1.2-3.4 .1-2 .8z" color="#450559"/><path d="M480.5 398.1l7.3 3.7 3.8 3.3-7.3-4.3z" color="#3a538b"/><path d="M561 455.8l7.4 2.9 3.8-4.4-7.4-1.5z" color="#482576"/><path d="M267.3 403.3l7.2 11 4.3-8.6-7.3-9.3z" color="#3c508b"/><path d="M423.4 439l7.3 1.1 4.2-17.2-7.3-1.2z" color="#443b84"/><path d="M260.1 395.4l7.2 7.9 4.2-6.9-3.7-3.6-3.4-2.4z" color="#38588c"/><path d="M276.4 470.3l7.3 12.6 4.2-7.6-7.2-13.5z" color="#481668"/><path d="M184.6 429.2l6.9-7 4.4-2.9-6.9 7z" color="#424186"/><path d="M431.8 406.6l7.3 1.5 4.1-11.3-7.3-1.8z" color="#3a538b"/><path d="M535.3 439.4l7.3 6.2 3.7 1.8-7.3-5.2z" color="#46307e"/><path d="M273.4 446.7l7.3 15.1 4.2-9.4-7.3-15z" color="#472a7a"/><path d="M418.1 487.3l7.3 .9 4.2-13.5-7.3-.4z" color="#470d60"/><path d="M427.6 421.7l7.3 1.2 4.2-14.8-7.3-1.5z" color="#3e4989"/><path d="M422.3 474.3l7.3 .4 4.2-16.6-7.3-.2z" color="#481c6e"/><path d="M241.4 393.2l3.8 .6 3.4 1.4 4.3-4-3.4-.8-3.7 .1z" color="#375b8d"/><path d="M270.3 423l7.3 14.4 4.2-9.8-7.3-13.3z" color="#424086"/><path d="M443.2 396.8l7.3 1.5 4.1-6.6-7.3-2z" color="#375a8c"/><path d="M309.5 492l3.4-1.7 3.8-3.3 4.2 1.8-3.7 1.1-3.4 0z" color="#450457"/><path d="M395.4 490.7l7.3 2.3 1.9 .9 2.2-1.1-7.3-2.1-2.1 .9z" color="#440256"/><path d="M487.8 401.8l7.3 4.2 3.8 3.9-7.3-4.8z" color="#3b518b"/><path d="M542.6 445.6l7.3 5.9 3.7 .4-7.3-4.5z" color="#472d7b"/><path d="M195.9 419.3l6.9-6.6 4.4-2.5-6.9 6.7z" color="#3e4989"/><path d="M461.9 393.7l7.3 2.1 1.9-.9 2.1-.1-7.3-2.9-2.1 .5z" color="#375a8c"/><path d="M426.5 457.9l7.3 .2 4.2-17.7-7.3-.3z" color="#472d7b"/><path d="M414 495l7.3 1.9 4.1-8.7-7.3-.9-2.1 4.8z" color="#440256"/><path d="M230 396.9l3.7-.7 3.4 .2 4.3-3.2-3.3 .3-3.7 1.2z" color="#375a8c"/><path d="M298.1 495l3.8-.6 3.4-2 4.2-.4-3.4 .4-3.7-1z" color="#440256"/><path d="M279.4 489.4l3.8 4.4 3.5 2.7 4.2-4.9-3.4-3.5-3.8-5.2z" color="#450559"/><path d="M568.4 458.7l7.4 1.8 3.9-5.6-7.5-.6z" color="#482576"/><path d="M207.2 410.2l7-5.2 4.4-2.4-6.9 5.5z" color="#3b518b"/><path d="M269.1 455.2l7.3 15.1 4.3-8.5-7.3-15.1z" color="#482475"/><path d="M263 410.5l7.3 12.5 4.2-8.7-7.2-11z" color="#3e4c8a"/><path d="M339.5 481.9l7.2-7.4 4.2 8.5-7.2 2.9-2-1.3z" color="#470e61"/><path d="M218.6 402.6l3.7-2 3.3-1.1 4.4-2.6-3.3 1.4-3.7 2.3z" color="#39568c"/><path d="M495.1 406l7.3 4.8 3.8 4.3-7.3-5.2z" color="#3d4e8a"/><path d="M376.8 482.7l7.3-.6 1.9 4.4 2.2 2.7-7.3-1.1-2.1-1.9z" color="#460a5d"/><path d="M248.6 395.2l3.4 2.3 3.8 3.5 4.3-5.6-3.8-2.7-3.4-1.5z" color="#375a8c"/><path d="M549.9 451.5l7.3 5.2 3.8-.9-7.4-3.9z" color="#482979"/><path d="M579.7 454.9l7.5-.4 2.9-5.7-7.6 1z" color="#472a7a"/><path d="M272.2 477.6l7.2 11.8 4.3-6.5-7.3-12.6z" color="#471063"/><path d="M266.1 431.5l7.3 15.2 4.2-9.3-7.3-14.4z" color="#443a83"/><path d="M439.1 408.1l7.3 1 4.1-10.8-7.3-1.5z" color="#3a548c"/><path d="M430.7 440.1l7.3 .3 4.2-16.9-7.3-.6z" color="#433d84"/><path d="M255.8 401l7.2 9.5 4.3-7.2-7.2-7.9z" color="#3a548c"/><path d="M450.5 398.3l7.3 1.3 4.1-5.9-7.3-2z" color="#375a8c"/><path d="M402.7 493l7.3 2.9 1.9 .5 2.1-1.4-7.2-2.2-2.2 1.1zM286.7 496.5l3.7 1.4 3.4-.3 4.3-2.6-3.4-.9-3.8-2.5z" color="#440154"/><path d="M434.9 422.9l7.3 .6 4.2-14.4-7.3-1z" color="#3e4a89"/><path d="M425.4 488.2l7.4 .2 4.1-14.3-7.3 .6zM358.2 478.6l7.2-4.8 2.2 6.2 2 4-7.3 1.4-2-2.5z" color="#471063"/><path d="M502.4 410.8l7.3 5.5 3.8 4.5-7.3-5.7z" color="#3e4a89"/><path d="M469.2 395.8l7.4 2.5 1.8-.6 2.1 .4-7.3-3.3-2.1 .1z" color="#375a8c"/><path d="M429.6 474.7l7.3-.6 4.2-16.8-7.3 .8z" color="#481f70"/><path d="M557.2 456.7l7.4 4.4 3.8-2.4-7.4-2.9z" color="#482677"/><path d="M180.2 432.5l6.8-7.1 4.5-3.2-6.9 7z" color="#424186"/><path d="M421.3 496.9l7.3 1.5 4.2-10-7.4-.2z" color="#450457"/><path d="M509.7 416.3l7.3 6 3.8 4.5-7.3-6z" color="#404688"/><path d="M237.1 396.4l3.7 1.2 3.4 2.1 4.4-4.5-3.4-1.4-3.8-.6z" color="#375b8d"/><path d="M264.9 462.8l7.3 14.8 4.2-7.3-7.3-15.1z" color="#481f70"/><path d="M328.1 483.1l7.2-9.5 4.2 8.3-3.7 2.9-3.5 1.9-2-1.3z" color="#471164"/><path d="M258.7 417.8l7.4 13.7 4.2-8.5-7.3-12.5z" color="#3f4788"/><path d="M261.8 439.5l7.3 15.7 4.3-8.5-7.3-15.2z" color="#463480"/><path d="M433.8 458.1l7.3-.8 4.3-17.6-7.4 .7z" color="#472f7d"/><path d="M575.8 460.5l7.5 .8 3.9-6.8-7.5 .4z" color="#482878"/><path d="M517 422.3l7.3 6.4 3.7 4.4-7.2-6.3z" color="#414287"/><path d="M384.1 482.1l7.3 .8 1.9 4.7 2.1 3.1-7.2-1.5-2.2-2.7z" color="#470d60"/><path d="M410 495.9l7.3 3.4 1.9-.3 2.1-2.1-7.3-1.9-2.1 1.4z" color="#440154"/><path d="M446.4 409.1l7.3 .5 4.1-10-7.3-1.3z" color="#39558c"/><path d="M275.2 495l3.8 3.7 3.4 2 4.3-4.2-3.5-2.7-3.8-4.4z" color="#440256"/><path d="M476.6 398.3l7.3 2.8 1.9-.1 2 .8-7.3-3.7-2.1-.4z" color="#38598c"/><path d="M457.8 399.6l7.4 1.2 1.9-2.9 2.1-2.1-7.3-2.1z" color="#375b8d"/><path d="M267.9 484l3.8 6.3 3.5 4.7 4.2-5.6-7.2-11.8z" color="#470d60"/><path d="M191.5 422.2l6.9-6.6 4.4-2.9-6.9 6.6z" color="#3e4a89"/><path d="M438 440.4l7.4-.7 4.2-16.3-7.4 .1z" color="#423f85"/><path d="M316.7 487l3.4-4.3 3.7-6 4.3 6.4-3.8 3.5-3.4 2.2z" color="#471063"/><path d="M524.3 428.7l7.3 6.8 3.7 3.9-7.3-6.3z" color="#433d84"/><path d="M251.5 406.9l7.2 10.9 4.3-7.3-7.2-9.5z" color="#3b518b"/><path d="M244.2 399.7l3.5 2.9 3.8 4.3 4.3-5.9-3.8-3.5-3.4-2.3z" color="#38588c"/><path d="M564.6 461.1l7.4 3.3 3.8-3.9-7.4-1.8z" color="#482576"/><path d="M225.6 399.5l3.7-.2 3.4 .6 4.4-3.5-3.4-.2-3.7 .7z" color="#375a8c"/><path d="M587.2 454.5l7.6-1.3 2.8-6.1-7.5 1.7z" color="#472f7d"/><path d="M442.2 423.5l7.4-.1 4.1-13.8-7.3-.5z" color="#3e4c8a"/><path d="M305.3 492.4l3.4-3.5 3.7-5.5 4.3 3.6-3.8 3.3-3.4 1.7z" color="#460b5e"/><path d="M531.6 435.5l7.3 7 3.7 3.1-7.3-6.2z" color="#453882"/><path d="M202.8 412.7l7-4.9 4.4-2.8-7 5.2z" color="#3b528b"/><path d="M293.8 497.6l3.8-2.1 3.4-3.6 4.3 .5-3.4 2-3.8 .6z" color="#450559"/><path d="M214.2 405l3.7-1.7 3.3-.8 4.4-3-3.3 1.1-3.7 2z" color="#38588c"/><path d="M432.8 488.4l7.3-.8 4.2-15.1-7.4 1.6z" color="#481467"/><path d="M254.5 424.9l7.3 14.6 4.3-8-7.4-13.7z" color="#414287"/><path d="M257.5 446.8l7.4 16 4.2-7.6-7.3-15.7z" color="#472f7d"/><path d="M538.9 442.5l7.3 6.9 3.7 2.1-7.3-5.9z" color="#46337f"/><path d="M282.4 500.7l3.7 .4 3.4-1.4 4.3-2.1-3.4 .3-3.7-1.4z" color="#440154"/><path d="M483.9 401.1l7.3 3.3 1.9 .4 2 1.2-7.3-4.2-2-.8z" color="#39568c"/><path d="M436.9 474.1l7.4-1.6 4.2-16.9-7.4 1.7z" color="#482374"/><path d="M260.6 469.5l7.3 14.5 4.3-6.4-7.3-14.8z" color="#481b6d"/><path d="M428.6 498.4l7.4 .6 4.1-11.4-7.3 .8z" color="#46075a"/><path d="M417.3 499.3l7.2 3.3 2-1.2 2.1-3-7.3-1.5-2.1 2.1z" color="#440154"/><path d="M346.7 474.5l7.3-8.8 4.2 12.9-7.3 4.4z" color="#481a6c"/><path d="M365.4 473.8l7.3-4.1 4.1 13-7.2 1.3-2-4z" color="#481769"/><path d="M391.4 482.9l7.3 2.4 1.9 4.7 2.1 3-7.3-2.3-2.1-3.1z" color="#470d60"/><path d="M465.2 400.8l7.4 1.3 1.9-2.3 2.1-1.5-7.4-2.5-2.1 2.1z" color="#375b8d"/><path d="M546.2 449.4l7.3 6.5 3.7 .8-7.3-5.2z" color="#472e7c"/><path d="M453.7 409.6l7.4 .3 4.1-9.1-7.4-1.2z" color="#39568c"/><path d="M583.3 461.3l7.5-.3 4-7.8-7.6 1.3z" color="#472a7a"/><path d="M441.1 457.3l7.4-1.7 4.2-17.2-7.3 1.3z" color="#46337f"/><path d="M175.7 436.1l6.9-7.1 4.4-3.6-6.8 7.1z" color="#424186"/><path d="M572 464.4l7.4 2.2 3.9-5.3-7.5-.8z" color="#482576"/><path d="M232.7 399.9l3.8 1.8 3.4 2.7 4.3-4.7-3.4-2.1-3.7-1.2z" color="#375b8d"/><path d="M247.2 412.8l7.3 12.1 4.2-7.1-7.2-10.9z" color="#3c4f8a"/><path d="M491.2 404.4l7.4 3.9 3.8 2.5-7.3-4.8-2-1.2z" color="#39558c"/><path d="M263.6 489.5l3.8 6 3.5 4.3 4.3-4.8-3.5-4.7-3.8-6.3z" color="#460a5d"/><path d="M270.9 499.8l3.8 3.2 3.4 1.4 4.3-3.7-3.4-2-3.8-3.7z" color="#440154"/><path d="M445.4 439.7l7.3-1.3 4.2-15.7-7.3 .7z" color="#414287"/><path d="M553.5 455.9l7.3 5.8 3.8-.6-7.4-4.4z" color="#472a7a"/><path d="M449.6 423.4l7.3-.7 4.2-12.8-7.4-.3z" color="#3d4e8a"/><path d="M239.9 404.4l3.5 3.5 3.8 4.9 4.3-5.9-3.8-4.3-3.5-2.9z" color="#39568c"/><path d="M398.7 485.3l7.2 3.9 2 4.2 2.1 2.5-7.3-2.9-2.1-3z" color="#460b5e"/><path d="M594.8 453.2l7.6-1.9 2.9-6.3-7.7 2.1z" color="#46337f"/><path d="M424.5 502.6l7.4 2.8 1.9-2.4 2.2-4-7.4-.6-2.1 3z" color="#440154"/><path d="M250.2 431.6l7.3 15.2 4.3-7.3-7.3-14.6z" color="#423f85"/><path d="M187 425.4l6.9-6.5 4.5-3.3-6.9 6.6z" color="#3e4c8a"/><path d="M253.2 453.4l7.4 16.1 4.3-6.7-7.4-16z" color="#472c7a"/><path d="M221.2 402.5l3.7 .2 3.4 1 4.4-3.8-3.4-.6-3.7 .2z" color="#375b8d"/><path d="M498.6 408.3l7.3 4.7 3.8 3.3-7.3-5.5z" color="#3b528b"/><path d="M472.6 402.1l7.3 1.6 1.9-1.7 2.1-.9-7.3-2.8-2.1 1.5z" color="#375b8d"/><path d="M256.3 475.2l7.3 14.3 4.3-5.5-7.3-14.5z" color="#48186a"/><path d="M560.8 461.7l7.4 4.8 3.8-2.1-7.4-3.3z" color="#482878"/><path d="M440.1 487.6l7.4-2 4.2-15.7-7.4 2.6z" color="#48186a"/><path d="M436 499l7.3-.6 4.2-12.8-7.4 2z" color="#460b5e"/><path d="M198.4 415.6l6.9-4.7 4.5-3.1-7 4.9z" color="#3a538b"/><path d="M335.3 473.6l7.2-12.3 4.2 13.2-7.2 7.4z" color="#481f70"/><path d="M461.1 409.9l7.4 .1 4.1-7.9-7.4-1.3zM209.8 407.8l3.7-1.5 3.3-.5 4.4-3.3-3.3 .8-3.7 1.7z" color="#38588c"/><path d="M579.4 466.6l7.5 .9 3.9-6.5-7.5 .3z" color="#482677"/><path d="M444.3 472.5l7.4-2.6 4.2-16.9-7.4 2.6z" color="#482878"/><path d="M505.9 413l7.4 5.4 3.7 3.9-7.3-6z" color="#3c4f8a"/><path d="M405.9 489.2l7.3 5.2 1.9 3.2 2.2 1.7-7.3-3.4-2.1-2.5z" color="#460a5d"/><path d="M278.1 504.4l3.7-.3 3.4-2.1 4.3-2.3-3.4 1.4-3.7-.4z" color="#440256"/><path d="M372.7 469.7l7.3-2.6 4.1 15-7.3 .6z" color="#481d6f"/><path d="M289.5 499.7l3.8-3.4 3.4-4.9 4.3 .5-3.4 3.6-3.8 2.1z" color="#46085c"/><path d="M590.8 461l7.6-1.3 4-8.4-7.6 1.9z" color="#472e7c"/><path d="M242.8 418.6l7.4 13 4.3-6.7-7.3-12.1z" color="#3e4c8a"/><path d="M448.5 455.6l7.4-2.6 4.2-16.6-7.4 2z" color="#453882"/><path d="M513.3 418.4l7.3 6.2 3.7 4.1-7.3-6.4z" color="#3e4a89"/><path d="M228.3 403.7l3.5 2.1 3.8 3.3 4.3-4.7-3.4-2.7-3.8-1.8z" color="#375a8c"/><path d="M171.3 440.2l6.8-7.1 4.5-4.1-6.9 7.1z" color="#424186"/><path d="M568.2 466.5l7.4 3.7 3.8-3.6-7.4-2.2z" color="#482576"/><path d="M456.9 422.7l7.4-1 4.2-11.7-7.4-.1z" color="#3b518b"/><path d="M479.9 403.7l7.4 2.1 1.9-1.1 2-.3-7.3-3.3-2.1 .9z" color="#375b8d"/><path d="M259.3 494.1l3.8 5.9 3.5 4.1 4.3-4.3-3.5-4.3-3.8-6z" color="#46085c"/><path d="M431.9 505.4l7.3 1.7 4.1-8.7-7.3 .6-2.2 4z" color="#440256"/><path d="M301 491.9l3.4-5.2 3.7-7.4 4.3 4.1-3.7 5.5-3.4 3.5z" color="#471365"/><path d="M452.7 438.4l7.4-2 4.2-14.7-7.4 1z" color="#404688"/><path d="M235.6 409.1l7.2 9.5 4.4-5.8-3.8-4.9-3.5-3.5z" color="#3a548c"/><path d="M245.8 437.6l7.4 15.8 4.3-6.6-7.3-15.2z" color="#443b84"/><path d="M323.8 476.7l7.2-14.5 4.3 11.4-7.2 9.5z" color="#481f70"/><path d="M520.6 424.6l7.3 6.8 3.7 4.1-7.3-6.8z" color="#404688"/><path d="M266.6 504.1l3.7 2.9 3.5 1.1 4.3-3.7-3.4-1.4-3.8-3.2z" color="#440154"/><path d="M413.2 494.4l7.3 5.7 1.9 2.1 2.1 .4-7.2-3.3-2.2-1.7z" color="#46075a"/><path d="M248.9 459.1l7.4 16.1 4.3-5.7-7.4-16.1z" color="#482979"/><path d="M312.4 483.4l7.1-14.8 4.3 8.1-3.7 6-3.4 4.3z" color="#481b6d"/><path d="M354 465.7l7.3-8.7 4.1 16.8-7.2 4.8z" color="#482475"/><path d="M527.9 431.4l7.3 7.3 3.7 3.8-7.3-7z" color="#424086"/><path d="M468.5 410l7.4 .2 4-6.5-7.3-1.6z" color="#38598c"/><path d="M602.4 451.3l7.7-2.4 2.8-6.3-7.6 2.4z" color="#453882"/><path d="M535.2 438.7l7.3 7.5 3.7 3.2-7.3-6.9z" color="#443a83"/><path d="M251.9 480l7.4 14.1 4.3-4.6-7.3-14.3z" color="#481769"/><path d="M182.6 429l6.9-6.5 4.4-3.6-6.9 6.5z" color="#3e4c8a"/><path d="M542.5 446.2l7.3 7.5 3.7 2.2-7.3-6.5z" color="#453581"/><path d="M216.8 405.8l3.7 .4 3.5 1.4 4.3-3.9-3.4-1-3.7-.2z" color="#375b8d"/><path d="M586.9 467.5l7.6-.3 3.9-7.5-7.6 1.3z" color="#472a7a"/><path d="M420.5 500.1l7.3 5.7 1.9 .6 2.2-1-7.4-2.8-2.1-.4z" color="#440256"/><path d="M487.3 405.8l7.4 2.6 1.9-.4 2 .3-7.4-3.9-2 .3z" color="#375a8c"/><path d="M575.6 470.2l7.4 2.4 3.9-5.1-7.5-.9z" color="#482576"/><path d="M443.3 498.4l7.4-2 4.2-14-7.4 3.2z" color="#471164"/><path d="M447.5 485.6l7.4-3.2 4.2-16.1-7.4 3.6z" color="#481f70"/><path d="M549.8 453.7l7.3 7 3.7 1-7.3-5.8z" color="#472f7d"/><path d="M380 467.1l3.8-.4 3.5 .2 4.1 16-7.3-.8z" color="#482071"/><path d="M238.5 424l7.3 13.6 4.4-6-7.4-13z" color="#3e4989"/><path d="M193.9 418.9l7-4.6 4.4-3.4-6.9 4.7z" color="#3a538b"/><path d="M205.3 410.9l3.7-1.3 3.4-.4 4.4-3.4-3.3 .5-3.7 1.5z" color="#38598c"/><path d="M451.7 469.9l7.4-3.6 4.3-16.6-7.5 3.3z" color="#472e7c"/><path d="M598.4 459.7l7.7-2.1 4-8.7-7.7 2.4z" color="#46337f"/><path d="M464.3 421.7l7.5-1.2 4.1-10.3-7.4-.2z" color="#3a538b"/><path d="M557.1 460.7l7.3 6.3 3.8-.5-7.4-4.8z" color="#472c7a"/><path d="M439.2 507.1l7.4 0 4.1-10.7-7.4 2z" color="#450559"/><path d="M273.8 508.1l3.7-.7 3.4-2.5 4.3-2.9-3.4 2.1-3.7 .3z" color="#440256"/><path d="M241.5 443l7.4 16.1 4.3-5.7-7.4-15.8z" color="#443983"/><path d="M224 407.6l3.4 2.4 3.8 3.8 4.4-4.7-3.8-3.3-3.5-2.1z" color="#38598c"/><path d="M166.8 444.6l6.9-7.1 4.4-4.4-6.8 7.1z" color="#424186"/><path d="M427.8 505.8l7.3 4.8 2-1 2.1-2.5-7.3-1.7-2.2 1z" color="#440154"/><path d="M455.9 453l7.5-3.3 4.2-15.7-7.5 2.4z" color="#433e85"/><path d="M494.7 408.4l7.4 3.5 1.8 .2 2 .9-7.3-4.7-2-.3z" color="#38588c"/><path d="M231.2 413.8l7.3 10.2 4.3-5.4-7.2-9.5z" color="#3a538b"/><path d="M254.9 498l3.9 5.8 3.4 4.1 4.4-3.8-3.5-4.1-3.8-5.9z" color="#46085c"/><path d="M475.9 410.2l7.4 .6 4-5-7.4-2.1z" color="#375a8c"/><path d="M460.1 436.4l7.5-2.4 4.2-13.5-7.5 1.2z" color="#3e4a89"/><path d="M244.5 463.8l7.4 16.2 4.4-4.8-7.4-16.1z" color="#482677"/><path d="M285.2 502l3.4-3.9 3.7-6.3 4.4-.4-3.4 4.9-3.8 3.4z" color="#470d60"/><path d="M262.2 507.9l3.8 3 3.4 1 4.4-3.8-3.5-1.1-3.7-2.9z" color="#440154"/><path d="M564.4 467l7.4 5.2 3.8-2-7.4-3.7z" color="#482878"/><path d="M583 472.6l7.6 .9 3.9-6.3-7.6 .3z" color="#482677"/><path d="M387.3 466.9l3.5 .9 3.8 1.6 4.1 15.9-7.3-2.4z" color="#482173"/><path d="M502.1 411.9l7.3 4.4 3.9 2.1-7.4-5.4-2-.9z" color="#39558c"/><path d="M610.1 448.9l7.6-2.5 2.9-6-7.7 2.2z" color="#433e85"/><path d="M247.6 483.9l7.3 14.1 4.4-3.9-7.4-14.1z" color="#481668"/><path d="M178.1 433.1l6.9-6.6 4.5-4-6.9 6.5z" color="#3e4c8a"/><path d="M342.5 461.3l7.3-13.6 4.2 18-7.3 8.8zM594.5 467.2l7.6-1.4 4-8.2-7.7 2.1z" color="#472e7c"/><path d="M212.4 409.2l3.7 .7 3.5 1.6 4.4-3.9-3.5-1.4-3.7-.4z" color="#375b8d"/><path d="M234.1 429l7.4 14 4.3-5.4-7.3-13.6z" color="#3f4788"/><path d="M435.1 510.6l7.4 3 1.9-2.5 2.2-4-7.4 0-2.1 2.5z" color="#440154"/><path d="M571.8 472.2l7.4 3.9 3.8-3.5-7.4-2.4z" color="#482576"/><path d="M361.3 457l7.3-7.4 4.1 20.1-7.3 4.1z" color="#472f7d"/><path d="M509.4 416.3l7.4 5.3 3.8 3-7.3-6.2z" color="#3b528b"/><path d="M296.7 491.4l3.3-6.6 3.7-9.1 4.4 3.6-3.7 7.4-3.4 5.2z" color="#481b6d"/><path d="M483.3 410.8l7.4 1 1.9-2 2.1-1.4-7.4-2.6z" color="#375b8d"/><path d="M471.8 420.5l7.4-1.1 4.1-8.6-7.4-.6z" color="#39568c"/><path d="M450.7 496.4l7.5-3.6 4.2-14.9-7.5 4.5z" color="#48186a"/><path d="M189.5 422.5l7-4.6 4.4-3.6-7 4.6z" color="#3a538b"/><path d="M200.9 414.3l3.7-1.2 3.4-.3 4.4-3.6-3.4 .4-3.7 1.3z" color="#38598c"/><path d="M454.9 482.4l7.5-4.5 4.2-16-7.5 4.4z" color="#482677"/><path d="M394.6 469.4l7.4 5.2 3.9 14.6-7.2-3.9z" color="#482071"/><path d="M237.1 447.7l7.4 16.1 4.4-4.7-7.4-16.1z" color="#453882"/><path d="M516.8 421.6l7.3 6.3 3.8 3.5-7.3-6.8z" color="#3d4e8a"/><path d="M446.6 507.1l7.4-1.8 4.2-12.5-7.5 3.6z" color="#460b5e"/><path d="M606.1 457.6l7.7-2.5 3.9-8.7-7.6 2.5z" color="#443983"/><path d="M162.3 449.3l6.9-6.9 4.5-4.9-6.9 7.1z" color="#424086"/><path d="M226.8 418.2l7.3 10.8 4.4-5-7.3-10.2z" color="#3b528b"/><path d="M219.6 411.5l3.4 2.7 3.8 4 4.4-4.4-3.8-3.8-3.4-2.4z" color="#38598c"/><path d="M269.4 511.9l3.8-.8 3.4-2.5 4.3-3.7-3.4 2.5-3.7 .7z" color="#450457"/><path d="M459.1 466.3l7.5-4.4 4.2-16-7.4 3.8z" color="#453581"/><path d="M524.1 427.9l7.3 7 3.8 3.8-7.3-7.3z" color="#3f4889"/><path d="M467.6 434l7.4-2.6 4.2-12-7.4 1.1z" color="#3d4e8a"/><path d="M240.2 467.7l7.4 16.2 4.3-3.9-7.4-16.2z" color="#482677"/><path d="M463.4 449.7l7.4-3.8 4.2-14.5-7.4 2.6z" color="#414487"/><path d="M250.6 501.1l3.8 6 3.5 4.3 4.3-3.5-3.4-4.1-3.9-5.8z" color="#46085c"/><path d="M531.4 434.9l7.3 7.7 3.8 3.6-7.3-7.5z" color="#414287"/><path d="M402 474.6l7.3 7.3 3.9 12.5-7.3-5.2z" color="#481c6e"/><path d="M590.6 473.5l7.6-.4 3.9-7.3-7.6 1.4z" color="#472a7a"/><path d="M538.7 442.6l7.3 8 3.8 3.1-7.3-7.5z" color="#433d84"/><path d="M308.1 479.3l7.1-19 4.3 8.3-7.1 14.8z" color="#482878"/><path d="M331 462.2l7.2-17.5 4.3 16.6-7.2 12.3z" color="#46327e"/><path d="M257.9 511.4l3.8 3.2 3.4 1.3 4.3-4-3.4-1-3.8-3z" color="#440154"/><path d="M579.2 476.1l7.5 2.4 3.9-5-7.6-.9z" color="#482576"/><path d="M546 450.6l7.3 8 3.8 2.1-7.3-7z" color="#453781"/><path d="M409.3 481.9l7.2 8.8 2.1 5.8 1.9 3.6-7.3-5.7z" color="#481668"/><path d="M490.7 411.8l7.4 1.9 1.9-1.3 2.1-.5-7.4-3.5-2.1 1.4z" color="#375b8d"/><path d="M442.5 513.6l3.8 .7 3.6 .1 4.1-9.1-7.4 1.8-2.2 4z" color="#440256"/><path d="M280.9 504.9l3.4-4.4 3.7-6.9 4.3-1.8-3.7 6.3-3.4 3.9z" color="#471063"/><path d="M553.3 458.6l7.4 7.5 3.7 .9-7.3-6.3z" color="#46307e"/><path d="M416.5 490.7l7.3 9.2 2.1 3.9 1.9 2-7.3-5.7-1.9-3.6z" color="#470e61"/><path d="M617.7 446.4l7.7-2.3 2.8-5.6-7.6 1.9z" color="#414287"/><path d="M173.7 437.5l6.9-6.6 4.4-4.4-6.9 6.6z" color="#3e4a89"/><path d="M319.5 468.6l7.2-19.4 4.3 13-7.2 14.5z" color="#472f7d"/><path d="M602.1 465.8l7.7-2.3 4-8.4-7.7 2.5z" color="#46337f"/><path d="M243.2 486.9l7.4 14.2 4.3-3.1-7.3-14.1z" color="#481668"/><path d="M229.7 433.3l7.4 14.4 4.4-4.7-7.4-14z" color="#404688"/><path d="M423.8 499.9l7.3 8.6 2.1 1.8 1.9 .3-7.3-4.8-1.9-2z" color="#46085c"/><path d="M479.2 419.4l7.5-.7 4-6.9-7.4-1z" color="#38598c"/><path d="M560.7 466.1l7.3 6.6 3.8-.5-7.4-5.2z" color="#472c7a"/><path d="M208 412.8l3.7 .8 3.4 1.8 4.5-3.9-3.5-1.6-3.7-.7z" color="#375b8d"/><path d="M431.1 508.5l7.3 6.8 2.1-.3 2-1.4-7.4-3-1.9-.3z" color="#440256"/><path d="M185 426.5l7-4.6 4.5-4-7 4.6z" color="#3a538b"/><path d="M498.1 413.7l7.4 2.8 1.9-.4 2 .2-7.3-4.4-2.1 .5z" color="#375a8c"/><path d="M232.7 451.5l7.5 16.2 4.3-3.9-7.4-16.1z" color="#453781"/><path d="M157.9 454.5l6.8-6.8 4.5-5.3-6.9 6.9z" color="#423f85"/><path d="M568 472.7l7.4 5.5 3.8-2.1-7.4-3.9z" color="#482878"/><path d="M196.5 417.9l3.7-1.2 3.3-.2 4.5-3.7-3.4 .3-3.7 1.2z" color="#38598c"/><path d="M222.4 422.3l7.3 11 4.4-4.3-7.3-10.8z" color="#3b518b"/><path d="M368.6 449.6l3.8-2.9 3.5-1.9 4.1 22.3-7.3 2.6z" color="#453781"/><path d="M613.8 455.1l7.7-2.8 3.9-8.2-7.7 2.3z" color="#433e85"/><path d="M215.1 415.4l3.5 2.7 3.8 4.2 4.4-4.1-3.8-4-3.4-2.7z" color="#38598c"/><path d="M586.7 478.5l7.5 .9 4-6.3-7.6 .4z" color="#482677"/><path d="M265.1 515.9l3.8-.5 3.4-2.2 4.3-4.6-3.4 2.5-3.8 .8z" color="#440256"/><path d="M458.2 492.8l7.5-5.1 4.2-15.3-7.5 5.5z" color="#482173"/><path d="M475 431.4l7.5-2.5 4.2-10.2-7.5 .7z" color="#3b528b"/><path d="M454 505.3l7.5-3.9 4.2-13.7-7.5 5.1z" color="#481467"/><path d="M598.2 473.1l7.6-1.5 4-8.1-7.7 2.3z" color="#472e7c"/><path d="M462.4 477.9l7.5-5.5 4.2-15.6-7.5 5.1z" color="#472f7d"/><path d="M235.8 470.7l7.4 16.2 4.4-3-7.4-16.2z" color="#482677"/><path d="M505.5 416.5l7.4 4 3.9 1.1-7.4-5.3-2-.2z" color="#38588c"/><path d="M466.6 461.9l7.5-5.1 4.2-14.9-7.5 4z" color="#433d84"/><path d="M438.4 515.3l3.9 2.7 3.5 1.6 1.9-1.9 2.2-3.3-3.6-.1-3.8-.7-2 1.4z" color="#440154"/><path d="M292.3 491.8l3.4-7.7 3.7-10.4 4.3 2-3.7 9.1-3.3 6.6z" color="#482173"/><path d="M470.8 445.9l7.5-4 4.2-13-7.5 2.5z" color="#3e4989"/><path d="M246.2 503.5l3.8 6.2 3.5 4.7 4.4-3-3.5-4.3-3.8-6z" color="#460a5d"/><path d="M625.4 444.1l5.5-1.4 2.8-5.1-5.5 .9z" color="#404688"/><path d="M486.7 418.7l7.4 0 4-5-7.4-1.9z" color="#375a8c"/><path d="M575.4 478.2l7.4 3.9 3.9-3.6-7.5-2.4z" color="#482576"/><path d="M253.5 514.4l3.8 3.6 3.5 1.8 4.3-3.9-3.4-1.3-3.8-3.2z" color="#440154"/><path d="M349.8 447.7l7.3-13 4.2 22.3-7.3 8.7z" color="#433e85"/><path d="M449.9 514.4l3.9-.6 3.5-1.2 4.2-11.2-7.5 3.9z" color="#46085c"/><path d="M169.2 442.4l6.9-6.7 4.5-4.8-6.9 6.6z" color="#3e4a89"/><path d="M276.6 508.6l3.4-4.4 3.7-7 4.3-3.6-3.7 6.9-3.4 4.4z" color="#471164"/><path d="M225.3 437.1l7.4 14.4 4.4-3.8-7.4-14.4z" color="#404688"/><path d="M512.9 420.5l7.4 5.1 3.8 2.3-7.3-6.3z" color="#3a548c"/><path d="M609.8 463.5l7.7-2.7 4-8.5-7.7 2.8z" color="#443983"/><path d="M203.5 416.5l3.8 .8 3.4 1.8 4.4-3.7-3.4-1.8-3.7-.8z" color="#375b8d"/><path d="M238.8 488.9l7.4 14.6 4.4-2.4-7.4-14.2z" color="#48186a"/><path d="M520.3 425.6l7.4 6.3 3.7 3-7.3-7z" color="#3c508b"/><path d="M153.4 459.9l6.9-6.6 4.4-5.6-6.8 6.8z" color="#433d84"/><path d="M180.6 430.9l6.9-4.8 4.5-4.2-7 4.6z" color="#3a538b"/><path d="M594.2 479.4l7.6-.6 4-7.2-7.6 1.5z" color="#472a7a"/><path d="M621.5 452.3l5.5-1.8 3.9-7.8-5.5 1.4z" color="#414287"/><path d="M527.7 431.9l7.3 7.4 3.7 3.3-7.3-7.7z" color="#3e4a89"/><path d="M582.8 482.1l7.5 2.3 3.9-5-7.5-.9z" color="#482576"/><path d="M192 421.9l3.7-1.3 3.4-.3 4.4-3.8-3.3 .2-3.7 1.2z" color="#38598c"/><path d="M228.3 454.5l7.5 16.2 4.4-3-7.5-16.2z" color="#453781"/><path d="M218 426l7.3 11.1 4.4-3.8-7.3-11z" color="#3b518b"/><path d="M535 439.3l7.3 8 3.7 3.3-7.3-8z" color="#404588"/><path d="M445.8 519.6l3.9 1.1 3.5 .1 4.1-8.2-3.5 1.2-3.9 .6-2.2 3.3z" color="#440256"/><path d="M542.3 447.3l7.3 8.5 3.7 2.8-7.3-8z" color="#433e85"/><path d="M375.9 444.8l3.9-1.2 3.5-.1 4 23.4-3.5-.2-3.8 .4z" color="#443b84"/><path d="M482.5 428.9l7.5-2 4.1-8.2-7.4 0z" color="#39558c"/><path d="M494.1 418.7l7.5 .9 3.9-3.1-7.4-2.8z" color="#375b8d"/><path d="M549.6 455.8l7.3 8.4 3.8 1.9-7.4-7.5z" color="#453882"/><path d="M260.8 519.8l3.7 .2 3.4-1.5 4.4-5.3-3.4 2.2-3.8 .5z" color="#440256"/><path d="M210.7 419.1l3.5 2.7 3.8 4.2 4.4-3.7-3.8-4.2-3.5-2.7z" color="#38588c"/><path d="M556.9 464.2l7.4 7.8 3.7 .7-7.3-6.6z" color="#46307e"/><path d="M605.8 471.6l7.7-2.5 4-8.3-7.7 2.7zM303.7 475.7l7.2-22.5 4.3 7.1-7.1 19z" color="#46337f"/><path d="M564.3 472l7.3 6.9 3.8-.7-7.4-5.5z" color="#472c7a"/><path d="M231.3 472.7l7.5 16.2 4.4-2-7.4-16.2z" color="#482878"/><path d="M164.7 447.7l6.9-6.8 4.5-5.2-6.9 6.7z" color="#3f4889"/><path d="M478.3 441.9l7.6-3.8 4.1-11.2-7.5 2z" color="#3c4f8a"/><path d="M461.5 501.4l7.5-5.9 4.2-14.2-7.5 6.4z" color="#481d6f"/><path d="M465.7 487.7l7.5-6.4 4.2-15.1-7.5 6.2z" color="#472a7a"/><path d="M249.1 516.6l3.8 4.3 3.5 2.6 4.4-3.7-3.5-1.8-3.8-3.6z" color="#440256"/><path d="M241.7 504.9l7.4 11.7 4.4-2.2-3.5-4.7-3.8-6.2zM427.1 501.1l7.3 11.3 2.1 2.1 1.9 .8-7.3-6.8-1.9-2.9z" color="#460b5e"/><path d="M469.9 472.4l7.5-6.2 4.3-14.7-7.6 5.3z" color="#453882"/><path d="M617.5 460.8l5.5-2.1 4-8.2-5.5 1.8z" color="#433e85"/><path d="M474.1 456.8l7.6-5.3 4.2-13.4-7.6 3.8z" color="#404588"/><path d="M272.3 513.2l3.4-4 3.7-6.6 4.3-5.4-3.7 7-3.4 4.4z" color="#471063"/><path d="M571.6 478.9l7.4 5.5 3.8-2.3-7.4-3.9z" color="#482878"/><path d="M434.4 512.4l7.3 8.5 2.2-.2 1.9-1.1-3.5-1.6-3.9-2.7-1.9-.8z" color="#450457"/><path d="M501.6 419.6l7.4 2.2 1.9-1 2-.3-7.4-4z" color="#375b8d"/><path d="M338.2 444.7l7.3-18.5 4.3 21.5-7.3 13.6z" color="#404688"/><path d="M457.3 512.6l7.5-4.4 4.2-12.7-7.5 5.9z" color="#471164"/><path d="M220.9 440.3l7.4 14.2 4.4-3-7.4-14.4z" color="#404688"/><path d="M419.9 488.1l7.2 13 2.1 4.5 1.9 2.9-7.3-8.6z" color="#481769"/><path d="M148.9 465.6l6.9-6.3 4.5-6-6.9 6.6z" color="#443a83"/><path d="M288 493.6l3.4-8.3 3.7-11.1 2-.5 2.3 0-3.7 10.4-3.4 7.7z" color="#482576"/><path d="M590.3 484.4l7.6 .7 3.9-6.3-7.6 .6z" color="#482677"/><path d="M199.1 420.3l3.7 .7 3.5 1.7 4.4-3.6-3.4-1.8-3.8-.8z" color="#375b8d"/><path d="M383.3 443.5l3.5 .8 3.8 1.8 4 23.3-3.8-1.6-3.5-.9z" color="#433e85"/><path d="M176.1 435.7l7-5.1 4.4-4.5-6.9 4.8z" color="#3b528b"/><path d="M601.8 478.8l7.7-1.8 4-7.9-7.7 2.5z" color="#472e7c"/><path d="M490 426.9l7.5-1.1 4.1-6.2-7.5-.9z" color="#38598c"/><path d="M412.6 474.8l7.3 13.3 3.9 11.8-7.3-9.2z" color="#482173"/><path d="M441.7 520.9l3.9 3 3.5 1.8 4.1-4.9-3.5-.1-3.9-1.1-1.9 1.1z" color="#440154"/><path d="M315.2 460.3l7.2-24 4.3 12.9-7.2 19.4z" color="#424086"/><path d="M234.3 490l7.4 14.9 4.5-1.4-7.4-14.6z" color="#481b6d"/><path d="M453.2 520.8l3.5-.6 4-1.5 4.1-10.5-7.5 4.4z" color="#46085c"/><path d="M187.5 426.1l3.7-1.5 3.4-.4 4.5-3.9-3.4 .3-3.7 1.3z" color="#38598c"/><path d="M579 484.4l7.5 3.9 3.8-3.9-7.5-2.3z" color="#482576"/><path d="M256.4 523.5l3.8 1.1 3.4-.5 4.3-5.6-3.4 1.5-3.7-.2z" color="#440154"/><path d="M213.5 429.4l7.4 10.9 4.4-3.2-7.3-11.1z" color="#3b518b"/><path d="M509 421.8l7.4 3.6 3.9 .2-7.4-5.1-2 .3z" color="#38598c"/><path d="M206.3 422.7l3.4 2.6 3.8 4.1 4.5-3.4-3.8-4.2-3.5-2.7z" color="#38588c"/><path d="M326.7 449.2l7.2-22.5 4.3 18-7.2 17.5z" color="#3f4788"/><path d="M613.5 469.1l5.5-2.1 4-8.3-5.5 2.1z" color="#453882"/><path d="M223.9 456.8l7.4 15.9 4.5-2-7.5-16.2z" color="#443983"/><path d="M390.6 446.1l3.5 2.7 3.9 3.9 4 21.9-7.4-5.2z" color="#443b84"/><path d="M405.3 462.5l7.3 12.3 3.9 15.9-7.2-8.8z" color="#472d7b"/><path d="M357.1 434.7l7.3-11 4.2 25.9-7.3 7.4z" color="#3e4a89"/><path d="M398 452.7l7.3 9.8 4 19.4-7.3-7.3z" color="#453581"/><path d="M160.3 453.3l6.9-6.8 4.4-5.6-6.9 6.8z" color="#3f4788"/><path d="M516.4 425.4l7.4 5 3.9 1.5-7.4-6.3z" color="#39558c"/><path d="M267.9 518.5l3.8-3.7 3.3-5.2 4.4-7-3.7 6.6-3.4 4z" color="#470e61"/><path d="M485.9 438.1l7.5-3.2 4.1-9.1-7.5 1.1z" color="#3a538b"/><path d="M144.5 471.5l6.8-5.8 4.5-6.4-6.9 6.3z" color="#453882"/><path d="M597.9 485.1l7.7-.9 3.9-7.2-7.7 1.8z" color="#472a7a"/><path d="M523.8 430.4l7.4 6.4 3.8 2.5-7.3-7.4z" color="#3b518b"/><path d="M586.5 488.3l7.5 2 3.9-5.2-7.6-.7z" color="#482576"/><path d="M497.5 425.8l7.5 .1 4-4.1-7.4-2.2z" color="#375b8d"/><path d="M449.1 525.7l3.5 .9 3.9 0 4.2-7.9-4 1.5-3.5 .6z" color="#440256"/><path d="M226.9 473.9l7.4 16.1 4.5-1.1-7.5-16.2z" color="#472a7a"/><path d="M244.7 518l3.8 5 3.5 3.4 4.4-2.9-3.5-2.6-3.8-4.3z" color="#450457"/><path d="M531.2 436.8l7.4 7.6 3.7 2.9-7.3-8z" color="#3e4c8a"/><path d="M553.2 461.7l7.3 8.8 3.8 1.5-7.4-7.8z" color="#453882"/><path d="M545.9 452.9l7.3 8.8 3.7 2.5-7.3-8.4z" color="#423f85"/><path d="M538.6 444.4l7.3 8.5 3.7 2.9-7.3-8.5z" color="#404688"/><path d="M560.5 470.5l7.4 8.1 3.7 .3-7.3-6.9z" color="#46307e"/><path d="M609.5 477l5.6-1.9 3.9-8.1-5.5 2.1z" color="#46337f"/><path d="M481.7 451.5l7.5-5 4.2-11.6-7.5 3.2z" color="#3e4c8a"/><path d="M216.4 443l7.5 13.8 4.4-2.3-7.4-14.2z" color="#3f4788"/><path d="M171.6 440.9l7-5.5 4.5-4.8-7 5.1z" color="#3b518b"/><path d="M194.6 424.2l3.8 .5 3.4 1.5 4.5-3.5-3.5-1.7-3.7-.7z" color="#375b8d"/><path d="M237.3 505.4l7.4 12.6 4.4-1.4-7.4-11.7z" color="#471063"/><path d="M283.7 497.2l3.3-8.3 3.7-11.2 4.4-3.5-3.7 11.1-3.4 8.3z" color="#482878"/><path d="M567.9 478.6l7.3 6.9 3.8-1.1-7.4-5.5z" color="#472c7a"/><path d="M477.4 466.2l7.6-6.4 4.2-13.3-7.5 5z" color="#424186"/><path d="M473.2 481.3l7.6-7.3 4.2-14.2-7.6 6.4z" color="#453581"/><path d="M469 495.5l7.6-7.3 4.2-14.2-7.6 7.3z" color="#482979"/><path d="M183.1 430.6l3.7-1.7 3.3-.7 4.5-4-3.4 .4-3.7 1.5z" color="#38598c"/><path d="M252 526.4l3.8 2.3 3.4 .6 4.4-5.2-3.4 .5-3.8-1.1z" color="#440154"/><path d="M464.8 508.2l7.6-6.6 4.2-13.4-7.6 7.3z" color="#481c6e"/><path d="M299.4 473.7l7.1-25.1 4.4 4.6-7.2 22.5z" color="#443b84"/><path d="M155.8 459.3l6.9-6.7 4.5-6.1-6.9 6.8z" color="#404588"/><path d="M209.1 432.5l7.3 10.5 4.5-2.7-7.4-10.9z" color="#3b528b"/><path d="M201.8 426.2l3.5 2.4 3.8 3.9 4.4-3.1-3.8-4.1-3.4-2.6z" color="#38598c"/><path d="M575.2 485.5l7.5 5.4 3.8-2.6-7.5-3.9z" color="#482878"/><path d="M263.6 524.1l3.7-2.5 3.4-3.9 4.3-8.1-3.3 5.2-3.8 3.7z" color="#460a5d"/><path d="M437.7 518.5l3.9 5.3 3.4 3.7 2.2-.5 1.9-1.3-3.5-1.8-3.9-3-1.9-.8z" color="#450457"/><path d="M460.7 518.7l7.5-5.2 4.2-11.9-7.6 6.6z" color="#471164"/><path d="M430.4 505.2l7.3 13.3 2.1 1.6 1.9 .8-7.3-8.5z" color="#470e61"/><path d="M505 425.9l7.5 1.6 3.9-2.1-7.4-3.6z" color="#375b8d"/><path d="M140 477.5l6.9-5.2 4.4-6.6-6.8 5.8z" color="#453581"/><path d="M229.8 490.2l7.5 15.2 4.4-.5-7.4-14.9z" color="#481f70"/><path d="M594 490.3l7.6 .2 4-6.3-7.7 .9z" color="#482878"/><path d="M219.4 458.3l7.5 15.6 4.4-1.2-7.4-15.9z" color="#443b84"/><path d="M493.4 434.9l7.6-2.1 4-6.9-7.5-.1z" color="#38588c"/><path d="M605.6 484.2l5.5-1.5 4-7.6-5.6 1.9z" color="#472f7d"/><path d="M445 527.5l3.9 2.9 3.5 1.5 4.1-5.3-3.9 0-3.5-.9-1.9 1.3z" color="#440154"/><path d="M582.7 490.9l7.5 3.5 3.8-4.1-7.5-2z" color="#482576"/><path d="M423.2 489l7.2 16.2 4 7.2-7.3-11.3z" color="#481b6d"/><path d="M167.2 446.5l6.9-5.8 4.5-5.3-7 5.5z" color="#3c508b"/><path d="M456.5 526.6l3.6-1 3.9-2.1 4.2-10-7.5 5.2z" color="#46085c"/><path d="M364.4 423.7l3.9-4.3 3.5-2.9 4.1 28.3-3.5 1.9-3.8 2.9z" color="#39558c"/><path d="M512.5 427.5l7.5 3.3 3.8-.4-7.4-5z" color="#375a8c"/><path d="M190.1 428.2l3.8 .3 3.4 1.2 4.5-3.5-3.4-1.5-3.8-.5z" color="#375b8d"/><path d="M279.4 502.6l3.3-7.8 3.7-10.7 4.3-6.4-3.7 11.2-3.3 8.3z" color="#482677"/><path d="M240.2 518.2l7.4 10.1 4.4-1.9-3.5-3.4-3.8-5z" color="#46075a"/><path d="M151.3 465.7l7-6.6 4.4-6.5-6.9 6.7z" color="#424186"/><path d="M345.5 426.2l7.4-17.5 4.2 26-7.3 13z" color="#38598c"/><path d="M489.2 446.5l7.6-4.2 4.2-9.5-7.6 2.1z" color="#3b528b"/><path d="M178.6 435.4l3.7-1.9 3.4-.9 4.4-4.4-3.3 .7-3.7 1.7z" color="#38588c"/><path d="M212 445.1l7.4 13.2 4.5-1.5-7.5-13.8z" color="#3f4889"/><path d="M259.2 529.3l3.8-1 3.4-2.4 4.3-8.2-3.4 3.9-3.7 2.5z" color="#450559"/><path d="M222.4 474.2l7.4 16 4.5-.2-7.4-16.1z" color="#472e7c"/><path d="M247.6 528.3l3.8 3.5 3.5 1.9 4.3-4.4-3.4-.6-3.8-2.3z" color="#440154"/><path d="M135.5 483.6l6.9-4.5 4.5-6.8-6.9 5.2z" color="#46327e"/><path d="M520 430.8l7.4 5 3.8 1-7.4-6.4z" color="#39568c"/><path d="M601.6 490.5l5.5-.8 4-7-5.5 1.5z" color="#472a7a"/><path d="M232.8 504.7l7.4 13.5 4.5-.2-7.4-12.6z" color="#481467"/><path d="M485 459.8l7.7-6 4.1-11.5-7.6 4.2z" color="#3e4989"/><path d="M415.9 471.1l7.3 17.9 3.9 12.1-7.2-13z" color="#472a7a"/><path d="M501 432.8l7.5-.6 4-4.7-7.5-1.6z" color="#375a8c"/><path d="M197.3 429.7l3.5 2.1 3.8 3.5 4.5-2.8-3.8-3.9-3.5-2.4z" color="#38598c"/><path d="M556.8 468.5l7.3 9 3.8 1.1-7.4-8.1z" color="#453781"/><path d="M590.2 494.4l7.5 1.6 3.9-5.5-7.6-.2z" color="#482576"/><path d="M527.4 435.8l7.4 6.6 3.8 2-7.4-7.6z" color="#3b528b"/><path d="M204.6 435.3l7.4 9.8 4.4-2.1-7.3-10.5z" color="#3a538b"/><path d="M549.5 459.2l7.3 9.3 3.7 2-7.3-8.8z" color="#433e85"/><path d="M564.1 477.5l7.4 8.2 3.7-.2-7.3-6.9z" color="#472f7d"/><path d="M310.9 453.2l7.1-27.8 4.4 10.9-7.2 24z" color="#3c4f8a"/><path d="M542.1 450.3l7.4 8.9 3.7 2.5-7.3-8.8z" color="#404688"/><path d="M452.4 531.9l3.6 .4 3.9-.8 4.1-8-3.9 2.1-3.6 1z" color="#440256"/><path d="M534.8 442.4l7.3 7.9 3.8 2.6-7.3-8.5z" color="#3d4d8a"/><path d="M480.8 474l7.6-7.4 4.3-12.8-7.7 6z" color="#423f85"/><path d="M571.5 485.7l7.4 6.8 3.8-1.6-7.5-5.4z" color="#472a7a"/><path d="M476.6 488.2l7.6-8.2 4.2-13.4-7.6 7.4z" color="#463480"/><path d="M162.7 452.6l7-6.1 4.4-5.8-6.9 5.8z" color="#3d4e8a"/><path d="M275 509.6l3.4-6.9 3.7-9.5 4.3-9.1-3.7 10.7-3.3 7.8z" color="#482374"/><path d="M472.4 501.6l7.6-8.3 4.2-13.3-7.6 8.2z" color="#482979"/><path d="M295.1 474.2l7-26.5 2.1-.1 2.3 1-7.1 25.1-2.3 0z" color="#414287"/><path d="M214.9 459.3l7.5 14.9 4.5-.3-7.5-15.6z" color="#433e85"/><path d="M146.9 472.3l6.9-6.4 4.5-6.8-7 6.6z" color="#423f85"/><path d="M225.3 489.4l7.5 15.3 4.5 .7-7.5-15.2z" color="#482374"/><path d="M468.2 513.5l7.6-7.7 4.2-12.5-7.6 8.3z" color="#481d6f"/><path d="M441 526.8l3.9 5 3.5 3.2 4-3.1-3.5-1.5-3.9-2.9z" color="#440256"/><path d="M578.9 492.5l7.4 5 3.9-3.1-7.5-3.5z" color="#482677"/><path d="M254.9 533.7l3.8 .6 3.4-.8 4.3-7.6-3.4 2.4-3.8 1z" color="#440256"/><path d="M433.7 513.2l3.8 7.8 3.5 5.8 4 .7-3.4-3.7-3.9-5.3z" color="#460b5e"/><path d="M185.7 432.6l3.7-.2 3.4 .8 4.5-3.5-3.4-1.2-3.8-.3z" color="#375b8d"/><path d="M131 489.5l6.9-3.6 4.5-6.8-6.9 4.5z" color="#472f7d"/><path d="M333.9 426.7l7.3-23.4 4.3 22.9-7.3 18.5z" color="#355f8d"/><path d="M371.8 416.5l3.9-2 3.5-.5 4.1 29.5-3.5 .1-3.9 1.2z" color="#365c8d"/><path d="M174.1 440.7l3.7-2.2 3.4-1.3 4.5-4.6-3.4 .9-3.7 1.9z" color="#39568c"/><path d="M408.6 453.3l7.3 17.8 4 17-7.3-13.3z" color="#443a83"/><path d="M508.5 432.2l7.5 1.2 4-2.6-7.5-3.3z" color="#375b8d"/><path d="M597.7 496l5.5 0 3.9-6.3-5.5 .8z" color="#482878"/><path d="M496.8 442.3l7.6-2.9 4.1-7.2-7.5 .6z" color="#39568c"/><path d="M322.4 436.3l7.2-27.1 4.3 17.5-7.2 22.5z" color="#375b8d"/><path d="M464 523.5l7.6-6.4 4.2-11.3-7.6 7.7z" color="#481467"/><path d="M270.7 517.7l3.4-5.6 3.7-7.9 4.3-11-3.7 9.5-3.4 6.9z" color="#481c6e"/><path d="M207.5 446.8l7.4 12.5 4.5-1-7.4-13.2z" color="#3e4c8a"/><path d="M448.4 535l3.5 1.9 3.9 .6 4.1-6-3.9 .8-3.6-.4z" color="#440154"/><path d="M243.1 528.8l3.9 4.6 3.4 3.1 4.5-2.8-3.5-1.9-3.8-3.5z" color="#440256"/><path d="M586.3 497.5l7.5 3 3.9-4.5-7.5-1.6z" color="#482576"/><path d="M426.5 495l7.2 18.2 4 5.3-7.3-13.3z" color="#481b6d"/><path d="M235.7 517.2l7.4 11.6 4.5-.5-7.4-10.1z" color="#470d60"/><path d="M158.3 459.1l6.9-6.4 4.5-6.2-7 6.1z" color="#3e4c8a"/><path d="M192.8 433.2l3.8 2 3.5 2.8 4.5-2.7-3.8-3.5-3.5-2.1z" color="#375a8c"/><path d="M217.8 473.8l7.5 15.6 4.5 .8-7.4-16z" color="#46337f"/><path d="M516 433.4l7.5 3.1 3.9-.7-7.4-5z" color="#375a8c"/><path d="M142.4 479.1l6.9-5.9 4.5-7.3-6.9 6.4z" color="#443b84"/><path d="M492.7 453.8l7.6-5.1 4.1-9.3-7.6 2.9z" color="#3b518b"/><path d="M200.1 438l3.5 3.7 3.9 5.1 4.5-1.7-7.4-9.8z" color="#3a548c"/><path d="M401.3 437.4l7.3 15.9 4 21.5-7.3-12.3z" color="#3f4889"/><path d="M459.9 531.5l3.6-1.8 4-2.9 4.1-9.7-7.6 6.4z" color="#460b5e"/><path d="M266.4 525.9l3.4-3.9 3.7-6 4.3-11.8-3.7 7.9-3.4 5.6z" color="#481467"/><path d="M228.2 503l7.5 14.2 4.5 1-7.4-13.5z" color="#481a6c"/><path d="M379.2 414l3.5 .6 3.9 2.2 4 29.3-3.8-1.8-3.5-.8z" color="#365d8d"/><path d="M126.4 495.2l7-2.5 4.5-6.8-6.9 3.6z" color="#472d7b"/><path d="M250.4 536.5l3.9 2.2 3.4 .9 4.4-6.1-3.4 .8-3.8-.6z" color="#440154"/><path d="M523.5 436.5l7.4 5.2 3.9 .7-7.4-6.6z" color="#39568c"/><path d="M560.3 476l7.4 9.1 3.8 .6-7.4-8.2z" color="#453581"/><path d="M488.4 466.6l7.7-6.9 4.2-11-7.6 5.1z" color="#3e4989"/><path d="M169.7 446.5l7-4.2 4.5-5.1-3.4 1.3-3.7 2.2z" color="#39558c"/><path d="M567.7 485.1l7.4 8.1 3.8-.7-7.4-6.8z" color="#472e7c"/><path d="M553 466.4l7.3 9.6 3.8 1.5-7.3-9z" color="#433d84"/><path d="M593.8 500.5l5.5 .9 3.9-5.4-5.5 0z" color="#482677"/><path d="M504.4 439.4l7.6-1.1 4-4.9-7.5-1.2zM181.2 437.2l3.7-.6 3.4 .4 4.5-3.8-3.4-.8-3.7 .2z" color="#375a8c"/><path d="M290.7 477.7l7.1-26.7 2.1-2.1 2.2-1.2-7 26.5zM545.7 457.1l7.3 9.3 3.8 2.1-7.3-9.3z" color="#404588"/><path d="M530.9 441.7l7.4 7 3.8 1.6-7.3-7.9z" color="#3b528b"/><path d="M394 424.8l7.3 12.6 4 25.1-7.3-9.8z" color="#3a538b"/><path d="M538.3 448.7l7.4 8.4 3.8 2.1-7.4-8.9z" color="#3e4c8a"/><path d="M575.1 493.2l7.4 6.5 3.8-2.2-7.4-5z" color="#482979"/><path d="M386.6 416.8l3.5 3.2 3.9 4.8 4 27.9-3.9-3.9-3.5-2.7z" color="#375b8d"/><path d="M484.2 480l7.7-8.2 4.2-12.1-7.7 6.9z" color="#423f85"/><path d="M210.4 459.7l7.4 14.1 4.6 .4-7.5-14.9z" color="#414287"/><path d="M352.9 408.7l7.3-14.6 4.2 29.6-7.3 11z" color="#30698e"/><path d="M262.1 533.5l3.4-2.1 3.8-3.9 4.2-11.5-3.7 6-3.4 3.9z" color="#470d60"/><path d="M153.8 465.9l6.9-6.4 4.5-6.8-6.9 6.4z" color="#3f4889"/><path d="M419.2 473.6l7.3 21.4 3.9 10.2-7.2-16.2z" color="#472e7c"/><path d="M437 524.3l3.8 7.1 3.5 4.9 4.1-1.3-3.5-3.2-3.9-5z" color="#46085c"/><path d="M137.9 485.9l7-5.2 4.4-7.5-6.9 5.9z" color="#453882"/><path d="M455.8 537.5l3.6-.6 3.9-2 4.2-8.1-4 2.9-3.6 1.8z" color="#450559"/><path d="M480 493.3l7.7-9 4.2-12.5-7.7 8.2z" color="#453581"/><path d="M220.8 487.8l7.4 15.2 4.6 1.7-7.5-15.3z" color="#482979"/><path d="M444.3 536.3l3.5 3.5 3.9 2.2 4.1-4.5-3.9-.6-3.5-1.9z" color="#440154"/><path d="M582.5 499.7l7.5 4.4 3.8-3.6-7.5-3z" color="#482576"/><path d="M475.8 505.8l7.7-9.3 4.2-12.2-7.7 9z" color="#472a7a"/><path d="M306.5 448.6l7.1-30.6 4.4 7.4-7.1 27.8z" color="#375b8d"/><path d="M188.3 437l3.8 1.4 3.5 2.2 4.5-2.6-3.5-2.8-3.8-2z" color="#375a8c"/><path d="M121.9 500.5l7-1.3 4.5-6.5-7 2.5z" color="#482979"/><path d="M202.9 448.3l7.5 11.4 4.5-.4-7.4-12.5z" color="#3d4e8a"/><path d="M512 438.3l7.5 1 4-2.8-7.5-3.1z" color="#375b8d"/><path d="M500.3 448.7l7.6-3.4 4.1-7-7.6 1.1z" color="#39568c"/><path d="M429.7 506.3l7.3 18 4 2.5-3.5-5.8-3.8-7.8z" color="#481769"/><path d="M238.6 527.6l7.4 9.8 4.4-.9-3.4-3.1-3.9-4.6z" color="#46075a"/><path d="M257.7 539.6l3.5-.3 3.7-1.7 4.4-10.1-3.8 3.9-3.4 2.1z" color="#450559"/><path d="M471.6 517.1l7.7-9 4.2-11.6-7.7 9.3z" color="#482173"/><path d="M165.2 452.7l7-4.8 4.5-5.6-7 4.2z" color="#3a538b"/><path d="M195.6 440.6l3.5 3.2 3.8 4.5 4.6-1.5-3.9-5.1-3.5-3.7z" color="#39568c"/><path d="M246 537.4l3.8 3.7 3.5 2.3 4.4-3.8-3.4-.9-3.9-2.2z" color="#440154"/><path d="M286.4 484.1l7.1-25.6 4.3-7.5-7.1 26.7z" color="#414487"/><path d="M231.2 514.8l7.4 12.8 4.5 1.2-7.4-11.6z" color="#471365"/><path d="M590 504.1l5.4 1.8 3.9-4.5-5.5-.9z" color="#482576"/><path d="M176.7 442.3l3.7-1.1 3.4-.1 4.5-4.1-3.4-.4-3.7 .6z" color="#375a8c"/><path d="M149.3 473.2l7-6.4 4.4-7.3-6.9 6.4z" color="#404588"/><path d="M133.4 492.7l7-4.4 4.5-7.6-7 5.2z" color="#46337f"/><path d="M213.3 472.9l7.5 14.9 4.5 1.6-7.5-15.6z" color="#443983"/><path d="M451.7 542l3.6 .5 3.9-.9 4.1-6.7-3.9 2-3.6 .6z" color="#440256"/><path d="M467.5 526.8l7.6-8.1 4.2-10.6-7.7 9z" color="#48186a"/><path d="M519.5 439.3l7.5 3.3 3.9-.9-7.4-5.2z" color="#375a8c"/><path d="M496.1 459.7l7.7-5.5 4.1-8.9-7.6 3.4z" color="#3b518b"/><path d="M412 450.7l7.2 22.9 4 15.4-7.3-17.9z" color="#424186"/><path d="M563.9 484.2l7.4 9.1 3.8-.1-7.4-8.1z" color="#46337f"/><path d="M223.7 500.3l7.5 14.5 4.5 2.4-7.5-14.2z" color="#482173"/><path d="M556.6 474.4l7.3 9.8 3.8 .9-7.4-9.1z" color="#443a83"/><path d="M571.3 493.3l7.4 7.7 3.8-1.3-7.4-6.5z" color="#472d7b"/><path d="M527 442.6l7.5 5.6 3.8 .5-7.4-7z" color="#39568c"/><path d="M117.3 505.2l7.1 .1 4.5-6.1-7 1.3z" color="#482878"/><path d="M253.3 543.4l3.5 1.4 3.8 .5 4.3-7.7-3.7 1.7-3.5 .3z" color="#440154"/><path d="M282.1 493.2l7.1-23.3 4.3-11.4-7.1 25.6z" color="#433e85"/><path d="M549.2 464.6l7.4 9.8 3.7 1.6-7.3-9.6z" color="#414287"/><path d="M160.7 459.5l7-5.3 4.5-6.3-7 4.8z" color="#3c508b"/><path d="M440.2 536.7l3.5 5 3.9 3.6 4.1-3.3-3.9-2.2-3.5-3.5z" color="#440256"/><path d="M205.8 459.9l7.5 13 4.5 .9-7.4-14.1z" color="#404688"/><path d="M507.9 445.3l7.6-1.2 4-4.8-7.5-1z" color="#375a8c"/><path d="M541.9 455.7l7.3 8.9 3.8 1.8-7.3-9.3z" color="#3e4a89"/><path d="M534.5 448.2l7.4 7.5 3.8 1.4-7.4-8.4z" color="#3b518b"/><path d="M491.9 471.8l7.7-7.4 4.2-10.2-7.7 5.5z" color="#3e4989"/><path d="M422.5 483.2l7.2 23.1 4 6.9-7.2-18.2z" color="#472a7a"/><path d="M578.7 501l7.4 5.9 3.9-2.8-7.5-4.4z" color="#482878"/><path d="M463.3 534.9l3.6-2.8 4-4 4.2-9.4-7.6 8.1z" color="#471164"/><path d="M144.9 480.7l6.9-6.2 4.5-7.7-7 6.4z" color="#424086"/><path d="M183.8 441.1l3.8 .8 3.4 1.6 4.6-2.9-3.5-2.2-3.8-1.4z" color="#375b8d"/><path d="M128.9 499.2l7-3.4 4.5-7.5-7 4.4z" color="#472f7d"/><path d="M341.2 403.3l7.4-22 4.3 27.4-7.4 17.5z" color="#2c738e"/><path d="M432.9 521.1l3.8 9.1 3.5 6.5 4.1-.4-3.5-4.9-3.8-7.1z" color="#470e61"/><path d="M277.8 504.2l7.1-20 4.3-14.3-7.1 23.3z" color="#453581"/><path d="M318 425.4l7.2-31 4.4 14.8-7.2 27.1z" color="#2f6c8e"/><path d="M172.2 447.9l3.7-1.5 3.4-.7 4.5-4.6-3.4 .1-3.7 1.1z" color="#38598c"/><path d="M487.7 484.3l7.7-8.8 4.2-11.1-7.7 7.4z" color="#424186"/><path d="M198.4 449.8l7.4 10.1 4.6-.2-7.5-11.4z" color="#3b518b"/><path d="M273.5 516l7.2-15.9 4.2-15.9-7.1 20z" color="#472a7a"/><path d="M191 443.5l3.5 2.5 3.9 3.8 4.5-1.5-3.8-4.5-3.5-3.2z" color="#38588c"/><path d="M216.2 485.5l7.5 14.8 4.5 2.7-7.4-15.2z" color="#46307e"/><path d="M586.1 506.9l5.4 2.8 3.9-3.8-5.4-1.8z" color="#482576"/><path d="M360.2 394.1l3.9-5.8 3.6-4 4.1 32.2-3.5 2.9-3.9 4.3z" color="#2b748e"/><path d="M447.6 545.3l3.5 1.7 4 .2 4.1-5.6-3.9 .9-3.6-.5z" color="#440154"/><path d="M269.3 527.5l3.4-4.8 3.7-6.6 4.3-16-7.2 15.9z" color="#481d6f"/><path d="M264.9 537.6l3.5-2.6 3.7-4.1 4.3-14.8-3.7 6.6-3.4 4.8z" color="#471365"/><path d="M483.5 496.5l7.7-9.7 4.2-11.3-7.7 8.8z" color="#453882"/><path d="M241.5 536.1l7.4 8.5 2.1-.2 2.3-1-3.5-2.3-3.8-3.7z" color="#450559"/><path d="M234 524.7l7.5 11.4 4.5 1.3-7.4-9.8z" color="#470e61"/><path d="M459.2 541.6l3.6-2 4-3.4 4.1-8.1-4 4-3.6 2.8z" color="#460b5e"/><path d="M302.1 447.7l7.1-32.2 2.1 .6 2.3 1.9-7.1 30.6-2.3-1z" color="#33628d"/><path d="M515.5 444.1l4 .3 3.5 .9 4-2.7-7.5-3.3z" color="#375b8d"/><path d="M140.4 488.3l6.9-5.7 4.5-8.1-6.9 6.2z" color="#433d84"/><path d="M329.6 409.2l7.3-27.9 4.3 22-7.3 23.4z" color="#2b748e"/><path d="M156.3 466.8l6.9-5.8 4.5-6.8-7 5.3z" color="#3d4e8a"/><path d="M503.8 454.2l7.6-3.5 4.1-6.6-7.6 1.2z" color="#39568c"/><path d="M112.7 509.3l7.1 1.4 4.6-5.4-7.1-.1z" color="#482576"/><path d="M404.7 428.3l7.3 22.4 3.9 20.4-7.3-17.8z" color="#3a548c"/><path d="M124.4 505.3l7-2.2 4.5-7.3-7 3.4z" color="#472c7a"/><path d="M248.9 544.6l3.8 3.2 3.5 2 4.4-4.5-3.8-.5-3.5-1.4-2.3 1z" color="#440154"/><path d="M479.3 508.1l7.7-10.2 4.2-11.1-7.7 9.7z" color="#472f7d"/><path d="M260.6 545.3l3.5-.6 3.7-1.7 4.3-12.1-3.7 4.1-3.5 2.6z" color="#46085c"/><path d="M208.7 471.6l7.5 13.9 4.6 2.3-7.5-14.9z" color="#423f85"/><path d="M226.6 511.2l7.4 13.5 4.6 2.9-7.4-12.8z" color="#481c6e"/><path d="M425.7 499l7.2 22.1 4.1 3.2-7.3-18z" color="#482173"/><path d="M179.3 445.7l3.8 .1 3.4 .9 4.5-3.2-3.4-1.6-3.8-.8z" color="#375b8d"/><path d="M167.7 454.2l7.1-3.3 4.5-5.2-3.4 .7-3.7 1.5z" color="#39568c"/><path d="M567.5 493l7.3 8.9 3.9-.9-7.4-7.7z" color="#46307e"/><path d="M523 445.3l7.6 3.8 3.9-.9-7.5-5.6z" color="#375a8c"/><path d="M560.1 483.1l7.4 9.9 3.8 .3-7.4-9.1z" color="#453882"/><path d="M436.1 537l3.5 6.2 3.9 4.9 4.1-2.8-3.9-3.6-3.5-5z" color="#46075a"/><path d="M475.1 518.7l7.7-10.2 4.2-10.6-7.7 10.2z" color="#482677"/><path d="M574.8 501.9l7.5 7.1 3.8-2.1-7.4-5.9z" color="#472a7a"/><path d="M552.8 473l7.3 10.1 3.8 1.1-7.3-9.8z" color="#424086"/><path d="M415.3 456.7l7.2 26.5 4 11.8-7.3-21.4z" color="#424186"/><path d="M499.6 464.4l7.7-5.7 4.1-8-7.6 3.5z" color="#3b528b"/><path d="M135.9 495.8l7-4.9 4.4-8.3-6.9 5.7z" color="#453882"/><path d="M151.8 474.5l7-6 4.4-7.5-6.9 5.8z" color="#3e4989"/><path d="M201.2 460l7.5 11.6 4.6 1.3-7.5-13z" color="#3e4a89"/><path d="M455.1 547.2l3.6-1.3 4-2.7 4.1-7-4 3.4-3.6 2z" color="#46075a"/><path d="M530.6 449.1l7.4 6.2 3.9 .4-7.4-7.5z" color="#39558c"/><path d="M443.5 548.1l3.5 2.7 4 1.1 4.1-4.7-4-.2-3.5-1.7z" color="#440154"/><path d="M545.4 463.4l7.4 9.6 3.8 1.4-7.4-9.8z" color="#3f4889"/><path d="M219.1 496.9l7.5 14.3 4.6 3.6-7.5-14.5z" color="#472a7a"/><path d="M582.3 509l5.3 3.8 3.9-3.1-5.4-2.8z" color="#482677"/><path d="M538 455.3l7.4 8.1 3.8 1.2-7.3-8.9z" color="#3c508b"/><path d="M186.5 446.7l3.5 1.8 3.8 3 4.6-1.7-3.9-3.8-3.5-2.5z" color="#38598c"/><path d="M256.2 549.8l3.5 1.2 3.8 .5 4.3-8.5-3.7 1.7-3.5 .6z" color="#440256"/><path d="M193.8 451.5l7.4 8.5 4.6-.1-7.4-10.1z" color="#3a548c"/><path d="M119.8 510.7l7.1-.8 4.5-6.8-7 2.2z" color="#482979"/><path d="M511.4 450.7l4-.9 3.6-.2 4-4.3-3.5-.9-4-.3z" color="#375a8c"/><path d="M470.9 528.1l7.8-9.8 4.1-9.8-7.7 10.2z" color="#481f70"/><path d="M428.9 518.4l3.8 10.7 3.4 7.9 4.1-.3-3.5-6.5-3.8-9.1z" color="#481668"/><path d="M367.7 384.3l3.9-2.8 3.5-1 4.1 33.5-3.5 .5-3.9 2z" color="#297b8e"/><path d="M108 512.7l7.2 2.7 4.6-4.7-7.1-1.4z" color="#482576"/><path d="M397.3 408.5l7.4 19.8 3.9 25-7.3-15.9z" color="#32658e"/><path d="M495.4 475.5l7.7-7.6 4.2-9.2-7.7 5.7z" color="#3e4c8a"/><path d="M163.2 461l7.1-4.2 4.5-5.9-7.1 3.3z" color="#3a548c"/><path d="M297.8 451l7.1-32.4 2.1-2.2 2.2-.9-7.1 32.2-2.2 1.2z" color="#32658e"/><path d="M131.4 503.1l7-4 4.5-8.2-7 4.9z" color="#46337f"/><path d="M211.5 482.9l7.6 14 4.6 3.4-7.5-14.8z" color="#453882"/><path d="M174.8 450.9l3.7-.6 3.5 .3 4.5-3.9-3.4-.9-3.8-.1z" color="#375a8c"/><path d="M147.3 482.6l7-6 4.5-8.1-7 6z" color="#404588"/><path d="M236.9 532.6l7.4 10.4 2.4 1.2 2.2 .4-7.4-8.5z" color="#470d60"/><path d="M244.3 543l7.4 7.9 2.4-.2 2.1-.9-3.5-2-3.8-3.2-2.2-.4z" color="#450457"/><path d="M466.8 536.2l7.7-9.2 4.2-8.7-7.8 9.8z" color="#48186a"/><path d="M491.2 486.8l7.8-9 4.1-9.9-7.7 7.6z" color="#404588"/><path d="M451 551.9l3.5-.6 4-2.1 4.2-6-4 2.7-3.6 1.3z" color="#450457"/><path d="M519 449.6l3.6 .5 4 1.3 4-2.3-7.6-3.8z" color="#375b8d"/><path d="M418.5 471.4l7.2 27.6 4 7.3-7.2-23.1z" color="#443a83"/><path d="M229.4 520.3l7.5 12.3 4.6 3.5-7.5-11.4z" color="#48186a"/><path d="M267.8 543l3.5-2.4 3.8-3.5 4.2-17.1-7.2 10.9z" color="#481467"/><path d="M272.1 530.9l7.2-10.9 4.2-19.7-7.1 15.8z" color="#482374"/><path d="M507.3 458.7l4-2 3.7-1.2 4-5.9-3.6 .2-4 .9z" color="#38588c"/><path d="M432 538l3.5 7.1 3.9 5.8 4.1-2.8-3.9-4.9-3.5-6.2z" color="#460a5d"/><path d="M115.2 515.4l7.1 .7 4.6-6.2-7.1 .8z" color="#482677"/><path d="M439.4 550.9l3.5 3.4 3.9 1.8 4.2-4.2-4-1.1-3.5-2.7z" color="#440154"/><path d="M390 393l7.3 15.5 4 28.9-7.3-12.6z" color="#2c718e"/><path d="M251.7 550.9l7.4 5 2.1-1.6 2.3-2.8-3.8-.5-3.5-1.2-2.1 .9z" color="#440154"/><path d="M375.1 380.5l3.5 .6 3.9 2.4 4.1 33.3-3.9-2.2-3.5-.6z" color="#287d8e"/><path d="M204.1 470.4l7.4 12.5 4.7 2.6-7.5-13.9z" color="#404588"/><path d="M563.7 492.6l7.3 9.7 3.8-.4-7.3-8.9z" color="#463480"/><path d="M571 502.3l7.4 8.3 3.9-1.6-7.5-7.1z" color="#472d7b"/><path d="M263.5 551.5l3.5-.3 3.8-1.2 4.3-12.9-3.8 3.5-3.5 2.4z" color="#46085c"/><path d="M487 497.9l7.8-10.1 4.2-10-7.8 9z" color="#433d84"/><path d="M348.6 381.3l7.4-18.1 4.2 30.9-7.3 14.6z" color="#25858e"/><path d="M313.6 418l7.2-33.8 4.4 10.2-7.2 31z" color="#29798e"/><path d="M556.3 482.2l7.4 10.4 3.8 .4-7.4-9.9z" color="#433d84"/><path d="M182 450.6l3.8 1.2 3.5 1.9 4.5-2.2-3.8-3-3.5-1.8z" color="#375a8c"/><path d="M578.4 510.6l5.4 4.7 3.8-2.5-5.3-3.8z" color="#482979"/><path d="M126.9 509.9l7-2.7 4.5-8.1-7 4z" color="#472e7c"/><path d="M142.9 490.9l7-5.7 4.4-8.6-7 6z" color="#424086"/><path d="M158.8 468.5l7-4.9 4.5-6.8-7.1 4.2z" color="#3b518b"/><path d="M221.9 506.7l7.5 13.6 4.6 4.4-7.4-13.5z" color="#482576"/><path d="M526.6 451.4l7.5 4.6 3.9-.7-7.4-6.2z" color="#38598c"/><path d="M276.4 516.1l7.1-15.8 4.3-21-7.1 20.8z" color="#463480"/><path d="M382.5 383.5l3.6 3.7 3.9 5.8 4 31.8-3.9-4.8-3.5-3.2z" color="#297a8e"/><path d="M548.9 472.1l7.4 10.1 3.8 .9-7.3-10.1z" color="#404688"/><path d="M421.6 492.7l7.3 25.7 4 2.7-7.2-22.1z" color="#472d7b"/><path d="M103.3 515.2l7.2 4 4.7-3.8-7.2-2.7z" color="#482576"/><path d="M293.5 458.5l7.1-31.2 2.2-5.2 2.1-3.5-7.1 32.4z" color="#33638d"/><path d="M196.6 460.4l7.5 10 4.6 1.2-7.5-11.6z" color="#3c4f8a"/><path d="M408 428.8l7.3 27.9 3.9 16.9-7.2-22.9z" color="#375a8c"/><path d="M462.7 543.2l7.6-8.4 4.2-7.8-7.7 9.2z" color="#481467"/><path d="M534.1 456l7.4 7.1 3.9 .3-7.4-8.1z" color="#3a548c"/><path d="M189.3 453.7l3.4 2.8 3.9 3.9 4.6-.4-7.4-8.5z" color="#39568c"/><path d="M541.5 463.1l7.4 9 3.9 .9-7.4-9.6z" color="#3d4e8a"/><path d="M170.3 456.8l3.7-1.2 3.4-.4 4.6-4.6-3.5-.3-3.7 .6z" color="#38598c"/><path d="M482.8 508.5l7.8-10.8 4.2-9.9-7.8 10.1z" color="#453581"/><path d="M280.7 500.1l7.1-20.8 4.2-20.3-7.1 25.2z" color="#414487"/><path d="M503.1 467.9l7.8-5.3 4.1-7.1-3.7 1.2-4 2z" color="#3a538b"/><path d="M259.1 555.9l7.3 2.3 2.1-3.2 2.3-5-3.8 1.2-3.5 .3-2.3 2.8z" color="#440154"/><path d="M424.7 517.1l3.9 11.9 3.4 9 4.1-1-3.4-7.9-3.8-10.7z" color="#481c6e"/><path d="M446.8 556.1l3.6-.1 4-1.6 4.1-5.2-4 2.1-3.5 .6z" color="#440256"/><path d="M214.4 493l7.5 13.7 4.7 4.5-7.5-14.3z" color="#46337f"/><path d="M289.2 469.9l7.1-28.7 4.3-13.9-7.1 31.2z" color="#365d8d"/><path d="M138.4 499.1l7-5.1 4.5-8.8-7 5.7z" color="#443b84"/><path d="M284.9 484.2l7.1-25.2 4.3-17.8-7.1 28.7z" color="#3b528b"/><path d="M515 455.5l4-.5 3.6 .2 4-3.8-4-1.3-3.6-.5z" color="#375b8d"/><path d="M154.3 476.6l7-5.4 4.5-7.6-7 4.9z" color="#3d4e8a"/><path d="M122.3 516.1l7.1-1.4 4.5-7.5-7 2.7z" color="#472a7a"/><path d="M110.5 519.2l7.2 2.1 4.6-5.2-7.1-.7z" color="#482576"/><path d="M478.7 518.3l7.7-11.2 4.2-9.4-7.8 10.8z" color="#472e7c"/><path d="M435.2 554.1l3.6 3.8 3.9 2.2 4.1-4-3.9-1.8-3.5-3.4z" color="#440154"/><path d="M458.5 549.2l3.7-3.2 4-4.5 4.1-6.7-7.6 8.4z" color="#471063"/><path d="M427.9 540.1l3.5 7.7 3.8 6.3 4.2-3.2-3.9-5.8-3.5-7.1z" color="#460b5e"/><path d="M499 477.8l7.7-7.2 4.2-8-7.8 5.3z" color="#3c4f8a"/><path d="M206.9 480.3l7.5 12.7 4.7 3.9-7.6-14z" color="#424086"/><path d="M177.4 455.2l3.8 .3 3.5 1.1 4.6-2.9-3.5-1.9-3.8-1.2z" color="#375b8d"/><path d="M239.7 538.9l7.5 9.6 2.4 1.6 2.1 .8-7.4-7.9z" color="#470d60"/><path d="M325.2 394.4l7.3-31.7 4.4 18.6-7.3 27.9z" color="#23888e"/><path d="M336.9 381.3l7.3-25.9 4.4 25.9-7.4 22z" color="#228c8d"/><path d="M270.8 550l7.2-3.9 4.3-17.6-7.2 8.6z" color="#471365"/><path d="M247.2 548.5l7.4 7.6 2.4 .4 2.1-.6-7.4-5-2.1-.8z" color="#450559"/><path d="M165.8 463.6l7.1-2.9 4.5-5.5-3.4 .4-3.7 1.2z" color="#38588c"/><path d="M567.2 502.6l7.4 9.3 3.8-1.3-7.4-8.3z" color="#46307e"/><path d="M133.9 507.2l7-4.3 4.5-8.9-7 5.1z" color="#453581"/><path d="M232.3 527.4l7.4 11.5 4.6 4.1-7.4-10.4z" color="#481769"/><path d="M574.6 511.9l5.3 5.4 3.9-2-5.4-4.7z" color="#472a7a"/><path d="M522.6 455.2l3.6 .9 3.9 1.9 4-2-7.5-4.6z" color="#375b8d"/><path d="M559.8 492.3l7.4 10.3 3.8-.3-7.3-9.7z" color="#443983"/><path d="M98.5 516.8l7.3 5.3 4.7-2.9-7.2-4z" color="#482677"/><path d="M474.5 527l7.8-11.2 4.1-8.7-7.7 11.2z" color="#482878"/><path d="M266.4 558.2l7.3 .2 4.3-12.3-7.2 3.9-2.3 5z" color="#450559"/><path d="M149.9 485.2l7-5.6 4.4-8.4-7 5.4z" color="#3e4989"/><path d="M411.2 440.2l7.3 31.2 4 11.8-7.2-26.5z" color="#3a548c"/><path d="M275.1 537.1l7.2-8.6 4.2-22.1-7.2 13.6z" color="#482374"/><path d="M199.4 469.4l7.5 10.9 4.6 2.6-7.4-12.5z" color="#3e4c8a"/><path d="M552.5 481.7l7.3 10.6 3.9 .3-7.4-10.4z" color="#414287"/><path d="M184.7 456.6l3.5 1.9 3.8 2.9 4.6-1-3.9-3.9-3.4-2.8z" color="#38598c"/><path d="M254.6 556.1l7.4 5.3 2.3-1 2.1-2.2-7.3-2.3-2.1 .6z" color="#440154"/><path d="M224.8 514.7l7.5 12.7 4.6 5.2-7.5-12.3z" color="#482374"/><path d="M442.7 560.1l3.6 .2 3.9-1.4 4.2-4.5-4 1.6-3.6 .1z" color="#440256"/><path d="M117.7 521.3l7.2 .1 4.5-6.7-7.1 1.4z" color="#482878"/><path d="M510.9 462.6l4-1.6 3.6-.8 4.1-5-3.6-.2-4 .5z" color="#38598c"/><path d="M530.1 458l7.5 5.7 3.9-.6-7.4-7.1z" color="#38588c"/><path d="M494.8 487.8l7.8-8.7 4.1-8.5-7.7 7.2z" color="#3e4989"/><path d="M545.1 471.8l7.4 9.9 3.8 .5-7.4-10.1z" color="#3e4a89"/><path d="M192 461.4l7.4 8 4.7 1-7.5-10z" color="#3a538b"/><path d="M537.6 463.7l7.5 8.1 3.8 .3-7.4-9z" color="#3b528b"/><path d="M400.7 401.9l7.3 26.9 4 21.9-7.3-22.4z" color="#2e6f8e"/><path d="M105.8 522.1l7.3 3.5 4.6-4.3-7.2-2.1z" color="#482576"/><path d="M454.4 554.4l3.6-2.9 4-4.2 4.2-5.8-4 4.5-3.7 3.2z" color="#470d60"/><path d="M129.4 514.7l7.1-3.1 4.4-8.7-7 4.3z" color="#46307e"/><path d="M420.6 518l3.8 12.6 3.5 9.5 4.1-2.1-3.4-9-3.9-11.9-2.1 .1z" color="#482071"/><path d="M414.4 461.4l7.2 31.3 4.1 6.3-7.2-27.6z" color="#3f4889"/><path d="M417.5 488.9l7.2 28.2 4.2 1.3-7.3-25.7z" color="#453581"/><path d="M309.2 415.5l7.2-35.4 2.1 1.1 2.3 3-7.2 33.8-2.3-1.9z" color="#26828e"/><path d="M217.3 501.7l7.5 13 4.6 5.6-7.5-13.6z" color="#472f7d"/><path d="M145.4 494l7-5.5 4.5-8.9-7 5.6z" color="#414487"/><path d="M431.1 558l3.5 3.9 3.9 2.2 4.2-4-3.9-2.2-3.6-3.8z" color="#440256"/><path d="M161.3 471.2l7.1-4 4.5-6.5-7.1 2.9z" color="#3a548c"/><path d="M470.3 534.8l7.8-11.1 4.2-7.9-7.8 11.2z" color="#482374"/><path d="M279.3 520l7.2-13.6 4.2-25-7.2 18.9z" color="#453882"/><path d="M356 363.2l3.9-7.3 3.5-5 4.3 33.4-3.6 4-3.9 5.8z" color="#20938c"/><path d="M262 561.4l7.3 3.4 2.3-2.7 2.1-3.7-7.3-.2-2.1 2.2z" color="#440154"/><path d="M172.9 460.7l3.8-.5 3.4 .2 4.6-3.8-3.5-1.1-3.8-.3z" color="#375b8d"/><path d="M423.7 543.9l3.5 7.7 3.9 6.4 4.1-3.9-3.8-6.3-3.5-7.7z" color="#470d60"/><path d="M490.6 497.7l7.8-9.9 4.2-8.7-7.8 8.7z" color="#414487"/><path d="M506.7 470.6l4.1-2.7 3.6-1.7 4.1-6-3.6 .8-4 1.6z" color="#39558c"/><path d="M518.5 460.2l4 .1 3.6 .8 4-3.1-3.9-1.9-3.6-.9z" color="#375b8d"/><path d="M209.7 489.2l7.6 12.5 4.6 5-7.5-13.7z" color="#433d84"/><path d="M113.1 525.6l7.2 1.6 4.6-5.8-7.2-.1z" color="#482576"/><path d="M273.7 558.4l7.3-1.5 4.3-16.2-7.3 5.4z" color="#470d60"/><path d="M140.9 502.9l7.1-5 4.4-9.4-7 5.5z" color="#433e85"/><path d="M124.9 521.4l7-1.7 4.6-8.1-7.1 3.1z" color="#472d7b"/><path d="M570.7 513l5.4 6.1 3.8-1.8-5.3-5.4z" color="#472e7c"/><path d="M563.4 503l7.3 10 3.9-1.1-7.4-9.3z" color="#463480"/><path d="M438.5 564.1l3.6 .3 4-1.4 4.1-4.1-3.9 1.4-3.6-.2z" color="#440154"/><path d="M93.7 517.7l7.4 6.2 4.7-1.8-7.3-5.3z" color="#482979"/><path d="M156.9 479.6l7-4.8 4.5-7.6-7.1 4z" color="#3b518b"/><path d="M278 546.1l7.3-5.4 4.2-22.2-7.2 10z" color="#481d6f"/><path d="M486.4 507.1l7.9-10.8 4.1-8.5-7.8 9.9z" color="#433e85"/><path d="M180.1 460.4l3.8 1.1 3.5 1.8 4.6-1.9-3.8-2.9-3.5-1.9z" color="#375b8d"/><path d="M556 492.2l7.4 10.8 3.8-.4-7.4-10.3z" color="#433e85"/><path d="M466.2 541.5l7.7-10.9 4.2-6.9-7.8 11.1z" color="#481f70"/><path d="M450.2 558.9l3.7-2.6 4-4.1 4.1-4.9-4 4.2-3.6 2.9z" color="#460b5e"/><path d="M202.2 478.1l7.5 11.1 4.7 3.8-7.5-12.7z" color="#3f4788"/><path d="M283.5 500.3l7.2-18.9 4.2-25.9-7.1 23.8z" color="#3d4d8a"/><path d="M269.3 564.8l7.4 1.8 2.3-4.2 2-5.5-7.3 1.5-2.1 3.7z" color="#440256"/><path d="M526.1 461.1l3.7 1.6 3.9 2.6 3.9-1.6-7.5-5.7z" color="#375a8c"/><path d="M242.6 543.3l7.4 9.1 2.4 2.4 2.2 1.3-7.4-7.6z" color="#470e61"/><path d="M548.6 481.6l7.4 10.6 3.8 .1-7.3-10.6z" color="#404688"/><path d="M101.1 523.9l7.3 4.8 4.7-3.1-7.3-3.5z" color="#482677"/><path d="M235.1 532.7l7.5 10.6 4.6 5.2-7.5-9.6z" color="#48186a"/><path d="M187.4 463.3l7.4 6 4.6 .1-7.4-8z" color="#38588c"/><path d="M168.4 467.2l3.8-1.2 3.4-.6 4.5-5-3.4-.2-3.8 .5z" color="#38598c"/><path d="M250 552.4l7.5 7.5 2.3 1.3 2.2 .2-7.4-5.3-2.2-1.3z" color="#46075a"/><path d="M426.9 562.6l3.6 3.5 3.9 1.9 4.1-3.9-3.9-2.2-3.5-3.9z" color="#440154"/><path d="M194.8 469.3l7.4 8.8 4.7 2.2-7.5-10.9z" color="#3b518b"/><path d="M416.4 521.6l3.8 12.7 3.5 9.6 4.2-3.8-3.5-9.5-3.8-12.6z" color="#482173"/><path d="M541.2 472.3l7.4 9.3 3.9 .1-7.4-9.9z" color="#3c4f8a"/><path d="M533.7 465.3l7.5 7 3.9-.5-7.5-8.1z" color="#39558c"/><path d="M502.6 479.1l7.7-6.1 4.1-6.8-3.6 1.7-4.1 2.7z" color="#3b528b"/><path d="M136.5 511.6l7-4.2 4.5-9.5-7.1 5z" color="#453882"/><path d="M419.5 549.3l3.5 7.3 3.9 6 4.2-4.6-3.9-6.4-3.5-7.7z" color="#470d60"/><path d="M393.3 378.3l7.4 23.6 4 26.4-7.4-19.8z" color="#26828e"/><path d="M227.6 520.9l7.5 11.8 4.6 6.2-7.4-11.5z" color="#482374"/><path d="M482.3 515.8l7.8-11.4 4.2-8.1-7.9 10.8z" color="#453882"/><path d="M120.3 527.2l7.1-.2 4.5-7.3-7 1.7z" color="#482979"/><path d="M152.4 488.5l7.1-5.2 4.4-8.5-7 4.8z" color="#3e4c8a"/><path d="M257.5 559.9l7.4 5.8 2.3 .2 2.1-1.1-7.3-3.4-2.2-.2z" color="#440256"/><path d="M514.4 466.2l4.1-.9 3.6-.1 4-4.1-3.6-.8-4-.1z" color="#375a8c"/><path d="M304.9 418.6l7.1-35.7 2.1-2.2 2.3-.6-7.2 35.4-2.2 .9z" color="#25858e"/><path d="M282.3 528.5l7.2-10 4.2-26.9-7.2 14.8z" color="#463480"/><path d="M404 407.8l7.2 32.4 4.1 16.5-7.3-27.9z" color="#2e6f8e"/><path d="M108.4 528.7l7.2 3.1 4.7-4.6-7.2-1.6z" color="#482576"/><path d="M413.3 488.3l7.3 29.7 2-.8 2.1-.1-7.2-28.2-2.2-.8z" color="#443b84"/><path d="M220.1 508.7l7.5 12.2 4.7 6.5-7.5-12.7z" color="#472e7c"/><path d="M462 547.3l7.8-10.7 4.1-6-7.7 10.9z" color="#481c6e"/><path d="M287.8 479.3l7.1-23.8 4.2-24.8-7.1 28.3z" color="#34608d"/><path d="M363.4 350.9l4-3.6 3.5-1.4 4.2 34.6-3.5 1-3.9 2.8z" color="#1e9c89"/><path d="M434.4 568l3.6 .1 3.9-1.6 4.2-3.5-4 1.4-3.6-.3z" color="#440256"/><path d="M131.9 519.7l7.1-3.1 4.5-9.2-7 4.2z" color="#46337f"/><path d="M281 556.9l7.4-2.1 4.2-19.8-7.3 5.7z" color="#481467"/><path d="M276.7 566.6l7.3 1 4.4-12.8-7.4 2.1-2 5.5z" color="#450559"/><path d="M498.4 487.8l7.8-7.7 4.1-7.1-7.7 6.1z" color="#3d4e8a"/><path d="M264.9 565.7l7.4 4.3 2.3-1 2.1-2.4-7.4-1.8-2.1 1.1z" color="#440154"/><path d="M446.1 563l3.6-2.6 4.1-4.1 4.1-4.1-4 4.1-3.7 2.6z" color="#460a5d"/><path d="M175.6 465.4l3.8 .2 3.4 .8 4.6-3.1-3.5-1.8-3.8-1.1z" color="#375b8d"/><path d="M163.9 474.8l7.2-3.1 4.5-6.3-3.4 .6-3.8 1.2z" color="#39568c"/><path d="M566.9 514l5.3 6.8 3.9-1.7-5.4-6.1z" color="#46307e"/><path d="M148 497.9l7-5.2 4.5-9.4-7.1 5.2z" color="#404688"/><path d="M320.8 384.2l7.3-34.4 4.4 12.9-7.3 31.7z" color="#1f978b"/><path d="M212.6 496.8l7.5 11.9 4.7 6-7.5-13z" color="#443a83"/><path d="M559.5 503.4l7.4 10.6 3.8-1-7.3-10z" color="#453882"/><path d="M478.1 523.7l7.8-11.8 4.2-7.5-7.8 11.4z" color="#46337f"/><path d="M88.9 517.8l7.3 7 4.9-.9-7.4-6.2z" color="#472d7b"/><path d="M410.3 454.7l7.2 34.2 4.1 3.8-7.2-31.3z" color="#3a538b"/><path d="M522.1 465.2l3.6 .8 4 1.8 4-2.5-3.9-2.6-3.7-1.6z" color="#375b8d"/><path d="M412.2 527.9l3.8 12.2 3.5 9.2 4.2-5.4-3.5-9.6-3.8-12.7z" color="#482071"/><path d="M422.7 567.7l3.6 2.9 3.9 1.3 4.2-3.9-3.9-1.9-3.6-3.5z" color="#440154"/><path d="M415.3 556l3.5 6.6 3.9 5.1 4.2-5.1-3.9-6-3.5-7.3z" color="#460a5d"/><path d="M344.2 355.4l7.5-21.5 4.3 29.3-7.4 18.1z" color="#1fa187"/><path d="M407.2 426.3l7.2 35.1 4.1 10-7.3-31.2z" color="#32658e"/><path d="M552.1 492.4l7.4 11 3.9-.4-7.4-10.8z" color="#424186"/><path d="M115.6 531.8l7.2 1.4 4.6-6.2-7.1 .2z" color="#482677"/><path d="M385.9 360.1l3.5 7.8 3.9 10.4 4 30.2-7.3-15.5z" color="#21918c"/><path d="M300.6 427.3l7.1-34.4 2.3-6.1 2-3.9-7.1 35.7-2.1 3.5z" color="#26828e"/><path d="M96.2 524.8l7.4 5.9 4.8-2-7.3-4.8z" color="#482979"/><path d="M292 459l7.1-28.3 4.3-21.4-7.1 31.9z" color="#2d708e"/><path d="M510.3 473l4.1-2 3.7-.8 4-5-3.6 .1-4.1 .9z" color="#38598c"/><path d="M205.1 485.9l7.5 10.9 4.7 4.9-7.6-12.5z" color="#404588"/><path d="M285.3 540.7l7.3-5.7 4.2-26.3-7.3 9.8z" color="#472a7a"/><path d="M127.4 527l7.1-1.8 4.5-8.6-7.1 3.1z" color="#472d7b"/><path d="M182.8 466.4l3.5 1.4 3.9 2.4 4.6-.9-7.4-6z" color="#375a8c"/><path d="M544.7 482.1l7.4 10.3 3.9-.2-7.4-10.6z" color="#3e4a89"/><path d="M529.7 467.8l3.6 2.3 3.9 3.5 4-1.3-7.5-7z" color="#38588c"/><path d="M272.3 570l7.3 3.2 2.4-2.1 2-3.5-7.3-1-2.1 2.4z" color="#440154"/><path d="M143.5 507.4l7-4.9 4.5-9.8-7 5.2z" color="#424086"/><path d="M494.3 496.3l7.8-8.9 4.1-7.3-7.8 7.7z" color="#3e4a89"/><path d="M537.2 473.6l7.5 8.5 3.9-.5-7.4-9.3z" color="#3b528b"/><path d="M296.3 441.2l7.1-31.9 4.3-16.4-7.1 34.4z" color="#287c8e"/><path d="M457.9 552.2l7.8-10.5 4.1-5.1-7.8 10.7z" color="#481a6c"/><path d="M286.5 506.4l7.2-14.8 4.2-30-7.2 19.8z" color="#3d4d8a"/><path d="M197.6 476.8l7.5 9.1 4.6 3.3-7.5-11.1z" color="#3c4f8a"/><path d="M370.9 345.9l3.6 .4 3.9 2.7 4.1 34.5-3.9-2.4-3.5-.6z" color="#1f9f88"/><path d="M190.2 470.2l7.4 6.6 4.6 1.3-7.4-8.8z" color="#39558c"/><path d="M159.5 483.3l7.1-4.1 4.5-7.5-7.2 3.1z" color="#3b528b"/><path d="M284 567.6l7.4 .6 4.3-15.3-7.3 1.9z" color="#460a5d"/><path d="M103.6 530.7l7.3 4.4 4.7-3.3-7.2-3.1z" color="#482677"/><path d="M378.4 349l3.6 4.3 3.9 6.8 4.1 32.9-3.9-5.8-3.6-3.7z" color="#1f9a8a"/><path d="M332.5 362.7l7.4-29.3 4.3 22-7.3 25.9z" color="#1fa287"/><path d="M473.9 530.6l7.9-12 4.1-6.7-7.8 11.8z" color="#472f7d"/><path d="M409.1 491.8l7.3 29.8 4.2-3.6-7.3-29.7-2.2 1.3z" color="#433e85"/><path d="M430.2 571.9l3.6-.4 4-2 4.1-3-3.9 1.6-3.6-.1z" color="#440256"/><path d="M171.1 471.7l3.7-.7 3.5-.2 4.5-4.4-3.4-.8-3.8-.2z" color="#375a8c"/><path d="M407.9 536.7l3.9 11.1 3.5 8.2 4.2-6.7-3.5-9.2-3.8-12.2z" color="#481d6f"/><path d="M288.4 554.8l7.3-1.9 4.3-22.8-7.4 4.9z" color="#481c6e"/><path d="M139 516.6l7.1-4.1 4.4-10-7 4.9z" color="#443a83"/><path d="M441.9 566.5l3.7-2.7 4-4.3 4.2-3.2-4.1 4.1-3.6 2.6z" color="#460b5e"/><path d="M245.4 545.9l7.5 8.6 4.6 5.4-7.5-7.5z" color="#471365"/><path d="M411 563.6l3.6 5.3 3.9 4 4.2-5.2-3.9-5.1-3.5-6.6z" color="#46075a"/><path d="M237.9 536l7.5 9.9 4.6 6.5-7.4-9.1z" color="#481c6e"/><path d="M122.8 533.2l7.2-.3 4.5-7.7-7.1 1.8z" color="#482979"/><path d="M252.9 554.5l7.4 7.3 2.4 2.5 2.2 1.4-7.4-5.8z" color="#470d60"/><path d="M279.6 573.2l7.4 2.6 2.3-3.1 2.1-4.5-7.4-.6-2 3.5z" color="#440154"/><path d="M230.4 525.3l7.5 10.7 4.7 7.3-7.5-10.6z" color="#482576"/><path d="M418.5 572.9l3.6 2 3.9 .4 4.2-3.4-3.9-1.3-3.6-2.9z" color="#440154"/><path d="M518.1 470.2l3.6-.1 4 .9 4-3.2-4-1.8-3.6-.8z" color="#375b8d"/><path d="M506.2 480.1l4.1-2.8 3.7-1.6 4.1-5.5-3.7 .8-4.1 2z" color="#39568c"/><path d="M490.1 504.4l7.8-9.9 4.2-7.1-7.8 8.9z" color="#404688"/><path d="M110.9 535.1l7.3 3 4.6-4.9-7.2-1.4z" color="#482576"/><path d="M563 515.2l5.3 7.2 3.9-1.6-5.3-6.8z" color="#463480"/><path d="M155 492.7l7.1-4.7 4.5-8.8-7.1 4.1z" color="#3d4e8a"/><path d="M260.3 561.8l7.4 5.9 2.4 1.8 2.2 .5-7.4-4.3-2.2-1.4z" color="#46075a"/><path d="M555.6 504.2l7.4 11 3.9-1.2-7.4-10.6z" color="#443b84"/><path d="M222.9 514l7.5 11.3 4.7 7.4-7.5-11.8z" color="#472f7d"/><path d="M84 517.5l7.4 7.4 4.8-.1-7.3-7z" color="#46327e"/><path d="M134.5 525.2l7.1-3 4.5-9.7-7.1 4.1z" color="#46337f"/><path d="M289.5 518.5l7.3-9.8 4.2-31.4-7.3 14.3z" color="#414487"/><path d="M291.4 568.2l7.4 .8 4.3-17-7.4 .9z" color="#470e61"/><path d="M403.6 547.1l3.9 9.5 3.5 7 4.3-7.6-3.5-8.2-3.9-11.1z" color="#481769"/><path d="M396.6 376.7l7.4 31.1 4 21-7.3-26.9z" color="#24878e"/><path d="M178.3 470.8l3.8 .6 3.5 1.2 4.6-2.4-3.9-2.4-3.5-1.4z" color="#375b8d"/><path d="M453.8 556.3l7.7-10.5 4.2-4.1-7.8 10.5z" color="#481a6c"/><path d="M469.8 536.6l7.8-12.1 4.2-5.9-7.9 12z" color="#472d7b"/><path d="M548.2 493.1l7.4 11.1 3.9-.8-7.4-11z" color="#404588"/><path d="M91.4 524.9l7.4 6.7 4.8-.9-7.4-5.9z" color="#472d7b"/><path d="M525.7 471l3.6 1.8 4 2.8 3.9-2-3.9-3.5-3.6-2.3z" color="#375a8c"/><path d="M215.4 502.9l7.5 11.1 4.7 6.9-7.5-12.2z" color="#443a83"/><path d="M166.6 479.2l7.1-2.3 4.6-6.1-3.5 .2-3.7 .7z" color="#38588c"/><path d="M267.7 567.7l7.5 4.9 2.3 1 2.1-.4-7.3-3.2-2.2-.5z" color="#450457"/><path d="M404.9 499.2l7.3 28.7 4.2-6.3-7.3-29.8z" color="#443b84"/><path d="M150.5 502.5l7.1-4.9 4.5-9.6-7.1 4.7z" color="#3f4889"/><path d="M287 575.8l7.5 2.2 2.2-3.7 2.1-5.3-7.4-.8-2.1 4.5z" color="#440256"/><path d="M540.8 483.2l7.4 9.9 3.9-.7-7.4-10.3z" color="#3d4e8a"/><path d="M406.8 571.3l3.6 3.9 3.9 2.5 4.2-4.8-3.9-4-3.6-5.3z" color="#450457"/><path d="M290.7 481.4l7.2-19.8 4.2-30.8-7.2 24.7z" color="#32648e"/><path d="M406.1 452.6l7.2 35.7 2-.2 2.2 .8-7.2-34.2-2.2-1.7z" color="#375b8d"/><path d="M533.3 475.6l7.5 7.6 3.9-1.1-7.5-8.5z" color="#39558c"/><path d="M292.6 535l7.4-4.9 4.2-29.7-7.4 8.3z" color="#453581"/><path d="M98.8 531.6l7.3 5.6 4.8-2.1-7.3-4.4z" color="#482878"/><path d="M485.9 511.9l7.9-10.7 4.1-6.7-7.8 9.9z" color="#414287"/><path d="M118.2 538.1l7.2 1.3 4.6-6.5-7.2 .3z" color="#482677"/><path d="M207.9 492.6l7.5 10.3 4.7 5.8-7.5-11.9z" color="#404588"/><path d="M426 575.3l3.6-1.1 4-2.5 4.2-2.2-4 2-3.6 .4z" color="#450457"/><path d="M185.6 472.6l7.3 4.3 4.7-.1-7.4-6.6z" color="#38598c"/><path d="M502.1 487.4l4.1-3.6 3.7-2.3 4.1-5.8-3.7 1.6-4.1 2.8z" color="#3a538b"/><path d="M295.7 552.9l7.4-.9 4.3-24.9-7.4 3z" color="#482374"/><path d="M130 532.9l7.1-1.7 4.5-9-7.1 3z" color="#472e7c"/><path d="M399.4 558.2l3.9 7.6 3.5 5.5 4.2-7.7-3.5-7-3.9-9.5z" color="#471063"/><path d="M437.8 569.5l3.6-3.1 4.1-4.5 4.1-2.4-4 4.3-3.7 2.7z" color="#470d60"/><path d="M200.4 483.8l7.5 8.8 4.7 4.2-7.5-10.9z" color="#3d4e8a"/><path d="M316.4 380.1l7.3-35.9 2.1 1.7 2.3 3.9-7.3 34.4-2.3-3z" color="#1fa187"/><path d="M192.9 476.9l7.5 6.9 4.7 2.1-7.5-9.1z" color="#3a548c"/><path d="M514 475.7l4-.9 3.7 .2 4-4-4-.9-3.6 .1z" color="#375a8c"/><path d="M414.3 577.7l3.6 .9 3.9-.6 4.2-2.7-3.9-.4-3.6-2z" color="#440154"/><path d="M275.2 572.6l7.4 3.9 2.3 .4 2.1-1.1-7.4-2.6-2.1 .4z" color="#440256"/><path d="M146.1 512.5l7.1-4.6 4.4-10.3-7.1 4.9z" color="#424186"/><path d="M298.8 569l7.4 1.5 4.3-17.8-7.4-.7z" color="#471063"/><path d="M106.1 537.2l7.4 4.3 4.7-3.4-7.3-3z" color="#482677"/><path d="M400.6 510.2l7.3 26.5 4.3-8.8-7.3-28.7z" color="#453781"/><path d="M162.1 488l7.1-3.6 4.5-7.5-7.1 2.3z" color="#3a548c"/><path d="M294.5 578l7.4 2.2 2.3-4.1 2-5.6-7.4-1.5-2.1 5.3z" color="#440256"/><path d="M465.7 541.7l7.8-12.2 4.1-5-7.8 12.1z" color="#472a7a"/><path d="M351.7 333.9l3.9-8.6 3.6-6 4.2 31.6-3.5 5-3.9 7.3z" color="#2cb17e"/><path d="M559.1 516.5l5.3 7.6 3.9-1.7-5.3-7.2z" color="#453781"/><path d="M173.7 476.9l7.3-.2 4.6-4.1-3.5-1.2-3.8-.6z" color="#375a8c"/><path d="M403 416.8l7.3 37.9 4.1 6.7-7.2-35.1z" color="#2c718e"/><path d="M399.9 390l7.3 36.3 4 13.9-7.2-32.4z" color="#26828e"/><path d="M395.1 568.9l3.9 5.6 3.5 3.7 4.3-6.9-3.5-5.5-3.9-7.6z" color="#460a5d"/><path d="M449.6 559.5l7.8-10.6 4.1-3.1-7.7 10.5z" color="#481a6c"/><path d="M481.8 518.6l7.8-11.2 4.2-6.2-7.9 10.7z" color="#423f85"/><path d="M402.5 578.2l3.6 2.3 4 1.1 4.2-3.9-3.9-2.5-3.6-3.9z" color="#440154"/><path d="M141.6 522.2l7.1-3.9 4.5-10.4-7.1 4.6z" color="#443a83"/><path d="M551.7 505.2l7.4 11.3 3.9-1.3-7.4-11z" color="#423f85"/><path d="M125.4 539.4l7.2-.2 4.5-8-7.1 1.7z" color="#482979"/><path d="M396.3 523.8l7.3 23.3 4.3-10.4-7.3-26.5z" color="#472f7d"/><path d="M282.6 576.5l7.4 3.3 2.4-.1 2.1-1.7-7.5-2.2-2.1 1.1z" color="#440154"/><path d="M497.9 494.5l4.1-4.2 3.7-2.9 4.2-5.9-3.7 2.3-4.1 3.6z" color="#3b518b"/><path d="M521.7 475l3.6 1.1 4 2.1 4-2.6-4-2.8-3.6-1.8z" color="#375b8d"/><path d="M113.5 541.5l7.2 2.8 4.7-4.9-7.2-1.3z" color="#482576"/><path d="M79 516.9l7.5 7.5 4.9 .5-7.4-7.4z" color="#453781"/><path d="M303.1 552l7.4 .7 4.3-26-3.6-.2-3.8 .6z" color="#482677"/><path d="M544.3 494.3l7.4 10.9 3.9-1-7.4-11.1z" color="#3f4889"/><path d="M306.2 570.5l7.5 2.5 4.3-17.8-7.5-2.5z" color="#471164"/><path d="M391.9 538.9l7.5 19.3 4.2-11.1-7.3-23.3z" color="#482475"/><path d="M157.6 497.6l7.1-4.2 4.5-9-7.1 3.6z" color="#3c4f8a"/><path d="M293.7 491.6l7.3-14.3 4.2-34.5-7.3 18.8z" color="#34608d"/><path d="M294.9 455.5l7.2-24.7 4.2-29.1-7.2 29z" color="#29798e"/><path d="M86.5 524.4l7.4 7.1 4.9 .1-7.4-6.7z" color="#46307e"/><path d="M301.9 580.2l7.4 2.4 2.3-4.1 2.1-5.5-7.5-2.5-2 5.6z" color="#450457"/><path d="M529.3 478.2l7.5 6.7 4-1.7-7.5-7.6z" color="#39568c"/><path d="M240.7 537.5l7.5 8.9 4.7 8.1-7.5-8.6z" color="#482173"/><path d="M536.8 484.9l7.5 9.4 3.9-1.2-7.4-9.9z" color="#3b518b"/><path d="M509.9 481.5l4-1.6 3.7-.5 4.1-4.4-3.7-.2-4 .9z" color="#38598c"/><path d="M248.2 546.4l7.5 8 4.6 7.4-7.4-7.3z" color="#481a6c"/><path d="M401.8 455.8l7.3 36 2-2.2 2.2-1.3-7.2-35.7-2.2 1z" color="#365d8d"/><path d="M233.2 527.8l7.5 9.7 4.7 8.4-7.5-9.9z" color="#472a7a"/><path d="M387.6 554.1l7.5 14.8 4.3-10.7-7.5-19.3z" color="#481a6c"/><path d="M137.1 531.2l7.1-2.8 4.5-10.1-7.1 3.9z" color="#463480"/><path d="M421.8 578l3.7-1.9 4-3.2 4.1-1.2-4 2.5-3.6 1.1z" color="#450559"/><path d="M181 476.7l7.3 2.1 4.6-1.9-7.3-4.3z" color="#375b8d"/><path d="M300 530.1l7.4-3 4.2-32-3.6 2.1-3.8 3.2z" color="#433e85"/><path d="M93.9 531.5l7.4 6.5 4.8-.8-7.3-5.6z" color="#472c7a"/><path d="M389.2 349.6l7.4 27.1 4.1 25.2-7.4-23.6z" color="#1e9d89"/><path d="M255.7 554.4l7.4 6.8 4.6 6.5-7.4-5.9z" color="#481467"/><path d="M390.8 578.2l3.9 3.4 3.6 1.9 4.2-5.3-3.5-3.7-3.9-5.6z" color="#450457"/><path d="M225.7 517.7l7.5 10.1 4.7 8.2-7.5-10.7z" color="#46337f"/><path d="M410.1 581.6l3.6-.4 3.9-1.7 4.2-1.5-3.9 .6-3.6-.9z" color="#440256"/><path d="M433.6 571.7l3.7-3.5 4-4.8 4.2-1.5-4.1 4.5-3.6 3.1z" color="#470e61"/><path d="M290 579.8l7.5 2.7 2.3-.3 2.1-2-7.4-2.2-2.1 1.7z" color="#440154"/><path d="M296.8 508.7l7.4-8.3 4.2-35-7.4 11.9z" color="#3b528b"/><path d="M169.2 484.4l7.2-1.8 4.6-5.9-7.3 .2z" color="#38598c"/><path d="M383.3 567.8l3.9 6 3.6 4.4 4.3-9.3-7.5-14.8z" color="#470e61"/><path d="M461.5 545.8l7.8-12.2 4.2-4.1-7.8 12.2z" color="#472a7a"/><path d="M313.7 573l7.4 3.3 4.3-16.7-7.4-4.4z" color="#471063"/><path d="M218.2 507.7l7.5 10 4.7 7.6-7.5-11.3z" color="#433d84"/><path d="M153.2 507.9l7.1-4.5 4.4-10-7.1 4.2z" color="#3e4989"/><path d="M477.6 524.5l7.9-11.5 4.1-5.6-7.8 11.2z" color="#433d84"/><path d="M263.1 561.2l7.5 5.8 2.4 3.4 2.2 2.2-7.5-4.9z" color="#471063"/><path d="M101.3 538l7.4 5.5 4.8-2-7.4-4.3z" color="#482878"/><path d="M120.7 544.3l7.3 1.4 4.6-6.5-7.2 .2z" color="#482677"/><path d="M188.3 478.8l7.4 4.5 4.7 .5-7.5-6.9z" color="#38598c"/><path d="M493.8 501.2l7.8-8 4.1-5.8-3.7 2.9-4.1 4.2z" color="#3d4e8a"/><path d="M310.5 552.7l7.5 2.5 4.2-25.8-3.9-1.8-3.5-.9z" color="#482878"/><path d="M312 382.9l7.3-36.1 2.1-2.3 2.3-.3-7.3 35.9-2.3 .6z" color="#21a685"/><path d="M309.3 582.6l7.5 2.5 2.3-3.7 2-5.1-7.4-3.3-2.1 5.5z" color="#440256"/><path d="M210.6 498.2l7.6 9.5 4.7 6.3-7.5-11.1z" color="#404588"/><path d="M398.3 583.5l3.6 .8 3.9-.4 4.3-2.3-4-1.1-3.6-2.3z" color="#440154"/><path d="M132.6 539.2l7.2-1.5 4.4-9.3-7.1 2.8z" color="#472e7c"/><path d="M328.1 349.8l7.4-31.8 4.4 15.4-7.4 29.3z" color="#31b57b"/><path d="M195.7 483.3l7.5 6.6 4.7 2.7-7.5-8.8z" color="#3a538b"/><path d="M203.2 489.9l7.4 8.3 4.8 4.7-7.5-10.3z" color="#3d4e8a"/><path d="M555.2 518.2l5.3 7.9 3.9-2-5.3-7.6z" color="#443983"/><path d="M445.5 561.9l7.7-10.8 4.2-2.2-7.8 10.6z" color="#481b6d"/><path d="M517.6 479.4l3.6 .4 4 1.6 4.1-3.2-4-2.1-3.6-1.1z" color="#375b8d"/><path d="M379 579l3.9 3.7 3.6 2.3 4.3-6.8-3.6-4.4-3.9-6z" color="#450559"/><path d="M321.1 576.3l7.5 3.9 4.3-14.7-7.5-5.9z" color="#470d60"/><path d="M270.6 567l7.5 4.8 2.3 3 2.2 1.7-7.4-3.9-2.2-2.2z" color="#460b5e"/><path d="M339.9 333.4l7.4-24.2 4.4 24.7-7.5 21.5z" color="#3aba76"/><path d="M148.7 518.3l7.1-4.2 4.5-10.7-7.1 4.5z" color="#414287"/><path d="M297.5 582.5l7.4 2.3 2.3-.3 2.1-1.9-7.4-2.4-2.1 2z" color="#440154"/><path d="M108.7 543.5l7.3 4.2 4.7-3.4-7.2-2.8z" color="#482677"/><path d="M299.1 430.7l7.2-29 4.3-24.9-7.2 32.5z" color="#228c8d"/><path d="M547.7 506.7l7.5 11.5 3.9-1.7-7.4-11.3z" color="#424186"/><path d="M397.6 464.4l7.3 34.8 4.2-7.4-7.3-36z" color="#365c8d"/><path d="M375.8 553.2l7.5 14.6 4.3-13.7-7.4-19.7z" color="#481f70"/><path d="M371.5 569.2l7.5 9.8 4.3-11.2-7.5-14.6z" color="#471164"/><path d="M505.7 487.4l4.1-2.3 3.7-1 4.1-4.7-3.7 .5-4 1.6z" color="#38588c"/><path d="M318 555.2l7.4 4.4 4.3-24.6-7.5-5.6z" color="#482576"/><path d="M164.7 493.4l7.2-3.1 4.5-7.7-7.2 1.8z" color="#3a548c"/><path d="M386.5 585l3.6 1.4 3.9 .4 4.3-3.3-3.6-1.9-3.9-3.4z" color="#440154"/><path d="M316.8 585.1l7.4 2.4 2.3-2.9 2.1-4.4-7.5-3.9-2 5.1z" color="#440256"/><path d="M359.2 319.3l3.9-4.3 3.6-1.8 4.2 32.7-3.5 1.4-4 3.6z" color="#3bbb75"/><path d="M380.2 534.4l7.4 19.7 4.3-15.2-7.4-24.4z" color="#472e7c"/><path d="M540.3 496l7.4 10.7 4-1.5-7.4-10.9z" color="#3e4a89"/><path d="M328.6 580.2l7.5 4.1 2.2-5.5 2.1-6.7-7.5-6.6z" color="#46085c"/><path d="M176.4 482.6l7.3 .1 4.6-3.9-7.3-2.1z" color="#375b8d"/><path d="M525.2 481.4l3.7 2.3 3.9 3.5 4-2.3-7.5-6.7z" color="#38598c"/><path d="M307.4 527.1l3.8-.6 3.6 .2 4.2-33.2-3.5 .2-3.9 1.4z" color="#414487"/><path d="M367.2 581.3l3.9 3.2 3.6 2.2 4.3-7.7-7.5-9.8z" color="#450559"/><path d="M325.4 559.6l7.5 5.9 4.3-22.3-7.5-8.2z" color="#482173"/><path d="M144.2 528.4l7.2-3.5 4.4-10.8-7.1 4.2z" color="#443a83"/><path d="M532.8 487.2l7.5 8.8 4-1.7-7.5-9.4z" color="#3a538b"/><path d="M278.1 571.8l7.4 3.8 2.4 2.8 2.1 1.4-7.4-3.3-2.2-1.7z" color="#460a5d"/><path d="M359.7 573.2l7.5 8.1 4.3-12.1-7.5-12.7z" color="#471063"/><path d="M128 545.7l7.2 .1 4.6-8.1-7.2 1.5z" color="#482979"/><path d="M74.1 516.3l7.4 7.2 5 .9-7.5-7.5z" color="#443b84"/><path d="M307.7 392.9l7.2-35 2.3-6.8 2.1-4.3-7.3 36.1-2 3.9z" color="#20a386"/><path d="M489.6 507.4l7.9-8.7 4.1-5.5-7.8 8z" color="#3e4c8a"/><path d="M332.9 565.5l7.5 6.6 4.3-19.1-7.5-9.8z" color="#481b6d"/><path d="M473.5 529.5l7.8-11.7 4.2-4.8-7.9 11.5z" color="#443b84"/><path d="M384.5 514.5l7.4 24.4 4.4-15.1-7.4-28.8z" color="#433e85"/><path d="M340.4 572.1l7.5 6.7 4.3-15.4-7.5-10.4z" color="#471365"/><path d="M393.2 477.9l7.4 32.3 4.3-11-7.3-34.8z" color="#39558c"/><path d="M417.6 579.5l3.7-2.6 4-3.9 4.2-.1-4 3.2-3.7 1.9z" color="#460a5d"/><path d="M398.8 413.1l7.3 39.5 2 .4 2.2 1.7-7.3-37.9-2.2-2.8z" color="#297a8e"/><path d="M303.4 409.3l7.2-32.5 4.3-18.9-7.2 35z" color="#1e9b8a"/><path d="M347.9 578.8l7.5 5.8 4.3-11.4-7.5-9.8z" color="#460b5e"/><path d="M364 556.5l7.5 12.7 4.3-16-7.4-17.8z" color="#481f70"/><path d="M116 547.7l7.3 3 4.7-5-7.3-1.4z" color="#482576"/><path d="M81.5 523.5l7.5 7.3 4.9 .7-7.4-7.1z" color="#453781"/><path d="M336.1 584.3l7.4 3.5 2.3-3.9 2.1-5.1-7.5-6.7-2.1 6.7z" color="#450559"/><path d="M304.9 584.8l7.5 1.8 2.3 0 2.1-1.5-7.5-2.5-2.1 1.9z" color="#440154"/><path d="M457.4 548.9l7.8-12.1 4.1-3.2-7.8 12.2z" color="#472a7a"/><path d="M381.8 328.9l3.5 8.9 3.9 11.8 4.1 28.7-3.9-10.4-3.5-7.8z" color="#28ae80"/><path d="M405.8 583.9l3.7-1.5 3.9-2.7 4.2-.2-3.9 1.7-3.6 .4z" color="#450559"/><path d="M388.9 495l7.4 28.8 4.3-13.6-7.4-32.3z" color="#3e4a89"/><path d="M374.7 586.7l3.9 1.5 3.6 .6 2.1-1.4 2.2-2.4-3.6-2.3-3.9-3.7z" color="#440154"/><path d="M352.2 563.4l7.5 9.8 4.3-16.7-7.5-14.4z" color="#481b6d"/><path d="M429.5 572.9l7.7-9 4.1-.5-4 4.8-3.7 3.5z" color="#471365"/><path d="M355.4 584.6l7.5 4 2-2.9 2.3-4.4-7.5-8.1z" color="#450457"/><path d="M297.9 461.6l7.3-18.8 4.2-35.1-7.3 23.1z" color="#29798e"/><path d="M89 530.8l7.4 7 4.9 .2-7.4-6.5z" color="#46307e"/><path d="M160.3 503.4l7.1-3.8 4.5-9.3-7.2 3.1z" color="#3c4f8a"/><path d="M324.2 587.5l7.5 2 2.3-1.9 2.1-3.3-7.5-4.1-2.1 4.4z" color="#440154"/><path d="M139.8 537.7l7.1-2.4 4.5-10.4-7.2 3.5z" color="#46337f"/><path d="M183.7 482.7l7.4 2.3 4.6-1.7-7.4-4.5z" color="#375b8d"/><path d="M394 586.8l3.6-.7 4-1.8 4.2-.4-3.9 .4-3.6-.8z" color="#440256"/><path d="M285.5 575.6l7.5 3 2.3 2.7 2.2 1.2-7.5-2.7-2.1-1.4z" color="#46085c"/><path d="M96.4 537.8l7.4 6.3 4.9-.6-7.4-5.5z" color="#472c7a"/><path d="M513.5 484.1l3.7-.1 4 1 4-3.6-4-1.6-3.6-.4z" color="#375b8d"/><path d="M392.5 355.5l7.4 34.5 4.1 17.8-7.4-31.1z" color="#1e9d89"/><path d="M343.5 587.8l7.5 2.5 2.3-2.3 2.1-3.4-7.5-5.8-2.1 5.1z" color="#440256"/><path d="M501.6 493.2l4.1-2.8 3.7-1.5 4.1-4.8-3.7 1-4.1 2.3z" color="#39568c"/><path d="M344.7 553l7.5 10.4 4.3-21.3-7.5-14.6z" color="#482878"/><path d="M304.2 500.4l3.8-3.2 3.6-2.1 4.2-37.6-3.6 3.2-3.8 4.7z" color="#365d8d"/><path d="M368.4 535.4l7.4 17.8 4.4-18.8-7.5-22.9z" color="#46327e"/><path d="M314.8 526.7l3.5 .9 3.9 1.8 4.3-33.1-3.9-2-3.6-.8z" color="#404588"/><path d="M551.2 520.1l5.3 8.1 4-2.1-5.3-7.9z" color="#443b84"/><path d="M362.9 588.6l3.9 1.3 3.6 .4 2-1.2 2.3-2.4-3.6-2.2-3.9-3.2-2.3 4.4z" color="#440154"/><path d="M441.3 563.4l7.8-11.1 4.1-1.2-7.7 10.8z" color="#481d6f"/><path d="M171.9 490.3l7.3-1.5 4.5-6.1-7.3-.1z" color="#38598c"/><path d="M366.7 313.2l3.6 .4 3.9 2.8 4.2 32.6-3.9-2.7-3.6-.4z" color="#40bd72"/><path d="M155.8 514.1l7.2-4.1 4.4-10.4-7.1 3.8z" color="#3e4989"/><path d="M312.4 586.6l7.4 1.3 2.3 .6 2.1-1-7.4-2.4-2.1 1.5z" color="#440154"/><path d="M123.3 550.7l7.3 1.6 4.6-6.5-7.2-.1z" color="#482677"/><path d="M103.8 544.1l7.4 5.4 4.8-1.8-7.3-4.2z" color="#482878"/><path d="M374.2 316.4l3.6 4.9 4 7.6 4.1 31.2-3.9-6.8-3.6-4.3z" color="#38b977"/><path d="M356.5 542.1l7.5 14.4 4.4-21.1-7.5-19.3z" color="#472f7d"/><path d="M382.2 588.8l3.6-.2 4-1.2 2 0 2.2-.6-3.9-.4-3.6-1.4-2.2 2.4z" color="#440154"/><path d="M191.1 485l7.4 4.2 4.7 .7-7.5-6.6z" color="#38598c"/><path d="M543.8 508.6l7.4 11.5 4-1.9-7.5-11.5z" color="#414487"/><path d="M395.7 377.7l7.3 39.1 4.2 9.5-7.3-36.3z" color="#21918c"/><path d="M301 477.3l7.4-11.9 4.2-38.2-7.4 15.6z" color="#2d708e"/><path d="M331.7 589.5l7.5 1.2 2.3-.8 2-2.1-7.4-3.5-2.1 3.3z" color="#440154"/><path d="M337.2 543.2l7.5 9.8 4.3-25.5-7.5-13.4z" color="#46337f"/><path d="M485.5 513l7.8-9.2 4.2-5.1-7.9 8.7z" color="#3e4a89"/><path d="M135.2 545.8l7.2-1 4.5-9.5-7.1 2.4z" color="#472d7b"/><path d="M236 528.7l7.5 8.5 4.7 9.2-7.5-8.9z" color="#46307e"/><path d="M243.5 537.2l7.5 7.8 4.7 9.4-7.5-8z" color="#482979"/><path d="M228.5 519.9l7.5 8.8 4.7 8.8-7.5-9.7z" color="#453882"/><path d="M521.2 485l3.6 1.8 4 3.1 4-2.7-3.9-3.5-3.7-2.3z" color="#375a8c"/><path d="M322.2 529.4l7.5 5.6 4.3-31.6-3.9-4.2-3.6-2.9z" color="#414287"/><path d="M469.3 533.6l7.9-11.7 4.1-4.1-7.8 11.7z" color="#443a83"/><path d="M220.9 511.1l7.6 8.8 4.7 7.9-7.5-10.1z" color="#424086"/><path d="M351 590.3l7.6 .9 2.2-.8 2.1-1.8-7.5-4-2.1 3.4z" color="#440154"/><path d="M198.5 489.2l7.4 6.1 4.7 2.9-7.4-8.3z" color="#3a548c"/><path d="M293 578.6l7.4 2.3 2.4 2.7 2.1 1.2-7.4-2.3-2.2-1.2z" color="#46085c"/><path d="M536.3 498.1l7.5 10.5 3.9-1.9-7.4-10.7z" color="#3d4d8a"/><path d="M329.7 535l7.5 8.2 4.3-29.1-7.5-10.7z" color="#443b84"/><path d="M251 545l7.5 7.1 4.6 9.1-7.4-6.8z" color="#482374"/><path d="M213.4 502.7l7.5 8.4 4.8 6.6-7.5-10z" color="#3f4788"/><path d="M205.9 495.3l7.5 7.4 4.8 5-7.6-9.5z" color="#3c4f8a"/><path d="M151.4 524.9l7.1-3.8 4.5-11.1-7.2 4.1z" color="#424186"/><path d="M528.8 489.9l7.5 8.2 4-2.1-7.5-8.8z" color="#3a548c"/><path d="M111.2 549.5l7.4 4.3 4.7-3.1-7.3-3z" color="#482677"/><path d="M372.7 511.5l7.5 22.9 4.3-19.9-7.4-28z" color="#404688"/><path d="M370.4 590.3l3.9-.2 3.6-.9 2.3 .2 2-.6-3.6-.6-3.9-1.5-2.3 2.4z" color="#440154"/><path d="M258.5 552.1l7.5 6 4.6 8.9-7.5-5.8z" color="#481f70"/><path d="M453.2 551.1l7.9-12.1 4.1-2.2-7.8 12.1z" color="#472c7a"/><path d="M167.4 499.6l7.2-2.8 4.6-8-7.3 1.5z" color="#3a548c"/><path d="M497.5 498.7l4.1-3.2 3.7-1.9 4.1-4.7-3.7 1.5-4.1 2.8z" color="#39558c"/><path d="M319.8 587.9l7.5 .6 2.3 1.2 2.1-.2-7.5-2-2.1 1z" color="#440256"/><path d="M69.1 516.1l7.5 6.6 4.9 .8-7.4-7.2z" color="#424186"/><path d="M179.2 488.8l7.3 .2 4.6-4-7.4-2.3z" color="#375b8d"/><path d="M394.5 416.1l7.3 39.7 2.1-2.2 2.2-1-7.3-39.5-2.2 .7z" color="#287d8e"/><path d="M413.4 579.7l7.7-7.9 4.2 1.2-4 3.9-3.7 2.6z" color="#471063"/><path d="M509.4 488.9l3.7-.6 4 .5 4.1-3.8-4-1-3.7 .1z" color="#375b8d"/><path d="M146.9 535.3l7.2-3 4.4-11.2-7.1 3.8z" color="#443a83"/><path d="M339.2 590.7l7.5 0 2.3 .4 2-.8-7.5-2.5-2 2.1z" color="#440154"/><path d="M401.6 584.3l3.6-2.5 4-3.6 4.2 1.5-3.9 2.7-3.7 1.5z" color="#460a5d"/><path d="M130.6 552.3l7.3 .5 4.5-8-7.2 1z" color="#482979"/><path d="M349 527.5l7.5 14.6 4.4-26-7.5-19.2z" color="#424086"/><path d="M266 558.1l7.4 5.1 4.7 8.6-7.5-4.8z" color="#481b6d"/><path d="M76.6 522.7l7.4 7.1 5 1-7.5-7.3z" color="#443b84"/><path d="M425.3 573l7.7-9.7 4.2 .6-7.7 9z" color="#481769"/><path d="M300.4 580.9l7.5 1.5 2.3 2.8 2.2 1.4-7.5-1.8-2.1-1.2z" color="#46085c"/><path d="M323.7 344.2l7.3-33.2 2.1 2.2 2.4 4.8-7.4 31.8-2.3-3.9z" color="#46c06f"/><path d="M358.6 591.2l7.5-1.3 2.3 .7 2-.3-3.6-.4-3.9-1.3-2.1 1.8z" color="#440256"/><path d="M118.6 553.8l7.3 3.2 4.7-4.7-7.3-1.6z" color="#482576"/><path d="M84 529.8l7.5 7.1 4.9 .9-7.4-7z" color="#453781"/><path d="M360.9 516.1l7.5 19.3 4.3-23.9-7.5-24.5z" color="#3f4788"/><path d="M311.6 495.1l3.9-1.4 3.5-.2 4.2-38.8-3.5 .7-3.9 2.1z" color="#33638d"/><path d="M389.8 587.4l3.6-1.9 4-2.9 4.2 1.7-4 1.8-3.6 .7-2.2 .6z" color="#46075a"/><path d="M547.2 522.5l5.3 8.2 4-2.5-5.3-8.1z" color="#433e85"/><path d="M481.3 517.8l7.9-9.4 4.1-4.6-7.8 9.2z" color="#3e4989"/><path d="M302.1 430.8l7.3-23.1 4.2-32.9-7.3 26.9z" color="#20928c"/><path d="M163 510l7.2-3.5 4.4-9.7-7.2 2.8z" color="#3c4f8a"/><path d="M377.1 486.5l7.4 28 4.4-19.5-7.4-32.4z" color="#38598c"/><path d="M91.5 536.9l7.4 6.8 4.9 .4-7.4-6.3z" color="#46307e"/><path d="M142.4 544.8l7.2-1.9 4.5-10.6-7.2 3z" color="#46337f"/><path d="M273.4 563.2l7.5 4.2 4.6 8.2-7.4-3.8z" color="#48186a"/><path d="M437.2 563.9l7.8-11.3 4.1-.3-7.8 11.1z" color="#482173"/><path d="M539.8 511l7.4 11.5 4-2.4-7.4-11.5z" color="#404688"/><path d="M186.5 489l7.3 2 2.2-1.2 2.5-.6-7.4-4.2z" color="#375b8d"/><path d="M347.3 309.2l4-9.7 3.5-6.8 4.4 26.6-3.6 6-3.9 8.6z" color="#5ec962"/><path d="M517.1 488.8l3.7 1.5 3.9 2.7 4.1-3.1-4-3.1-3.6-1.8z" color="#375a8c"/><path d="M465.2 536.8l7.9-11.6 4.1-3.3-7.9 11.7z" color="#443b84"/><path d="M98.9 543.7l7.5 6.2 4.8-.4-7.4-5.4z" color="#472d7b"/><path d="M377.9 589.2l3.6-1.5 4-2.4 4.3 2.1-4 1.2-3.6 .2-2 .6zM327.3 588.5l7.5-.5 2.3 2 2.1 .7-7.5-1.2-2.1 .2z" color="#450559"/><path d="M532.3 500.7l7.5 10.3 4-2.4-7.5-10.5zM341.5 514.1l7.5 13.4 4.4-30.6-7.6-17.2z" color="#3c4f8a"/><path d="M390.2 425.8l7.4 38.6 4.2-8.6-7.3-39.7-2 3.8z" color="#297b8e"/><path d="M158.5 521.1l7.2-3.6 4.5-11-7.2 3.5z" color="#3f4889"/><path d="M174.6 496.8l7.3-1.4 4.6-6.4-7.3-.2z" color="#38598c"/><path d="M524.7 493l7.6 7.7 4-2.6-7.5-8.2z" color="#39568c"/><path d="M346.7 590.7l7.5-1.6 2.3 1.6 2.1 .5-7.6-.9-2 .8z" color="#450457"/><path d="M307.9 582.4l7.5 .6 2.3 3.2 2.1 1.7-7.4-1.3-2.2-1.4z" color="#460a5d"/><path d="M493.3 503.8l4.1-3.5 3.8-2.1 4.1-4.6-3.7 1.9-4.1 3.2z" color="#3a548c"/><path d="M125.9 557l7.3 2 4.7-6.2-7.3-.5z" color="#482576"/><path d="M381.5 462.6l7.4 32.4 4.3-17.1-7.4-36.1z" color="#30698e"/><path d="M137.9 552.8l7.2-.6 4.5-9.3-7.2 1.9z" color="#472d7b"/><path d="M280.9 567.4l7.5 3.1 4.6 8.1-7.5-3z" color="#481668"/><path d="M106.4 549.9l7.4 5.4 4.8-1.5-7.4-4.3z" color="#482979"/><path d="M193.8 491l7.5 3.8 2.2-.1 2.4 .6-7.4-6.1-2.5 .6z" color="#38598c"/><path d="M505.3 493.6l4-.9 3.7 .1 4.1-4-4-.5-3.7 .6z" color="#375a8c"/><path d="M385.1 325.5l7.4 30 4.1 21.2-7.4-27.1z" color="#31b57b"/><path d="M449.1 552.3l7.8-11.9 4.2-1.4-7.9 12.1z" color="#472e7c"/><path d="M319 493.5l3.6 .8 3.9 2 4.3-38.7-4-2.2-3.6-.7z" color="#32658e"/><path d="M385.8 441.8l7.4 36.1 4.4-13.5-7.4-38.6z" color="#2b748e"/><path d="M154.1 532.3l7.2-3.3 4.4-11.5-7.2 3.6z" color="#424086"/><path d="M366.1 589.9l7.6-3.4 2.2 1.8 2 .9-3.6 .9-3.9 .2-2 .3z" color="#46075a"/><path d="M308.4 465.4l3.8-4.7 3.6-3.2 4.2-40.7-3.6 4.2-3.8 6.2z" color="#287c8e"/><path d="M335.5 318l7.4-26.2 4.4 17.4-7.4 24.2z" color="#63cb5f"/><path d="M334 503.4l7.5 10.7 4.3-34.4-7.5-13.5z" color="#375b8d"/><path d="M201.3 494.8l7.4 5.2 4.7 2.7-7.5-7.4-2.4-.6z" color="#39558c"/><path d="M477.2 521.9l7.9-9.5 4.1-4-7.9 9.4z" color="#3f4889"/><path d="M305.2 442.8l7.4-15.6 4.2-38.6-7.4 19.1z" color="#228c8d"/><path d="M365.2 487l7.5 24.5 4.4-25-7.5-29.3z" color="#355f8d"/><path d="M326.5 496.3l3.6 2.9 3.9 4.2 4.3-37.2-4-5.1-3.5-3.5z" color="#33628d"/><path d="M113.8 555.3l7.4 4.5 4.7-2.8-7.3-3.2z" color="#482677"/><path d="M64.2 516.5l7.4 5.8 5 .4-7.5-6.6z" color="#404688"/><path d="M170.2 506.5l7.2-2.5 4.5-8.6-7.3 1.4z" color="#3a548c"/><path d="M391.4 372.4l7.4 40.7 2 .9 2.2 2.8-7.3-39.1-2.2-3.7z" color="#1f9a8a"/><path d="M208.7 500l7.5 6.4 4.7 4.7-7.5-8.4z" color="#3b518b"/><path d="M543.2 525.2l5.3 8.4 4-2.9-5.3-8.2z" color="#423f85"/><path d="M353.4 496.9l7.5 19.2 4.3-29.1-7.5-23.8z" color="#375b8d"/><path d="M149.6 542.9l7.2-2.5 4.5-11.4-7.2 3.3z" color="#453882"/><path d="M409.2 578.2l7.7-8.8 4.2 2.4-7.7 7.9z" color="#481769"/><path d="M288.4 570.5l7.5 2.3 4.5 8.1-7.4-2.3z" color="#481668"/><path d="M334.8 588l7.5-1.6 2.3 2.7 2.1 1.6-7.5 0-2.1-.7z" color="#46085c"/><path d="M216.2 506.4l7.5 7.1 4.8 6.4-7.6-8.8z" color="#3e4c8a"/><path d="M181.9 495.4l7.3 .1 4.6-4.5-7.3-2z" color="#375a8c"/><path d="M71.6 522.3l7.4 6.5 5 1-7.4-7.1z" color="#424186"/><path d="M223.7 513.5l7.5 7.4 4.8 7.8-7.5-8.8z" color="#404588"/><path d="M306.3 401.7l7.3-26.9 4.3-28.2-7.3 30.2z" color="#22a884"/><path d="M421.1 571.8l7.8-10.2 4.1 1.7-7.7 9.7z" color="#481d6f"/><path d="M397.4 582.6l7.6-7.5 4.2 3.1-4 3.6-3.6 2.5z" color="#471164"/><path d="M133.2 559l7.3 .9 4.6-7.7-7.2 .6z" color="#482878"/><path d="M315.4 583l7.5-.3 2.3 3.5 2.1 2.3-7.5-.6-2.1-1.7z" color="#470d60"/><path d="M513 492.8l3.7 1.2 4 2.4 4-3.4-3.9-2.7-3.7-1.5z" color="#375b8d"/><path d="M231.2 520.9l7.5 7.5 4.8 8.8-7.5-8.5z" color="#423f85"/><path d="M535.8 513.7l7.4 11.5 4-2.7-7.4-11.5z" color="#3f4788"/><path d="M319.3 346.8l7.3-33.3 2.1-2.4 1.1-.4 1.2 .3-7.3 33.2-2.3 .3z" color="#50c46a"/><path d="M461.1 539l7.8-11.3 4.2-2.5-7.9 11.6z" color="#433d84"/><path d="M238.7 528.4l7.6 7.1 4.7 9.5-7.5-7.8z" color="#443983"/><path d="M354.2 589.1l7.6-3.2 4.3 4-7.5 1.3-2.1-.5z" color="#46085c"/><path d="M79 528.8l7.5 6.9 5 1.2-7.5-7.1z" color="#443b84"/><path d="M489.2 508.4l4.1-3.6 3.7-2.3 4.2-4.3-3.8 2.1-4.1 3.5z" color="#3a538b"/><path d="M121.2 559.8l7.3 3.4 4.7-4.2-7.3-2z" color="#482576"/><path d="M385.5 585.3l7.6-6.4 4.3 3.7-4 2.9-3.6 1.9z" color="#471063"/><path d="M246.3 535.5l7.5 6.6 4.7 10-7.5-7.1z" color="#46337f"/><path d="M165.7 517.5l7.2-3.2 4.5-10.3-7.2 2.5z" color="#3d4e8a"/><path d="M528.3 503.7l7.5 10 4-2.7-7.5-10.3z" color="#3c508b"/><path d="M433 563.3l7.8-11.3 4.2 .6-7.8 11.3z" color="#482677"/><path d="M388.3 340.6l7.4 37.1 4.2 12.3-7.4-34.5z" color="#28ae80"/><path d="M86.5 535.7l7.5 6.9 4.9 1.1-7.4-6.8z" color="#453781"/><path d="M520.7 496.4l3.6 3.1 4 4.2 4-3-7.6-7.7z" color="#39568c"/><path d="M145.1 552.2l7.2-1.3 4.5-10.5-7.2 2.5z" color="#46307e"/><path d="M501.2 498.2l4-1.2 3.7-.1 4.1-4.1-3.7-.1-4 .9z" color="#375a8c"/><path d="M253.8 542.1l7.5 5.9 4.7 10.1-7.5-6z" color="#472e7c"/><path d="M94 542.6l7.4 6.6 5 .7-7.5-6.2z" color="#46327e"/><path d="M295.9 572.8l7.5 1.3 4.5 8.3-7.5-1.5z" color="#481769"/><path d="M189.2 495.5l7.4 1.6 2.2-1.5 2.5-.8-7.5-3.8z" color="#375b8d"/><path d="M161.3 529l7.2-3.2 4.4-11.5-7.2 3.2z" color="#404688"/><path d="M373.7 586.5l7.6-5.6 4.2 4.4-4 2.4-3.6 1.5-2-.9z" color="#470e61"/><path d="M101.4 549.2l7.5 6.2 4.9-.1-7.4-5.4z" color="#472d7b"/><path d="M177.4 504l7.3-1.5 4.5-7-7.3-.1z" color="#38588c"/><path d="M354.8 292.7l4-5 3.6-2.1 4.3 27.6-3.6 1.8-3.9 4.3z" color="#7ad151"/><path d="M310.6 376.8l7.3-30.2 4.4-21-7.4 32.3z" color="#35b779"/><path d="M445 552.6l7.8-11.5 4.1-.7-7.8 11.9z" color="#46327e"/><path d="M473.1 525.2l7.8-9.3 4.2-3.5-7.9 9.5z" color="#3e4989"/><path d="M261.3 548l7.5 5 4.6 10.2-7.4-5.1z" color="#472a7a"/><path d="M314.9 357.9l7.4-32.3 2.3-7.5 2-4.6-7.3 33.3-2.1 4.3z" color="#4ac16d"/><path d="M369.6 457.2l7.5 29.3 4.4-23.9-7.5-33.7z" color="#2c738e"/><path d="M140.5 559.9l7.3 .1 4.5-9.1-7.2 1.3z" color="#472a7a"/><path d="M128.5 563.2l7.4 2.4 4.6-5.7-7.3-.9z" color="#482576"/><path d="M322.9 582.7l7.5-1.4 4.4 6.7-7.5 .5-2.1-2.3z" color="#471063"/><path d="M342.3 586.4l7.6-2.9 4.3 5.6-7.5 1.6-2.1-1.6z" color="#470e61"/><path d="M377.6 302.6l3.5 9.9 4 13 4.1 24.1-3.9-11.8-3.5-8.9z" color="#56c667"/><path d="M345.8 479.7l7.6 17.2 4.3-33.7-7.5-21z" color="#2f6c8e"/><path d="M156.8 540.4l7.2-2.8 4.5-11.8-7.2 3.2z" color="#433e85"/><path d="M315.8 457.5l3.9-2.1 3.5-.7 4.3-42-3.6 1.1-3.9 3z" color="#26828e"/><path d="M539.2 528.4l5.3 8.4 4-3.2-5.3-8.4z" color="#424086"/><path d="M108.9 555.4l7.4 5.4 4.9-1-7.4-4.5z" color="#482979"/><path d="M508.9 496.9l3.7 1 4 2.1 4.1-3.6-4-2.4-3.7-1.2z" color="#375b8d"/><path d="M196.6 497.1l7.4 3.1 2.3-.5 2.4 .3-7.4-5.2-2.5 .8z" color="#375a8c"/><path d="M268.8 553l7.5 4.1 4.6 10.3-7.5-4.2z" color="#482878"/><path d="M531.7 516.9l7.5 11.5 4-3.2-7.4-11.5z" color="#3f4889"/><path d="M485.1 512.4l4.1-3.6 3.7-2.3 4.1-4-3.7 2.3-4.1 3.6z" color="#3a538b"/><path d="M361.8 585.9l7.5-4.9 4.4 5.5-7.6 3.4z" color="#471164"/><path d="M387.1 375.2l7.4 40.9 2.1-2.3 2.2-.7-7.4-40.7-2.2 .5z" color="#1f9f88"/><path d="M303.4 574.1l7.5 .3 4.5 8.6-7.5-.6z" color="#48186a"/><path d="M172.9 514.3l7.3-2.4 4.5-9.4-7.3 1.5z" color="#3b528b"/><path d="M152.3 550.9l7.3-1.8 4.4-11.5-7.2 2.8z" color="#453581"/><path d="M456.9 540.4l7.9-10.8 4.1-1.9-7.8 11.3z" color="#423f85"/><path d="M497 502.5l4.1-1.4 3.7-.2 4.1-4-3.7 .1-4 1.2z" color="#38598c"/><path d="M516.6 500l3.6 2.9 4 4.1 4.1-3.3-4-4.2-3.6-3.1z" color="#38588c"/><path d="M524.2 507l7.5 9.9 4.1-3.2-7.5-10z" color="#3b518b"/><path d="M357.7 463.2l7.5 23.8 4.4-29.8-7.5-28.3z" color="#2b748e"/><path d="M116.3 560.8l7.4 4.6 4.8-2.2-7.3-3.4z" color="#482677"/><path d="M204 500.2l7.5 4.2 2.2 .6 2.5 1.4-7.5-6.4-2.4-.3z" color="#38588c"/><path d="M184.7 502.5l7.3-.1 4.6-5.3-7.4-1.6z" color="#375a8c"/><path d="M405 575.1l7.7-9.3 4.2 3.6-7.7 8.8z" color="#481f70"/><path d="M135.9 565.6l7.3 1.6 4.6-7.2-7.3-.1z" color="#482677"/><path d="M416.9 569.4l7.8-10.3 4.2 2.5-7.8 10.2z" color="#482576"/><path d="M309.4 407.7l7.4-19.1 4.2-36.1-7.4 22.3z" color="#22a884"/><path d="M276.3 557.1l7.5 3.2 4.6 10.2-7.5-3.1z" color="#482677"/><path d="M362.4 285.6l3.6 .3 4 3.1 4.2 27.4-3.9-2.8-3.6-.4z" color="#84d44b"/><path d="M374 428.9l7.5 33.7 4.3-20.8-7.4-37.3z" color="#25858e"/><path d="M338.3 466.2l7.5 13.5 4.4-37.5-7.6-16.3z" color="#29798e"/><path d="M393.1 578.9l7.7-8.2 4.2 4.4-7.6 7.5z" color="#481b6d"/><path d="M211.5 504.4l7.5 5.2 4.7 3.9-7.5-7.1-2.5-1.4z" color="#3a538b"/><path d="M370 289l3.6 5.2 4 8.4 4.2 26.3-4-7.6-3.6-4.9z" color="#75d054"/><path d="M168.5 525.8l7.2-2.9 4.5-11-7.3 2.4z" color="#3e4c8a"/><path d="M147.8 560l7.3-.6 4.5-10.3-7.3 1.8z" color="#472e7c"/><path d="M323.2 454.7l3.6 .7 4 2.2 4.2-41.8-3.9-2.5-3.6-.6z" color="#25858e"/><path d="M428.9 561.6l7.7-11 4.2 1.4-7.8 11.3z" color="#472d7b"/><path d="M330.4 581.3l7.5-2.5 4.4 7.6-7.5 1.6z" color="#481668"/><path d="M312.6 427.2l3.8-6.2 3.6-4.2 4.2-41.2-3.5 5.3-3.9 7.7z" color="#1e9b8a"/><path d="M468.9 527.7l7.9-8.9 4.1-2.9-7.8 9.3z" color="#3e4989"/><path d="M123.7 565.4l7.4 3.8 4.8-3.6-7.4-2.4z" color="#482576"/><path d="M219 509.6l7.5 5.8 4.7 5.5-7.5-7.4z" color="#3c4f8a"/><path d="M349.9 583.5l7.5-4.4 4.4 6.8-7.6 3.2z" color="#481668"/><path d="M330.8 457.6l3.5 3.5 4 5.1 4.3-40.3-4-6.2-3.6-3.9z" color="#26828e"/><path d="M382.8 386.2l7.4 39.6 2.3-5.9 2-3.8-7.4-40.9-2 4.2z" color="#1e9c89"/><path d="M331 311l7.5-27.4 2.1 2.7 2.3 5.5-7.4 26.2-2.4-4.8z" color="#84d44b"/><path d="M381.3 580.9l7.6-7.3 4.2 5.3-7.6 6.4z" color="#481a6c"/><path d="M164 537.6l7.3-2.7 4.4-12-7.2 2.9z" color="#414487"/><path d="M535.1 531.9l5.4 8.5 4-3.6-5.3-8.4z" color="#424086"/><path d="M310.9 574.4l7.5-.7 4.5 9-7.5 .3z" color="#481b6d"/><path d="M504.8 500.9l3.7 .9 4 2 4.1-3.8-4-2.1-3.7-1z" color="#375b8d"/><path d="M226.5 515.4l7.5 6 4.7 7-7.5-7.5z" color="#3e4a89"/><path d="M378.4 404.5l7.4 37.3 4.4-16-7.4-39.6z" color="#20938c"/><path d="M440.8 552l7.8-11 4.2 .1-7.8 11.5z" color="#453781"/><path d="M283.8 560.3l7.5 2.2 4.6 10.3-7.5-2.3z" color="#482677"/><path d="M192 502.4l7.4 1.1 2.4-2.1 2.2-1.2-7.4-3.1z" color="#375b8d"/><path d="M180.2 511.9l7.3-1.5 4.5-8-7.3 .1z" color="#39568c"/><path d="M480.9 515.9l4.1-3.5 3.8-2.2 4.1-3.7-3.7 2.3-4.1 3.6z" color="#3a538b"/><path d="M342.9 291.8l4-10.6 3.6-7.4 4.3 18.9-3.5 6.8-4 9.7z" color="#95d840"/><path d="M527.6 520.5l7.5 11.4 4.1-3.5-7.5-11.5z" color="#3e4989"/><path d="M234 521.4l7.5 6 4.8 8.1-7.6-7.1z" color="#404688"/><path d="M143.2 567.2l7.3 .7 4.6-8.5-7.3 .6z" color="#482979"/><path d="M159.6 549.1l7.2-2.2 4.5-12-7.3 2.7z" color="#443b84"/><path d="M492.9 506.5l4.1-1.4 3.7-.2 4.1-4-3.7 .2-4.1 1.4z" color="#38598c"/><path d="M512.5 503.8l3.6 2.8 4 4.1 4.1-3.7-4-4.1-3.6-2.9z" color="#38588c"/><path d="M131.1 569.2l7.4 2.9 4.7-4.9-7.3-1.6z" color="#482576"/><path d="M520.1 510.7l7.5 9.8 4.1-3.6-7.5-9.9z" color="#3b528b"/><path d="M241.5 527.4l7.6 5.7 4.7 9-7.5-6.6z" color="#414287"/><path d="M369.3 581l7.7-6.4 4.3 6.3-7.6 5.6z" color="#481b6d"/><path d="M380.8 308.4l7.5 32.2 4.2 14.9-7.4-30z" color="#56c667"/><path d="M384 333.8l7.4 38.6 2.1 1.6 2.2 3.7-7.4-37.1-2.2-4.7z" color="#38b977"/><path d="M452.8 541.1l7.8-10.2 4.2-1.3-7.9 10.8z" color="#424186"/><path d="M155.1 559.4l7.3-1.2 4.4-11.3-7.2 2.2z" color="#46337f"/><path d="M175.7 522.9l7.3-2.2 4.5-10.3-7.3 1.5z" color="#3b518b"/><path d="M199.4 503.5l7.4 2.3 2.3-1.1 2.4-.3-7.5-4.2-2.2 1.2z" color="#375b8d"/><path d="M249.1 533.1l7.5 5.3 4.7 9.6-7.5-5.9z" color="#433e85"/><path d="M291.3 562.5l7.5 1.3 4.6 10.3-7.5-1.3z" color="#482677"/><path d="M350.2 442.2l7.5 21 4.4-34.3-7.6-24.7z" color="#23888e"/><path d="M362.1 428.9l7.5 28.3 4.4-28.3-7.5-32.2z" color="#228c8d"/><path d="M337.9 578.8l7.6-3.5 4.4 8.2-7.6 2.9z" color="#481c6e"/><path d="M318.4 573.7l7.5-1.6 4.5 9.2-7.5 1.4z" color="#481f70"/><path d="M464.8 529.6l7.8-8.3 4.2-2.5-7.9 8.9z" color="#3e4c8a"/><path d="M187.5 510.4l7.3-.4 4.6-6.5-7.4-1.1z" color="#38598c"/><path d="M171.3 534.9l7.3-2.5 4.4-11.7-7.3 2.2z" color="#3e4989"/><path d="M531.1 535.9l5.3 8.4 4.1-3.9-5.4-8.5z" color="#424186"/><path d="M256.6 538.4l7.5 4.6 4.7 10-7.5-5z" color="#443b84"/><path d="M138.5 572.1l7.4 2.2 4.6-6.4-7.3-.7z" color="#482576"/><path d="M500.7 504.9l3.7 .8 4 2.1 4.1-4-4-2-3.7-.9z" color="#375b8d"/><path d="M313.6 374.8l7.4-22.3 4.3-30.7-7.4 24.8z" color="#42be71"/><path d="M150.5 567.9l7.3 .1 4.6-9.8-7.3 1.2z" color="#472c7a"/><path d="M357.4 579.1l7.6-5.5 4.3 7.4-7.5 4.9z" color="#481d6f"/><path d="M206.8 505.8l7.5 3.2 2.2-.2 2.5 .8-7.5-5.2-2.4 .3z" color="#38598c"/><path d="M412.7 565.8l7.8-10 4.2 3.3-7.8 10.3z" color="#472d7b"/><path d="M400.8 570.7l7.7-9.3 4.2 4.4-7.7 9.3z" color="#482979"/><path d="M523.6 524.4l7.5 11.5 4-4-7.5-11.4z" color="#3e4989"/><path d="M476.8 518.8l4.1-3.2 3.7-2 4.2-3.4-3.8 2.2-4.1 3.5z" color="#3a538b"/><path d="M166.8 546.9l7.3-2.1 4.5-12.4-7.3 2.5z" color="#424086"/><path d="M424.7 559.1l7.8-10.4 4.1 1.9-7.7 11z" color="#463480"/><path d="M320 416.8l3.9-3 3.6-1.1 4.3-42.3-3.6 1.5-4 3.7z" color="#20a386"/><path d="M488.8 510.2l4-1.3 3.7-.1 4.2-3.9-3.7 .2-4.1 1.4z" color="#38598c"/><path d="M508.4 507.8l3.6 2.8 4 4 4.1-3.9-4-4.1-3.6-2.8z" color="#38588c"/><path d="M264.1 543l7.5 3.9 4.7 10.2-7.5-4.1z" color="#443983"/><path d="M516 514.6l7.6 9.8 4-3.9-7.5-9.8z" color="#3b528b"/><path d="M388.9 573.6l7.7-8.3 4.2 5.4-7.7 8.2z" color="#482677"/><path d="M298.8 563.8l7.5 .3 4.6 10.3-7.5-.3z" color="#482979"/><path d="M214.3 509l7.5 4 2.2 .7 2.5 1.7-7.5-5.8-2.5-.8z" color="#39568c"/><path d="M326.6 313.5l7.5-27.5 2.1-2.5 1.1-.3 1.2 .4-7.5 27.4-1.2-.3-1.1 .4z" color="#93d741"/><path d="M436.6 550.6l7.9-10.2 4.1 .6-7.8 11z" color="#433d84"/><path d="M162.4 558.2l7.3-1.4 4.4-12-7.3 2.1z" color="#453882"/><path d="M183 520.7l7.3-1.5 4.5-9.2-7.3 .4z" color="#3a548c"/><path d="M194.8 510l7.4 .5 4.6-4.7-7.4-2.3z" color="#375b8d"/><path d="M145.9 574.3l7.3 1.4 4.6-7.7-7.3-.1z" color="#482878"/><path d="M342.6 425.9l7.6 16.3 4.3-38-3.9-10.8-3.7-8.2z" color="#1f978b"/><path d="M448.6 541l7.9-9.3 4.1-.8-7.8 10.2z" color="#404588"/><path d="M221.8 513l7.5 4.4 2.2 1.5 2.5 2.5-7.5-6-2.5-1.7z" color="#3a548c"/><path d="M377 574.6l7.6-7.4 4.3 6.4-7.6 7.3z" color="#482576"/><path d="M316.8 388.6l3.9-7.7 3.5-5.3 4.3-38.3-3.5 6.2-4 9z" color="#35b779"/><path d="M271.6 546.9l7.6 3 4.6 10.4-7.5-3.2z" color="#453781"/><path d="M325.9 572.1l7.6-2.6 4.4 9.3-7.5 2.5z" color="#482475"/><path d="M157.8 568l7.4-.3 4.5-10.9-7.3 1.4z" color="#472f7d"/><path d="M345.5 575.3l7.5-4.5 4.4 8.3-7.5 4.4z" color="#482374"/><path d="M366.5 396.7l7.5 32.2 4.4-24.4-7.5-35.4z" color="#1fa187"/><path d="M379.7 336.4l7.4 38.8 2.1-2.3 2.2-.5-7.4-38.6-1.2-.2-1 .4z" color="#40bd72"/><path d="M178.6 532.4l7.3-2 4.4-11.2-7.3 1.5z" color="#3d4e8a"/><path d="M317.9 346.6l7.4-24.8 4.4-22.8-7.4 26.6z" color="#6ccd5a"/><path d="M527 540.3l5.3 8.4 4.1-4.4-5.3-8.4z" color="#424086"/><path d="M496.5 508.8l3.7 1 4 2.1 4.2-4.1-4-2.1-3.7-.8z" color="#375b8d"/><path d="M350.5 273.8l3.9-5.4 3.7-2.3 4.3 19.5-3.6 2.1-4 5z" color="#b8de29"/><path d="M373.3 284l3.6 10.5 3.9 13.9 4.3 17.1-4-13-3.5-9.9z" color="#8bd646"/><path d="M327.5 412.7l3.6 .6 3.9 2.5 4.3-42.2-3.9-2.8-3.6-.4z" color="#21a685"/><path d="M460.6 530.9l4.1-4.3 3.8-3.1 4.1-2.2-7.8 8.3z" color="#3d4e8a"/><path d="M229.3 517.4l7.5 4.7 4.7 5.3-7.5-6-2.5-2.5z" color="#3b518b"/><path d="M322.3 325.6l7.4-26.6 2.3-8.1 2.1-4.9-7.5 27.5-2 4.6z" color="#8bd646"/><path d="M519.4 528.8l7.6 11.5 4.1-4.4-7.5-11.5z" color="#3e4989"/><path d="M174.1 544.8l7.3-2 4.5-12.4-7.3 2z" color="#404588"/><path d="M306.3 564.1l7.6-.5 4.5 10.1-7.5 .7z" color="#472c7a"/><path d="M335 415.8l3.6 3.9 4 6.2 4.3-40.7-3.9-7.1-3.7-4.5z" color="#1fa187"/><path d="M202.2 510.5l7.5 1.5 2.4-2 2.2-1-7.5-3.2z" color="#375b8d"/><path d="M484.6 513.6l4.1-1 3.7 .1 4.1-3.9-3.7 .1-4 1.3z" color="#375a8c"/><path d="M472.6 521.3l4.1-2.9 3.8-1.6 4.1-3.2-3.7 2-4.1 3.2z" color="#3a548c"/><path d="M504.2 511.9l3.7 2.9 4 4.1 4.1-4.3-4-4-3.6-2.8zM190.3 519.2l7.4-.7 4.5-8-7.4-.5z" color="#38588c"/><path d="M511.9 518.9l7.5 9.9 4.2-4.4-7.6-9.8z" color="#3b528b"/><path d="M279.2 549.9l7.5 2.3 4.6 10.3-7.5-2.2z" color="#453781"/><path d="M365 573.6l7.6-6.3 4.4 7.3-7.7 6.4z" color="#482878"/><path d="M153.2 575.7l7.4 .9 4.6-8.9-7.4 .3z" color="#482979"/><path d="M236.8 522.1l7.5 4.6 4.8 6.4-7.6-5.7z" color="#3d4e8a"/><path d="M169.7 556.8l7.3-1.4 4.4-12.6-7.3 2z" color="#433d84"/><path d="M354.5 404.2l7.6 24.7 4.4-32.2-7.6-28.1z" color="#1fa287"/><path d="M370.9 369.1l7.5 35.4 4.4-18.3-7.5-37.8z" color="#2cb17e"/><path d="M375.3 348.4l7.5 37.8 2.3-6.8 2-4.2-7.4-38.8-2.1 4.6z" color="#3bbb75"/><path d="M338.5 283.6l4-11 3.6-7.7 2.1 2.9 2.3 6-3.6 7.4-4 10.6-2.3-5.5z" color="#c0df25"/><path d="M244.3 526.7l7.6 4.4 4.7 7.3-7.5-5.3z" color="#3e4c8a"/><path d="M165.2 567.7l7.3-.6 4.5-11.7-7.3 1.4z" color="#46337f"/><path d="M376.5 300.5l7.5 33.3 2.1 2.1 2.2 4.7-7.5-32.2-2.2-5.4z" color="#75d054"/><path d="M209.7 512l7.4 2.3 2.2-1.1 2.5-.2-7.5-4-2.2 1z" color="#375a8c"/><path d="M420.5 555.8l7.8-9.3 4.2 2.2-7.8 10.4z" color="#443b84"/><path d="M408.5 561.4l7.8-9.1 4.2 3.5-7.8 10z" color="#453781"/><path d="M185.9 530.4l7.3-1.4 4.5-10.5-7.4 .7z" color="#3b518b"/><path d="M522.8 545.1l5.4 8.4 4.1-4.8-5.3-8.4z" color="#424086"/><path d="M333.5 569.5l7.5-3.4 4.5 9.2-7.6 3.5z" color="#472a7a"/><path d="M365.7 269.5l3.6 5.6 4 8.9 4.3 18.6-4-8.4-3.6-5.2z" color="#b2dd2d"/><path d="M358.1 266.1l1.8-.2 1.8 .4 4 3.2 4.3 19.5-4-3.1-3.6-.3z" color="#c2df23"/><path d="M432.5 548.7l7.8-9.1 4.2 .8-7.9 10.2z" color="#424186"/><path d="M492.4 512.7l3.7 1.1 4 2.4 4.1-4.3-4-2.1-3.7-1z" color="#375b8d"/><path d="M396.6 565.3l7.7-8.6 4.2 4.7-7.7 9.3z" color="#46337f"/><path d="M286.7 552.2l7.5 1.4 4.6 10.2-7.5-1.3z" color="#453882"/><path d="M197.7 518.5l7.4 .1 4.6-6.6-7.5-1.5z" color="#38598c"/><path d="M313.9 563.6l7.5-1.4 4.5 9.9-7.5 1.6z" color="#472f7d"/><path d="M251.9 531.1l7.5 4 4.7 7.9-7.5-4.6z" color="#3f4889"/><path d="M444.5 540.4l7.8-8 4.2-.7-7.9 9.3z" color="#3e4989"/><path d="M515.3 533.5l7.5 11.6 4.2-4.8-7.6-11.5z" color="#3f4889"/><path d="M353 570.8l7.7-5.3 4.3 8.1-7.6 5.5z" color="#472c7a"/><path d="M181.4 542.8l7.4-1.6 4.4-12.2-7.3 1.4z" color="#3e4989"/><path d="M160.6 576.6l7.4 .5 4.5-10-7.3 .6z" color="#472d7b"/><path d="M217.1 514.3l7.5 2.9 2.2-.4 2.5 .6-7.5-4.4-2.5 .2z" color="#38598c"/><path d="M500.1 516.2l3.6 3 4 4.3 4.2-4.6-4-4.1-3.7-2.9z" color="#38588c"/><path d="M384.6 567.2l7.7-7.7 4.3 5.8-7.7 8.3z" color="#46327e"/><path d="M507.7 523.5l7.6 10 4.1-4.7-7.5-9.9z" color="#3b518b"/><path d="M456.5 531.7l4.1-3.7 3.7-2.5 4.2-2-3.8 3.1-4.1 4.3z" color="#3c508b"/><path d="M480.5 516.8l3.7-.6 4 .4 4.2-3.9-3.7-.1-4.1 1z" color="#375a8c"/><path d="M177 555.4l7.3-1.4 4.5-12.8-7.4 1.6z" color="#424086"/><path d="M468.5 523.5l4.1-2.4 3.7-1.2 4.2-3.1-3.8 1.6-4.1 2.9z" color="#39568c"/><path d="M324.2 375.6l4-3.7 3.6-1.5 4.3-39.5-3.6 1.9-4 4.5z" color="#4ac16d"/><path d="M321 352.5l4-9 3.5-6.2 4.4-32.5-3.6 7-4 10z" color="#6ccd5a"/><path d="M259.4 535.1l7.6 3.5 4.6 8.3-7.5-3.9z" color="#3f4788"/><path d="M172.5 567.1l7.3-.8 4.5-12.3-7.3 1.4z" color="#453882"/><path d="M193.2 529l7.4-.8 4.5-9.6-7.4-.1z" color="#3a548c"/><path d="M294.2 553.6l7.6 .6 4.5 9.9-7.5-.3z" color="#443983"/><path d="M224.6 517.2l7.5 3.2 2.3 .3 2.4 1.4-7.5-4.7-2.5-.6z" color="#38588c"/><path d="M346.9 385.2l3.7 8.2 3.9 10.8 4.4-35.6-4-12.2-3.6-9.3z" color="#31b57b"/><path d="M205.1 518.6l7.4 .9 2.4-3.2 2.2-2-7.4-2.3z" color="#375a8c"/><path d="M372.6 567.3l7.7-6.7 4.3 6.6-7.6 7.4z" color="#46327e"/><path d="M518.7 550.3l5.4 8.4 4.1-5.2-5.4-8.4z" color="#423f85"/><path d="M358.9 368.6l7.6 28.1 4.4-27.6-7.6-30.8z" color="#3aba76"/><path d="M488.2 516.6l3.7 1.4 4 2.7 4.2-4.5-4-2.4-3.7-1.1z" color="#375b8d"/><path d="M168 577.1l7.3 .2 4.5-11-7.3 .8z" color="#472f7d"/><path d="M267 538.6l7.5 2.9 4.7 8.4-7.6-3z" color="#404688"/><path d="M511.1 538.7l7.6 11.6 4.1-5.2-7.5-11.6z" color="#3f4889"/><path d="M341 566.1l7.6-3.9 4.4 8.6-7.5 4.5z" color="#46327e"/><path d="M188.8 541.2l7.3-1.2 4.5-11.8-7.4 .8z" color="#3d4e8a"/><path d="M321.4 562.2l7.6-2.1 4.5 9.4-7.6 2.6z" color="#463480"/><path d="M232.1 520.4l7.6 3.5 2.2 .8 2.4 2-7.5-4.6-2.4-1.4z" color="#39568c"/><path d="M334.1 286l3.9-11.1 3.6-7.8 2.2-2.5 1-.2 1.3 .5-3.6 7.7-4 11-1.2-.4-1.1 .3z" color="#d0e11c"/><path d="M503.6 528.4l7.5 10.3 4.2-5.2-7.6-10z" color="#3b518b"/><path d="M495.9 520.7l7.7 7.7 4.1-4.9-4-4.3-3.6-3z" color="#38588c"/><path d="M372.2 302.9l7.5 33.5 2.1-2.4 1-.4 1.2 .2-7.5-33.3-1.2-.4-1.1 .3z" color="#84d44b"/><path d="M184.3 554l7.4-1.2 4.4-12.8-7.3 1.2z" color="#404588"/><path d="M331.8 370.4l3.6 .4 3.9 2.8 4.4-39.4-4-2.9-3.6-.4z" color="#50c46a"/><path d="M476.3 519.9l3.7-.2 4 1 4.2-4.1-4-.4-3.7 .6z" color="#375a8c"/><path d="M212.5 519.5l7.5 1.5 2.4-2.5 2.2-1.3-7.5-2.9-2.2 2z" color="#375b8d"/><path d="M339.3 373.6l3.7 4.5 3.9 7.1 4.4-38.1-4-7.9-3.6-5z" color="#46c06f"/><path d="M428.3 546.5l7.8-7.6 4.2 .7-7.8 9.1z" color="#3f4889"/><path d="M360.7 565.5l7.6-5.5 4.3 7.3-7.6 6.3z" color="#453581"/><path d="M416.3 552.3l7.8-8 4.2 2.2-7.8 9.3z" color="#414287"/><path d="M200.6 528.2l7.4-.2 4.5-8.5-7.4-.9z" color="#39568c"/><path d="M301.8 554.2l7.5-.1 4.6 9.5-7.6 .5z" color="#443b84"/><path d="M440.3 539.6l7.8-6.6 4.2-.6-7.8 8z" color="#3d4e8a"/><path d="M368.9 275.2l3.7 10.9 3.9 14.4 2.1 2.5 2.2 5.4-3.9-13.9-3.6-10.5-2.3-5.9z" color="#b2dd2d"/><path d="M179.8 566.3l7.4-.7 4.5-12.8-7.4 1.2z" color="#443b84"/><path d="M464.3 525.5l4.1-1.8 3.7-.6 4.2-3.2-3.7 1.2-4.1 2.4z" color="#38588c"/><path d="M346.1 264.9l3.9-5.7 3.7-2.5 2.1 3.1 2.3 6.3-3.7 2.3-3.9 5.4-2.3-6z" color="#e2e418"/><path d="M452.3 532.4l4.1-3 3.7-1.9 4.2-2-3.7 2.5-4.1 3.7z" color="#3a538b"/><path d="M404.3 556.7l7.7-7.8 4.3 3.4-7.8 9.1z" color="#423f85"/><path d="M239.7 523.9l7.5 3.4 2.2 1.3 2.5 2.5-7.6-4.4-2.4-2z" color="#3a548c"/><path d="M274.5 541.5l7.5 2.2 4.7 8.5-7.5-2.3z" color="#404688"/><path d="M325.3 321.8l4-10 3.6-7 4.3-24.1-3.6 7.5-3.9 10.8z" color="#a2da37"/><path d="M514.5 555.9l5.4 8.3 4.2-5.5-5.4-8.4z" color="#433e85"/><path d="M363.3 338.3l7.6 30.8 4.4-20.7-7.5-32.6z" color="#5ec962"/><path d="M175.3 577.3l7.4 .1 4.5-11.8-7.4 .7z" color="#46327e"/><path d="M392.3 559.5l7.7-7.3 4.3 4.5-7.7 8.6z" color="#433d84"/><path d="M329.7 299l3.9-10.8 3.6-7.5 2.3-8.5 2.1-5.1-3.6 7.8-3.9 11.1-2.1 4.9z" color="#c5e021"/><path d="M196.1 540l7.4-.8 4.5-11.2-7.4 .2z" color="#3c508b"/><path d="M507 544.3l7.5 11.6 4.2-5.6-7.6-11.6z" color="#404688"/><path d="M484 520.7l3.7 1.8 4 3 4.2-4.8-4-2.7-3.7-1.4z" color="#375a8c"/><path d="M367.8 315.8l7.5 32.6 2.3-7.4 2.1-4.6-7.5-33.5-2.1 4.9z" color="#7ad151"/><path d="M220 521l7.5 1.9 2.4-1.8 2.2-.7-7.5-3.2-2.2 1.3z" color="#375b8d"/><path d="M247.2 527.3l7.5 3.3 2.3 1.6 2.4 2.9-7.5-4-2.5-2.5z" color="#3a538b"/><path d="M329 560.1l7.6-2.6 4.4 8.6-7.5 3.4z" color="#443a83"/><path d="M499.4 533.7l7.6 10.6 4.1-5.6-7.5-10.3z" color="#3c4f8a"/><path d="M491.7 525.5l7.7 8.2 4.2-5.3-7.7-7.7z" color="#39568c"/><path d="M191.7 552.8l7.4-.8 4.4-12.8-7.4 .8z" color="#3f4889"/><path d="M208 528l7.5 .5 4.5-7.5-7.5-1.5z" color="#38598c"/><path d="M282 543.7l7.6 1.7 4.6 8.2-7.5-1.4z" color="#404688"/><path d="M380.3 560.6l7.7-6.5 4.3 5.4-7.7 7.7z" color="#433d84"/><path d="M348.6 562.2l7.7-4.3 4.4 7.6-7.7 5.3z" color="#443a83"/><path d="M328.5 337.3l4-4.5 3.6-1.9 4.4-33.4-3.7 2.2-3.9 5.1z" color="#8bd646"/><path d="M309.3 554.1l7.6-.7 4.5 8.8-7.5 1.4zM187.2 565.6l7.4-.5 4.5-13.1-7.4 .8z" color="#423f85"/><path d="M472.1 523.1l3.7 .4 4 1.4 4.2-4.2-4-1-3.7 .2z" color="#375b8d"/><path d="M351.3 347.1l3.6 9.3 4 12.2 4.4-30.3-3.9-13.3-3.7-10.1z" color="#63cb5f"/><path d="M361.3 260.2l3.6 5.8 4 9.2 2.1 2.9 2.3 5.9-4-8.9-3.6-5.6-2.3-6.2z" color="#dde318"/><path d="M254.7 530.6l7.6 3 2.2 1.9 2.5 3.1-7.6-3.5-2.4-2.9z" color="#3b528b"/><path d="M353.7 256.7l1.8-.2 1.8 .4 1.8 1.1 2.2 2.2 2.1 3.1 2.3 6.2-4-3.2-1.8-.4-1.8 .2-2.3-6.3z" color="#ece51b"/><path d="M227.5 522.9l7.5 2.4 2.4-1.3 2.3-.1-7.6-3.5-2.2 .7z" color="#375a8c"/><path d="M510.3 561.9l5.4 8.1 4.2-5.8-5.4-8.3z" color="#443b84"/><path d="M182.7 577.4l7.4 0 4.5-12.3-7.4 .5z" color="#453581"/><path d="M460.1 527.5l4.1-1 3.7 .1 4.2-3.5-3.7 .6-4.1 1.8z" color="#38598c"/><path d="M203.5 539.2l7.5-.2 4.5-10.5-7.5-.5z" color="#3a538b"/><path d="M502.8 550.3l7.5 11.6 4.2-6-7.5-11.6z" color="#404588"/><path d="M368.3 560l7.7-5.4 4.3 6-7.7 6.7z" color="#423f85"/><path d="M448.1 533l4.1-2.1 3.7-1.1 4.2-2.3-3.7 1.9-4.1 3z" color="#39558c"/><path d="M436.1 538.9l4.1-3 3.7-1.9 4.2-1-7.8 6.6z" color="#3b518b"/><path d="M215.5 528.5l7.4 1 4.6-6.6-7.5-1.9z" color="#375a8c"/><path d="M289.6 545.4l7.6 1 4.6 7.8-7.6-.6z" color="#3f4788"/><path d="M479.8 524.9l3.7 2.3 4 3.4 4.2-5.1-4-3-3.7-1.8z" color="#375a8c"/><path d="M424.1 544.3l7.7-5.8 4.3 .4-7.8 7.6zM495.2 539.4l7.6 10.9 4.2-6-7.6-10.6z" color="#3d4e8a"/><path d="M262.3 533.6l7.5 2.7 2.3 2 2.4 3.2-7.5-2.9-2.5-3.1z" color="#3b518b"/><path d="M199.1 552l7.4-.4 4.5-12.6-7.5 .2z" color="#3e4c8a"/><path d="M235 525.3l7.6 2.5 2.2-.8 2.4 .3-7.5-3.4-2.3 .1z" color="#375a8c"/><path d="M412 548.9l7.8-6.2 4.3 1.6-7.8 8z" color="#3e4a89"/><path d="M487.5 530.6l7.7 8.8 4.2-5.7-7.7-8.2z" color="#39558c"/><path d="M364.6 277.5l3.6 10.9 4 14.5 2-2.5 1.1-.3 1.2 .4-3.9-14.4-3.7-10.9-1.2-.5-1.1 .3z" color="#c2df23"/><path d="M341.6 267.1l4-5.7 3.7-2.5 2.1-2.5 1-.2 1.3 .5-3.7 2.5-3.9 5.7-1.3-.5-1 .2z" color="#f4e61e"/><path d="M336.6 557.5l7.6-2.8 4.4 7.5-7.6 3.9z" color="#424086"/><path d="M336.1 330.9l3.6 .4 4 2.9 4.4-33.3-4-3.1-1.8-.5-1.8 .2z" color="#93d741"/><path d="M194.6 565.1l7.4-.3 4.5-13.2-7.4 .4z" color="#424186"/><path d="M343.7 334.2l3.6 5 4 7.9 4.4-32.2-4-8.6-3.6-5.4z" color="#84d44b"/><path d="M316.9 553.4l7.6-1.1 4.5 7.8-7.6 2.1z" color="#414287"/><path d="M400 552.2l7.8-6.1 4.2 2.8-7.7 7.8z" color="#3f4889"/><path d="M506.1 568.3l5.4 7.9 4.2-6.2-5.4-8.1z" color="#443983"/><path d="M467.9 526.6l3.7 .9 4 2.1 4.2-4.7-4-1.4-3.7-.4z" color="#375b8d"/><path d="M190.1 577.4l7.5 .2 4.4-12.8-7.4 .3z" color="#453882"/><path d="M332.9 304.8l3.9-5.1 3.7-2.2 4.3-24.6-3.6 2.3-4 5.5z" color="#c5e021"/><path d="M211 539l7.4 .3 4.5-9.8-7.4-1z" color="#39558c"/><path d="M356.3 557.9l7.6-4.2 4.4 6.3-7.6 5.5z" color="#424186"/><path d="M355.7 314.9l3.7 10.1 3.9 13.3 4.5-22.5-4-14.1-3.7-10.7z" color="#95d840"/><path d="M222.9 529.5l7.5 1.4 2.4-3.5 2.2-2.1-7.5-2.4z" color="#375a8c"/><path d="M242.6 527.8l7.5 2.6 2.2-.5 2.4 .7-7.5-3.3-2.4-.3z" color="#38598c"/><path d="M269.8 536.3l7.6 2.3 2.2 2 2.4 3.1-7.5-2.2-2.4-3.2z" color="#3b518b"/><path d="M498.5 556.8l7.6 11.5 4.2-6.4-7.5-11.6z" color="#414287"/><path d="M388 554.1l7.7-5.5 4.3 3.6-7.7 7.3z" color="#3f4788"/><path d="M297.2 546.4l7.6 .6 4.5 7.1-7.5 .1z" color="#3e4989"/><path d="M360.1 291l3.7 10.7 4 14.1 2.3-8 2.1-4.9-4-14.5-3.6-10.9-2.1 5.1z" color="#b8de29"/><path d="M455.9 529.8l3.7-.2 4.1 .8 4.2-3.8-3.7-.1-4.1 1z" color="#375a8c"/><path d="M337.2 280.7l4-5.5 3.6-2.3 2.4-8.8 2.1-5.2-3.7 2.5-4 5.7-2.1 5.1z" color="#eae51a"/><path d="M490.9 545.7l7.6 11.1 4.3-6.5-7.6-10.9z" color="#3e4c8a"/><path d="M206.5 551.6l7.5 0 4.4-12.3-7.4-.3z" color="#3d4e8a"/><path d="M475.6 529.6l3.7 2.7 4 3.9 4.2-5.6-4-3.4-3.7-2.3z" color="#38598c"/><path d="M483.3 536.2l7.6 9.5 4.3-6.3-7.7-8.8z" color="#3a538b"/><path d="M443.9 534l4.1-1.2 3.7-.2 4.2-2.8-3.7 1.1-4.1 2.1z" color="#38588c"/><path d="M202 564.8l7.5 .1 4.5-13.3-7.5 0z" color="#404588"/><path d="M356.9 262.4l3.7 5.8 4 9.3 2-2.5 1.1-.3 1.2 .5-4-9.2-3.6-5.8-1.2-.5-1.1 .2z" color="#ece51b"/><path d="M250.1 530.4l7.6 2.5 2.2-.2 2.4 .9-7.6-3-2.4-.7z" color="#38598c"/><path d="M376 554.6l7.7-4.7 4.3 4.2-7.7 6.5z" color="#3f4788"/><path d="M349.3 258.9l1.8-.2 1.8 .4 1.8 1.1 2.2 2.2 2.1-2.5 1.1-.2 1.2 .5-2.2-2.2-1.8-1.1-1.8-.4-1.8 .2-1.3-.5-1 .2z" color="#fde725"/><path d="M230.4 530.9l7.6 1.7 2.4-3 2.2-1.8-7.6-2.5-2.2 2.1z" color="#375b8d"/><path d="M501.9 575l5.4 7.5 4.2-6.3-5.4-7.9z" color="#453781"/><path d="M277.4 538.6l7.6 1.9 2.2 1.8 2.4 3.1-7.6-1.7-2.4-3.1z" color="#3b518b"/><path d="M218.4 539.3l7.5 .8 4.5-9.2-7.5-1.4z" color="#39568c"/><path d="M431.8 538.5l4.1-1.9 3.7-.9 4.3-1.7-3.7 1.9-4.1 3z" color="#39558c"/><path d="M324.5 552.3l7.6-1.4 4.5 6.6-7.6 2.6z" color="#3f4788"/><path d="M197.6 577.6l7.4 .4 4.5-13.1-7.5-.1z" color="#443a83"/><path d="M344.2 554.7l7.7-2.8 4.4 6-7.7 4.3z" color="#3f4788"/><path d="M494.3 563.7l7.6 11.3 4.2-6.7-7.6-11.5z" color="#423f85"/><path d="M419.8 542.7l4.1-2.3 3.7-1.4 4.2-.5-7.7 5.8z" color="#3b528b"/><path d="M348.1 300.9l3.6 5.4 4 8.6 4.4-23.9-4-9-3.6-5.7z" color="#c0df25"/><path d="M340.5 297.5l1.8-.2 1.8 .5 4 3.1 4.4-24.6-2.2-2.1-1.8-1.1-1.8-.5-1.9 .3z" color="#d0e11c"/><path d="M463.7 530.4l3.6 1.6 4.1 2.8 4.2-5.2-4-2.1-3.7-.9z" color="#375b8d"/><path d="M304.8 547l7.6 .2 4.5 6.2-7.6 .7z" color="#3e4c8a"/><path d="M214 551.6l7.4 .4 4.5-11.9-7.5-.8z" color="#3c508b"/><path d="M486.7 552.4l7.6 11.3 4.2-6.9-7.6-11.1z" color="#3e4989"/><path d="M407.8 546.1l7.7-4 4.3 .6-7.8 6.2z" color="#3c508b"/><path d="M257.7 532.9l7.5 2.5 2.2-.1 2.4 1-7.5-2.7-2.4-.9z" color="#38588c"/><path d="M363.9 553.7l7.7-3.6 4.4 4.5-7.7 5.4z" color="#3e4989"/><path d="M471.4 534.8l7.7 7.6 4.2-6.2-4-3.9-3.7-2.7z" color="#38588c"/><path d="M352.5 276.3l3.6 5.7 4 9 2.4-8.4 2.1-5.1-4-9.3-3.7-5.8-2.1 5.2z" color="#e2e418"/><path d="M238 532.6l7.5 2 2.4-2.8 2.2-1.4-7.5-2.6-2.2 1.8z" color="#375b8d"/><path d="M479.1 542.4l7.6 10 4.2-6.7-7.6-9.5z" color="#3b518b"/><path d="M344.8 272.9l1.9-.3 1.8 .5 1.8 1.1 2.2 2.1 2.3-8.7 2.1-5.2-2.2-2.2-1.8-1.1-1.8-.4-1.8 .2-2.1 5.2z" color="#f4e61e"/><path d="M209.5 564.9l7.5 .4 4.4-13.3-7.4-.4z" color="#3f4788"/><path d="M285 540.5l7.6 1.6 2.2 1.6 2.4 2.7-7.6-1-2.4-3.1z" color="#3b528b"/><path d="M451.7 532.6l3.7 .6 4 1.7 4.3-4.5-4.1-.8-3.7 .2z" color="#375b8d"/><path d="M225.9 540.1l7.5 1.2 4.6-8.7-7.6-1.7z" color="#38588c"/><path d="M395.7 548.6l7.8-3.9 4.3 1.4-7.8 6.1z" color="#3c4f8a"/><path d="M497.7 581.9l5.4 7.1 4.2-6.5-5.4-7.5z" color="#463480"/><path d="M205 578l7.5 .7 4.5-13.4-7.5-.4zM490 570.9l7.7 11 4.2-6.9-7.6-11.3z" color="#433d84"/><path d="M439.6 535.7l4.1-.2 3.7 .7 4.3-3.6-3.7 .2-4.1 1.2z" color="#375a8c"/><path d="M332.1 550.9l7.7-1.4 4.4 5.2-7.6 2.8z" color="#3e4c8a"/><path d="M265.2 535.4l7.6 2.3 2.2-.1 2.4 1-7.6-2.3-2.4-1z" color="#38588c"/><path d="M312.4 547.2l7.6 0 4.5 5.1-7.6 1.1z" color="#3c4f8a"/><path d="M221.4 552l7.5 .9 4.5-11.6-7.5-1.2z" color="#3b518b"/><path d="M245.5 534.6l7.6 2.1 2.4-2.5 2.2-1.3-7.6-2.5-2.2 1.4z" color="#375b8d"/><path d="M482.4 559.6l7.6 11.3 4.3-7.2-7.6-11.3z" color="#404688"/><path d="M459.4 534.9l3.7 2.3 4 3.4 4.3-5.8-4.1-2.8-3.6-1.6z" color="#375a8c"/><path d="M383.7 549.9l7.7-3.4 4.3 2.1-7.7 5.5z" color="#3c4f8a"/><path d="M351.9 551.9l7.6-2.4 4.4 4.2-7.6 4.2z" color="#3d4d8a"/><path d="M427.6 539l4.1-.8 3.7 .1 4.2-2.6-3.7 .9-4.1 1.9z" color="#38588c"/><path d="M474.8 549.1l7.6 10.5 4.3-7.2-7.6-10z" color="#3c4f8a"/><path d="M233.4 541.3l7.6 1.5 4.5-8.2-7.5-2z" color="#38598c"/><path d="M292.6 542.1l7.6 1.4 2.2 1.2 2.4 2.3-7.6-.6-2.4-2.7z" color="#3a538b"/><path d="M467.1 540.6l7.7 8.5 4.3-6.7-7.7-7.6z" color="#39558c"/><path d="M217 565.3l7.5 .8 4.4-13.2-7.5-.9z" color="#3f4889"/><path d="M212.5 578.7l7.5 1 4.5-13.6-7.5-.8z" color="#423f85"/><path d="M493.4 589l5.5 6.5 4.2-6.5-5.4-7.1z" color="#46327e"/><path d="M415.5 542.1l4.1-1.1 3.7-.4 4.3-1.6-3.7 1.4-4.1 2.3z" color="#39568c"/><path d="M272.8 537.7l7.6 2.3 2.2-.3 2.4 .8-7.6-1.9-2.4-1z" color="#38598c"/><path d="M485.8 578.5l7.6 10.5 4.3-7.1-7.7-11z" color="#443983"/><path d="M447.4 536.2l3.7 1.5 4 2.4 4.3-5.2-4-1.7-3.7-.6z" color="#375b8d"/><path d="M371.6 550.1l7.7-2.6 4.4 2.4-7.7 4.7z" color="#3c508b"/><path d="M253.1 536.7l7.5 2.3 2.4-2.4 2.2-1.2-7.5-2.5-2.2 1.3z" color="#375b8d"/><path d="M228.9 552.9l7.6 1.3 4.5-11.4-7.6-1.5z" color="#3b528b"/><path d="M478.1 567.4l7.7 11.1 4.2-7.6-7.6-11.3z" color="#414287"/><path d="M403.5 544.7l7.7-1.8 4.3-.8-7.7 4z" color="#39558c"/><path d="M320 547.2l7.6 .1 2.2 1.3 2.3 2.3-7.6 1.4z" color="#3b518b"/><path d="M241 542.8l7.5 1.9 4.6-8-7.6-2.1z" color="#38598c"/><path d="M339.8 549.5l7.6-1 2.1 1.2 2.4 2.2-7.7 2.8z" color="#3c508b"/><path d="M455.1 540.1l7.7 7.1 4.3-6.6-4-3.4-3.7-2.3z" color="#38598c"/><path d="M470.5 556.5l7.6 10.9 4.3-7.8-7.6-10.5z" color="#3e4c8a"/><path d="M300.2 543.5l7.6 1.2 2.2 .7 2.4 1.8-7.6-.2-2.4-2.3z" color="#3a548c"/><path d="M224.5 566.1l7.5 1.2 4.5-13.1-7.6-1.3z" color="#3e4a89"/><path d="M435.4 538.3l3.7 .7 4 1.7 4.3-4.5-3.7-.7-4.1 .2z" color="#375b8d"/><path d="M462.8 547.2l7.7 9.3 4.3-7.4-7.7-8.5z" color="#3a538b"/><path d="M220 579.7l7.5 1.3 4.5-13.7-7.5-1.2z" color="#424086"/><path d="M280.4 540l7.6 2.1 2.2-.6 2.4 .6-7.6-1.6-2.4-.8z" color="#38598c"/><path d="M359.5 549.5l7.7-1.5 2.1 .7 2.3 1.4-7.7 3.6z" color="#3b528b"/><path d="M391.4 546.5l7.7-1.6 4.4-.2-7.8 3.9z" color="#39558c"/><path d="M260.6 539l7.6 2.4 2.4-2.5 2.2-1.2-7.6-2.3-2.2 1.2z" color="#375b8d"/><path d="M489.1 596.1l5.5 5.8 4.3-6.4-5.5-6.5z" color="#472e7c"/><path d="M481.5 586.3l7.6 9.8 4.3-7.1-7.6-10.5z" color="#453581"/><path d="M236.5 554.2l7.5 1.6 4.5-11.1-7.5-1.9z" color="#3a538b"/><path d="M423.3 540.6l4.1 .4 3.7 1.1 4.3-3.8-3.7-.1-4.1 .8z" color="#375a8c"/><path d="M473.8 575.5l7.7 10.8 4.3-7.8-7.7-11.1z" color="#433e85"/><path d="M248.5 544.7l7.6 2.1 4.5-7.8-7.5-2.3z" color="#38598c"/><path d="M443.1 540.7l7.7 5.6 4.3-6.2-4-2.4-3.7-1.5z" color="#375a8c"/><path d="M466.2 564.5l7.6 11 4.3-8.1-7.6-10.9z" color="#3f4788"/><path d="M379.3 547.5l7.8-1 4.3 0-7.7 3.4z" color="#39558c"/><path d="M232 567.3l7.6 1.7 4.4-13.2-7.5-1.6z" color="#3e4a89"/><path d="M327.6 547.3l7.7 .3 2.1 .5 2.4 1.4-7.7 1.4-2.3-2.3z" color="#3a548c"/><path d="M307.8 544.7l7.7 1.3 2.1 .1 2.4 1.1-7.6 0-2.4-1.8z" color="#39568c"/><path d="M411.2 542.9l4.1 .1 3.7 .7 4.3-3.1-3.7 .4-4.1 1.1z" color="#375a8c"/><path d="M450.8 546.3l7.7 8.2 4.3-7.3-7.7-7.1z" color="#39568c"/><path d="M458.5 554.5l7.7 10 4.3-8-7.7-9.3z" color="#3c508b"/><path d="M268.2 541.4l7.6 2.5 2.4-2.6 2.2-1.3-7.6-2.3-2.2 1.2z" color="#375b8d"/><path d="M288 542.1l7.6 2.1 2.2-.9 2.4 .2-7.6-1.4-2.4-.6z" color="#38598c"/><path d="M227.5 581l7.6 1.6 4.5-13.6-7.6-1.7z" color="#424186"/><path d="M347.4 548.5l7.7-.4 2.1 .3 2.3 1.1-7.6 2.4-2.4-2.2z" color="#3a548c"/><path d="M244 555.8l7.6 2.1 4.5-11.1-7.6-2.1z" color="#3a538b"/><path d="M477.2 594.2l7.7 8.8 4.2-6.9-7.6-9.8z" color="#46327e"/><path d="M431.1 542.1l3.7 1.7 4 2.7 4.3-5.8-4-1.7-3.7-.7z" color="#375b8d"/><path d="M484.9 603l5.5 5 4.2-6.1-5.5-5.8z" color="#472c7a"/><path d="M256.1 546.8l7.6 2.4 4.5-7.8-7.6-2.4z" color="#38598c"/><path d="M469.5 583.9l7.7 10.3 4.3-7.9-7.7-10.8z" color="#443a83"/><path d="M399.1 544.9l7.8 .6 4.3-2.6-7.7 1.8z" color="#38598c"/><path d="M367.2 548l7.7-.3 2.1-.4 2.3 .2-7.7 2.6-2.3-1.4z" color="#39568c"/><path d="M461.9 573.1l7.6 10.8 4.3-8.4-7.6-11z" color="#414487"/><path d="M239.6 569l7.5 2 4.5-13.1-7.6-2.1z" color="#3e4c8a"/><path d="M438.8 546.5l7.7 7 4.3-7.2-7.7-5.6z" color="#38588c"/><path d="M275.8 543.9l7.7 2.6 2.3-2.9 2.2-1.5-7.6-2.1-2.2 1.3z" color="#375b8d"/><path d="M454.2 562.7l7.7 10.4 4.3-8.6-7.7-10z" color="#3e4c8a"/><path d="M295.6 544.2l7.7 2.2 2.4-1.4 2.1-.3-7.6-1.2-2.4-.2z" color="#375a8c"/><path d="M315.5 546l7.6 1.5 2.2-.6 2.3 .4-7.6-.1-2.4-1.1z" color="#38588c"/><path d="M419 543.7l3.7 1.4 4 2.2 4.4-5.2-3.7-1.1-4.1-.4z" color="#375b8d"/><path d="M235.1 582.6l7.6 2.1 4.4-13.7-7.5-2z" color="#424186"/><path d="M446.5 553.5l7.7 9.2 4.3-8.2-7.7-8.2z" color="#3a538b"/><path d="M335.3 547.6l7.7 .8 2.1-.4 2.3 .5-7.6 1-2.4-1.4z" color="#38588c"/><path d="M387.1 546.5l7.7 .8 4.3-2.4-7.7 1.6z" color="#38598c"/><path d="M251.6 557.9l7.6 2.4 4.5-11.1-7.6-2.4z" color="#3a538b"/><path d="M263.7 549.2l7.6 2.7 4.5-8-7.6-2.5z" color="#38598c"/><path d="M355.1 548.1l7.7 .7 2.1-.8 2.3 0-7.7 1.5-2.3-1.1z" color="#38588c"/><path d="M472.9 601.9l7.7 7.7 4.3-6.6-7.7-8.8z" color="#472e7c"/><path d="M465.2 592.5l7.7 9.4 4.3-7.7-7.7-10.3z" color="#453581"/><path d="M480.6 609.6l5.5 4.2 4.3-5.8-5.5-5z" color="#482979"/><path d="M406.9 545.5l7.7 3.1 4.4-4.9-3.7-.7-4.1-.1z" color="#375b8d"/><path d="M457.5 582.1l7.7 10.4 4.3-8.6-7.6-10.8z" color="#433e85"/><path d="M247.1 571l7.6 2.4 4.5-13.1-7.6-2.4z" color="#3e4c8a"/><path d="M426.7 547.3l7.8 6.1 4.3-6.9-4-2.7-3.7-1.7z" color="#38598c"/><path d="M283.5 546.5l7.6 2.7 2.4-3.1 2.1-1.9-7.6-2.1-2.2 1.5z" color="#375b8d"/><path d="M374.9 547.7l7.8 1.3 4.4-2.5-7.8 1-2.3-.2z" color="#375a8c"/><path d="M449.9 571.5l7.6 10.6 4.4-9-7.7-10.4z" color="#3f4788"/><path d="M242.7 584.7l7.6 2.5 4.4-13.8-7.6-2.4z" color="#424186"/><path d="M303.3 546.4l7.6 2.5 2.4-2.1 2.2-.8-7.7-1.3-2.1 .3z" color="#375b8d"/><path d="M434.5 553.4l7.7 8.3 4.3-8.2-7.7-7z" color="#39558c"/><path d="M442.2 561.7l7.7 9.8 4.3-8.8-7.7-9.2z" color="#3c4f8a"/><path d="M323.1 547.5l7.7 1.9 2.1-1.3 2.4-.5-7.7-.3-2.3-.4z" color="#375a8c"/><path d="M259.2 560.3l7.6 2.8 4.5-11.2-7.6-2.7z" color="#3a538b"/><path d="M271.3 551.9l7.7 2.9 4.5-8.3-7.7-2.6z" color="#38598c"/><path d="M343 548.4l7.7 1.7 2.1-1.4 2.3-.6-7.7 .4-2.3-.5z" color="#375a8c"/><path d="M394.8 547.3l7.7 2.9 4.4-4.7-7.8-.6z" color="#375b8d"/><path d="M414.6 548.6l7.8 5.4 4.3-6.7-4-2.2-3.7-1.4z" color="#375a8c"/><path d="M460.9 601l7.7 8.3 4.3-7.4-7.7-9.4z" color="#46327e"/><path d="M254.7 573.4l7.6 2.9 4.5-13.2-7.6-2.8z" color="#3e4c8a"/><path d="M453.2 591.2l7.7 9.8 4.3-8.5-7.7-10.4z" color="#443983"/><path d="M468.6 609.3l7.7 6.5 4.3-6.2-7.7-7.7z" color="#472a7a"/><path d="M362.8 548.8l7.7 1.9 2.1-1.8 2.3-1.2-7.7 .3-2.3 0z" color="#375a8c"/><path d="M291.1 549.2l7.7 3.1 2.3-3.6 2.2-2.3-7.7-2.2-2.1 1.9z" color="#375b8d"/><path d="M445.5 580.9l7.7 10.3 4.3-9.1-7.6-10.6zM250.3 587.2l7.6 2.8 4.4-13.7-7.6-2.9z" color="#424186"/><path d="M422.4 554l7.7 7.6 4.4-8.2-7.8-6.1z" color="#39568c"/><path d="M310.9 548.9l7.7 2.8 2.4-2.7 2.1-1.5-7.6-1.5-2.2 .8z" color="#375b8d"/><path d="M266.8 563.1l7.7 3.2 4.5-11.5-7.7-2.9z" color="#3a538b"/><path d="M476.3 615.8l5.6 3.2 4.2-5.2-5.5-4.2z" color="#482677"/><path d="M437.8 570.8l7.7 10.1 4.4-9.4-7.7-9.8z" color="#3e4a89"/><path d="M279 554.8l7.6 3.3 4.5-8.9-7.6-2.7z" color="#38588c"/><path d="M382.7 549l7.7 3 4.4-4.7-7.7-.8z" color="#375b8d"/><path d="M430.1 561.6l7.7 9.2 4.4-9.1-7.7-8.3z" color="#3b518b"/><path d="M330.8 549.4l7.7 2.6 2.3-2.3 2.2-1.3-7.7-.8-2.4 .5z" color="#375b8d"/><path d="M402.5 550.2l7.8 5 4.3-6.6-7.7-3.1z" color="#375a8c"/><path d="M262.3 576.3l7.7 3.3 4.5-13.3-7.7-3.2z" color="#3e4a89"/><path d="M350.7 550.1l7.7 2.7 4.4-4-7.7-.7-2.3 .6z" color="#375b8d"/><path d="M298.8 552.3l7.6 3.4 4.5-6.8-7.6-2.5-2.2 2.3z" color="#375a8c"/><path d="M448.8 600.4l7.7 8.7 4.4-8.1-7.7-9.8z" color="#463480"/><path d="M456.5 609.1l7.8 7.2 4.3-7-7.7-8.3z" color="#472d7b"/><path d="M257.9 590l7.6 3.2 4.5-13.6-7.7-3.3z" color="#424186"/><path d="M441.1 590.6l7.7 9.8 4.4-9.2-7.7-10.3z" color="#433d84"/><path d="M370.5 550.7l7.8 3.4 4.4-5.1-7.8-1.3-2.3 1.2z" color="#375b8d"/><path d="M410.3 555.2l7.7 7 4.4-8.2-7.8-5.4z" color="#38588c"/><path d="M274.5 566.3l7.6 3.6 4.5-11.8-7.6-3.3z" color="#3b528b"/><path d="M286.6 558.1l7.7 3.7 4.5-9.5-7.7-3.1z" color="#38588c"/><path d="M433.4 580.5l7.7 10.1 4.4-9.7-7.7-10.1z" color="#404588"/><path d="M390.4 552l7.7 4.9 4.4-6.7-7.7-2.9z" color="#375a8c"/><path d="M318.6 551.7l7.7 3.4 4.5-5.7-7.7-1.9-2.1 1.5z" color="#375b8d"/><path d="M464.3 616.3l7.7 5 4.3-5.5-7.7-6.5z" color="#482878"/><path d="M418 562.2l7.7 8.6 4.4-9.2-7.7-7.6z" color="#3b528b"/><path d="M425.7 570.8l7.7 9.7 4.4-9.7-7.7-9.2z" color="#3d4d8a"/><path d="M338.5 552l7.7 3.4 4.5-5.3-7.7-1.7-2.2 1.3z" color="#375b8d"/><path d="M270 579.6l7.6 3.6 4.5-13.3-7.6-3.6z" color="#3e4989"/><path d="M306.4 555.7l7.7 3.9 4.5-7.9-7.7-2.8z" color="#375a8c"/><path d="M358.4 552.8l7.7 3.8 4.4-5.9-7.7-1.9z" color="#375b8d"/><path d="M472 621.3l5.6 2.3 4.3-4.6-5.6-3.2z" color="#482576"/><path d="M398.1 556.9l7.8 6.7 4.4-8.4-7.8-5z" color="#38588c"/><path d="M265.5 593.2l7.7 3.6 4.4-13.6-7.6-3.6z" color="#424086"/><path d="M282.1 569.9l7.7 4 4.5-12.1-7.7-3.7z" color="#3b518b"/><path d="M378.3 554.1l7.7 5 4.4-7.1-7.7-3z" color="#375a8c"/><path d="M436.7 600.4l7.7 8.8 4.4-8.8-7.7-9.8z" color="#453781"/><path d="M444.4 609.2l7.8 7.6 4.3-7.7-7.7-8.7z" color="#472f7d"/><path d="M294.3 561.8l7.6 4.1 4.5-10.2-7.6-3.4z" color="#39568c"/><path d="M429 590.7l7.7 9.7 4.4-9.8-7.7-10.1z" color="#433e85"/><path d="M326.3 555.1l7.7 4 4.5-7.1-7.7-2.6z" color="#375a8c"/><path d="M405.9 563.6l7.7 8.1 4.4-9.5-7.7-7z" color="#3a538b"/><path d="M421.3 581l7.7 9.7 4.4-10.2-7.7-9.7z" color="#404688"/><path d="M452.2 616.8l7.8 5.7 4.3-6.2-7.8-7.2z" color="#482979"/><path d="M413.6 571.7l7.7 9.3 4.4-10.2-7.7-8.6z" color="#3d4e8a"/><path d="M277.6 583.2l7.7 4.1 4.5-13.4-7.7-4z" color="#3f4889"/><path d="M346.2 555.4l7.7 4.4 4.5-7-7.7-2.7z" color="#375a8c"/><path d="M386 559.1l7.7 6.5 4.4-8.7-7.7-4.9zM314.1 559.6l7.7 4.4 4.5-8.9-7.7-3.4z" color="#38588c"/><path d="M366.1 556.6l7.7 5.2 4.5-7.7-7.8-3.4z" color="#375a8c"/><path d="M273.2 596.8l7.6 4 4.5-13.5-7.7-4.1z" color="#433e85"/><path d="M289.8 573.9l7.7 4.4 4.4-12.4-7.6-4.1z" color="#3c4f8a"/><path d="M301.9 565.9l7.7 4.6 4.5-10.9-7.7-3.9z" color="#3a548c"/><path d="M460 622.5l7.8 3.6 4.2-4.8-7.7-5z" color="#482677"/><path d="M424.6 601l7.7 8.8 4.4-9.4-7.7-9.7z" color="#453882"/><path d="M393.7 565.6l7.8 7.8 4.4-9.8-7.8-6.7z" color="#3a538b"/><path d="M432.3 609.8l7.8 7.7 4.3-8.3-7.7-8.8z" color="#46307e"/><path d="M334 559.1l7.7 4.8 4.5-8.5-7.7-3.4z" color="#38598c"/><path d="M416.9 591.6l7.7 9.4 4.4-10.3-7.7-9.7z" color="#424086"/><path d="M285.3 587.3l7.7 4.5 4.5-13.5-7.7-4.4z" color="#404688"/><path d="M409.2 582.2l7.7 9.4 4.4-10.6-7.7-9.3z" color="#3f4788"/><path d="M401.5 573.4l7.7 8.8 4.4-10.5-7.7-8.1z" color="#3d4e8a"/><path d="M440.1 617.5l7.7 6.1 4.4-6.8-7.8-7.6z" color="#472c7a"/><path d="M353.9 559.8l7.7 5.4 4.5-8.6-7.7-3.8z" color="#38598c"/><path d="M373.8 561.8l7.8 6.5 4.4-9.2-7.7-5zM321.8 564l7.7 5.1 4.5-10-7.7-4z" color="#39568c"/><path d="M297.5 578.3l7.7 4.9 4.4-12.7-7.7-4.6z" color="#3d4d8a"/><path d="M280.8 600.8l7.7 4.2 4.5-13.2-7.7-4.5z" color="#433d84"/><path d="M309.6 570.5l7.7 5.1 4.5-11.6-7.7-4.4z" color="#3b528b"/><path d="M467.8 626.1l5.6 1.2 4.2-3.7-5.6-2.3z" color="#482576"/><path d="M381.6 568.3l7.7 7.6 4.4-10.3-7.7-6.5z" color="#3a538b"/><path d="M447.8 623.6l7.8 4.2 4.4-5.3-7.8-5.7z" color="#482677"/><path d="M341.7 563.9l7.7 5.6 4.5-9.7-7.7-4.4z" color="#39568c"/><path d="M293 591.8l7.7 4.9 4.5-13.5-7.7-4.9z" color="#414487"/><path d="M361.6 565.2l7.8 6.5 4.4-9.9-7.7-5.2z" color="#39558c"/><path d="M412.5 602.3l7.7 8.6 4.4-9.9-7.7-9.4z" color="#443983"/><path d="M389.3 575.9l7.7 8.4 4.5-10.9-7.8-7.8z" color="#3d4e8a"/><path d="M404.8 593.3l7.7 9 4.4-10.7-7.7-9.4z" color="#424086"/><path d="M420.2 610.9l7.8 7.6 4.3-8.7-7.7-8.8z" color="#46327e"/><path d="M397 584.3l7.8 9 4.4-11.1-7.7-8.8z" color="#3f4788"/><path d="M329.5 569.1l7.7 5.7 4.5-10.9-7.7-4.8z" color="#3a538b"/><path d="M305.2 583.2l7.7 5.4 4.4-13-7.7-5.1z" color="#3e4a89"/><path d="M428 618.5l7.7 6.3 4.4-7.3-7.8-7.7z" color="#472c7a"/><path d="M317.3 575.6l7.8 5.6 4.4-12.1-7.7-5.1z" color="#3c508b"/><path d="M288.5 605l7.7 4.5 4.5-12.8-7.7-4.9z" color="#443a83"/><path d="M369.4 571.7l7.7 7.4 4.5-10.8-7.8-6.5z" color="#3b518b"/><path d="M349.4 569.5l7.8 6.5 4.4-10.8-7.7-5.4z" color="#3a538b"/><path d="M300.7 596.7l7.7 5.1 4.5-13.2-7.7-5.4z" color="#424186"/><path d="M377.1 579.1l7.7 8.1 4.5-11.3-7.7-7.6z" color="#3d4d8a"/><path d="M455.6 627.8l7.9 2.1 4.3-3.8-7.8-3.6z" color="#482576"/><path d="M337.2 574.8l7.8 6.4 4.4-11.7-7.7-5.6z" color="#3b518b"/><path d="M435.7 624.8l7.8 4.5 4.3-5.7-7.7-6.1z" color="#482878"/><path d="M384.8 587.2l7.8 8.6 4.4-11.5-7.7-8.4z" color="#3f4788"/><path d="M392.6 595.8l7.7 8.6 4.5-11.1-7.8-9z" color="#424086"/><path d="M312.9 588.6l7.7 5.7 4.5-13.1-7.8-5.6z" color="#3f4788"/><path d="M400.3 604.4l7.8 8.2 4.4-10.3-7.7-9z" color="#443983"/><path d="M357.2 576l7.7 7.2 4.5-11.5-7.8-6.5z" color="#3c508b"/><path d="M325.1 581.2l7.7 6.1 4.4-12.5-7.7-5.7z" color="#3d4d8a"/><path d="M408.1 612.6l7.7 7.4 4.4-9.1-7.7-8.6z" color="#46337f"/><path d="M296.2 609.5l7.7 4.7 4.5-12.4-7.7-5.1z" color="#453882"/><path d="M364.9 583.2l7.8 7.7 4.4-11.8-7.7-7.4z" color="#3e4a89"/><path d="M345 581.2l7.7 6.9 4.5-12.1-7.8-6.5z" color="#3d4d8a"/><path d="M415.8 620l7.8 6.2 4.4-7.7-7.8-7.6z" color="#472d7b"/><path d="M308.4 601.8l7.7 5.4 4.5-12.9-7.7-5.7z" color="#433e85"/><path d="M372.7 590.9l7.7 8.1 4.4-11.8-7.7-8.1z" color="#404588"/><path d="M332.8 587.3l7.7 6.6 4.5-12.7-7.8-6.4z" color="#3f4889"/><path d="M320.6 594.3l7.7 6 4.5-13-7.7-6.1z" color="#414487"/><path d="M380.4 599l7.7 8.2 4.5-11.4-7.8-8.6z" color="#423f85"/><path d="M352.7 588.1l7.8 7.4 4.4-12.3-7.7-7.2z" color="#3f4889"/><path d="M443.5 629.3l7.8 2.7 4.3-4.2-7.8-4.2z" color="#482576"/><path d="M388.1 607.2l7.8 7.7 4.4-10.5-7.7-8.6z" color="#453882"/><path d="M423.6 626.2l7.8 4.7 4.3-6.1-7.7-6.3z" color="#482878"/><path d="M303.9 614.2l7.7 4.8 4.5-11.8-7.7-5.4z" color="#463480"/><path d="M463.5 629.9l5.6 .3 4.3-2.9-5.6-1.2z" color="#482576"/><path d="M340.5 593.9l7.7 6.8 4.5-12.6-7.7-6.9z" color="#414487"/><path d="M395.9 614.9l7.7 7.1 4.5-9.4-7.8-8.2z" color="#46327e"/><path d="M360.5 595.5l7.7 7.6 4.5-12.2-7.8-7.7z" color="#414287"/><path d="M316.1 607.2l7.7 5.6 4.5-12.5-7.7-6z" color="#443a83"/><path d="M328.3 600.3l7.7 6.3 4.5-12.7-7.7-6.6z" color="#423f85"/><path d="M368.2 603.1l7.7 7.5 4.5-11.6-7.7-8.1z" color="#433d84"/><path d="M403.6 622l7.8 6 4.4-8-7.7-7.4z" color="#472d7b"/><path d="M348.2 600.7l7.8 7 4.5-12.2-7.8-7.4z" color="#423f85"/><path d="M375.9 610.6l7.8 7.3 4.4-10.7-7.7-8.2z" color="#453781"/><path d="M336 606.6l7.8 6.3 4.4-12.2-7.7-6.8z" color="#443b84"/><path d="M323.8 612.8l7.7 5.5 4.5-11.7-7.7-6.3z" color="#453781"/><path d="M356 607.7l7.7 6.9 4.5-11.5-7.7-7.6z" color="#443a83"/><path d="M311.6 619l7.7 4.7 4.5-10.9-7.7-5.6zM383.7 617.9l7.7 6.5 4.5-9.5-7.8-7.7z" color="#46327e"/><path d="M431.4 630.9l7.8 3 4.3-4.6-7.8-4.5z" color="#482576"/><path d="M411.4 628l7.8 4.7 4.4-6.5-7.8-6.2z" color="#482979"/><path d="M343.8 612.9l7.7 6.2 4.5-11.4-7.8-7z" color="#453781"/><path d="M363.7 614.6l7.8 6.6 4.4-10.6-7.7-7.5z" color="#463480"/><path d="M451.3 632l7.9 .7 4.3-2.8-7.9-2.1z" color="#482576"/><path d="M391.4 624.4l7.8 5.7 4.4-8.1-7.7-7.1z" color="#472d7b"/><path d="M331.5 618.3l7.8 5.5 4.5-10.9-7.8-6.3z" color="#46337f"/><path d="M371.5 621.2l7.7 6.1 4.5-9.4-7.8-7.3z" color="#472f7d"/><path d="M319.3 623.7l7.8 4.6 4.4-10-7.7-5.5z" color="#472e7c"/><path d="M351.5 619.1l7.8 5.9 4.4-10.4-7.7-6.9z" color="#46327e"/><path d="M419.2 632.7l7.8 3.1 4.4-4.9-7.8-4.7z" color="#482677"/><path d="M399.2 630.1l7.8 4.4 4.4-6.5-7.8-6z" color="#482878"/><path d="M339.3 623.8l7.7 5.1 4.5-9.8-7.7-6.2z" color="#472f7d"/><path d="M379.2 627.3l7.8 5.1 4.4-8-7.7-6.5z" color="#472c7a"/><path d="M439.2 633.9l7.8 1.2 4.3-3.1-7.8-2.7z" color="#482576"/><path d="M359.3 625l7.7 5.3 4.5-9.1-7.8-6.6z" color="#472e7c"/><path d="M327.1 628.3l7.7 4.3 4.5-8.8-7.8-5.5z" color="#472c7a"/><path d="M459.2 632.7l5.7-.5 4.2-2-5.6-.3z" color="#482878"/><path d="M347 628.9l7.8 4.6 4.5-8.5-7.8-5.9z" color="#472c7a"/><path d="M387 632.4l7.8 4.1 4.4-6.4-7.8-5.7z" color="#482878"/><path d="M367 630.3l7.8 4.6 4.4-7.6-7.7-6.1z" color="#472a7a"/><path d="M407 634.5l7.8 3.1 4.4-4.9-7.8-4.7z" color="#482677"/><path d="M427 635.8l7.9 1.4 4.3-3.3-7.8-3z" color="#482576"/><path d="M334.8 632.6l7.7 3.9 4.5-7.6-7.7-5.1zM354.8 633.5l7.8 3.9 4.4-7.1-7.7-5.3z" color="#482979"/><path d="M374.8 634.9l7.8 3.7 4.4-6.2-7.8-5.1z" color="#482878"/><path d="M447 635.1l7.9-.5 4.3-1.9-7.9-.7z" color="#482677"/><path d="M394.8 636.5l7.8 2.9 4.4-4.9-7.8-4.4zM414.8 637.6l7.9 1.5 4.3-3.3-7.8-3.1z" color="#482576"/><path d="M342.5 636.5l7.8 3.3 4.5-6.3-7.8-4.6zM362.6 637.4l7.7 3.1 4.5-5.6-7.8-4.6zM434.9 637.2l7.8-.1 4.3-2-7.8-1.2z" color="#482677"/><path d="M382.6 638.6l7.8 2.5 4.4-4.6-7.8-4.1zM402.6 639.4l7.8 1.5 4.4-3.3-7.8-3.1zM350.3 639.8l7.8 2.5 4.5-4.9-7.8-3.9z" color="#482576"/><path d="M454.9 634.6l5.7-1.2 4.3-1.2-5.7 .5z" color="#472a7a"/><path d="M422.7 639.1l7.8 .1 4.4-2-7.9-1.4z" color="#482677"/><path d="M370.3 640.5l7.8 2.2 4.5-4.1-7.8-3.7zM390.4 641.1l7.8 1.4 4.4-3.1-7.8-2.9z" color="#482576"/><path d="M442.7 637.1l8-1.5 4.2-1-7.9 .5z" color="#472a7a"/><path d="M410.4 640.9l7.9 .2 4.4-2-7.9-1.5z" color="#482677"/><path d="M358.1 642.3l7.8 1.7 4.4-3.5-7.7-3.1zM378.1 642.7l7.8 1.1 4.5-2.7-7.8-2.5z" color="#482576"/><path d="M430.5 639.2l7.9-1.2 4.3-.9-7.8 .1z" color="#482979"/><path d="M398.2 642.5l7.8 .1 4.4-1.7-7.8-1.5z" color="#482677"/><path d="M365.9 644l7.8 .8 4.4-2.1-7.8-2.2z" color="#482576"/><path d="M418.3 641.1l7.9-1 4.3-.9-7.8-.1z" color="#482979"/><path d="M450.7 635.6l5.7-1.8 4.2-.4-5.7 1.2z" color="#472e7c"/><path d="M385.9 643.8l7.9 .1 4.4-1.4-7.8-1.4z" color="#482677"/><path d="M406 642.6l7.9-.9 4.4-.6-7.9-.2z" color="#482979"/><path d="M438.4 638l8-2.2 4.3-.2-8 1.5z" color="#472e7c"/><path d="M373.7 644.8l7.8 0 4.4-1-7.8-1.1z" color="#482878"/><path d="M393.8 643.9l7.9-.9 4.3-.4-7.8-.1z" color="#482979"/><path d="M426.2 640.1l7.9-2 4.3-.1-7.9 1.2zM413.9 641.7l7.9-1.8 4.4 .2-7.9 1z" color="#472d7b"/><path d="M446.4 635.8l5.7-2.1 4.3 .1-5.7 1.8z" color="#46327e"/><path d="M381.5 644.8l7.9-.9 4.4 0-7.9-.1z" color="#472a7a"/><path d="M401.7 643l7.9-1.6 4.3 .3-7.9 .9z" color="#472d7b"/><path d="M434.1 638.1l8-2.7 4.3 .4-8 2.2z" color="#46327e"/><path d="M389.4 643.9l7.9-1.5 4.4 .6-7.9 .9z" color="#472e7c"/><path d="M421.8 639.9l8-2.4 4.3 .6-7.9 2zM409.6 641.4l7.9-2.2 4.3 .7-7.9 1.8z" color="#46327e"/><path d="M442.1 635.4l5.7-2 4.3 .3-5.7 2.1z" color="#453781"/><path d="M397.3 642.4l7.9-2 4.4 1-7.9 1.6z" color="#46337f"/><path d="M429.8 637.5l8-2.6 4.3 .5-8 2.7zM417.5 639.2l7.9-2.4 4.4 .7-8 2.4zM405.2 640.4l7.9-2.2 4.4 1-7.9 2.2z" color="#453882"/><path d="M437.8 634.9l5.7-1.9 4.3 .4-5.7 2zM425.4 636.8l8-2.4 4.4 .5-8 2.6zM413.1 638.2l8-2.1 4.3 .7-7.9 2.4z" color="#433d84"/><path d="M433.4 634.4l5.7-1.4 4.4 0-5.7 1.9z" color="#424186"/><path d="M421.1 636.1l8-1.7 4.3 0-8 2.4z" color="#414287"/><path d="M429.1 634.4l5.7-.7 4.3-.7-5.7 1.4z" color="#404688"/></g>
<use href="#axl"/>
</g>
<g id="labels">
<text x="687.45" y="456.99" font-size="34.40" textLength="78.1" lengthAdjust="spacing">0.000</text>
<text x="1587.80" y="456.99" font-size="34.40" textLength="78.1" lengthAdjust="spacing">0.000</text>
<text x="690.85" y="375.09" font-size="34.40" textLength="78.1" lengthAdjust="spacing">0.002</text>
<text x="1591.20" y="375.09" font-size="34.40" textLength="78.1" lengthAdjust="spacing">0.002</text>
<text x="694.75" y="291.39" font-size="34.40" textLength="76.7" lengthAdjust="spacing">0.004</text>
<text x="1595.10" y="291.39" font-size="34.40" textLength="76.7" lengthAdjust="spacing">0.004</text>
<text x="698.35" y="205.54" font-size="34.40" textLength="76.9" lengthAdjust="spacing">0.006</text>
<text x="1598.70" y="205.54" font-size="34.40" textLength="76.9" lengthAdjust="spacing">0.006</text>
<text x="11.34" y="638.24" font-size="34.40" textLength="44.2" lengthAdjust="spacing">0.0</text>
<text x="911.69" y="638.24" font-size="34.40" textLength="44.2" lengthAdjust="spacing">0.0</text>
<text x="189.37" y="700.39" font-size="34.40" textLength="44.1" lengthAdjust="spacing">0.5</text>
<text x="1089.72" y="700.39" font-size="34.40" textLength="44.1" lengthAdjust="spacing">0.5</text>
<text x="382.74" y="760.29" font-size="34.40" textLength="44.2" lengthAdjust="spacing">1.0</text>
<text x="1283.09" y="760.29" font-size="34.40" textLength="44.2" lengthAdjust="spacing">1.0</text>
<text x="465.44" y="746.74" font-size="34.40" textLength="44.4" lengthAdjust="spacing">0.0</text>
<text x="1365.79" y="746.74" font-size="34.40" textLength="44.4" lengthAdjust="spacing">0.0</text>
<text x="565.77" y="638.19" font-size="34.40" textLength="43.8" lengthAdjust="spacing">0.5</text>
<text x="1466.12" y="638.19" font-size="34.40" textLength="43.8" lengthAdjust="spacing">0.5</text>
<text x="660.05" y="537.64" font-size="34.40" textLength="44.3" lengthAdjust="spacing">1.0</text>
<text x="1560.40" y="537.64" font-size="34.40" textLength="44.3" lengthAdjust="spacing">1.0</text>
<text x="180.09" y="753.99" font-size="35.01" textLength="17.2" lengthAdjust="spacingAndGlyphs"><tspan style="font-style:italic">x</tspan></text>
<text x="1080.44" y="753.99" font-size="35.01" textLength="17.2" lengthAdjust="spacingAndGlyphs"><tspan style="font-style:italic">x</tspan></text>
<text x="638.01" y="677.36" font-size="31.50"><tspan style="font-style:italic">y</tspan></text>
<text x="1538.36" y="677.36" font-size="31.50"><tspan style="font-style:italic">y</tspan></text>
<text x="818.66" y="368.99" font-size="36.70" textLength="94.7" lengthAdjust="spacing" transform="rotate(-90 818.66 368.99)"><tspan style="font-style:italic">f</tspan>(<tspan style="font-style:italic">x</tspan>,<tspan style="font-style:italic">y</tspan>)</text>
<text x="1719.01" y="368.99" font-size="36.70" textLength="94.7" lengthAdjust="spacing" transform="rotate(-90 1719.01 368.99)"><tspan style="font-style:italic">f</tspan>(<tspan style="font-style:italic">x</tspan>,<tspan style="font-style:italic">y</tspan>)</text>
<text x="376.08" y="953.70" font-size="34.40" textLength="101.7" lengthAdjust="spacing">−0.001</text>
<text x="522.35" y="953.70" font-size="34.40" textLength="77.3" lengthAdjust="spacing">0.000</text>
<text x="646.49" y="953.70" font-size="34.40" textLength="78.0" lengthAdjust="spacing">0.001</text>
<text x="770.57" y="953.70" font-size="34.40" textLength="77.9" lengthAdjust="spacing">0.002</text>
<text x="894.73" y="953.70" font-size="34.40" textLength="77.3" lengthAdjust="spacing">0.003</text>
<text x="1018.84" y="953.70" font-size="34.40" textLength="76.5" lengthAdjust="spacing">0.004</text>
<text x="1142.97" y="953.70" font-size="34.40" textLength="77.3" lengthAdjust="spacing">0.005</text>
<text x="7.41" y="24.60" font-size="34.50" textLength="45.1" lengthAdjust="spacing"><tspan style="font-weight:bold">(a)</tspan></text>
<text x="65.56" y="24.60" font-size="34.00" textLength="533.5" lengthAdjust="spacingAndGlyphs">Exact two-dimensional sinc function</text>
<text x="885.46" y="24.60" font-size="34.50" textLength="48.5" lengthAdjust="spacing"><tspan style="font-weight:bold">(b)</tspan></text>
<text x="945.75" y="24.60" font-size="34.00" textLength="698.7" lengthAdjust="spacingAndGlyphs">Simulation of the two-dimensional FSL method</text>
</g>
<path d="M65.6 29.5H599.1M946.9 29.5H1645.5" stroke="#000" stroke-width="1.3" fill="none"/>
<defs><linearGradient id="vir" x1="0" x2="1" y1="0" y2="0"><stop offset="0.0000" stop-color="#440154"/><stop offset="0.0312" stop-color="#470d60"/><stop offset="0.0625" stop-color="#48186a"/><stop offset="0.0938" stop-color="#482374"/><stop offset="0.1250" stop-color="#472d7b"/><stop offset="0.1562" stop-color="#453781"/><stop offset="0.1875" stop-color="#424086"/><stop offset="0.2188" stop-color="#3e4989"/><stop offset="0.2500" stop-color="#3b528b"/><stop offset="0.2812" stop-color="#375b8d"/><stop offset="0.3125" stop-color="#33638d"/><stop offset="0.3438" stop-color="#2f6b8e"/><stop offset="0.3750" stop-color="#2c728e"/><stop offset="0.4062" stop-color="#297a8e"/><stop offset="0.4375" stop-color="#26828e"/><stop offset="0.4688" stop-color="#23898e"/><stop offset="0.5000" stop-color="#21918c"/><stop offset="0.5312" stop-color="#1f988b"/><stop offset="0.5625" stop-color="#1fa088"/><stop offset="0.5938" stop-color="#22a785"/><stop offset="0.6250" stop-color="#28ae80"/><stop offset="0.6562" stop-color="#32b67a"/><stop offset="0.6875" stop-color="#3fbc73"/><stop offset="0.7188" stop-color="#4ec36b"/><stop offset="0.7500" stop-color="#5ec962"/><stop offset="0.7812" stop-color="#70cf57"/><stop offset="0.8125" stop-color="#84d44b"/><stop offset="0.8438" stop-color="#98d83e"/><stop offset="0.8750" stop-color="#addc30"/><stop offset="0.9062" stop-color="#c2df23"/><stop offset="0.9375" stop-color="#d8e219"/><stop offset="0.9688" stop-color="#ece51b"/><stop offset="1.0000" stop-color="#fde725"/></linearGradient></defs>
<rect x="420.85" y="858.95" width="821.25" height="40.80" fill="url(#vir)" stroke="#000" stroke-width="1.7"/>
<path d="M442.98 900.60v7.9M567.10 900.60v7.9M691.22 900.60v7.9M815.34 900.60v7.9M939.46 900.60v7.9M1063.58 900.60v7.9M1187.70 900.60v7.9" stroke="#000" stroke-width="1.7" fill="none"/>
</svg>
</body></html>
